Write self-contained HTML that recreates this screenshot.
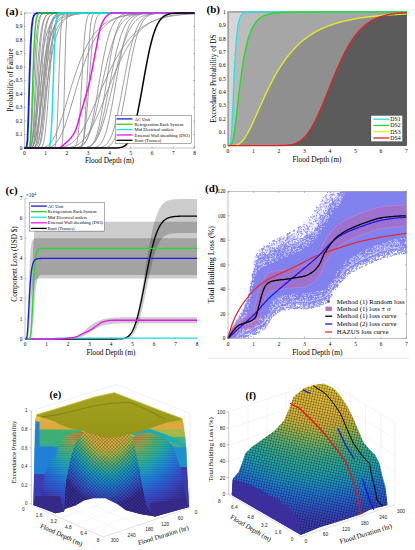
<!DOCTYPE html>
<html><head><meta charset="utf-8"><style>
html,body{margin:0;padding:0;background:#fff;overflow:hidden;width:415px;height:550px;}
svg{display:block;}
</style></head><body>
<svg width="415" height="550" viewBox="0 0 415 550">
<rect width="415" height="550" fill="#fff"/>
<rect x='24.3' y='13.0' width='170.4' height='135' fill='#fff' stroke='#9a9a9a' stroke-width='0.6'/>
<line x1='24.3' y1='148.0' x2='24.3' y2='146.4' stroke='#777' stroke-width='0.5'/>
<line x1='24.3' y1='13.0' x2='24.3' y2='14.6' stroke='#777' stroke-width='0.5'/>
<text x='24.3' y='155' font-size='5.3' text-anchor='middle' font-family='Liberation Serif' fill='#000' >0</text>
<line x1='45.6' y1='148.0' x2='45.6' y2='146.4' stroke='#777' stroke-width='0.5'/>
<line x1='45.6' y1='13.0' x2='45.6' y2='14.6' stroke='#777' stroke-width='0.5'/>
<text x='45.6' y='155' font-size='5.3' text-anchor='middle' font-family='Liberation Serif' fill='#000' >1</text>
<line x1='66.9' y1='148.0' x2='66.9' y2='146.4' stroke='#777' stroke-width='0.5'/>
<line x1='66.9' y1='13.0' x2='66.9' y2='14.6' stroke='#777' stroke-width='0.5'/>
<text x='66.9' y='155' font-size='5.3' text-anchor='middle' font-family='Liberation Serif' fill='#000' >2</text>
<line x1='88.2' y1='148.0' x2='88.2' y2='146.4' stroke='#777' stroke-width='0.5'/>
<line x1='88.2' y1='13.0' x2='88.2' y2='14.6' stroke='#777' stroke-width='0.5'/>
<text x='88.2' y='155' font-size='5.3' text-anchor='middle' font-family='Liberation Serif' fill='#000' >3</text>
<line x1='109.5' y1='148.0' x2='109.5' y2='146.4' stroke='#777' stroke-width='0.5'/>
<line x1='109.5' y1='13.0' x2='109.5' y2='14.6' stroke='#777' stroke-width='0.5'/>
<text x='109.5' y='155' font-size='5.3' text-anchor='middle' font-family='Liberation Serif' fill='#000' >4</text>
<line x1='130.8' y1='148.0' x2='130.8' y2='146.4' stroke='#777' stroke-width='0.5'/>
<line x1='130.8' y1='13.0' x2='130.8' y2='14.6' stroke='#777' stroke-width='0.5'/>
<text x='130.8' y='155' font-size='5.3' text-anchor='middle' font-family='Liberation Serif' fill='#000' >5</text>
<line x1='152.1' y1='148.0' x2='152.1' y2='146.4' stroke='#777' stroke-width='0.5'/>
<line x1='152.1' y1='13.0' x2='152.1' y2='14.6' stroke='#777' stroke-width='0.5'/>
<text x='152.1' y='155' font-size='5.3' text-anchor='middle' font-family='Liberation Serif' fill='#000' >6</text>
<line x1='173.4' y1='148.0' x2='173.4' y2='146.4' stroke='#777' stroke-width='0.5'/>
<line x1='173.4' y1='13.0' x2='173.4' y2='14.6' stroke='#777' stroke-width='0.5'/>
<text x='173.4' y='155' font-size='5.3' text-anchor='middle' font-family='Liberation Serif' fill='#000' >7</text>
<line x1='194.7' y1='148.0' x2='194.7' y2='146.4' stroke='#777' stroke-width='0.5'/>
<line x1='194.7' y1='13.0' x2='194.7' y2='14.6' stroke='#777' stroke-width='0.5'/>
<text x='194.7' y='155' font-size='5.3' text-anchor='middle' font-family='Liberation Serif' fill='#000' >8</text>
<line x1='24.3' y1='148' x2='25.900000000000002' y2='148' stroke='#777' stroke-width='0.5'/>
<line x1='194.7' y1='148' x2='193.1' y2='148' stroke='#777' stroke-width='0.5'/>
<text x='22.3' y='149.8' font-size='5.3' text-anchor='end' font-family='Liberation Serif' fill='#000' >0</text>
<line x1='24.3' y1='134.5' x2='25.900000000000002' y2='134.5' stroke='#777' stroke-width='0.5'/>
<line x1='194.7' y1='134.5' x2='193.1' y2='134.5' stroke='#777' stroke-width='0.5'/>
<text x='22.3' y='136.3' font-size='5.3' text-anchor='end' font-family='Liberation Serif' fill='#000' >0.1</text>
<line x1='24.3' y1='121' x2='25.900000000000002' y2='121' stroke='#777' stroke-width='0.5'/>
<line x1='194.7' y1='121' x2='193.1' y2='121' stroke='#777' stroke-width='0.5'/>
<text x='22.3' y='122.8' font-size='5.3' text-anchor='end' font-family='Liberation Serif' fill='#000' >0.2</text>
<line x1='24.3' y1='107.5' x2='25.900000000000002' y2='107.5' stroke='#777' stroke-width='0.5'/>
<line x1='194.7' y1='107.5' x2='193.1' y2='107.5' stroke='#777' stroke-width='0.5'/>
<text x='22.3' y='109.3' font-size='5.3' text-anchor='end' font-family='Liberation Serif' fill='#000' >0.3</text>
<line x1='24.3' y1='94' x2='25.900000000000002' y2='94' stroke='#777' stroke-width='0.5'/>
<line x1='194.7' y1='94' x2='193.1' y2='94' stroke='#777' stroke-width='0.5'/>
<text x='22.3' y='95.8' font-size='5.3' text-anchor='end' font-family='Liberation Serif' fill='#000' >0.4</text>
<line x1='24.3' y1='80.5' x2='25.900000000000002' y2='80.5' stroke='#777' stroke-width='0.5'/>
<line x1='194.7' y1='80.5' x2='193.1' y2='80.5' stroke='#777' stroke-width='0.5'/>
<text x='22.3' y='82.3' font-size='5.3' text-anchor='end' font-family='Liberation Serif' fill='#000' >0.5</text>
<line x1='24.3' y1='67' x2='25.900000000000002' y2='67' stroke='#777' stroke-width='0.5'/>
<line x1='194.7' y1='67' x2='193.1' y2='67' stroke='#777' stroke-width='0.5'/>
<text x='22.3' y='68.8' font-size='5.3' text-anchor='end' font-family='Liberation Serif' fill='#000' >0.6</text>
<line x1='24.3' y1='53.5' x2='25.900000000000002' y2='53.5' stroke='#777' stroke-width='0.5'/>
<line x1='194.7' y1='53.5' x2='193.1' y2='53.5' stroke='#777' stroke-width='0.5'/>
<text x='22.3' y='55.3' font-size='5.3' text-anchor='end' font-family='Liberation Serif' fill='#000' >0.7</text>
<line x1='24.3' y1='40' x2='25.900000000000002' y2='40' stroke='#777' stroke-width='0.5'/>
<line x1='194.7' y1='40' x2='193.1' y2='40' stroke='#777' stroke-width='0.5'/>
<text x='22.3' y='41.8' font-size='5.3' text-anchor='end' font-family='Liberation Serif' fill='#000' >0.8</text>
<line x1='24.3' y1='26.5' x2='25.900000000000002' y2='26.5' stroke='#777' stroke-width='0.5'/>
<line x1='194.7' y1='26.5' x2='193.1' y2='26.5' stroke='#777' stroke-width='0.5'/>
<text x='22.3' y='28.3' font-size='5.3' text-anchor='end' font-family='Liberation Serif' fill='#000' >0.9</text>
<line x1='24.3' y1='13' x2='25.900000000000002' y2='13' stroke='#777' stroke-width='0.5'/>
<line x1='194.7' y1='13' x2='193.1' y2='13' stroke='#777' stroke-width='0.5'/>
<text x='22.3' y='14.8' font-size='5.3' text-anchor='end' font-family='Liberation Serif' fill='#000' >1</text>
<polyline points='24.3,148 25.37,148 26.43,148 27.5,148 28.56,147.92 29.62,146.74 30.69,140.92 31.75,126.75 32.82,104.97 33.88,80.5 34.95,58.46 36.02,41.5 37.08,29.86 38.14,22.54 39.21,18.21 40.27,15.77 41.34,14.44 42.41,13.74 43.47,13.38 44.53,13.19 45.6,13.09 46.66,13.05 47.73,13.02 48.79,13.01 49.86,13.01 50.92,13 51.99,13 53.05,13 54.12,13 55.18,13 56.25,13 57.31,13 58.38,13 59.44,13 60.51,13 61.57,13 62.64,13 63.7,13 64.77,13 65.83,13 66.9,13 67.96,13 69.03,13 70.09,13 71.16,13 72.22,13 73.29,13 74.35,13 75.42,13 76.48,13 77.55,13 78.61,13 79.68,13 80.74,13 81.81,13 82.87,13 83.94,13 85,13 86.07,13 87.13,13 88.2,13 89.26,13 90.33,13 91.39,13 92.46,13 93.52,13 94.59,13 95.65,13 96.72,13 97.78,13 98.85,13 99.91,13 100.98,13 102.04,13 103.11,13 104.17,13 105.24,13 106.3,13 107.37,13 108.43,13 109.5,13 110.56,13 111.63,13 112.69,13 113.76,13 114.82,13 115.89,13 116.95,13 118.02,13 119.08,13 120.15,13 121.21,13 122.28,13 123.34,13 124.41,13 125.47,13 126.54,13 127.6,13 128.67,13 129.73,13 130.8,13 131.86,13 132.93,13 134,13 135.06,13 136.12,13 137.19,13 138.25,13 139.32,13 140.38,13 141.45,13 142.51,13 143.58,13 144.64,13 145.71,13 146.77,13 147.84,13 148.9,13 149.97,13 151.03,13 152.1,13 153.16,13 154.23,13 155.29,13 156.36,13 157.42,13 158.49,13 159.55,13 160.62,13 161.69,13 162.75,13 163.81,13 164.88,13 165.94,13 167.01,13 168.07,13 169.14,13 170.2,13 171.27,13 172.34,13 173.4,13 174.46,13 175.53,13 176.59,13 177.66,13 178.72,13 179.79,13 180.85,13 181.92,13 182.98,13 184.05,13 185.11,13 186.18,13 187.25,13 188.31,13 189.38,13 190.44,13 191.5,13 192.57,13 193.63,13 194.7,13' fill='none' stroke='#8e8e8e' stroke-width='0.85' stroke-linejoin='round'/>
<polyline points='24.3,148 25.37,148 26.43,148 27.5,148 28.56,148 29.62,147.98 30.69,147.6 31.75,144.78 32.82,135.2 33.88,116.29 34.95,90.99 36.02,65.59 37.08,45.02 38.14,30.86 39.21,22.26 40.27,17.53 41.34,15.11 42.41,13.95 43.47,13.41 44.53,13.17 45.6,13.07 46.66,13.03 47.73,13.01 48.79,13 49.86,13 50.92,13 51.99,13 53.05,13 54.12,13 55.18,13 56.25,13 57.31,13 58.38,13 59.44,13 60.51,13 61.57,13 62.64,13 63.7,13 64.77,13 65.83,13 66.9,13 67.96,13 69.03,13 70.09,13 71.16,13 72.22,13 73.29,13 74.35,13 75.42,13 76.48,13 77.55,13 78.61,13 79.68,13 80.74,13 81.81,13 82.87,13 83.94,13 85,13 86.07,13 87.13,13 88.2,13 89.26,13 90.33,13 91.39,13 92.46,13 93.52,13 94.59,13 95.65,13 96.72,13 97.78,13 98.85,13 99.91,13 100.98,13 102.04,13 103.11,13 104.17,13 105.24,13 106.3,13 107.37,13 108.43,13 109.5,13 110.56,13 111.63,13 112.69,13 113.76,13 114.82,13 115.89,13 116.95,13 118.02,13 119.08,13 120.15,13 121.21,13 122.28,13 123.34,13 124.41,13 125.47,13 126.54,13 127.6,13 128.67,13 129.73,13 130.8,13 131.86,13 132.93,13 134,13 135.06,13 136.12,13 137.19,13 138.25,13 139.32,13 140.38,13 141.45,13 142.51,13 143.58,13 144.64,13 145.71,13 146.77,13 147.84,13 148.9,13 149.97,13 151.03,13 152.1,13 153.16,13 154.23,13 155.29,13 156.36,13 157.42,13 158.49,13 159.55,13 160.62,13 161.69,13 162.75,13 163.81,13 164.88,13 165.94,13 167.01,13 168.07,13 169.14,13 170.2,13 171.27,13 172.34,13 173.4,13 174.46,13 175.53,13 176.59,13 177.66,13 178.72,13 179.79,13 180.85,13 181.92,13 182.98,13 184.05,13 185.11,13 186.18,13 187.25,13 188.31,13 189.38,13 190.44,13 191.5,13 192.57,13 193.63,13 194.7,13' fill='none' stroke='#8e8e8e' stroke-width='0.85' stroke-linejoin='round'/>
<polyline points='24.3,148 25.37,148 26.43,148 27.5,148 28.56,147.99 29.62,147.82 30.69,146.75 31.75,143.19 32.82,135.55 33.88,123.38 34.95,107.77 36.02,90.65 37.08,74 38.14,59.17 39.21,46.87 40.27,37.21 41.34,29.93 42.41,24.63 43.47,20.87 44.53,18.27 45.6,16.49 46.66,15.3 47.73,14.5 48.79,13.98 49.86,13.64 50.92,13.41 51.99,13.27 53.05,13.17 54.12,13.11 55.18,13.07 56.25,13.05 57.31,13.03 58.38,13.02 59.44,13.01 60.51,13.01 61.57,13.01 62.64,13 63.7,13 64.77,13 65.83,13 66.9,13 67.96,13 69.03,13 70.09,13 71.16,13 72.22,13 73.29,13 74.35,13 75.42,13 76.48,13 77.55,13 78.61,13 79.68,13 80.74,13 81.81,13 82.87,13 83.94,13 85,13 86.07,13 87.13,13 88.2,13 89.26,13 90.33,13 91.39,13 92.46,13 93.52,13 94.59,13 95.65,13 96.72,13 97.78,13 98.85,13 99.91,13 100.98,13 102.04,13 103.11,13 104.17,13 105.24,13 106.3,13 107.37,13 108.43,13 109.5,13 110.56,13 111.63,13 112.69,13 113.76,13 114.82,13 115.89,13 116.95,13 118.02,13 119.08,13 120.15,13 121.21,13 122.28,13 123.34,13 124.41,13 125.47,13 126.54,13 127.6,13 128.67,13 129.73,13 130.8,13 131.86,13 132.93,13 134,13 135.06,13 136.12,13 137.19,13 138.25,13 139.32,13 140.38,13 141.45,13 142.51,13 143.58,13 144.64,13 145.71,13 146.77,13 147.84,13 148.9,13 149.97,13 151.03,13 152.1,13 153.16,13 154.23,13 155.29,13 156.36,13 157.42,13 158.49,13 159.55,13 160.62,13 161.69,13 162.75,13 163.81,13 164.88,13 165.94,13 167.01,13 168.07,13 169.14,13 170.2,13 171.27,13 172.34,13 173.4,13 174.46,13 175.53,13 176.59,13 177.66,13 178.72,13 179.79,13 180.85,13 181.92,13 182.98,13 184.05,13 185.11,13 186.18,13 187.25,13 188.31,13 189.38,13 190.44,13 191.5,13 192.57,13 193.63,13 194.7,13' fill='none' stroke='#8e8e8e' stroke-width='0.85' stroke-linejoin='round'/>
<polyline points='24.3,148 25.37,148 26.43,148 27.5,148 28.56,148 29.62,148 30.69,147.97 31.75,147.67 32.82,146.16 33.88,141.61 34.95,132.27 36.02,117.78 37.08,99.67 38.14,80.5 39.21,62.7 40.27,47.79 41.34,36.31 42.41,28.03 43.47,22.39 44.53,18.71 45.6,16.39 46.66,14.98 47.73,14.13 48.79,13.64 49.86,13.36 50.92,13.2 51.99,13.11 53.05,13.06 54.12,13.03 55.18,13.02 56.25,13.01 57.31,13.01 58.38,13 59.44,13 60.51,13 61.57,13 62.64,13 63.7,13 64.77,13 65.83,13 66.9,13 67.96,13 69.03,13 70.09,13 71.16,13 72.22,13 73.29,13 74.35,13 75.42,13 76.48,13 77.55,13 78.61,13 79.68,13 80.74,13 81.81,13 82.87,13 83.94,13 85,13 86.07,13 87.13,13 88.2,13 89.26,13 90.33,13 91.39,13 92.46,13 93.52,13 94.59,13 95.65,13 96.72,13 97.78,13 98.85,13 99.91,13 100.98,13 102.04,13 103.11,13 104.17,13 105.24,13 106.3,13 107.37,13 108.43,13 109.5,13 110.56,13 111.63,13 112.69,13 113.76,13 114.82,13 115.89,13 116.95,13 118.02,13 119.08,13 120.15,13 121.21,13 122.28,13 123.34,13 124.41,13 125.47,13 126.54,13 127.6,13 128.67,13 129.73,13 130.8,13 131.86,13 132.93,13 134,13 135.06,13 136.12,13 137.19,13 138.25,13 139.32,13 140.38,13 141.45,13 142.51,13 143.58,13 144.64,13 145.71,13 146.77,13 147.84,13 148.9,13 149.97,13 151.03,13 152.1,13 153.16,13 154.23,13 155.29,13 156.36,13 157.42,13 158.49,13 159.55,13 160.62,13 161.69,13 162.75,13 163.81,13 164.88,13 165.94,13 167.01,13 168.07,13 169.14,13 170.2,13 171.27,13 172.34,13 173.4,13 174.46,13 175.53,13 176.59,13 177.66,13 178.72,13 179.79,13 180.85,13 181.92,13 182.98,13 184.05,13 185.11,13 186.18,13 187.25,13 188.31,13 189.38,13 190.44,13 191.5,13 192.57,13 193.63,13 194.7,13' fill='none' stroke='#8e8e8e' stroke-width='0.85' stroke-linejoin='round'/>
<polyline points='24.3,148 25.37,148 26.43,148 27.5,148 28.56,148 29.62,148 30.69,147.97 31.75,147.74 32.82,146.74 33.88,143.94 34.95,138.23 36.02,129.01 37.08,116.56 38.14,101.93 39.21,86.56 40.27,71.74 41.34,58.46 42.41,47.2 43.47,38.12 44.53,31.06 45.6,25.75 46.66,21.86 47.73,19.08 48.79,17.12 49.86,15.77 50.92,14.85 51.99,14.22 53.05,13.8 54.12,13.53 55.18,13.34 56.25,13.22 57.31,13.15 58.38,13.09 59.44,13.06 60.51,13.04 61.57,13.03 62.64,13.02 63.7,13.01 64.77,13.01 65.83,13 66.9,13 67.96,13 69.03,13 70.09,13 71.16,13 72.22,13 73.29,13 74.35,13 75.42,13 76.48,13 77.55,13 78.61,13 79.68,13 80.74,13 81.81,13 82.87,13 83.94,13 85,13 86.07,13 87.13,13 88.2,13 89.26,13 90.33,13 91.39,13 92.46,13 93.52,13 94.59,13 95.65,13 96.72,13 97.78,13 98.85,13 99.91,13 100.98,13 102.04,13 103.11,13 104.17,13 105.24,13 106.3,13 107.37,13 108.43,13 109.5,13 110.56,13 111.63,13 112.69,13 113.76,13 114.82,13 115.89,13 116.95,13 118.02,13 119.08,13 120.15,13 121.21,13 122.28,13 123.34,13 124.41,13 125.47,13 126.54,13 127.6,13 128.67,13 129.73,13 130.8,13 131.86,13 132.93,13 134,13 135.06,13 136.12,13 137.19,13 138.25,13 139.32,13 140.38,13 141.45,13 142.51,13 143.58,13 144.64,13 145.71,13 146.77,13 147.84,13 148.9,13 149.97,13 151.03,13 152.1,13 153.16,13 154.23,13 155.29,13 156.36,13 157.42,13 158.49,13 159.55,13 160.62,13 161.69,13 162.75,13 163.81,13 164.88,13 165.94,13 167.01,13 168.07,13 169.14,13 170.2,13 171.27,13 172.34,13 173.4,13 174.46,13 175.53,13 176.59,13 177.66,13 178.72,13 179.79,13 180.85,13 181.92,13 182.98,13 184.05,13 185.11,13 186.18,13 187.25,13 188.31,13 189.38,13 190.44,13 191.5,13 192.57,13 193.63,13 194.7,13' fill='none' stroke='#8e8e8e' stroke-width='0.85' stroke-linejoin='round'/>
<polyline points='24.3,148 25.37,148 26.43,148 27.5,148 28.56,148 29.62,148 30.69,148 31.75,148 32.82,147.96 33.88,147.73 34.95,146.73 36.02,143.88 37.08,137.85 38.14,127.81 39.21,113.96 40.27,97.58 41.34,80.5 42.41,64.42 43.47,50.52 44.53,39.34 45.6,30.86 46.66,24.74 47.73,20.51 48.79,17.7 49.86,15.88 50.92,14.73 51.99,14.03 53.05,13.6 54.12,13.35 55.18,13.2 56.25,13.11 57.31,13.06 58.38,13.04 59.44,13.02 60.51,13.01 61.57,13.01 62.64,13 63.7,13 64.77,13 65.83,13 66.9,13 67.96,13 69.03,13 70.09,13 71.16,13 72.22,13 73.29,13 74.35,13 75.42,13 76.48,13 77.55,13 78.61,13 79.68,13 80.74,13 81.81,13 82.87,13 83.94,13 85,13 86.07,13 87.13,13 88.2,13 89.26,13 90.33,13 91.39,13 92.46,13 93.52,13 94.59,13 95.65,13 96.72,13 97.78,13 98.85,13 99.91,13 100.98,13 102.04,13 103.11,13 104.17,13 105.24,13 106.3,13 107.37,13 108.43,13 109.5,13 110.56,13 111.63,13 112.69,13 113.76,13 114.82,13 115.89,13 116.95,13 118.02,13 119.08,13 120.15,13 121.21,13 122.28,13 123.34,13 124.41,13 125.47,13 126.54,13 127.6,13 128.67,13 129.73,13 130.8,13 131.86,13 132.93,13 134,13 135.06,13 136.12,13 137.19,13 138.25,13 139.32,13 140.38,13 141.45,13 142.51,13 143.58,13 144.64,13 145.71,13 146.77,13 147.84,13 148.9,13 149.97,13 151.03,13 152.1,13 153.16,13 154.23,13 155.29,13 156.36,13 157.42,13 158.49,13 159.55,13 160.62,13 161.69,13 162.75,13 163.81,13 164.88,13 165.94,13 167.01,13 168.07,13 169.14,13 170.2,13 171.27,13 172.34,13 173.4,13 174.46,13 175.53,13 176.59,13 177.66,13 178.72,13 179.79,13 180.85,13 181.92,13 182.98,13 184.05,13 185.11,13 186.18,13 187.25,13 188.31,13 189.38,13 190.44,13 191.5,13 192.57,13 193.63,13 194.7,13' fill='none' stroke='#8e8e8e' stroke-width='0.85' stroke-linejoin='round'/>
<polyline points='24.3,148 25.37,148 26.43,148 27.5,148 28.56,148 29.62,148 30.69,148 31.75,147.99 32.82,147.93 33.88,147.65 34.95,146.75 36.02,144.61 37.08,140.54 38.14,134.04 39.21,125.03 40.27,113.89 41.34,101.34 42.41,88.26 43.47,75.46 44.53,63.61 45.6,53.11 46.66,44.17 47.73,36.79 48.79,30.88 49.86,26.25 50.92,22.7 51.99,20.02 53.05,18.03 54.12,16.58 55.18,15.53 56.25,14.77 57.31,14.24 58.38,13.86 59.44,13.59 60.51,13.41 61.57,13.28 62.64,13.19 63.7,13.13 64.77,13.09 65.83,13.06 66.9,13.04 67.96,13.03 69.03,13.02 70.09,13.01 71.16,13.01 72.22,13.01 73.29,13 74.35,13 75.42,13 76.48,13 77.55,13 78.61,13 79.68,13 80.74,13 81.81,13 82.87,13 83.94,13 85,13 86.07,13 87.13,13 88.2,13 89.26,13 90.33,13 91.39,13 92.46,13 93.52,13 94.59,13 95.65,13 96.72,13 97.78,13 98.85,13 99.91,13 100.98,13 102.04,13 103.11,13 104.17,13 105.24,13 106.3,13 107.37,13 108.43,13 109.5,13 110.56,13 111.63,13 112.69,13 113.76,13 114.82,13 115.89,13 116.95,13 118.02,13 119.08,13 120.15,13 121.21,13 122.28,13 123.34,13 124.41,13 125.47,13 126.54,13 127.6,13 128.67,13 129.73,13 130.8,13 131.86,13 132.93,13 134,13 135.06,13 136.12,13 137.19,13 138.25,13 139.32,13 140.38,13 141.45,13 142.51,13 143.58,13 144.64,13 145.71,13 146.77,13 147.84,13 148.9,13 149.97,13 151.03,13 152.1,13 153.16,13 154.23,13 155.29,13 156.36,13 157.42,13 158.49,13 159.55,13 160.62,13 161.69,13 162.75,13 163.81,13 164.88,13 165.94,13 167.01,13 168.07,13 169.14,13 170.2,13 171.27,13 172.34,13 173.4,13 174.46,13 175.53,13 176.59,13 177.66,13 178.72,13 179.79,13 180.85,13 181.92,13 182.98,13 184.05,13 185.11,13 186.18,13 187.25,13 188.31,13 189.38,13 190.44,13 191.5,13 192.57,13 193.63,13 194.7,13' fill='none' stroke='#8e8e8e' stroke-width='0.85' stroke-linejoin='round'/>
<polyline points='24.3,148 25.37,148 26.43,148 27.5,148 28.56,148 29.62,148 30.69,148 31.75,148 32.82,148 33.88,147.99 34.95,147.91 36.02,147.58 37.08,146.54 38.14,144.1 39.21,139.44 40.27,131.99 41.34,121.66 42.41,108.98 43.47,94.88 44.53,80.5 45.6,66.84 46.66,54.63 47.73,44.29 48.79,35.91 49.86,29.39 50.92,24.48 51.99,20.88 53.05,18.33 54.12,16.55 55.18,15.33 56.25,14.51 57.31,13.97 58.38,13.62 59.44,13.39 60.51,13.24 61.57,13.15 62.64,13.09 63.7,13.06 64.77,13.04 65.83,13.02 66.9,13.01 67.96,13.01 69.03,13 70.09,13 71.16,13 72.22,13 73.29,13 74.35,13 75.42,13 76.48,13 77.55,13 78.61,13 79.68,13 80.74,13 81.81,13 82.87,13 83.94,13 85,13 86.07,13 87.13,13 88.2,13 89.26,13 90.33,13 91.39,13 92.46,13 93.52,13 94.59,13 95.65,13 96.72,13 97.78,13 98.85,13 99.91,13 100.98,13 102.04,13 103.11,13 104.17,13 105.24,13 106.3,13 107.37,13 108.43,13 109.5,13 110.56,13 111.63,13 112.69,13 113.76,13 114.82,13 115.89,13 116.95,13 118.02,13 119.08,13 120.15,13 121.21,13 122.28,13 123.34,13 124.41,13 125.47,13 126.54,13 127.6,13 128.67,13 129.73,13 130.8,13 131.86,13 132.93,13 134,13 135.06,13 136.12,13 137.19,13 138.25,13 139.32,13 140.38,13 141.45,13 142.51,13 143.58,13 144.64,13 145.71,13 146.77,13 147.84,13 148.9,13 149.97,13 151.03,13 152.1,13 153.16,13 154.23,13 155.29,13 156.36,13 157.42,13 158.49,13 159.55,13 160.62,13 161.69,13 162.75,13 163.81,13 164.88,13 165.94,13 167.01,13 168.07,13 169.14,13 170.2,13 171.27,13 172.34,13 173.4,13 174.46,13 175.53,13 176.59,13 177.66,13 178.72,13 179.79,13 180.85,13 181.92,13 182.98,13 184.05,13 185.11,13 186.18,13 187.25,13 188.31,13 189.38,13 190.44,13 191.5,13 192.57,13 193.63,13 194.7,13' fill='none' stroke='#8e8e8e' stroke-width='0.85' stroke-linejoin='round'/>
<polyline points='24.3,148 25.37,148 26.43,148 27.5,148 28.56,148 29.62,148 30.69,148 31.75,148 32.82,148 33.88,148 34.95,147.99 36.02,147.96 37.08,147.78 38.14,147.17 39.21,145.54 40.27,142.09 41.34,136.04 42.41,127 43.47,115.14 44.53,101.23 45.6,86.41 46.66,71.86 47.73,58.55 48.79,47.1 49.86,37.74 50.92,30.46 51.99,25 53.05,21.06 54.12,18.3 55.18,16.42 56.25,15.17 57.31,14.36 58.38,13.84 59.44,13.51 60.51,13.31 61.57,13.18 62.64,13.11 63.7,13.06 64.77,13.04 65.83,13.02 66.9,13.01 67.96,13.01 69.03,13 70.09,13 71.16,13 72.22,13 73.29,13 74.35,13 75.42,13 76.48,13 77.55,13 78.61,13 79.68,13 80.74,13 81.81,13 82.87,13 83.94,13 85,13 86.07,13 87.13,13 88.2,13 89.26,13 90.33,13 91.39,13 92.46,13 93.52,13 94.59,13 95.65,13 96.72,13 97.78,13 98.85,13 99.91,13 100.98,13 102.04,13 103.11,13 104.17,13 105.24,13 106.3,13 107.37,13 108.43,13 109.5,13 110.56,13 111.63,13 112.69,13 113.76,13 114.82,13 115.89,13 116.95,13 118.02,13 119.08,13 120.15,13 121.21,13 122.28,13 123.34,13 124.41,13 125.47,13 126.54,13 127.6,13 128.67,13 129.73,13 130.8,13 131.86,13 132.93,13 134,13 135.06,13 136.12,13 137.19,13 138.25,13 139.32,13 140.38,13 141.45,13 142.51,13 143.58,13 144.64,13 145.71,13 146.77,13 147.84,13 148.9,13 149.97,13 151.03,13 152.1,13 153.16,13 154.23,13 155.29,13 156.36,13 157.42,13 158.49,13 159.55,13 160.62,13 161.69,13 162.75,13 163.81,13 164.88,13 165.94,13 167.01,13 168.07,13 169.14,13 170.2,13 171.27,13 172.34,13 173.4,13 174.46,13 175.53,13 176.59,13 177.66,13 178.72,13 179.79,13 180.85,13 181.92,13 182.98,13 184.05,13 185.11,13 186.18,13 187.25,13 188.31,13 189.38,13 190.44,13 191.5,13 192.57,13 193.63,13 194.7,13' fill='none' stroke='#8e8e8e' stroke-width='0.85' stroke-linejoin='round'/>
<polyline points='24.3,148 25.37,148 26.43,148 27.5,148 28.56,148 29.62,148 30.69,148 31.75,148 32.82,148 33.88,148 34.95,147.99 36.02,147.96 37.08,147.84 38.14,147.42 39.21,146.39 40.27,144.25 41.34,140.49 42.41,134.68 43.47,126.69 44.53,116.71 45.6,105.23 46.66,92.92 47.73,80.5 48.79,68.63 49.86,57.79 50.92,48.28 51.99,40.24 53.05,33.64 54.12,28.38 55.18,24.29 56.25,21.16 57.31,18.83 58.38,17.12 59.44,15.88 60.51,14.99 61.57,14.37 62.64,13.93 63.7,13.63 64.77,13.42 65.83,13.28 66.9,13.19 67.96,13.13 69.03,13.08 70.09,13.05 71.16,13.04 72.22,13.02 73.29,13.02 74.35,13.01 75.42,13.01 76.48,13 77.55,13 78.61,13 79.68,13 80.74,13 81.81,13 82.87,13 83.94,13 85,13 86.07,13 87.13,13 88.2,13 89.26,13 90.33,13 91.39,13 92.46,13 93.52,13 94.59,13 95.65,13 96.72,13 97.78,13 98.85,13 99.91,13 100.98,13 102.04,13 103.11,13 104.17,13 105.24,13 106.3,13 107.37,13 108.43,13 109.5,13 110.56,13 111.63,13 112.69,13 113.76,13 114.82,13 115.89,13 116.95,13 118.02,13 119.08,13 120.15,13 121.21,13 122.28,13 123.34,13 124.41,13 125.47,13 126.54,13 127.6,13 128.67,13 129.73,13 130.8,13 131.86,13 132.93,13 134,13 135.06,13 136.12,13 137.19,13 138.25,13 139.32,13 140.38,13 141.45,13 142.51,13 143.58,13 144.64,13 145.71,13 146.77,13 147.84,13 148.9,13 149.97,13 151.03,13 152.1,13 153.16,13 154.23,13 155.29,13 156.36,13 157.42,13 158.49,13 159.55,13 160.62,13 161.69,13 162.75,13 163.81,13 164.88,13 165.94,13 167.01,13 168.07,13 169.14,13 170.2,13 171.27,13 172.34,13 173.4,13 174.46,13 175.53,13 176.59,13 177.66,13 178.72,13 179.79,13 180.85,13 181.92,13 182.98,13 184.05,13 185.11,13 186.18,13 187.25,13 188.31,13 189.38,13 190.44,13 191.5,13 192.57,13 193.63,13 194.7,13' fill='none' stroke='#8e8e8e' stroke-width='0.85' stroke-linejoin='round'/>
<polyline points='24.3,148 25.37,148 26.43,148 27.5,148 28.56,148 29.62,148 30.69,148 31.75,148 32.82,148 33.88,148 34.95,148 36.02,148 37.08,148 38.14,148 39.21,147.97 40.27,147.83 41.34,147.35 42.41,146.06 43.47,143.21 44.53,137.99 45.6,129.79 46.66,118.54 47.73,104.82 48.79,89.7 49.86,74.48 50.92,60.31 51.99,48 53.05,37.95 54.12,30.17 55.18,24.44 56.25,20.4 57.31,17.66 58.38,15.86 59.44,14.72 60.51,14.01 61.57,13.58 62.64,13.33 63.7,13.18 64.77,13.1 65.83,13.05 66.9,13.03 67.96,13.02 69.03,13.01 70.09,13 71.16,13 72.22,13 73.29,13 74.35,13 75.42,13 76.48,13 77.55,13 78.61,13 79.68,13 80.74,13 81.81,13 82.87,13 83.94,13 85,13 86.07,13 87.13,13 88.2,13 89.26,13 90.33,13 91.39,13 92.46,13 93.52,13 94.59,13 95.65,13 96.72,13 97.78,13 98.85,13 99.91,13 100.98,13 102.04,13 103.11,13 104.17,13 105.24,13 106.3,13 107.37,13 108.43,13 109.5,13 110.56,13 111.63,13 112.69,13 113.76,13 114.82,13 115.89,13 116.95,13 118.02,13 119.08,13 120.15,13 121.21,13 122.28,13 123.34,13 124.41,13 125.47,13 126.54,13 127.6,13 128.67,13 129.73,13 130.8,13 131.86,13 132.93,13 134,13 135.06,13 136.12,13 137.19,13 138.25,13 139.32,13 140.38,13 141.45,13 142.51,13 143.58,13 144.64,13 145.71,13 146.77,13 147.84,13 148.9,13 149.97,13 151.03,13 152.1,13 153.16,13 154.23,13 155.29,13 156.36,13 157.42,13 158.49,13 159.55,13 160.62,13 161.69,13 162.75,13 163.81,13 164.88,13 165.94,13 167.01,13 168.07,13 169.14,13 170.2,13 171.27,13 172.34,13 173.4,13 174.46,13 175.53,13 176.59,13 177.66,13 178.72,13 179.79,13 180.85,13 181.92,13 182.98,13 184.05,13 185.11,13 186.18,13 187.25,13 188.31,13 189.38,13 190.44,13 191.5,13 192.57,13 193.63,13 194.7,13' fill='none' stroke='#8e8e8e' stroke-width='0.85' stroke-linejoin='round'/>
<polyline points='24.3,148 25.37,148 26.43,148 27.5,147.99 28.56,147.88 29.62,147.32 30.69,145.69 31.75,142.39 32.82,137.08 33.88,129.82 34.95,120.98 36.02,111.11 37.08,100.75 38.14,90.42 39.21,80.5 40.27,71.26 41.34,62.85 42.41,55.35 43.47,48.76 44.53,43.05 45.6,38.15 46.66,33.98 47.73,30.45 48.79,27.48 49.86,25 50.92,22.93 51.99,21.22 53.05,19.79 54.12,18.61 55.18,17.64 56.25,16.83 57.31,16.16 58.38,15.62 59.44,15.16 60.51,14.79 61.57,14.48 62.64,14.23 63.7,14.02 64.77,13.85 65.83,13.7 66.9,13.59 67.96,13.49 69.03,13.41 70.09,13.34 71.16,13.28 72.22,13.24 73.29,13.2 74.35,13.17 75.42,13.14 76.48,13.12 77.55,13.1 78.61,13.08 79.68,13.07 80.74,13.06 81.81,13.05 82.87,13.04 83.94,13.04 85,13.03 86.07,13.03 87.13,13.02 88.2,13.02 89.26,13.02 90.33,13.01 91.39,13.01 92.46,13.01 93.52,13.01 94.59,13.01 95.65,13.01 96.72,13.01 97.78,13 98.85,13 99.91,13 100.98,13 102.04,13 103.11,13 104.17,13 105.24,13 106.3,13 107.37,13 108.43,13 109.5,13 110.56,13 111.63,13 112.69,13 113.76,13 114.82,13 115.89,13 116.95,13 118.02,13 119.08,13 120.15,13 121.21,13 122.28,13 123.34,13 124.41,13 125.47,13 126.54,13 127.6,13 128.67,13 129.73,13 130.8,13 131.86,13 132.93,13 134,13 135.06,13 136.12,13 137.19,13 138.25,13 139.32,13 140.38,13 141.45,13 142.51,13 143.58,13 144.64,13 145.71,13 146.77,13 147.84,13 148.9,13 149.97,13 151.03,13 152.1,13 153.16,13 154.23,13 155.29,13 156.36,13 157.42,13 158.49,13 159.55,13 160.62,13 161.69,13 162.75,13 163.81,13 164.88,13 165.94,13 167.01,13 168.07,13 169.14,13 170.2,13 171.27,13 172.34,13 173.4,13 174.46,13 175.53,13 176.59,13 177.66,13 178.72,13 179.79,13 180.85,13 181.92,13 182.98,13 184.05,13 185.11,13 186.18,13 187.25,13 188.31,13 189.38,13 190.44,13 191.5,13 192.57,13 193.63,13 194.7,13' fill='none' stroke='#8e8e8e' stroke-width='0.85' stroke-linejoin='round'/>
<polyline points='24.3,148 25.37,148 26.43,148 27.5,148 28.56,148 29.62,147.98 30.69,147.89 31.75,147.53 32.82,146.62 33.88,144.78 34.95,141.72 36.02,137.24 37.08,131.35 38.14,124.21 39.21,116.09 40.27,107.34 41.34,98.29 42.41,89.26 43.47,80.5 44.53,72.21 45.6,64.53 46.66,57.52 47.73,51.23 48.79,45.65 49.86,40.75 50.92,36.49 51.99,32.81 53.05,29.65 54.12,26.96 55.18,24.68 56.25,22.75 57.31,21.13 58.38,19.76 59.44,18.62 60.51,17.67 61.57,16.88 62.64,16.22 63.7,15.67 64.77,15.21 65.83,14.83 66.9,14.52 67.96,14.26 69.03,14.05 70.09,13.87 71.16,13.72 72.22,13.6 73.29,13.5 74.35,13.41 75.42,13.34 76.48,13.28 77.55,13.24 78.61,13.2 79.68,13.16 80.74,13.14 81.81,13.11 82.87,13.1 83.94,13.08 85,13.07 86.07,13.06 87.13,13.05 88.2,13.04 89.26,13.03 90.33,13.03 91.39,13.02 92.46,13.02 93.52,13.02 94.59,13.01 95.65,13.01 96.72,13.01 97.78,13.01 98.85,13.01 99.91,13.01 100.98,13.01 102.04,13 103.11,13 104.17,13 105.24,13 106.3,13 107.37,13 108.43,13 109.5,13 110.56,13 111.63,13 112.69,13 113.76,13 114.82,13 115.89,13 116.95,13 118.02,13 119.08,13 120.15,13 121.21,13 122.28,13 123.34,13 124.41,13 125.47,13 126.54,13 127.6,13 128.67,13 129.73,13 130.8,13 131.86,13 132.93,13 134,13 135.06,13 136.12,13 137.19,13 138.25,13 139.32,13 140.38,13 141.45,13 142.51,13 143.58,13 144.64,13 145.71,13 146.77,13 147.84,13 148.9,13 149.97,13 151.03,13 152.1,13 153.16,13 154.23,13 155.29,13 156.36,13 157.42,13 158.49,13 159.55,13 160.62,13 161.69,13 162.75,13 163.81,13 164.88,13 165.94,13 167.01,13 168.07,13 169.14,13 170.2,13 171.27,13 172.34,13 173.4,13 174.46,13 175.53,13 176.59,13 177.66,13 178.72,13 179.79,13 180.85,13 181.92,13 182.98,13 184.05,13 185.11,13 186.18,13 187.25,13 188.31,13 189.38,13 190.44,13 191.5,13 192.57,13 193.63,13 194.7,13' fill='none' stroke='#8e8e8e' stroke-width='0.85' stroke-linejoin='round'/>
<polyline points='24.3,148 25.37,148 26.43,148 27.5,147.99 28.56,147.86 29.62,147.34 30.69,146.02 31.75,143.53 32.82,139.67 33.88,134.43 34.95,128 36.02,120.66 37.08,112.72 38.14,104.5 39.21,96.25 40.27,88.2 41.34,80.5 42.41,73.27 43.47,66.56 44.53,60.42 45.6,54.85 46.66,49.83 47.73,45.34 48.79,41.35 49.86,37.81 50.92,34.69 51.99,31.94 53.05,29.53 54.12,27.42 55.18,25.58 56.25,23.96 57.31,22.56 58.38,21.33 59.44,20.27 60.51,19.34 61.57,18.53 62.64,17.83 63.7,17.22 64.77,16.68 65.83,16.22 66.9,15.82 67.96,15.47 69.03,15.16 70.09,14.89 71.16,14.66 72.22,14.46 73.29,14.28 74.35,14.12 75.42,13.99 76.48,13.87 77.55,13.77 78.61,13.67 79.68,13.59 80.74,13.53 81.81,13.46 82.87,13.41 83.94,13.36 85,13.32 86.07,13.28 87.13,13.25 88.2,13.22 89.26,13.2 90.33,13.18 91.39,13.16 92.46,13.14 93.52,13.12 94.59,13.11 95.65,13.1 96.72,13.09 97.78,13.08 98.85,13.07 99.91,13.06 100.98,13.06 102.04,13.05 103.11,13.04 104.17,13.04 105.24,13.04 106.3,13.03 107.37,13.03 108.43,13.03 109.5,13.02 110.56,13.02 111.63,13.02 112.69,13.02 113.76,13.02 114.82,13.01 115.89,13.01 116.95,13.01 118.02,13.01 119.08,13.01 120.15,13.01 121.21,13.01 122.28,13.01 123.34,13.01 124.41,13.01 125.47,13.01 126.54,13 127.6,13 128.67,13 129.73,13 130.8,13 131.86,13 132.93,13 134,13 135.06,13 136.12,13 137.19,13 138.25,13 139.32,13 140.38,13 141.45,13 142.51,13 143.58,13 144.64,13 145.71,13 146.77,13 147.84,13 148.9,13 149.97,13 151.03,13 152.1,13 153.16,13 154.23,13 155.29,13 156.36,13 157.42,13 158.49,13 159.55,13 160.62,13 161.69,13 162.75,13 163.81,13 164.88,13 165.94,13 167.01,13 168.07,13 169.14,13 170.2,13 171.27,13 172.34,13 173.4,13 174.46,13 175.53,13 176.59,13 177.66,13 178.72,13 179.79,13 180.85,13 181.92,13 182.98,13 184.05,13 185.11,13 186.18,13 187.25,13 188.31,13 189.38,13 190.44,13 191.5,13 192.57,13 193.63,13 194.7,13' fill='none' stroke='#8e8e8e' stroke-width='0.85' stroke-linejoin='round'/>
<polyline points='24.3,148 25.37,148 26.43,148 27.5,148 28.56,147.99 29.62,147.94 30.69,147.73 31.75,147.15 32.82,145.94 33.88,143.83 34.95,140.67 36.02,136.4 37.08,131.08 38.14,124.86 39.21,117.95 40.27,110.57 41.34,102.95 42.41,95.28 43.47,87.76 44.53,80.5 45.6,73.61 46.66,67.16 47.73,61.19 48.79,55.72 49.86,50.75 50.92,46.25 51.99,42.22 53.05,38.63 54.12,35.43 55.18,32.61 56.25,30.11 57.31,27.92 58.38,25.99 59.44,24.31 60.51,22.84 61.57,21.55 62.64,20.43 63.7,19.46 64.77,18.61 65.83,17.87 66.9,17.23 67.96,16.68 69.03,16.2 70.09,15.78 71.16,15.42 72.22,15.1 73.29,14.83 74.35,14.59 75.42,14.38 76.48,14.21 77.55,14.05 78.61,13.92 79.68,13.8 80.74,13.7 81.81,13.61 82.87,13.53 83.94,13.46 85,13.41 86.07,13.36 87.13,13.31 88.2,13.27 89.26,13.24 90.33,13.21 91.39,13.18 92.46,13.16 93.52,13.14 94.59,13.12 95.65,13.11 96.72,13.1 97.78,13.09 98.85,13.08 99.91,13.07 100.98,13.06 102.04,13.05 103.11,13.05 104.17,13.04 105.24,13.04 106.3,13.03 107.37,13.03 108.43,13.02 109.5,13.02 110.56,13.02 111.63,13.02 112.69,13.02 113.76,13.01 114.82,13.01 115.89,13.01 116.95,13.01 118.02,13.01 119.08,13.01 120.15,13.01 121.21,13.01 122.28,13.01 123.34,13 124.41,13 125.47,13 126.54,13 127.6,13 128.67,13 129.73,13 130.8,13 131.86,13 132.93,13 134,13 135.06,13 136.12,13 137.19,13 138.25,13 139.32,13 140.38,13 141.45,13 142.51,13 143.58,13 144.64,13 145.71,13 146.77,13 147.84,13 148.9,13 149.97,13 151.03,13 152.1,13 153.16,13 154.23,13 155.29,13 156.36,13 157.42,13 158.49,13 159.55,13 160.62,13 161.69,13 162.75,13 163.81,13 164.88,13 165.94,13 167.01,13 168.07,13 169.14,13 170.2,13 171.27,13 172.34,13 173.4,13 174.46,13 175.53,13 176.59,13 177.66,13 178.72,13 179.79,13 180.85,13 181.92,13 182.98,13 184.05,13 185.11,13 186.18,13 187.25,13 188.31,13 189.38,13 190.44,13 191.5,13 192.57,13 193.63,13 194.7,13' fill='none' stroke='#8e8e8e' stroke-width='0.85' stroke-linejoin='round'/>
<polyline points='24.3,148 25.37,148 26.43,148 27.5,148 28.56,148 29.62,148 30.69,147.99 31.75,147.96 32.82,147.85 33.88,147.54 34.95,146.86 36.02,145.59 37.08,143.53 38.14,140.52 39.21,136.47 40.27,131.41 41.34,125.42 42.41,118.66 43.47,111.34 44.53,103.66 45.6,95.84 46.66,88.07 47.73,80.5 48.79,73.27 49.86,66.46 50.92,60.15 51.99,54.36 53.05,49.1 54.12,44.38 55.18,40.17 56.25,36.44 57.31,33.16 58.38,30.29 59.44,27.8 60.51,25.63 61.57,23.76 62.64,22.15 63.7,20.77 64.77,19.59 65.83,18.59 66.9,17.73 67.96,17 69.03,16.38 70.09,15.85 71.16,15.41 72.22,15.03 73.29,14.72 74.35,14.45 75.42,14.22 76.48,14.03 77.55,13.87 78.61,13.73 79.68,13.62 80.74,13.52 81.81,13.44 82.87,13.37 83.94,13.31 85,13.26 86.07,13.22 87.13,13.19 88.2,13.16 89.26,13.13 90.33,13.11 91.39,13.1 92.46,13.08 93.52,13.07 94.59,13.06 95.65,13.05 96.72,13.04 97.78,13.04 98.85,13.03 99.91,13.03 100.98,13.02 102.04,13.02 103.11,13.02 104.17,13.01 105.24,13.01 106.3,13.01 107.37,13.01 108.43,13.01 109.5,13.01 110.56,13.01 111.63,13 112.69,13 113.76,13 114.82,13 115.89,13 116.95,13 118.02,13 119.08,13 120.15,13 121.21,13 122.28,13 123.34,13 124.41,13 125.47,13 126.54,13 127.6,13 128.67,13 129.73,13 130.8,13 131.86,13 132.93,13 134,13 135.06,13 136.12,13 137.19,13 138.25,13 139.32,13 140.38,13 141.45,13 142.51,13 143.58,13 144.64,13 145.71,13 146.77,13 147.84,13 148.9,13 149.97,13 151.03,13 152.1,13 153.16,13 154.23,13 155.29,13 156.36,13 157.42,13 158.49,13 159.55,13 160.62,13 161.69,13 162.75,13 163.81,13 164.88,13 165.94,13 167.01,13 168.07,13 169.14,13 170.2,13 171.27,13 172.34,13 173.4,13 174.46,13 175.53,13 176.59,13 177.66,13 178.72,13 179.79,13 180.85,13 181.92,13 182.98,13 184.05,13 185.11,13 186.18,13 187.25,13 188.31,13 189.38,13 190.44,13 191.5,13 192.57,13 193.63,13 194.7,13' fill='none' stroke='#8e8e8e' stroke-width='0.85' stroke-linejoin='round'/>
<polyline points='24.3,148 25.37,148 26.43,148 27.5,148 28.56,148 29.62,148 30.69,148 31.75,148 32.82,148 33.88,148 34.95,148 36.02,148 37.08,148 38.14,148 39.21,148 40.27,148 41.34,148 42.41,148 43.47,148 44.53,148 45.6,148 46.66,148 47.73,148 48.79,148 49.86,148 50.92,148 51.99,148 53.05,148 54.12,148 55.18,148 56.25,148 57.31,148 58.38,148 59.44,148 60.51,147.97 61.57,147.3 62.64,140.99 63.7,115.88 64.77,71.08 65.83,33.08 66.9,17.01 67.96,13.46 69.03,13.03 70.09,13 71.16,13 72.22,13 73.29,13 74.35,13 75.42,13 76.48,13 77.55,13 78.61,13 79.68,13 80.74,13 81.81,13 82.87,13 83.94,13 85,13 86.07,13 87.13,13 88.2,13 89.26,13 90.33,13 91.39,13 92.46,13 93.52,13 94.59,13 95.65,13 96.72,13 97.78,13 98.85,13 99.91,13 100.98,13 102.04,13 103.11,13 104.17,13 105.24,13 106.3,13 107.37,13 108.43,13 109.5,13 110.56,13 111.63,13 112.69,13 113.76,13 114.82,13 115.89,13 116.95,13 118.02,13 119.08,13 120.15,13 121.21,13 122.28,13 123.34,13 124.41,13 125.47,13 126.54,13 127.6,13 128.67,13 129.73,13 130.8,13 131.86,13 132.93,13 134,13 135.06,13 136.12,13 137.19,13 138.25,13 139.32,13 140.38,13 141.45,13 142.51,13 143.58,13 144.64,13 145.71,13 146.77,13 147.84,13 148.9,13 149.97,13 151.03,13 152.1,13 153.16,13 154.23,13 155.29,13 156.36,13 157.42,13 158.49,13 159.55,13 160.62,13 161.69,13 162.75,13 163.81,13 164.88,13 165.94,13 167.01,13 168.07,13 169.14,13 170.2,13 171.27,13 172.34,13 173.4,13 174.46,13 175.53,13 176.59,13 177.66,13 178.72,13 179.79,13 180.85,13 181.92,13 182.98,13 184.05,13 185.11,13 186.18,13 187.25,13 188.31,13 189.38,13 190.44,13 191.5,13 192.57,13 193.63,13 194.7,13' fill='none' stroke='#8e8e8e' stroke-width='0.85' stroke-linejoin='round'/>
<polyline points='24.3,148 25.37,148 26.43,148 27.5,148 28.56,148 29.62,148 30.69,148 31.75,148 32.82,148 33.88,148 34.95,148 36.02,148 37.08,148 38.14,148 39.21,148 40.27,148 41.34,148 42.41,148 43.47,148 44.53,148 45.6,148 46.66,148 47.73,148 48.79,148 49.86,148 50.92,148 51.99,148 53.05,147.98 54.12,147.76 55.18,146.2 56.25,139.65 57.31,122.55 58.38,93.74 59.44,61.17 60.51,35.61 61.57,21.28 62.64,15.37 63.7,13.54 64.77,13.1 65.83,13.01 66.9,13 67.96,13 69.03,13 70.09,13 71.16,13 72.22,13 73.29,13 74.35,13 75.42,13 76.48,13 77.55,13 78.61,13 79.68,13 80.74,13 81.81,13 82.87,13 83.94,13 85,13 86.07,13 87.13,13 88.2,13 89.26,13 90.33,13 91.39,13 92.46,13 93.52,13 94.59,13 95.65,13 96.72,13 97.78,13 98.85,13 99.91,13 100.98,13 102.04,13 103.11,13 104.17,13 105.24,13 106.3,13 107.37,13 108.43,13 109.5,13 110.56,13 111.63,13 112.69,13 113.76,13 114.82,13 115.89,13 116.95,13 118.02,13 119.08,13 120.15,13 121.21,13 122.28,13 123.34,13 124.41,13 125.47,13 126.54,13 127.6,13 128.67,13 129.73,13 130.8,13 131.86,13 132.93,13 134,13 135.06,13 136.12,13 137.19,13 138.25,13 139.32,13 140.38,13 141.45,13 142.51,13 143.58,13 144.64,13 145.71,13 146.77,13 147.84,13 148.9,13 149.97,13 151.03,13 152.1,13 153.16,13 154.23,13 155.29,13 156.36,13 157.42,13 158.49,13 159.55,13 160.62,13 161.69,13 162.75,13 163.81,13 164.88,13 165.94,13 167.01,13 168.07,13 169.14,13 170.2,13 171.27,13 172.34,13 173.4,13 174.46,13 175.53,13 176.59,13 177.66,13 178.72,13 179.79,13 180.85,13 181.92,13 182.98,13 184.05,13 185.11,13 186.18,13 187.25,13 188.31,13 189.38,13 190.44,13 191.5,13 192.57,13 193.63,13 194.7,13' fill='none' stroke='#8e8e8e' stroke-width='0.85' stroke-linejoin='round'/>
<polyline points='24.3,148 25.37,148 26.43,148 27.5,148 28.56,148 29.62,148 30.69,148 31.75,148 32.82,148 33.88,148 34.95,148 36.02,148 37.08,147.99 38.14,147.98 39.21,147.95 40.27,147.91 41.34,147.83 42.41,147.7 43.47,147.5 44.53,147.22 45.6,146.83 46.66,146.31 47.73,145.63 48.79,144.78 49.86,143.74 50.92,142.5 51.99,141.04 53.05,139.36 54.12,137.46 55.18,135.35 56.25,133.02 57.31,130.48 58.38,127.76 59.44,124.87 60.51,121.83 61.57,118.64 62.64,115.35 63.7,111.96 64.77,108.5 65.83,104.99 66.9,101.45 67.96,97.89 69.03,94.34 70.09,90.81 71.16,87.32 72.22,83.88 73.29,80.5 74.35,77.19 75.42,73.97 76.48,70.83 77.55,67.79 78.61,64.85 79.68,62.01 80.74,59.28 81.81,56.66 82.87,54.15 83.94,51.75 85,49.46 86.07,47.28 87.13,45.2 88.2,43.22 89.26,41.35 90.33,39.58 91.39,37.9 92.46,36.31 93.52,34.82 94.59,33.41 95.65,32.08 96.72,30.83 97.78,29.65 98.85,28.55 99.91,27.51 100.98,26.54 102.04,25.62 103.11,24.77 104.17,23.97 105.24,23.22 106.3,22.52 107.37,21.87 108.43,21.26 109.5,20.69 110.56,20.15 111.63,19.66 112.69,19.19 113.76,18.76 114.82,18.36 115.89,17.98 116.95,17.63 118.02,17.31 119.08,17.01 120.15,16.72 121.21,16.46 122.28,16.22 123.34,15.99 124.41,15.78 125.47,15.58 126.54,15.4 127.6,15.23 128.67,15.07 129.73,14.93 130.8,14.79 131.86,14.66 132.93,14.55 134,14.44 135.06,14.33 136.12,14.24 137.19,14.15 138.25,14.07 139.32,14 140.38,13.93 141.45,13.86 142.51,13.8 143.58,13.74 144.64,13.69 145.71,13.64 146.77,13.6 147.84,13.56 148.9,13.52 149.97,13.48 151.03,13.45 152.1,13.42 153.16,13.39 154.23,13.36 155.29,13.33 156.36,13.31 157.42,13.29 158.49,13.27 159.55,13.25 160.62,13.23 161.69,13.22 162.75,13.2 163.81,13.19 164.88,13.18 165.94,13.16 167.01,13.15 168.07,13.14 169.14,13.13 170.2,13.12 171.27,13.11 172.34,13.11 173.4,13.1 174.46,13.09 175.53,13.09 176.59,13.08 177.66,13.08 178.72,13.07 179.79,13.07 180.85,13.06 181.92,13.06 182.98,13.05 184.05,13.05 185.11,13.05 186.18,13.04 187.25,13.04 188.31,13.04 189.38,13.04 190.44,13.03 191.5,13.03 192.57,13.03 193.63,13.03 194.7,13.02' fill='none' stroke='#8e8e8e' stroke-width='0.85' stroke-linejoin='round'/>
<polyline points='24.3,148 25.37,148 26.43,148 27.5,148 28.56,148 29.62,148 30.69,148 31.75,148 32.82,148 33.88,148 34.95,148 36.02,148 37.08,148 38.14,148 39.21,148 40.27,148 41.34,147.99 42.41,147.98 43.47,147.97 44.53,147.93 45.6,147.88 46.66,147.79 47.73,147.66 48.79,147.46 49.86,147.19 50.92,146.82 51.99,146.33 53.05,145.7 54.12,144.92 55.18,143.96 56.25,142.81 57.31,141.45 58.38,139.88 59.44,138.09 60.51,136.08 61.57,133.86 62.64,131.42 63.7,128.78 64.77,125.95 65.83,122.94 66.9,119.78 67.96,116.48 69.03,113.07 70.09,109.56 71.16,105.97 72.22,102.33 73.29,98.67 74.35,94.98 75.42,91.31 76.48,87.66 77.55,84.05 78.61,80.5 79.68,77.02 80.74,73.61 81.81,70.3 82.87,67.09 83.94,63.98 85,60.98 86.07,58.1 87.13,55.33 88.2,52.69 89.26,50.17 90.33,47.76 91.39,45.48 92.46,43.32 93.52,41.27 94.59,39.33 95.65,37.51 96.72,35.79 97.78,34.17 98.85,32.65 99.91,31.23 100.98,29.9 102.04,28.65 103.11,27.49 104.17,26.41 105.24,25.39 106.3,24.45 107.37,23.58 108.43,22.76 109.5,22.01 110.56,21.31 111.63,20.66 112.69,20.05 113.76,19.5 114.82,18.98 115.89,18.5 116.95,18.06 118.02,17.66 119.08,17.28 120.15,16.94 121.21,16.62 122.28,16.32 123.34,16.05 124.41,15.8 125.47,15.57 126.54,15.36 127.6,15.17 128.67,14.99 129.73,14.83 130.8,14.67 131.86,14.54 132.93,14.41 134,14.29 135.06,14.18 136.12,14.09 137.19,13.99 138.25,13.91 139.32,13.84 140.38,13.77 141.45,13.7 142.51,13.64 143.58,13.59 144.64,13.54 145.71,13.5 146.77,13.45 147.84,13.42 148.9,13.38 149.97,13.35 151.03,13.32 152.1,13.29 153.16,13.27 154.23,13.25 155.29,13.23 156.36,13.21 157.42,13.19 158.49,13.17 159.55,13.16 160.62,13.15 161.69,13.13 162.75,13.12 163.81,13.11 164.88,13.1 165.94,13.09 167.01,13.09 168.07,13.08 169.14,13.07 170.2,13.07 171.27,13.06 172.34,13.06 173.4,13.05 174.46,13.05 175.53,13.04 176.59,13.04 177.66,13.04 178.72,13.03 179.79,13.03 180.85,13.03 181.92,13.03 182.98,13.02 184.05,13.02 185.11,13.02 186.18,13.02 187.25,13.02 188.31,13.02 189.38,13.01 190.44,13.01 191.5,13.01 192.57,13.01 193.63,13.01 194.7,13.01' fill='none' stroke='#8e8e8e' stroke-width='0.85' stroke-linejoin='round'/>
<polyline points='24.3,148 25.37,148 26.43,148 27.5,148 28.56,148 29.62,148 30.69,148 31.75,148 32.82,148 33.88,148 34.95,148 36.02,148 37.08,148 38.14,148 39.21,148 40.27,148 41.34,148 42.41,148 43.47,148 44.53,148 45.6,148 46.66,148 47.73,148 48.79,148 49.86,148 50.92,148 51.99,148 53.05,148 54.12,148 55.18,148 56.25,148 57.31,148 58.38,148 59.44,148 60.51,148 61.57,148 62.64,148 63.7,148 64.77,148 65.83,148 66.9,148 67.96,148 69.03,148 70.09,148 71.16,148 72.22,147.98 73.29,147.91 74.35,147.63 75.42,146.75 76.48,144.49 77.55,139.65 78.61,130.92 79.68,117.6 80.74,100.17 81.81,80.5 82.87,61.17 83.94,44.52 85,31.87 86.07,23.32 87.13,18.17 88.2,15.37 89.26,14 90.33,13.39 91.39,13.14 92.46,13.05 93.52,13.01 94.59,13 95.65,13 96.72,13 97.78,13 98.85,13 99.91,13 100.98,13 102.04,13 103.11,13 104.17,13 105.24,13 106.3,13 107.37,13 108.43,13 109.5,13 110.56,13 111.63,13 112.69,13 113.76,13 114.82,13 115.89,13 116.95,13 118.02,13 119.08,13 120.15,13 121.21,13 122.28,13 123.34,13 124.41,13 125.47,13 126.54,13 127.6,13 128.67,13 129.73,13 130.8,13 131.86,13 132.93,13 134,13 135.06,13 136.12,13 137.19,13 138.25,13 139.32,13 140.38,13 141.45,13 142.51,13 143.58,13 144.64,13 145.71,13 146.77,13 147.84,13 148.9,13 149.97,13 151.03,13 152.1,13 153.16,13 154.23,13 155.29,13 156.36,13 157.42,13 158.49,13 159.55,13 160.62,13 161.69,13 162.75,13 163.81,13 164.88,13 165.94,13 167.01,13 168.07,13 169.14,13 170.2,13 171.27,13 172.34,13 173.4,13 174.46,13 175.53,13 176.59,13 177.66,13 178.72,13 179.79,13 180.85,13 181.92,13 182.98,13 184.05,13 185.11,13 186.18,13 187.25,13 188.31,13 189.38,13 190.44,13 191.5,13 192.57,13 193.63,13 194.7,13' fill='none' stroke='#8e8e8e' stroke-width='0.85' stroke-linejoin='round'/>
<polyline points='24.3,148 25.37,148 26.43,148 27.5,148 28.56,148 29.62,148 30.69,148 31.75,148 32.82,148 33.88,148 34.95,148 36.02,148 37.08,148 38.14,148 39.21,148 40.27,148 41.34,148 42.41,148 43.47,148 44.53,148 45.6,148 46.66,148 47.73,148 48.79,148 49.86,148 50.92,148 51.99,148 53.05,148 54.12,148 55.18,148 56.25,148 57.31,148 58.38,148 59.44,148 60.51,148 61.57,148 62.64,148 63.7,148 64.77,148 65.83,148 66.9,148 67.96,148 69.03,148 70.09,148 71.16,148 72.22,148 73.29,148 74.35,148 75.42,148 76.48,148 77.55,148 78.61,147.98 79.68,147.89 80.74,147.5 81.81,146.19 82.87,142.65 83.94,135.04 85,121.77 86.07,102.83 87.13,80.5 88.2,58.52 89.26,40.31 90.33,27.51 91.39,19.82 92.46,15.83 93.52,14.04 94.59,13.34 95.65,13.1 96.72,13.03 97.78,13.01 98.85,13 99.91,13 100.98,13 102.04,13 103.11,13 104.17,13 105.24,13 106.3,13 107.37,13 108.43,13 109.5,13 110.56,13 111.63,13 112.69,13 113.76,13 114.82,13 115.89,13 116.95,13 118.02,13 119.08,13 120.15,13 121.21,13 122.28,13 123.34,13 124.41,13 125.47,13 126.54,13 127.6,13 128.67,13 129.73,13 130.8,13 131.86,13 132.93,13 134,13 135.06,13 136.12,13 137.19,13 138.25,13 139.32,13 140.38,13 141.45,13 142.51,13 143.58,13 144.64,13 145.71,13 146.77,13 147.84,13 148.9,13 149.97,13 151.03,13 152.1,13 153.16,13 154.23,13 155.29,13 156.36,13 157.42,13 158.49,13 159.55,13 160.62,13 161.69,13 162.75,13 163.81,13 164.88,13 165.94,13 167.01,13 168.07,13 169.14,13 170.2,13 171.27,13 172.34,13 173.4,13 174.46,13 175.53,13 176.59,13 177.66,13 178.72,13 179.79,13 180.85,13 181.92,13 182.98,13 184.05,13 185.11,13 186.18,13 187.25,13 188.31,13 189.38,13 190.44,13 191.5,13 192.57,13 193.63,13 194.7,13' fill='none' stroke='#8e8e8e' stroke-width='0.85' stroke-linejoin='round'/>
<polyline points='24.3,148 25.37,148 26.43,148 27.5,148 28.56,148 29.62,148 30.69,148 31.75,148 32.82,148 33.88,148 34.95,148 36.02,148 37.08,148 38.14,148 39.21,148 40.27,148 41.34,148 42.41,148 43.47,148 44.53,148 45.6,148 46.66,148 47.73,148 48.79,148 49.86,148 50.92,148 51.99,148 53.05,148 54.12,148 55.18,148 56.25,148 57.31,148 58.38,148 59.44,148 60.51,148 61.57,148 62.64,148 63.7,148 64.77,148 65.83,148 66.9,148 67.96,148 69.03,148 70.09,148 71.16,148 72.22,148 73.29,148 74.35,148 75.42,148 76.48,147.98 77.55,147.94 78.61,147.81 79.68,147.47 80.74,146.71 81.81,145.15 82.87,142.3 83.94,137.6 85,130.56 86.07,120.96 87.13,108.95 88.2,95.15 89.26,80.5 90.33,66.08 91.39,52.88 92.46,41.59 93.52,32.56 94.59,25.77 95.65,20.96 96.72,17.74 97.78,15.7 98.85,14.47 99.91,13.77 100.98,13.39 102.04,13.19 103.11,13.09 104.17,13.04 105.24,13.02 106.3,13.01 107.37,13 108.43,13 109.5,13 110.56,13 111.63,13 112.69,13 113.76,13 114.82,13 115.89,13 116.95,13 118.02,13 119.08,13 120.15,13 121.21,13 122.28,13 123.34,13 124.41,13 125.47,13 126.54,13 127.6,13 128.67,13 129.73,13 130.8,13 131.86,13 132.93,13 134,13 135.06,13 136.12,13 137.19,13 138.25,13 139.32,13 140.38,13 141.45,13 142.51,13 143.58,13 144.64,13 145.71,13 146.77,13 147.84,13 148.9,13 149.97,13 151.03,13 152.1,13 153.16,13 154.23,13 155.29,13 156.36,13 157.42,13 158.49,13 159.55,13 160.62,13 161.69,13 162.75,13 163.81,13 164.88,13 165.94,13 167.01,13 168.07,13 169.14,13 170.2,13 171.27,13 172.34,13 173.4,13 174.46,13 175.53,13 176.59,13 177.66,13 178.72,13 179.79,13 180.85,13 181.92,13 182.98,13 184.05,13 185.11,13 186.18,13 187.25,13 188.31,13 189.38,13 190.44,13 191.5,13 192.57,13 193.63,13 194.7,13' fill='none' stroke='#8e8e8e' stroke-width='0.85' stroke-linejoin='round'/>
<polyline points='24.3,148 25.37,148 26.43,148 27.5,148 28.56,148 29.62,148 30.69,148 31.75,148 32.82,148 33.88,148 34.95,148 36.02,148 37.08,148 38.14,148 39.21,148 40.27,148 41.34,148 42.41,148 43.47,148 44.53,148 45.6,148 46.66,148 47.73,148 48.79,148 49.86,148 50.92,148 51.99,148 53.05,148 54.12,148 55.18,148 56.25,148 57.31,148 58.38,148 59.44,148 60.51,148 61.57,148 62.64,148 63.7,148 64.77,148 65.83,148 66.9,148 67.96,148 69.03,148 70.09,148 71.16,147.99 72.22,147.99 73.29,147.98 74.35,147.95 75.42,147.91 76.48,147.84 77.55,147.73 78.61,147.55 79.68,147.27 80.74,146.86 81.81,146.28 82.87,145.47 83.94,144.39 85,142.97 86.07,141.16 87.13,138.91 88.2,136.17 89.26,132.93 90.33,129.16 91.39,124.88 92.46,120.09 93.52,114.86 94.59,109.22 95.65,103.27 96.72,97.07 97.78,90.73 98.85,84.33 99.91,77.97 100.98,71.73 102.04,65.69 103.11,59.92 104.17,54.47 105.24,49.39 106.3,44.7 107.37,40.42 108.43,36.55 109.5,33.09 110.56,30.02 111.63,27.33 112.69,24.98 113.76,22.96 114.82,21.23 115.89,19.76 116.95,18.52 118.02,17.48 119.08,16.62 120.15,15.91 121.21,15.32 122.28,14.85 123.34,14.46 124.41,14.15 125.47,13.9 126.54,13.7 127.6,13.55 128.67,13.42 129.73,13.33 130.8,13.25 131.86,13.19 132.93,13.15 134,13.11 135.06,13.08 136.12,13.06 137.19,13.05 138.25,13.04 139.32,13.03 140.38,13.02 141.45,13.01 142.51,13.01 143.58,13.01 144.64,13.01 145.71,13 146.77,13 147.84,13 148.9,13 149.97,13 151.03,13 152.1,13 153.16,13 154.23,13 155.29,13 156.36,13 157.42,13 158.49,13 159.55,13 160.62,13 161.69,13 162.75,13 163.81,13 164.88,13 165.94,13 167.01,13 168.07,13 169.14,13 170.2,13 171.27,13 172.34,13 173.4,13 174.46,13 175.53,13 176.59,13 177.66,13 178.72,13 179.79,13 180.85,13 181.92,13 182.98,13 184.05,13 185.11,13 186.18,13 187.25,13 188.31,13 189.38,13 190.44,13 191.5,13 192.57,13 193.63,13 194.7,13' fill='none' stroke='#8e8e8e' stroke-width='0.85' stroke-linejoin='round'/>
<polyline points='24.3,148 25.37,148 26.43,148 27.5,148 28.56,148 29.62,148 30.69,148 31.75,148 32.82,148 33.88,148 34.95,148 36.02,148 37.08,148 38.14,148 39.21,148 40.27,148 41.34,148 42.41,148 43.47,148 44.53,148 45.6,148 46.66,148 47.73,148 48.79,148 49.86,148 50.92,148 51.99,148 53.05,148 54.12,148 55.18,148 56.25,148 57.31,148 58.38,148 59.44,148 60.51,148 61.57,148 62.64,148 63.7,148 64.77,148 65.83,148 66.9,148 67.96,147.99 69.03,147.99 70.09,147.98 71.16,147.96 72.22,147.93 73.29,147.89 74.35,147.82 75.42,147.72 76.48,147.57 77.55,147.36 78.61,147.07 79.68,146.68 80.74,146.16 81.81,145.48 82.87,144.63 83.94,143.56 85,142.26 86.07,140.69 87.13,138.84 88.2,136.69 89.26,134.22 90.33,131.43 91.39,128.32 92.46,124.9 93.52,121.18 94.59,117.19 95.65,112.95 96.72,108.49 97.78,103.86 98.85,99.09 99.91,94.24 100.98,89.33 102.04,84.41 103.11,79.53 104.17,74.72 105.24,70.02 106.3,65.46 107.37,61.07 108.43,56.87 109.5,52.87 110.56,49.1 111.63,45.56 112.69,42.26 113.76,39.2 114.82,36.37 115.89,33.77 116.95,31.4 118.02,29.25 119.08,27.3 120.15,25.54 121.21,23.97 122.28,22.56 123.34,21.31 124.41,20.21 125.47,19.23 126.54,18.37 127.6,17.62 128.67,16.96 129.73,16.39 130.8,15.89 131.86,15.46 132.93,15.09 134,14.77 135.06,14.5 136.12,14.26 137.19,14.07 138.25,13.9 139.32,13.75 140.38,13.63 141.45,13.53 142.51,13.44 143.58,13.37 144.64,13.3 145.71,13.25 146.77,13.21 147.84,13.17 148.9,13.14 149.97,13.12 151.03,13.1 152.1,13.08 153.16,13.07 154.23,13.05 155.29,13.04 156.36,13.04 157.42,13.03 158.49,13.02 159.55,13.02 160.62,13.02 161.69,13.01 162.75,13.01 163.81,13.01 164.88,13.01 165.94,13.01 167.01,13 168.07,13 169.14,13 170.2,13 171.27,13 172.34,13 173.4,13 174.46,13 175.53,13 176.59,13 177.66,13 178.72,13 179.79,13 180.85,13 181.92,13 182.98,13 184.05,13 185.11,13 186.18,13 187.25,13 188.31,13 189.38,13 190.44,13 191.5,13 192.57,13 193.63,13 194.7,13' fill='none' stroke='#8e8e8e' stroke-width='0.85' stroke-linejoin='round'/>
<polyline points='24.3,148 25.37,148 26.43,148 27.5,148 28.56,148 29.62,148 30.69,148 31.75,148 32.82,148 33.88,148 34.95,148 36.02,148 37.08,148 38.14,148 39.21,148 40.27,148 41.34,148 42.41,148 43.47,148 44.53,148 45.6,148 46.66,148 47.73,148 48.79,148 49.86,148 50.92,148 51.99,148 53.05,148 54.12,148 55.18,148 56.25,148 57.31,148 58.38,148 59.44,148 60.51,148 61.57,148 62.64,148 63.7,148 64.77,148 65.83,148 66.9,148 67.96,148 69.03,148 70.09,148 71.16,148 72.22,148 73.29,148 74.35,148 75.42,148 76.48,148 77.55,148 78.61,148 79.68,148 80.74,147.99 81.81,147.98 82.87,147.96 83.94,147.92 85,147.85 86.07,147.74 87.13,147.55 88.2,147.27 89.26,146.83 90.33,146.21 91.39,145.33 92.46,144.13 93.52,142.55 94.59,140.5 95.65,137.94 96.72,134.81 97.78,131.08 98.85,126.74 99.91,121.8 100.98,116.31 102.04,110.31 103.11,103.9 104.17,97.19 105.24,90.28 106.3,83.29 107.37,76.35 108.43,69.56 109.5,63.02 110.56,56.83 111.63,51.05 112.69,45.73 113.76,40.89 114.82,36.55 115.89,32.71 116.95,29.36 118.02,26.45 119.08,23.97 120.15,21.88 121.21,20.12 122.28,18.67 123.34,17.48 124.41,16.51 125.47,15.73 126.54,15.11 127.6,14.62 128.67,14.23 129.73,13.93 130.8,13.7 131.86,13.53 132.93,13.39 134,13.29 135.06,13.21 136.12,13.15 137.19,13.11 138.25,13.08 139.32,13.06 140.38,13.04 141.45,13.03 142.51,13.02 143.58,13.01 144.64,13.01 145.71,13.01 146.77,13.01 147.84,13 148.9,13 149.97,13 151.03,13 152.1,13 153.16,13 154.23,13 155.29,13 156.36,13 157.42,13 158.49,13 159.55,13 160.62,13 161.69,13 162.75,13 163.81,13 164.88,13 165.94,13 167.01,13 168.07,13 169.14,13 170.2,13 171.27,13 172.34,13 173.4,13 174.46,13 175.53,13 176.59,13 177.66,13 178.72,13 179.79,13 180.85,13 181.92,13 182.98,13 184.05,13 185.11,13 186.18,13 187.25,13 188.31,13 189.38,13 190.44,13 191.5,13 192.57,13 193.63,13 194.7,13' fill='none' stroke='#8e8e8e' stroke-width='0.85' stroke-linejoin='round'/>
<polyline points='24.3,148 25.37,148 26.43,148 27.5,148 28.56,148 29.62,148 30.69,148 31.75,148 32.82,148 33.88,148 34.95,148 36.02,148 37.08,148 38.14,148 39.21,148 40.27,148 41.34,148 42.41,148 43.47,148 44.53,148 45.6,148 46.66,148 47.73,148 48.79,148 49.86,148 50.92,148 51.99,148 53.05,148 54.12,148 55.18,148 56.25,148 57.31,148 58.38,148 59.44,148 60.51,148 61.57,148 62.64,148 63.7,148 64.77,148 65.83,148 66.9,148 67.96,148 69.03,148 70.09,148 71.16,148 72.22,148 73.29,148 74.35,148 75.42,148 76.48,148 77.55,148 78.61,147.99 79.68,147.98 80.74,147.97 81.81,147.95 82.87,147.91 83.94,147.85 85,147.75 86.07,147.61 87.13,147.41 88.2,147.11 89.26,146.71 90.33,146.16 91.39,145.43 92.46,144.48 93.52,143.29 94.59,141.8 95.65,139.99 96.72,137.83 97.78,135.29 98.85,132.35 99.91,129.01 100.98,125.28 102.04,121.16 103.11,116.69 104.17,111.9 105.24,106.84 106.3,101.55 107.37,96.1 108.43,90.55 109.5,84.96 110.56,79.39 111.63,73.9 112.69,68.54 113.76,63.37 114.82,58.42 115.89,53.72 116.95,49.3 118.02,45.19 119.08,41.39 120.15,37.9 121.21,34.72 122.28,31.86 123.34,29.28 124.41,26.99 125.47,24.97 126.54,23.18 127.6,21.63 128.67,20.28 129.73,19.11 130.8,18.11 131.86,17.25 132.93,16.52 134,15.91 135.06,15.39 136.12,14.96 137.19,14.6 138.25,14.3 139.32,14.05 140.38,13.85 141.45,13.68 142.51,13.55 143.58,13.44 144.64,13.35 145.71,13.28 146.77,13.22 147.84,13.17 148.9,13.14 149.97,13.11 151.03,13.08 152.1,13.07 153.16,13.05 154.23,13.04 155.29,13.03 156.36,13.02 157.42,13.02 158.49,13.01 159.55,13.01 160.62,13.01 161.69,13.01 162.75,13 163.81,13 164.88,13 165.94,13 167.01,13 168.07,13 169.14,13 170.2,13 171.27,13 172.34,13 173.4,13 174.46,13 175.53,13 176.59,13 177.66,13 178.72,13 179.79,13 180.85,13 181.92,13 182.98,13 184.05,13 185.11,13 186.18,13 187.25,13 188.31,13 189.38,13 190.44,13 191.5,13 192.57,13 193.63,13 194.7,13' fill='none' stroke='#8e8e8e' stroke-width='0.85' stroke-linejoin='round'/>
<polyline points='24.3,148 25.37,148 26.43,148 27.5,148 28.56,148 29.62,148 30.69,148 31.75,148 32.82,148 33.88,148 34.95,148 36.02,148 37.08,148 38.14,148 39.21,148 40.27,148 41.34,148 42.41,148 43.47,148 44.53,148 45.6,148 46.66,148 47.73,148 48.79,148 49.86,148 50.92,148 51.99,148 53.05,148 54.12,148 55.18,148 56.25,148 57.31,148 58.38,148 59.44,148 60.51,148 61.57,148 62.64,148 63.7,148 64.77,148 65.83,148 66.9,148 67.96,148 69.03,148 70.09,148 71.16,148 72.22,148 73.29,148 74.35,148 75.42,148 76.48,147.99 77.55,147.99 78.61,147.98 79.68,147.96 80.74,147.93 81.81,147.89 82.87,147.83 83.94,147.75 85,147.62 86.07,147.45 87.13,147.22 88.2,146.9 89.26,146.5 90.33,145.97 91.39,145.31 92.46,144.48 93.52,143.48 94.59,142.26 95.65,140.83 96.72,139.14 97.78,137.2 98.85,134.98 99.91,132.49 100.98,129.72 102.04,126.66 103.11,123.34 104.17,119.77 105.24,115.96 106.3,111.94 107.37,107.73 108.43,103.37 109.5,98.9 110.56,94.33 111.63,89.72 112.69,85.1 113.76,80.5 114.82,75.95 115.89,71.49 116.95,67.14 118.02,62.93 119.08,58.87 120.15,55 121.21,51.31 122.28,47.82 123.34,44.54 124.41,41.47 125.47,38.61 126.54,35.96 127.6,33.52 128.67,31.28 129.73,29.24 130.8,27.38 131.86,25.69 132.93,24.17 134,22.8 135.06,21.58 136.12,20.49 137.19,19.52 138.25,18.66 139.32,17.9 140.38,17.24 141.45,16.65 142.51,16.14 143.58,15.69 144.64,15.3 145.71,14.97 146.77,14.68 147.84,14.43 148.9,14.21 149.97,14.03 151.03,13.87 152.1,13.73 153.16,13.62 154.23,13.52 155.29,13.44 156.36,13.36 157.42,13.31 158.49,13.25 159.55,13.21 160.62,13.18 161.69,13.15 162.75,13.12 163.81,13.1 164.88,13.08 165.94,13.07 167.01,13.06 168.07,13.05 169.14,13.04 170.2,13.03 171.27,13.03 172.34,13.02 173.4,13.02 174.46,13.01 175.53,13.01 176.59,13.01 177.66,13.01 178.72,13.01 179.79,13.01 180.85,13 181.92,13 182.98,13 184.05,13 185.11,13 186.18,13 187.25,13 188.31,13 189.38,13 190.44,13 191.5,13 192.57,13 193.63,13 194.7,13' fill='none' stroke='#8e8e8e' stroke-width='0.85' stroke-linejoin='round'/>
<polyline points='24.3,148 25.37,148 26.43,148 27.5,148 28.56,148 29.62,148 30.69,148 31.75,148 32.82,148 33.88,148 34.95,148 36.02,148 37.08,148 38.14,148 39.21,148 40.27,148 41.34,148 42.41,148 43.47,148 44.53,148 45.6,148 46.66,148 47.73,148 48.79,148 49.86,148 50.92,148 51.99,148 53.05,148 54.12,148 55.18,148 56.25,148 57.31,148 58.38,148 59.44,148 60.51,148 61.57,148 62.64,148 63.7,148 64.77,148 65.83,148 66.9,148 67.96,148 69.03,148 70.09,148 71.16,148 72.22,148 73.29,148 74.35,148 75.42,148 76.48,148 77.55,148 78.61,148 79.68,148 80.74,148 81.81,148 82.87,148 83.94,148 85,148 86.07,148 87.13,147.99 88.2,147.98 89.26,147.97 90.33,147.94 91.39,147.89 92.46,147.82 93.52,147.7 94.59,147.52 95.65,147.26 96.72,146.88 97.78,146.34 98.85,145.62 99.91,144.65 100.98,143.39 102.04,141.79 103.11,139.81 104.17,137.4 105.24,134.52 106.3,131.17 107.37,127.32 108.43,122.99 109.5,118.2 110.56,112.99 111.63,107.42 112.69,101.56 113.76,95.47 114.82,89.26 115.89,83 116.95,76.78 118.02,70.67 119.08,64.76 120.15,59.11 121.21,53.77 122.28,48.77 123.34,44.16 124.41,39.95 125.47,36.13 126.54,32.71 127.6,29.68 128.67,27.02 129.73,24.71 130.8,22.71 131.86,21 132.93,19.54 134,18.32 135.06,17.3 136.12,16.46 137.19,15.76 138.25,15.19 139.32,14.73 140.38,14.36 141.45,14.06 142.51,13.83 143.58,13.64 144.64,13.49 145.71,13.38 146.77,13.29 147.84,13.22 148.9,13.16 149.97,13.12 151.03,13.09 152.1,13.07 153.16,13.05 154.23,13.04 155.29,13.03 156.36,13.02 157.42,13.01 158.49,13.01 159.55,13.01 160.62,13.01 161.69,13 162.75,13 163.81,13 164.88,13 165.94,13 167.01,13 168.07,13 169.14,13 170.2,13 171.27,13 172.34,13 173.4,13 174.46,13 175.53,13 176.59,13 177.66,13 178.72,13 179.79,13 180.85,13 181.92,13 182.98,13 184.05,13 185.11,13 186.18,13 187.25,13 188.31,13 189.38,13 190.44,13 191.5,13 192.57,13 193.63,13 194.7,13' fill='none' stroke='#8e8e8e' stroke-width='0.85' stroke-linejoin='round'/>
<polyline points='24.3,148 25.37,148 26.43,148 27.5,148 28.56,148 29.62,148 30.69,148 31.75,148 32.82,148 33.88,148 34.95,148 36.02,148 37.08,148 38.14,148 39.21,148 40.27,148 41.34,148 42.41,148 43.47,148 44.53,148 45.6,148 46.66,148 47.73,148 48.79,148 49.86,148 50.92,148 51.99,148 53.05,148 54.12,148 55.18,148 56.25,148 57.31,148 58.38,148 59.44,148 60.51,148 61.57,148 62.64,148 63.7,148 64.77,148 65.83,148 66.9,148 67.96,148 69.03,148 70.09,148 71.16,148 72.22,148 73.29,148 74.35,148 75.42,148 76.48,148 77.55,148 78.61,148 79.68,148 80.74,148 81.81,148 82.87,148 83.94,148 85,148 86.07,148 87.13,148 88.2,148 89.26,148 90.33,148 91.39,147.99 92.46,147.99 93.52,147.98 94.59,147.97 95.65,147.94 96.72,147.91 97.78,147.85 98.85,147.75 99.91,147.61 100.98,147.41 102.04,147.13 103.11,146.73 104.17,146.2 105.24,145.49 106.3,144.56 107.37,143.39 108.43,141.93 109.5,140.14 110.56,137.99 111.63,135.46 112.69,132.52 113.76,129.15 114.82,125.38 115.89,121.2 116.95,116.64 118.02,111.73 119.08,106.53 120.15,101.09 121.21,95.47 122.28,89.74 123.34,83.96 124.41,78.2 125.47,72.53 126.54,67.01 127.6,61.68 128.67,56.6 129.73,51.8 130.8,47.31 131.86,43.15 132.93,39.33 134,35.85 135.06,32.71 136.12,29.9 137.19,27.41 138.25,25.21 139.32,23.29 140.38,21.62 141.45,20.18 142.51,18.95 143.58,17.91 144.64,17.02 145.71,16.28 146.77,15.67 147.84,15.15 148.9,14.73 149.97,14.39 151.03,14.1 152.1,13.88 153.16,13.69 154.23,13.54 155.29,13.43 156.36,13.33 157.42,13.26 158.49,13.2 159.55,13.15 160.62,13.12 161.69,13.09 162.75,13.07 163.81,13.05 164.88,13.04 165.94,13.03 167.01,13.02 168.07,13.02 169.14,13.01 170.2,13.01 171.27,13.01 172.34,13.01 173.4,13 174.46,13 175.53,13 176.59,13 177.66,13 178.72,13 179.79,13 180.85,13 181.92,13 182.98,13 184.05,13 185.11,13 186.18,13 187.25,13 188.31,13 189.38,13 190.44,13 191.5,13 192.57,13 193.63,13 194.7,13' fill='none' stroke='#8e8e8e' stroke-width='0.85' stroke-linejoin='round'/>
<polyline points='24.3,148 25.37,148 26.43,148 27.5,148 28.56,148 29.62,148 30.69,148 31.75,148 32.82,148 33.88,148 34.95,148 36.02,148 37.08,148 38.14,148 39.21,148 40.27,148 41.34,148 42.41,148 43.47,148 44.53,148 45.6,148 46.66,148 47.73,148 48.79,148 49.86,148 50.92,148 51.99,148 53.05,148 54.12,148 55.18,148 56.25,148 57.31,148 58.38,148 59.44,148 60.51,148 61.57,148 62.64,148 63.7,148 64.77,148 65.83,148 66.9,148 67.96,148 69.03,148 70.09,148 71.16,148 72.22,148 73.29,148 74.35,148 75.42,148 76.48,148 77.55,148 78.61,148 79.68,148 80.74,148 81.81,148 82.87,148 83.94,148 85,148 86.07,148 87.13,148 88.2,148 89.26,148 90.33,148 91.39,148 92.46,148 93.52,148 94.59,148 95.65,148 96.72,147.99 97.78,147.99 98.85,147.98 99.91,147.96 100.98,147.94 102.04,147.89 103.11,147.82 104.17,147.71 105.24,147.55 106.3,147.3 107.37,146.96 108.43,146.48 109.5,145.82 110.56,144.95 111.63,143.82 112.69,142.38 113.76,140.58 114.82,138.4 115.89,135.78 116.95,132.7 118.02,129.15 119.08,125.13 120.15,120.64 121.21,115.73 122.28,110.44 123.34,104.81 124.41,98.92 125.47,92.86 126.54,86.69 127.6,80.5 128.67,74.38 129.73,68.39 130.8,62.61 131.86,57.11 132.93,51.92 134,47.08 135.06,42.62 136.12,38.55 137.19,34.88 138.25,31.6 139.32,28.7 140.38,26.16 141.45,23.95 142.51,22.05 143.58,20.43 144.64,19.06 145.71,17.91 146.77,16.95 147.84,16.16 148.9,15.51 149.97,14.99 151.03,14.56 152.1,14.22 153.16,13.95 154.23,13.73 155.29,13.56 156.36,13.43 157.42,13.33 158.49,13.25 159.55,13.19 160.62,13.14 161.69,13.1 162.75,13.08 163.81,13.06 164.88,13.04 165.94,13.03 167.01,13.02 168.07,13.02 169.14,13.01 170.2,13.01 171.27,13.01 172.34,13 173.4,13 174.46,13 175.53,13 176.59,13 177.66,13 178.72,13 179.79,13 180.85,13 181.92,13 182.98,13 184.05,13 185.11,13 186.18,13 187.25,13 188.31,13 189.38,13 190.44,13 191.5,13 192.57,13 193.63,13 194.7,13' fill='none' stroke='#8e8e8e' stroke-width='0.85' stroke-linejoin='round'/>
<polyline points='24.3,148 25.37,148 26.43,148 27.5,148 28.56,148 29.62,148 30.69,148 31.75,148 32.82,148 33.88,148 34.95,148 36.02,148 37.08,148 38.14,148 39.21,148 40.27,148 41.34,148 42.41,148 43.47,148 44.53,148 45.6,148 46.66,148 47.73,148 48.79,148 49.86,148 50.92,148 51.99,148 53.05,148 54.12,148 55.18,148 56.25,148 57.31,147.99 58.38,147.99 59.44,147.98 60.51,147.97 61.57,147.96 62.64,147.93 63.7,147.9 64.77,147.86 65.83,147.8 66.9,147.72 67.96,147.62 69.03,147.5 70.09,147.34 71.16,147.14 72.22,146.89 73.29,146.6 74.35,146.25 75.42,145.83 76.48,145.34 77.55,144.77 78.61,144.12 79.68,143.38 80.74,142.54 81.81,141.61 82.87,140.57 83.94,139.42 85,138.16 86.07,136.79 87.13,135.31 88.2,133.72 89.26,132.03 90.33,130.22 91.39,128.31 92.46,126.3 93.52,124.19 94.59,122 95.65,119.72 96.72,117.36 97.78,114.93 98.85,112.44 99.91,109.9 100.98,107.3 102.04,104.67 103.11,102.01 104.17,99.32 105.24,96.62 106.3,93.91 107.37,91.2 108.43,88.5 109.5,85.81 110.56,83.14 111.63,80.5 112.69,77.89 113.76,75.32 114.82,72.79 115.89,70.3 116.95,67.87 118.02,65.49 119.08,63.16 120.15,60.9 121.21,58.7 122.28,56.56 123.34,54.49 124.41,52.48 125.47,50.54 126.54,48.66 127.6,46.86 128.67,45.12 129.73,43.45 130.8,41.84 131.86,40.3 132.93,38.83 134,37.42 135.06,36.07 136.12,34.78 137.19,33.55 138.25,32.38 139.32,31.27 140.38,30.21 141.45,29.2 142.51,28.24 143.58,27.33 144.64,26.47 145.71,25.66 146.77,24.89 147.84,24.16 148.9,23.47 149.97,22.82 151.03,22.2 152.1,21.62 153.16,21.08 154.23,20.56 155.29,20.08 156.36,19.62 157.42,19.19 158.49,18.79 159.55,18.41 160.62,18.05 161.69,17.72 162.75,17.41 163.81,17.11 164.88,16.84 165.94,16.58 167.01,16.34 168.07,16.11 169.14,15.9 170.2,15.7 171.27,15.52 172.34,15.35 173.4,15.19 174.46,15.03 175.53,14.89 176.59,14.76 177.66,14.64 178.72,14.53 179.79,14.42 180.85,14.32 181.92,14.23 182.98,14.14 184.05,14.06 185.11,13.99 186.18,13.92 187.25,13.85 188.31,13.79 189.38,13.73 190.44,13.68 191.5,13.63 192.57,13.59 193.63,13.55 194.7,13.51' fill='none' stroke='#8e8e8e' stroke-width='0.85' stroke-linejoin='round'/>
<polyline points='24.3,148 25.37,148 26.43,148 27.5,148 28.56,148 29.62,148 30.69,148 31.75,148 32.82,148 33.88,148 34.95,148 36.02,148 37.08,148 38.14,148 39.21,148 40.27,148 41.34,148 42.41,148 43.47,148 44.53,148 45.6,148 46.66,148 47.73,148 48.79,148 49.86,147.99 50.92,147.99 51.99,147.98 53.05,147.96 54.12,147.94 55.18,147.91 56.25,147.87 57.31,147.81 58.38,147.73 59.44,147.63 60.51,147.5 61.57,147.34 62.64,147.14 63.7,146.89 64.77,146.59 65.83,146.23 66.9,145.81 67.96,145.32 69.03,144.76 70.09,144.11 71.16,143.38 72.22,142.56 73.29,141.64 74.35,140.63 75.42,139.52 76.48,138.32 77.55,137.01 78.61,135.61 79.68,134.1 80.74,132.5 81.81,130.81 82.87,129.03 83.94,127.16 85,125.21 86.07,123.19 87.13,121.09 88.2,118.93 89.26,116.7 90.33,114.43 91.39,112.11 92.46,109.74 93.52,107.35 94.59,104.92 95.65,102.48 96.72,100.02 97.78,97.55 98.85,95.08 99.91,92.61 100.98,90.15 102.04,87.71 103.11,85.28 104.17,82.88 105.24,80.5 106.3,78.15 107.37,75.84 108.43,73.57 109.5,71.34 110.56,69.15 111.63,67 112.69,64.91 113.76,62.86 114.82,60.86 115.89,58.92 116.95,57.03 118.02,55.19 119.08,53.41 120.15,51.68 121.21,50.01 122.28,48.38 123.34,46.82 124.41,45.31 125.47,43.85 126.54,42.44 127.6,41.08 128.67,39.78 129.73,38.53 130.8,37.32 131.86,36.16 132.93,35.05 134,33.99 135.06,32.97 136.12,31.99 137.19,31.05 138.25,30.16 139.32,29.3 140.38,28.48 141.45,27.7 142.51,26.95 143.58,26.24 144.64,25.56 145.71,24.92 146.77,24.3 147.84,23.71 148.9,23.15 149.97,22.62 151.03,22.11 152.1,21.63 153.16,21.17 154.23,20.74 155.29,20.33 156.36,19.93 157.42,19.56 158.49,19.21 159.55,18.87 160.62,18.55 161.69,18.25 162.75,17.97 163.81,17.69 164.88,17.44 165.94,17.19 167.01,16.96 168.07,16.74 169.14,16.54 170.2,16.34 171.27,16.16 172.34,15.98 173.4,15.82 174.46,15.66 175.53,15.51 176.59,15.37 177.66,15.24 178.72,15.11 179.79,14.99 180.85,14.88 181.92,14.78 182.98,14.68 184.05,14.58 185.11,14.49 186.18,14.41 187.25,14.33 188.31,14.25 189.38,14.18 190.44,14.12 191.5,14.05 192.57,13.99 193.63,13.94 194.7,13.88' fill='none' stroke='#8e8e8e' stroke-width='0.85' stroke-linejoin='round'/>
<polyline points='24.3,148 25.37,148 26.43,147.76 27.5,140.09 28.56,111.32 29.62,73.19 30.69,43.85 31.75,27.08 32.82,18.98 33.88,15.44 34.95,13.97 36.02,13.39 37.08,13.15 38.14,13.06 39.21,13.02 40.27,13.01 41.34,13 42.41,13 43.47,13 44.53,13 45.6,13 46.66,13 47.73,13 48.79,13 49.86,13 50.92,13 51.99,13 53.05,13 54.12,13 55.18,13 56.25,13 57.31,13 58.38,13 59.44,13 60.51,13 61.57,13 62.64,13 63.7,13 64.77,13 65.83,13 66.9,13 67.96,13 69.03,13 70.09,13 71.16,13 72.22,13 73.29,13 74.35,13 75.42,13 76.48,13 77.55,13 78.61,13 79.68,13 80.74,13 81.81,13 82.87,13 83.94,13 85,13 86.07,13 87.13,13 88.2,13 89.26,13 90.33,13 91.39,13 92.46,13 93.52,13 94.59,13 95.65,13 96.72,13 97.78,13 98.85,13 99.91,13 100.98,13 102.04,13 103.11,13 104.17,13 105.24,13 106.3,13 107.37,13 108.43,13 109.5,13 110.56,13 111.63,13 112.69,13 113.76,13 114.82,13 115.89,13 116.95,13 118.02,13 119.08,13 120.15,13 121.21,13 122.28,13 123.34,13 124.41,13 125.47,13 126.54,13 127.6,13 128.67,13 129.73,13 130.8,13 131.86,13 132.93,13 134,13 135.06,13 136.12,13 137.19,13 138.25,13 139.32,13 140.38,13 141.45,13 142.51,13 143.58,13 144.64,13 145.71,13 146.77,13 147.84,13 148.9,13 149.97,13 151.03,13 152.1,13 153.16,13 154.23,13 155.29,13 156.36,13 157.42,13 158.49,13 159.55,13 160.62,13 161.69,13 162.75,13 163.81,13 164.88,13 165.94,13 167.01,13 168.07,13 169.14,13 170.2,13 171.27,13 172.34,13 173.4,13 174.46,13 175.53,13 176.59,13 177.66,13 178.72,13 179.79,13 180.85,13 181.92,13 182.98,13 184.05,13 185.11,13 186.18,13 187.25,13 188.31,13 189.38,13 190.44,13 191.5,13 192.57,13 193.63,13 194.7,13' fill='none' stroke='#1a1adf' stroke-width='1.8' stroke-linejoin='round'/>
<polyline points='24.3,148 25.37,148 26.43,148 27.5,148 28.56,147.96 29.62,146.73 30.69,137.85 31.75,113.96 32.82,80.5 33.88,50.52 34.95,30.86 36.02,20.51 37.08,15.88 38.14,14.03 39.21,13.35 40.27,13.11 41.34,13.04 42.41,13.01 43.47,13 44.53,13 45.6,13 46.66,13 47.73,13 48.79,13 49.86,13 50.92,13 51.99,13 53.05,13 54.12,13 55.18,13 56.25,13 57.31,13 58.38,13 59.44,13 60.51,13 61.57,13 62.64,13 63.7,13 64.77,13 65.83,13 66.9,13 67.96,13 69.03,13 70.09,13 71.16,13 72.22,13 73.29,13 74.35,13 75.42,13 76.48,13 77.55,13 78.61,13 79.68,13 80.74,13 81.81,13 82.87,13 83.94,13 85,13 86.07,13 87.13,13 88.2,13 89.26,13 90.33,13 91.39,13 92.46,13 93.52,13 94.59,13 95.65,13 96.72,13 97.78,13 98.85,13 99.91,13 100.98,13 102.04,13 103.11,13 104.17,13 105.24,13 106.3,13 107.37,13 108.43,13 109.5,13 110.56,13 111.63,13 112.69,13 113.76,13 114.82,13 115.89,13 116.95,13 118.02,13 119.08,13 120.15,13 121.21,13 122.28,13 123.34,13 124.41,13 125.47,13 126.54,13 127.6,13 128.67,13 129.73,13 130.8,13 131.86,13 132.93,13 134,13 135.06,13 136.12,13 137.19,13 138.25,13 139.32,13 140.38,13 141.45,13 142.51,13 143.58,13 144.64,13 145.71,13 146.77,13 147.84,13 148.9,13 149.97,13 151.03,13 152.1,13 153.16,13 154.23,13 155.29,13 156.36,13 157.42,13 158.49,13 159.55,13 160.62,13 161.69,13 162.75,13 163.81,13 164.88,13 165.94,13 167.01,13 168.07,13 169.14,13 170.2,13 171.27,13 172.34,13 173.4,13 174.46,13 175.53,13 176.59,13 177.66,13 178.72,13 179.79,13 180.85,13 181.92,13 182.98,13 184.05,13 185.11,13 186.18,13 187.25,13 188.31,13 189.38,13 190.44,13 191.5,13 192.57,13 193.63,13 194.7,13' fill='none' stroke='#25d625' stroke-width='1.5' stroke-linejoin='round'/>
<polyline points='24.3,148 25.37,148 26.43,148 27.5,148 28.56,148 29.62,148 30.69,148 31.75,148 32.82,148 33.88,148 34.95,148 36.02,148 37.08,148 38.14,148 39.21,148 40.27,148 41.34,148 42.41,148 43.47,148 44.53,148 45.6,148 46.66,148 47.73,147.97 48.79,147.65 49.86,145.5 50.92,137.21 51.99,117.49 53.05,87.11 54.12,55.46 55.18,32.27 56.25,19.92 57.31,14.98 58.38,13.46 59.44,13.09 60.51,13.01 61.57,13 62.64,13 63.7,13 64.77,13 65.83,13 66.9,13 67.96,13 69.03,13 70.09,13 71.16,13 72.22,13 73.29,13 74.35,13 75.42,13 76.48,13 77.55,13 78.61,13 79.68,13 80.74,13 81.81,13 82.87,13 83.94,13 85,13 86.07,13 87.13,13 88.2,13 89.26,13 90.33,13 91.39,13 92.46,13 93.52,13 94.59,13 95.65,13 96.72,13 97.78,13 98.85,13 99.91,13 100.98,13 102.04,13 103.11,13 104.17,13 105.24,13 106.3,13 107.37,13 108.43,13 109.5,13 110.56,13 111.63,13 112.69,13 113.76,13 114.82,13 115.89,13 116.95,13 118.02,13 119.08,13 120.15,13 121.21,13 122.28,13 123.34,13 124.41,13 125.47,13 126.54,13 127.6,13 128.67,13 129.73,13 130.8,13 131.86,13 132.93,13 134,13 135.06,13 136.12,13 137.19,13 138.25,13 139.32,13 140.38,13 141.45,13 142.51,13 143.58,13 144.64,13 145.71,13 146.77,13 147.84,13 148.9,13 149.97,13 151.03,13 152.1,13 153.16,13 154.23,13 155.29,13 156.36,13 157.42,13 158.49,13 159.55,13 160.62,13 161.69,13 162.75,13 163.81,13 164.88,13 165.94,13 167.01,13 168.07,13 169.14,13 170.2,13 171.27,13 172.34,13 173.4,13 174.46,13 175.53,13 176.59,13 177.66,13 178.72,13 179.79,13 180.85,13 181.92,13 182.98,13 184.05,13 185.11,13 186.18,13 187.25,13 188.31,13 189.38,13 190.44,13 191.5,13 192.57,13 193.63,13 194.7,13' fill='none' stroke='#16e5ea' stroke-width='1.5' stroke-linejoin='round'/>
<polyline points='24.3,148 24.83,148 25.37,148 25.9,148 26.43,148 26.96,148 27.5,148 28.03,148 28.56,148 29.09,148 29.62,148 30.16,148 30.69,148 31.22,148 31.76,148 32.29,148 32.82,148 33.35,148 33.88,148 34.42,148 34.95,148 35.48,148 36.02,148 36.55,148 37.08,148 37.61,148 38.14,148 38.68,148 39.21,148 39.74,148 40.27,148 40.81,148 41.34,148 41.87,148 42.41,148 42.94,148 43.47,148 44,148 44.53,148 45.07,148 45.6,148 46.13,148 46.66,148 47.2,148 47.73,148 48.26,148 48.8,148 49.33,148 49.86,148 50.39,148 50.92,148 51.46,148 51.99,148 52.52,148 53.05,148 53.59,148 54.12,148 54.65,148 55.19,148 55.72,148 56.25,148 56.78,148 57.31,148 57.85,148 58.38,148 58.91,147.95 59.44,147.81 59.98,147.6 60.51,147.31 61.04,146.96 61.57,146.57 62.11,146.14 62.64,145.68 63.17,145.2 63.7,144.72 64.24,144.23 64.77,143.77 65.3,143.32 65.83,142.88 66.37,142.43 66.9,141.96 67.43,141.48 67.97,140.98 68.5,140.47 69.03,139.93 69.56,139.36 70.09,138.77 70.63,138.16 71.16,137.51 71.69,136.83 72.22,136.12 72.76,135.36 73.29,134.52 73.82,133.61 74.35,132.63 74.89,131.57 75.42,130.44 75.95,129.22 76.48,127.86 77.02,126.29 77.55,124.54 78.08,122.67 78.61,120.71 79.15,118.73 79.68,116.78 80.21,114.89 80.75,113.07 81.28,111.27 81.81,109.46 82.34,107.66 82.87,105.84 83.41,104.02 83.94,102.18 84.47,100.32 85,98.45 85.54,96.61 86.07,94.78 86.6,92.94 87.13,91.09 87.67,89.2 88.2,87.25 88.73,85.24 89.27,83.15 89.8,80.95 90.33,78.62 90.86,76.12 91.39,73.47 91.93,70.71 92.46,67.87 92.99,64.98 93.52,62.06 94.06,59.16 94.59,56.29 95.12,53.49 95.65,50.8 96.19,48.08 96.72,45.24 97.25,42.34 97.78,39.45 98.32,36.63 98.85,33.96 99.38,31.48 99.91,29.29 100.45,27.43 100.98,25.94 101.51,24.6 102.04,23.34 102.58,22.16 103.11,21.06 103.64,20.05 104.17,19.13 104.71,18.3 105.24,17.57 105.77,16.92 106.3,16.38 106.84,15.88 107.37,15.38 107.9,14.91 108.43,14.47 108.97,14.06 109.5,13.71 110.03,13.41 110.56,13.19 111.1,13.05 111.63,13 112.16,13 112.69,13 113.23,13 113.76,13 114.29,13 114.82,13 115.36,13 115.89,13 116.42,13 116.95,13 117.49,13 118.02,13 118.55,13 119.08,13 119.62,13 120.15,13 120.68,13 121.21,13 121.75,13 122.28,13 122.81,13 123.34,13 123.88,13 124.41,13 124.94,13 125.47,13 126.01,13 126.54,13 127.07,13 127.6,13 128.14,13 128.67,13 129.2,13 129.73,13 130.27,13 130.8,13 131.33,13 131.87,13 132.4,13 132.93,13 133.46,13 134,13 134.53,13 135.06,13 135.59,13 136.12,13 136.66,13 137.19,13 137.72,13 138.25,13 138.79,13 139.32,13 139.85,13 140.38,13 140.92,13 141.45,13 141.98,13 142.52,13 143.05,13 143.58,13 144.11,13 144.64,13 145.18,13 145.71,13 146.24,13 146.77,13 147.31,13 147.84,13 148.37,13 148.91,13 149.44,13 149.97,13 150.5,13 151.03,13 151.57,13 152.1,13 152.63,13 153.17,13 153.7,13 154.23,13 154.76,13 155.29,13 155.83,13 156.36,13 156.89,13 157.42,13 157.96,13 158.49,13 159.02,13 159.56,13 160.09,13 160.62,13 161.15,13 161.69,13 162.22,13 162.75,13 163.28,13 163.81,13 164.35,13 164.88,13 165.41,13 165.94,13 166.48,13 167.01,13 167.54,13 168.07,13 168.61,13 169.14,13 169.67,13 170.21,13 170.74,13 171.27,13 171.8,13 172.34,13 172.87,13 173.4,13 173.93,13 174.47,13 175,13 175.53,13 176.06,13 176.59,13 177.13,13 177.66,13 178.19,13 178.72,13 179.26,13 179.79,13 180.32,13 180.85,13 181.39,13 181.92,13 182.45,13 182.98,13 183.52,13 184.05,13 184.58,13 185.12,13 185.65,13 186.18,13 186.71,13 187.25,13 187.78,13 188.31,13 188.84,13 189.38,13 189.91,13 190.44,13 190.97,13 191.5,13 192.04,13 192.57,13 193.1,13 193.63,13 194.17,13 194.7,13' fill='none' stroke='#ee13ee' stroke-width='1.5' stroke-linejoin='round'/>
<polyline points='24.3,148 25.37,148 26.43,148 27.5,148 28.56,148 29.62,148 30.69,148 31.75,148 32.82,148 33.88,148 34.95,148 36.02,148 37.08,148 38.14,148 39.21,148 40.27,148 41.34,148 42.41,148 43.47,148 44.53,148 45.6,148 46.66,148 47.73,148 48.79,148 49.86,148 50.92,148 51.99,148 53.05,148 54.12,148 55.18,148 56.25,148 57.31,148 58.38,148 59.44,148 60.51,148 61.57,148 62.64,148 63.7,148 64.77,148 65.83,148 66.9,148 67.96,148 69.03,148 70.09,148 71.16,148 72.22,148 73.29,148 74.35,148 75.42,148 76.48,148 77.55,148 78.61,148 79.68,148 80.74,148 81.81,148 82.87,148 83.94,148 85,148 86.07,148 87.13,148 88.2,148 89.26,148 90.33,148 91.39,148 92.46,148 93.52,148 94.59,148 95.65,148 96.72,148 97.78,148 98.85,148 99.91,148 100.98,148 102.04,148 103.11,148 104.17,148 105.24,148 106.3,148 107.37,148 108.43,148 109.5,148 110.56,148 111.63,147.99 112.69,147.99 113.76,147.98 114.82,147.96 115.89,147.94 116.95,147.89 118.02,147.83 119.08,147.73 120.15,147.58 121.21,147.36 122.28,147.06 123.34,146.64 124.41,146.07 125.47,145.33 126.54,144.36 127.6,143.12 128.67,141.58 129.73,139.7 130.8,137.43 131.86,134.75 132.93,131.64 134,128.08 135.06,124.09 136.12,119.66 137.19,114.84 138.25,109.65 139.32,104.17 140.38,98.43 141.45,92.53 142.51,86.53 143.58,80.5 144.64,74.53 145.71,68.68 146.77,63.02 147.84,57.61 148.9,52.49 149.97,47.71 151.03,43.28 152.1,39.22 153.16,35.54 154.23,32.24 155.29,29.31 156.36,26.72 157.42,24.46 158.49,22.51 159.55,20.84 160.62,19.42 161.69,18.22 162.75,17.22 163.81,16.38 164.88,15.7 165.94,15.14 167.01,14.69 168.07,14.32 169.14,14.03 170.2,13.8 171.27,13.61 172.34,13.47 173.4,13.36 174.46,13.27 175.53,13.2 176.59,13.15 177.66,13.11 178.72,13.08 179.79,13.06 180.85,13.05 181.92,13.03 182.98,13.02 184.05,13.02 185.11,13.01 186.18,13.01 187.25,13.01 188.31,13 189.38,13 190.44,13 191.5,13 192.57,13 193.63,13 194.7,13' fill='none' stroke='#000' stroke-width='1.5' stroke-linejoin='round'/>
<rect x='115.6' y='115.5' width='76' height='27.8' fill='#fff' stroke='#333' stroke-width='0.4'/>
<line x1='116.5' y1='118.9' x2='132.5' y2='118.9' stroke='#1a1adf' stroke-width='1.3'/>
<text x='134.5' y='120.5' font-size='4.5' text-anchor='start' font-family='Liberation Serif' fill='#000' >AC Unit</text>
<line x1='116.5' y1='124.25' x2='132.5' y2='124.25' stroke='#25d625' stroke-width='1.3'/>
<text x='134.5' y='125.85' font-size='4.5' text-anchor='start' font-family='Liberation Serif' fill='#000' >Refrigeration Rack System</text>
<line x1='116.5' y1='129.6' x2='132.5' y2='129.6' stroke='#16e5ea' stroke-width='1.3'/>
<text x='134.5' y='131.2' font-size='4.5' text-anchor='start' font-family='Liberation Serif' fill='#000' >Mid Electrical outlets</text>
<line x1='116.5' y1='134.95' x2='132.5' y2='134.95' stroke='#ee13ee' stroke-width='1.3'/>
<text x='134.5' y='136.55' font-size='4.5' text-anchor='start' font-family='Liberation Serif' fill='#000' >External Wall sheathing (DS3)</text>
<line x1='116.5' y1='140.3' x2='132.5' y2='140.3' stroke='#000' stroke-width='1.3'/>
<text x='134.5' y='141.9' font-size='4.5' text-anchor='start' font-family='Liberation Serif' fill='#000' >Roof (Trusses)</text>
<text x='109.5' y='163.3' font-size='7.3' text-anchor='middle' font-family='Liberation Serif' fill='#000' >Flood Depth (m)</text>
<text x='12.6' y='80' font-size='7.3' text-anchor='middle' font-family='Liberation Serif' fill='#000' transform='rotate(-90 12.6 80.0)'>Probability of Failure</text>
<text x='5.5' y='14.5' font-size='11' font-weight='bold' font-family='Liberation Serif'>(a)</text>
<rect x='228.0' y='11.9' width='178.5' height='133.7' fill='#d6d6d6'/>
<polygon points='228,145.6 228.89,145.6 229.78,145.45 230.68,142.8 231.57,133.02 232.46,115.63 233.35,94.64 234.25,74.33 235.14,57.14 236.03,43.78 236.93,33.94 237.82,26.95 238.71,22.1 239.6,18.78 240.5,16.54 241.39,15.03 242.28,14.01 243.17,13.33 244.06,12.87 244.96,12.56 245.85,12.35 246.74,12.21 247.63,12.12 248.53,12.05 249.42,12 250.31,11.97 251.21,11.95 252.1,11.94 252.99,11.93 253.88,11.92 254.78,11.91 255.67,11.91 256.56,11.91 257.45,11.91 258.35,11.9 259.24,11.9 260.13,11.9 261.02,11.9 261.92,11.9 262.81,11.9 263.7,11.9 264.59,11.9 265.49,11.9 266.38,11.9 267.27,11.9 268.16,11.9 269.06,11.9 269.95,11.9 270.84,11.9 271.73,11.9 272.62,11.9 273.52,11.9 274.41,11.9 275.3,11.9 276.19,11.9 277.09,11.9 277.98,11.9 278.87,11.9 279.76,11.9 280.66,11.9 281.55,11.9 282.44,11.9 283.33,11.9 284.23,11.9 285.12,11.9 286.01,11.9 286.9,11.9 287.8,11.9 288.69,11.9 289.58,11.9 290.48,11.9 291.37,11.9 292.26,11.9 293.15,11.9 294.05,11.9 294.94,11.9 295.83,11.9 296.72,11.9 297.62,11.9 298.51,11.9 299.4,11.9 300.29,11.9 301.19,11.9 302.08,11.9 302.97,11.9 303.86,11.9 304.75,11.9 305.65,11.9 306.54,11.9 307.43,11.9 308.32,11.9 309.22,11.9 310.11,11.9 311,11.9 311.89,11.9 312.79,11.9 313.68,11.9 314.57,11.9 315.47,11.9 316.36,11.9 317.25,11.9 318.14,11.9 319.03,11.9 319.93,11.9 320.82,11.9 321.71,11.9 322.61,11.9 323.5,11.9 324.39,11.9 325.28,11.9 326.18,11.9 327.07,11.9 327.96,11.9 328.85,11.9 329.75,11.9 330.64,11.9 331.53,11.9 332.42,11.9 333.31,11.9 334.21,11.9 335.1,11.9 335.99,11.9 336.88,11.9 337.78,11.9 338.67,11.9 339.56,11.9 340.45,11.9 341.35,11.9 342.24,11.9 343.13,11.9 344.02,11.9 344.92,11.9 345.81,11.9 346.7,11.9 347.6,11.9 348.49,11.9 349.38,11.9 350.27,11.9 351.17,11.9 352.06,11.9 352.95,11.9 353.84,11.9 354.74,11.9 355.63,11.9 356.52,11.9 357.41,11.9 358.31,11.9 359.2,11.9 360.09,11.9 360.98,11.9 361.88,11.9 362.77,11.9 363.66,11.9 364.55,11.9 365.44,11.9 366.34,11.9 367.23,11.9 368.12,11.9 369.01,11.9 369.91,11.9 370.8,11.9 371.69,11.9 372.59,11.9 373.48,11.9 374.37,11.9 375.26,11.9 376.15,11.9 377.05,11.9 377.94,11.9 378.83,11.9 379.73,11.9 380.62,11.9 381.51,11.9 382.4,11.9 383.29,11.9 384.19,11.9 385.08,11.9 385.97,11.9 386.87,11.9 387.76,11.9 388.65,11.9 389.54,11.9 390.44,11.9 391.33,11.9 392.22,11.9 393.11,11.9 394,11.9 394.9,11.9 395.79,11.9 396.68,11.9 397.58,11.9 398.47,11.9 399.36,11.9 400.25,11.9 401.14,11.9 402.04,11.9 402.93,11.9 403.82,11.9 404.72,11.9 405.61,11.9 406.5,11.9 406.5,145.6 228,145.6' fill='#bcbcbc'/>
<polygon points='228,145.6 228.89,145.6 229.78,145.58 230.68,145.3 231.57,144.22 232.46,141.84 233.35,137.93 234.25,132.59 235.14,126.09 236.03,118.8 236.93,111.06 237.82,103.17 238.71,95.38 239.6,87.85 240.5,80.71 241.39,74.02 242.28,67.84 243.17,62.16 244.06,56.98 244.96,52.28 245.85,48.05 246.74,44.23 247.63,40.81 248.53,37.74 249.42,35 250.31,32.55 251.21,30.37 252.1,28.42 252.99,26.68 253.88,25.13 254.78,23.76 255.67,22.53 256.56,21.43 257.45,20.45 258.35,19.58 259.24,18.8 260.13,18.11 261.02,17.49 261.92,16.93 262.81,16.44 263.7,15.99 264.59,15.59 265.49,15.24 266.38,14.92 267.27,14.63 268.16,14.37 269.06,14.14 269.95,13.93 270.84,13.74 271.73,13.57 272.62,13.42 273.52,13.28 274.41,13.16 275.3,13.05 276.19,12.94 277.09,12.85 277.98,12.77 278.87,12.69 279.76,12.63 280.66,12.56 281.55,12.51 282.44,12.46 283.33,12.41 284.23,12.37 285.12,12.33 286.01,12.29 286.9,12.26 287.8,12.23 288.69,12.2 289.58,12.18 290.48,12.16 291.37,12.14 292.26,12.12 293.15,12.1 294.05,12.09 294.94,12.07 295.83,12.06 296.72,12.05 297.62,12.04 298.51,12.03 299.4,12.02 300.29,12.01 301.19,12 302.08,11.99 302.97,11.99 303.86,11.98 304.75,11.97 305.65,11.97 306.54,11.96 307.43,11.96 308.32,11.95 309.22,11.95 310.11,11.95 311,11.94 311.89,11.94 312.79,11.94 313.68,11.94 314.57,11.93 315.47,11.93 316.36,11.93 317.25,11.93 318.14,11.93 319.03,11.92 319.93,11.92 320.82,11.92 321.71,11.92 322.61,11.92 323.5,11.92 324.39,11.92 325.28,11.91 326.18,11.91 327.07,11.91 327.96,11.91 328.85,11.91 329.75,11.91 330.64,11.91 331.53,11.91 332.42,11.91 333.31,11.91 334.21,11.91 335.1,11.91 335.99,11.91 336.88,11.91 337.78,11.91 338.67,11.91 339.56,11.91 340.45,11.91 341.35,11.9 342.24,11.9 343.13,11.9 344.02,11.9 344.92,11.9 345.81,11.9 346.7,11.9 347.6,11.9 348.49,11.9 349.38,11.9 350.27,11.9 351.17,11.9 352.06,11.9 352.95,11.9 353.84,11.9 354.74,11.9 355.63,11.9 356.52,11.9 357.41,11.9 358.31,11.9 359.2,11.9 360.09,11.9 360.98,11.9 361.88,11.9 362.77,11.9 363.66,11.9 364.55,11.9 365.44,11.9 366.34,11.9 367.23,11.9 368.12,11.9 369.01,11.9 369.91,11.9 370.8,11.9 371.69,11.9 372.59,11.9 373.48,11.9 374.37,11.9 375.26,11.9 376.15,11.9 377.05,11.9 377.94,11.9 378.83,11.9 379.73,11.9 380.62,11.9 381.51,11.9 382.4,11.9 383.29,11.9 384.19,11.9 385.08,11.9 385.97,11.9 386.87,11.9 387.76,11.9 388.65,11.9 389.54,11.9 390.44,11.9 391.33,11.9 392.22,11.9 393.11,11.9 394,11.9 394.9,11.9 395.79,11.9 396.68,11.9 397.58,11.9 398.47,11.9 399.36,11.9 400.25,11.9 401.14,11.9 402.04,11.9 402.93,11.9 403.82,11.9 404.72,11.9 405.61,11.9 406.5,11.9 406.5,145.6 228,145.6' fill='#a6a6a6'/>
<polygon points='228,145.6 228.89,145.6 229.78,145.6 230.68,145.6 231.57,145.6 232.46,145.58 233.35,145.55 234.25,145.48 235.14,145.37 236.03,145.18 236.93,144.92 237.82,144.56 238.71,144.09 239.6,143.52 240.5,142.82 241.39,142.01 242.28,141.07 243.17,140.02 244.06,138.86 244.96,137.59 245.85,136.22 246.74,134.75 247.63,133.2 248.53,131.56 249.42,129.86 250.31,128.09 251.21,126.27 252.1,124.4 252.99,122.49 253.88,120.54 254.78,118.57 255.67,116.57 256.56,114.57 257.45,112.55 258.35,110.52 259.24,108.5 260.13,106.48 261.02,104.47 261.92,102.47 262.81,100.48 263.7,98.51 264.59,96.56 265.49,94.63 266.38,92.73 267.27,90.85 268.16,89 269.06,87.17 269.95,85.38 270.84,83.62 271.73,81.88 272.62,80.18 273.52,78.51 274.41,76.88 275.3,75.27 276.19,73.7 277.09,72.17 277.98,70.66 278.87,69.19 279.76,67.75 280.66,66.35 281.55,64.98 282.44,63.63 283.33,62.32 284.23,61.05 285.12,59.8 286.01,58.58 286.9,57.39 287.8,56.23 288.69,55.11 289.58,54 290.48,52.93 291.37,51.88 292.26,50.86 293.15,49.87 294.05,48.9 294.94,47.96 295.83,47.04 296.72,46.15 297.62,45.28 298.51,44.43 299.4,43.6 300.29,42.8 301.19,42.01 302.08,41.25 302.97,40.51 303.86,39.78 304.75,39.08 305.65,38.4 306.54,37.73 307.43,37.08 308.32,36.45 309.22,35.83 310.11,35.23 311,34.65 311.89,34.08 312.79,33.53 313.68,32.99 314.57,32.47 315.47,31.96 316.36,31.46 317.25,30.98 318.14,30.51 319.03,30.05 319.93,29.61 320.82,29.18 321.71,28.75 322.61,28.34 323.5,27.94 324.39,27.55 325.28,27.17 326.18,26.8 327.07,26.44 327.96,26.09 328.85,25.75 329.75,25.42 330.64,25.1 331.53,24.78 332.42,24.47 333.31,24.18 334.21,23.88 335.1,23.6 335.99,23.32 336.88,23.06 337.78,22.79 338.67,22.54 339.56,22.29 340.45,22.05 341.35,21.81 342.24,21.58 343.13,21.36 344.02,21.14 344.92,20.92 345.81,20.72 346.7,20.51 347.6,20.32 348.49,20.12 349.38,19.94 350.27,19.75 351.17,19.57 352.06,19.4 352.95,19.23 353.84,19.07 354.74,18.9 355.63,18.75 356.52,18.59 357.41,18.44 358.31,18.3 359.2,18.16 360.09,18.02 360.98,17.88 361.88,17.75 362.77,17.62 363.66,17.5 364.55,17.37 365.44,17.25 366.34,17.14 367.23,17.02 368.12,16.91 369.01,16.8 369.91,16.7 370.8,16.59 371.69,16.49 372.59,16.39 373.48,16.3 374.37,16.2 375.26,16.11 376.15,16.02 377.05,15.93 377.94,15.85 378.83,15.76 379.73,15.68 380.62,15.6 381.51,15.53 382.4,15.45 383.29,15.38 384.19,15.3 385.08,15.23 385.97,15.16 386.87,15.1 387.76,15.03 388.65,14.97 389.54,14.9 390.44,14.84 391.33,14.78 392.22,14.72 393.11,14.66 394,14.61 394.9,14.55 395.79,14.5 396.68,14.45 397.58,14.4 398.47,14.35 399.36,14.3 400.25,14.25 401.14,14.2 402.04,14.16 402.93,14.11 403.82,14.07 404.72,14.02 405.61,13.98 406.5,13.94 406.5,145.6 228,145.6' fill='#8f8f8f'/>
<polygon points='228,145.6 228.89,145.6 229.78,145.6 230.68,145.6 231.57,145.6 232.46,145.6 233.35,145.6 234.25,145.6 235.14,145.6 236.03,145.6 236.93,145.6 237.82,145.6 238.71,145.6 239.6,145.6 240.5,145.6 241.39,145.6 242.28,145.6 243.17,145.6 244.06,145.6 244.96,145.6 245.85,145.6 246.74,145.6 247.63,145.6 248.53,145.6 249.42,145.6 250.31,145.6 251.21,145.6 252.1,145.6 252.99,145.6 253.88,145.6 254.78,145.6 255.67,145.6 256.56,145.6 257.45,145.6 258.35,145.6 259.24,145.6 260.13,145.6 261.02,145.6 261.92,145.6 262.81,145.6 263.7,145.6 264.59,145.6 265.49,145.6 266.38,145.6 267.27,145.6 268.16,145.6 269.06,145.6 269.95,145.6 270.84,145.6 271.73,145.6 272.62,145.6 273.52,145.6 274.41,145.59 275.3,145.59 276.19,145.59 277.09,145.58 277.98,145.58 278.87,145.57 279.76,145.56 280.66,145.54 281.55,145.52 282.44,145.5 283.33,145.47 284.23,145.43 285.12,145.38 286.01,145.32 286.9,145.25 287.8,145.17 288.69,145.06 289.58,144.94 290.48,144.8 291.37,144.62 292.26,144.43 293.15,144.2 294.05,143.93 294.94,143.63 295.83,143.29 296.72,142.9 297.62,142.47 298.51,141.99 299.4,141.45 300.29,140.86 301.19,140.2 302.08,139.49 302.97,138.71 303.86,137.86 304.75,136.95 305.65,135.97 306.54,134.91 307.43,133.78 308.32,132.59 309.22,131.31 310.11,129.97 311,128.56 311.89,127.07 312.79,125.52 313.68,123.9 314.57,122.22 315.47,120.47 316.36,118.67 317.25,116.8 318.14,114.89 319.03,112.92 319.93,110.91 320.82,108.86 321.71,106.77 322.61,104.65 323.5,102.5 324.39,100.32 325.28,98.12 326.18,95.91 327.07,93.68 327.96,91.45 328.85,89.21 329.75,86.98 330.64,84.75 331.53,82.53 332.42,80.32 333.31,78.13 334.21,75.95 335.1,73.8 335.99,71.68 336.88,69.58 337.78,67.52 338.67,65.49 339.56,63.49 340.45,61.53 341.35,59.62 342.24,57.74 343.13,55.91 344.02,54.12 344.92,52.37 345.81,50.68 346.7,49.02 347.6,47.42 348.49,45.86 349.38,44.35 350.27,42.89 351.17,41.48 352.06,40.11 352.95,38.79 353.84,37.52 354.74,36.29 355.63,35.11 356.52,33.97 357.41,32.88 358.31,31.83 359.2,30.83 360.09,29.86 360.98,28.94 361.88,28.05 362.77,27.21 363.66,26.4 364.55,25.63 365.44,24.89 366.34,24.18 367.23,23.51 368.12,22.87 369.01,22.27 369.91,21.69 370.8,21.14 371.69,20.61 372.59,20.12 373.48,19.64 374.37,19.2 375.26,18.77 376.15,18.37 377.05,17.99 377.94,17.63 378.83,17.29 379.73,16.97 380.62,16.66 381.51,16.38 382.4,16.1 383.29,15.85 384.19,15.6 385.08,15.38 385.97,15.16 386.87,14.96 387.76,14.77 388.65,14.59 389.54,14.42 390.44,14.26 391.33,14.11 392.22,13.97 393.11,13.84 394,13.71 394.9,13.59 395.79,13.49 396.68,13.38 397.58,13.29 398.47,13.2 399.36,13.11 400.25,13.03 401.14,12.96 402.04,12.89 402.93,12.82 403.82,12.76 404.72,12.7 405.61,12.65 406.5,12.6 406.5,145.6 228,145.6' fill='#5b5b5b'/>
<rect x='228.0' y='11.9' width='178.5' height='133.7' fill='none' stroke='#555' stroke-width='0.8'/>
<polyline points='228,145.6 228.89,145.6 229.78,145.45 230.68,142.8 231.57,133.02 232.46,115.63 233.35,94.64 234.25,74.33 235.14,57.14 236.03,43.78 236.93,33.94 237.82,26.95 238.71,22.1 239.6,18.78 240.5,16.54 241.39,15.03 242.28,14.01 243.17,13.33 244.06,12.87 244.96,12.56 245.85,12.35 246.74,12.21 247.63,12.12 248.53,12.05 249.42,12 250.31,11.97 251.21,11.95 252.1,11.94 252.99,11.93 253.88,11.92 254.78,11.91 255.67,11.91 256.56,11.91 257.45,11.91 258.35,11.9 259.24,11.9 260.13,11.9 261.02,11.9 261.92,11.9 262.81,11.9 263.7,11.9 264.59,11.9 265.49,11.9 266.38,11.9 267.27,11.9 268.16,11.9 269.06,11.9 269.95,11.9 270.84,11.9 271.73,11.9 272.62,11.9 273.52,11.9 274.41,11.9 275.3,11.9 276.19,11.9 277.09,11.9 277.98,11.9 278.87,11.9 279.76,11.9 280.66,11.9 281.55,11.9 282.44,11.9 283.33,11.9 284.23,11.9 285.12,11.9 286.01,11.9 286.9,11.9 287.8,11.9 288.69,11.9 289.58,11.9 290.48,11.9 291.37,11.9 292.26,11.9 293.15,11.9 294.05,11.9 294.94,11.9 295.83,11.9 296.72,11.9 297.62,11.9 298.51,11.9 299.4,11.9 300.29,11.9 301.19,11.9 302.08,11.9 302.97,11.9 303.86,11.9 304.75,11.9 305.65,11.9 306.54,11.9 307.43,11.9 308.32,11.9 309.22,11.9 310.11,11.9 311,11.9 311.89,11.9 312.79,11.9 313.68,11.9 314.57,11.9 315.47,11.9 316.36,11.9 317.25,11.9 318.14,11.9 319.03,11.9 319.93,11.9 320.82,11.9 321.71,11.9 322.61,11.9 323.5,11.9 324.39,11.9 325.28,11.9 326.18,11.9 327.07,11.9 327.96,11.9 328.85,11.9 329.75,11.9 330.64,11.9 331.53,11.9 332.42,11.9 333.31,11.9 334.21,11.9 335.1,11.9 335.99,11.9 336.88,11.9 337.78,11.9 338.67,11.9 339.56,11.9 340.45,11.9 341.35,11.9 342.24,11.9 343.13,11.9 344.02,11.9 344.92,11.9 345.81,11.9 346.7,11.9 347.6,11.9 348.49,11.9 349.38,11.9 350.27,11.9 351.17,11.9 352.06,11.9 352.95,11.9 353.84,11.9 354.74,11.9 355.63,11.9 356.52,11.9 357.41,11.9 358.31,11.9 359.2,11.9 360.09,11.9 360.98,11.9 361.88,11.9 362.77,11.9 363.66,11.9 364.55,11.9 365.44,11.9 366.34,11.9 367.23,11.9 368.12,11.9 369.01,11.9 369.91,11.9 370.8,11.9 371.69,11.9 372.59,11.9 373.48,11.9 374.37,11.9 375.26,11.9 376.15,11.9 377.05,11.9 377.94,11.9 378.83,11.9 379.73,11.9 380.62,11.9 381.51,11.9 382.4,11.9 383.29,11.9 384.19,11.9 385.08,11.9 385.97,11.9 386.87,11.9 387.76,11.9 388.65,11.9 389.54,11.9 390.44,11.9 391.33,11.9 392.22,11.9 393.11,11.9 394,11.9 394.9,11.9 395.79,11.9 396.68,11.9 397.58,11.9 398.47,11.9 399.36,11.9 400.25,11.9 401.14,11.9 402.04,11.9 402.93,11.9 403.82,11.9 404.72,11.9 405.61,11.9 406.5,11.9' fill='none' stroke='#2be0e8' stroke-width='1.4'/>
<polyline points='228,145.6 228.89,145.6 229.78,145.58 230.68,145.3 231.57,144.22 232.46,141.84 233.35,137.93 234.25,132.59 235.14,126.09 236.03,118.8 236.93,111.06 237.82,103.17 238.71,95.38 239.6,87.85 240.5,80.71 241.39,74.02 242.28,67.84 243.17,62.16 244.06,56.98 244.96,52.28 245.85,48.05 246.74,44.23 247.63,40.81 248.53,37.74 249.42,35 250.31,32.55 251.21,30.37 252.1,28.42 252.99,26.68 253.88,25.13 254.78,23.76 255.67,22.53 256.56,21.43 257.45,20.45 258.35,19.58 259.24,18.8 260.13,18.11 261.02,17.49 261.92,16.93 262.81,16.44 263.7,15.99 264.59,15.59 265.49,15.24 266.38,14.92 267.27,14.63 268.16,14.37 269.06,14.14 269.95,13.93 270.84,13.74 271.73,13.57 272.62,13.42 273.52,13.28 274.41,13.16 275.3,13.05 276.19,12.94 277.09,12.85 277.98,12.77 278.87,12.69 279.76,12.63 280.66,12.56 281.55,12.51 282.44,12.46 283.33,12.41 284.23,12.37 285.12,12.33 286.01,12.29 286.9,12.26 287.8,12.23 288.69,12.2 289.58,12.18 290.48,12.16 291.37,12.14 292.26,12.12 293.15,12.1 294.05,12.09 294.94,12.07 295.83,12.06 296.72,12.05 297.62,12.04 298.51,12.03 299.4,12.02 300.29,12.01 301.19,12 302.08,11.99 302.97,11.99 303.86,11.98 304.75,11.97 305.65,11.97 306.54,11.96 307.43,11.96 308.32,11.95 309.22,11.95 310.11,11.95 311,11.94 311.89,11.94 312.79,11.94 313.68,11.94 314.57,11.93 315.47,11.93 316.36,11.93 317.25,11.93 318.14,11.93 319.03,11.92 319.93,11.92 320.82,11.92 321.71,11.92 322.61,11.92 323.5,11.92 324.39,11.92 325.28,11.91 326.18,11.91 327.07,11.91 327.96,11.91 328.85,11.91 329.75,11.91 330.64,11.91 331.53,11.91 332.42,11.91 333.31,11.91 334.21,11.91 335.1,11.91 335.99,11.91 336.88,11.91 337.78,11.91 338.67,11.91 339.56,11.91 340.45,11.91 341.35,11.9 342.24,11.9 343.13,11.9 344.02,11.9 344.92,11.9 345.81,11.9 346.7,11.9 347.6,11.9 348.49,11.9 349.38,11.9 350.27,11.9 351.17,11.9 352.06,11.9 352.95,11.9 353.84,11.9 354.74,11.9 355.63,11.9 356.52,11.9 357.41,11.9 358.31,11.9 359.2,11.9 360.09,11.9 360.98,11.9 361.88,11.9 362.77,11.9 363.66,11.9 364.55,11.9 365.44,11.9 366.34,11.9 367.23,11.9 368.12,11.9 369.01,11.9 369.91,11.9 370.8,11.9 371.69,11.9 372.59,11.9 373.48,11.9 374.37,11.9 375.26,11.9 376.15,11.9 377.05,11.9 377.94,11.9 378.83,11.9 379.73,11.9 380.62,11.9 381.51,11.9 382.4,11.9 383.29,11.9 384.19,11.9 385.08,11.9 385.97,11.9 386.87,11.9 387.76,11.9 388.65,11.9 389.54,11.9 390.44,11.9 391.33,11.9 392.22,11.9 393.11,11.9 394,11.9 394.9,11.9 395.79,11.9 396.68,11.9 397.58,11.9 398.47,11.9 399.36,11.9 400.25,11.9 401.14,11.9 402.04,11.9 402.93,11.9 403.82,11.9 404.72,11.9 405.61,11.9 406.5,11.9' fill='none' stroke='#27db27' stroke-width='1.4'/>
<polyline points='228,145.6 228.89,145.6 229.78,145.6 230.68,145.6 231.57,145.6 232.46,145.58 233.35,145.55 234.25,145.48 235.14,145.37 236.03,145.18 236.93,144.92 237.82,144.56 238.71,144.09 239.6,143.52 240.5,142.82 241.39,142.01 242.28,141.07 243.17,140.02 244.06,138.86 244.96,137.59 245.85,136.22 246.74,134.75 247.63,133.2 248.53,131.56 249.42,129.86 250.31,128.09 251.21,126.27 252.1,124.4 252.99,122.49 253.88,120.54 254.78,118.57 255.67,116.57 256.56,114.57 257.45,112.55 258.35,110.52 259.24,108.5 260.13,106.48 261.02,104.47 261.92,102.47 262.81,100.48 263.7,98.51 264.59,96.56 265.49,94.63 266.38,92.73 267.27,90.85 268.16,89 269.06,87.17 269.95,85.38 270.84,83.62 271.73,81.88 272.62,80.18 273.52,78.51 274.41,76.88 275.3,75.27 276.19,73.7 277.09,72.17 277.98,70.66 278.87,69.19 279.76,67.75 280.66,66.35 281.55,64.98 282.44,63.63 283.33,62.32 284.23,61.05 285.12,59.8 286.01,58.58 286.9,57.39 287.8,56.23 288.69,55.11 289.58,54 290.48,52.93 291.37,51.88 292.26,50.86 293.15,49.87 294.05,48.9 294.94,47.96 295.83,47.04 296.72,46.15 297.62,45.28 298.51,44.43 299.4,43.6 300.29,42.8 301.19,42.01 302.08,41.25 302.97,40.51 303.86,39.78 304.75,39.08 305.65,38.4 306.54,37.73 307.43,37.08 308.32,36.45 309.22,35.83 310.11,35.23 311,34.65 311.89,34.08 312.79,33.53 313.68,32.99 314.57,32.47 315.47,31.96 316.36,31.46 317.25,30.98 318.14,30.51 319.03,30.05 319.93,29.61 320.82,29.18 321.71,28.75 322.61,28.34 323.5,27.94 324.39,27.55 325.28,27.17 326.18,26.8 327.07,26.44 327.96,26.09 328.85,25.75 329.75,25.42 330.64,25.1 331.53,24.78 332.42,24.47 333.31,24.18 334.21,23.88 335.1,23.6 335.99,23.32 336.88,23.06 337.78,22.79 338.67,22.54 339.56,22.29 340.45,22.05 341.35,21.81 342.24,21.58 343.13,21.36 344.02,21.14 344.92,20.92 345.81,20.72 346.7,20.51 347.6,20.32 348.49,20.12 349.38,19.94 350.27,19.75 351.17,19.57 352.06,19.4 352.95,19.23 353.84,19.07 354.74,18.9 355.63,18.75 356.52,18.59 357.41,18.44 358.31,18.3 359.2,18.16 360.09,18.02 360.98,17.88 361.88,17.75 362.77,17.62 363.66,17.5 364.55,17.37 365.44,17.25 366.34,17.14 367.23,17.02 368.12,16.91 369.01,16.8 369.91,16.7 370.8,16.59 371.69,16.49 372.59,16.39 373.48,16.3 374.37,16.2 375.26,16.11 376.15,16.02 377.05,15.93 377.94,15.85 378.83,15.76 379.73,15.68 380.62,15.6 381.51,15.53 382.4,15.45 383.29,15.38 384.19,15.3 385.08,15.23 385.97,15.16 386.87,15.1 387.76,15.03 388.65,14.97 389.54,14.9 390.44,14.84 391.33,14.78 392.22,14.72 393.11,14.66 394,14.61 394.9,14.55 395.79,14.5 396.68,14.45 397.58,14.4 398.47,14.35 399.36,14.3 400.25,14.25 401.14,14.2 402.04,14.16 402.93,14.11 403.82,14.07 404.72,14.02 405.61,13.98 406.5,13.94' fill='none' stroke='#e8e82a' stroke-width='1.4'/>
<polyline points='228,145.6 228.89,145.6 229.78,145.6 230.68,145.6 231.57,145.6 232.46,145.6 233.35,145.6 234.25,145.6 235.14,145.6 236.03,145.6 236.93,145.6 237.82,145.6 238.71,145.6 239.6,145.6 240.5,145.6 241.39,145.6 242.28,145.6 243.17,145.6 244.06,145.6 244.96,145.6 245.85,145.6 246.74,145.6 247.63,145.6 248.53,145.6 249.42,145.6 250.31,145.6 251.21,145.6 252.1,145.6 252.99,145.6 253.88,145.6 254.78,145.6 255.67,145.6 256.56,145.6 257.45,145.6 258.35,145.6 259.24,145.6 260.13,145.6 261.02,145.6 261.92,145.6 262.81,145.6 263.7,145.6 264.59,145.6 265.49,145.6 266.38,145.6 267.27,145.6 268.16,145.6 269.06,145.6 269.95,145.6 270.84,145.6 271.73,145.6 272.62,145.6 273.52,145.6 274.41,145.59 275.3,145.59 276.19,145.59 277.09,145.58 277.98,145.58 278.87,145.57 279.76,145.56 280.66,145.54 281.55,145.52 282.44,145.5 283.33,145.47 284.23,145.43 285.12,145.38 286.01,145.32 286.9,145.25 287.8,145.17 288.69,145.06 289.58,144.94 290.48,144.8 291.37,144.62 292.26,144.43 293.15,144.2 294.05,143.93 294.94,143.63 295.83,143.29 296.72,142.9 297.62,142.47 298.51,141.99 299.4,141.45 300.29,140.86 301.19,140.2 302.08,139.49 302.97,138.71 303.86,137.86 304.75,136.95 305.65,135.97 306.54,134.91 307.43,133.78 308.32,132.59 309.22,131.31 310.11,129.97 311,128.56 311.89,127.07 312.79,125.52 313.68,123.9 314.57,122.22 315.47,120.47 316.36,118.67 317.25,116.8 318.14,114.89 319.03,112.92 319.93,110.91 320.82,108.86 321.71,106.77 322.61,104.65 323.5,102.5 324.39,100.32 325.28,98.12 326.18,95.91 327.07,93.68 327.96,91.45 328.85,89.21 329.75,86.98 330.64,84.75 331.53,82.53 332.42,80.32 333.31,78.13 334.21,75.95 335.1,73.8 335.99,71.68 336.88,69.58 337.78,67.52 338.67,65.49 339.56,63.49 340.45,61.53 341.35,59.62 342.24,57.74 343.13,55.91 344.02,54.12 344.92,52.37 345.81,50.68 346.7,49.02 347.6,47.42 348.49,45.86 349.38,44.35 350.27,42.89 351.17,41.48 352.06,40.11 352.95,38.79 353.84,37.52 354.74,36.29 355.63,35.11 356.52,33.97 357.41,32.88 358.31,31.83 359.2,30.83 360.09,29.86 360.98,28.94 361.88,28.05 362.77,27.21 363.66,26.4 364.55,25.63 365.44,24.89 366.34,24.18 367.23,23.51 368.12,22.87 369.01,22.27 369.91,21.69 370.8,21.14 371.69,20.61 372.59,20.12 373.48,19.64 374.37,19.2 375.26,18.77 376.15,18.37 377.05,17.99 377.94,17.63 378.83,17.29 379.73,16.97 380.62,16.66 381.51,16.38 382.4,16.1 383.29,15.85 384.19,15.6 385.08,15.38 385.97,15.16 386.87,14.96 387.76,14.77 388.65,14.59 389.54,14.42 390.44,14.26 391.33,14.11 392.22,13.97 393.11,13.84 394,13.71 394.9,13.59 395.79,13.49 396.68,13.38 397.58,13.29 398.47,13.2 399.36,13.11 400.25,13.03 401.14,12.96 402.04,12.89 402.93,12.82 403.82,12.76 404.72,12.7 405.61,12.65 406.5,12.6' fill='none' stroke='#e02424' stroke-width='1.4'/>
<text x='228' y='153.2' font-size='5.6' text-anchor='middle' font-family='Liberation Serif' fill='#000' >0</text>
<text x='253.5' y='153.2' font-size='5.6' text-anchor='middle' font-family='Liberation Serif' fill='#000' >1</text>
<text x='279' y='153.2' font-size='5.6' text-anchor='middle' font-family='Liberation Serif' fill='#000' >2</text>
<text x='304.5' y='153.2' font-size='5.6' text-anchor='middle' font-family='Liberation Serif' fill='#000' >3</text>
<text x='330' y='153.2' font-size='5.6' text-anchor='middle' font-family='Liberation Serif' fill='#000' >4</text>
<text x='355.5' y='153.2' font-size='5.6' text-anchor='middle' font-family='Liberation Serif' fill='#000' >5</text>
<text x='381' y='153.2' font-size='5.6' text-anchor='middle' font-family='Liberation Serif' fill='#000' >6</text>
<text x='406.5' y='153.2' font-size='5.6' text-anchor='middle' font-family='Liberation Serif' fill='#000' >7</text>
<text x='225.7' y='147.5' font-size='5.6' text-anchor='end' font-family='Liberation Serif' fill='#000' >0</text>
<text x='225.7' y='134.13' font-size='5.6' text-anchor='end' font-family='Liberation Serif' fill='#000' >0.1</text>
<text x='225.7' y='120.76' font-size='5.6' text-anchor='end' font-family='Liberation Serif' fill='#000' >0.2</text>
<text x='225.7' y='107.39' font-size='5.6' text-anchor='end' font-family='Liberation Serif' fill='#000' >0.3</text>
<text x='225.7' y='94.02' font-size='5.6' text-anchor='end' font-family='Liberation Serif' fill='#000' >0.4</text>
<text x='225.7' y='80.65' font-size='5.6' text-anchor='end' font-family='Liberation Serif' fill='#000' >0.5</text>
<text x='225.7' y='67.28' font-size='5.6' text-anchor='end' font-family='Liberation Serif' fill='#000' >0.6</text>
<text x='225.7' y='53.91' font-size='5.6' text-anchor='end' font-family='Liberation Serif' fill='#000' >0.7</text>
<text x='225.7' y='40.54' font-size='5.6' text-anchor='end' font-family='Liberation Serif' fill='#000' >0.8</text>
<text x='225.7' y='27.17' font-size='5.6' text-anchor='end' font-family='Liberation Serif' fill='#000' >0.9</text>
<text x='225.7' y='13.8' font-size='5.6' text-anchor='end' font-family='Liberation Serif' fill='#000' >1</text>
<rect x='370.9' y='115.3' width='31.8' height='26.5' fill='#fff' stroke='#222' stroke-width='0.4'/>
<line x1='373.3' y1='119.2' x2='389.2' y2='119.2' stroke='#2be0e8' stroke-width='1.3'/>
<text x='390.3' y='121.2' font-size='5.8' text-anchor='start' font-family='Liberation Serif' fill='#000' >DS1</text>
<line x1='373.3' y1='125.45' x2='389.2' y2='125.45' stroke='#27db27' stroke-width='1.3'/>
<text x='390.3' y='127.45' font-size='5.8' text-anchor='start' font-family='Liberation Serif' fill='#000' >DS2</text>
<line x1='373.3' y1='131.7' x2='389.2' y2='131.7' stroke='#e8e82a' stroke-width='1.3'/>
<text x='390.3' y='133.7' font-size='5.8' text-anchor='start' font-family='Liberation Serif' fill='#000' >DS3</text>
<line x1='373.3' y1='137.95' x2='389.2' y2='137.95' stroke='#e02424' stroke-width='1.3'/>
<text x='390.3' y='139.95' font-size='5.8' text-anchor='start' font-family='Liberation Serif' fill='#000' >DS4</text>
<text x='317' y='161.8' font-size='7.3' text-anchor='middle' font-family='Liberation Serif' fill='#000' >Flood Depth (m)</text>
<text x='215.6' y='78.6' font-size='7.3' text-anchor='middle' font-family='Liberation Serif' fill='#000' transform='rotate(-90 215.6 78.6)'>Exceedance Probability of DS</text>
<text x='206.5' y='12.5' font-size='11' font-weight='bold' font-family='Liberation Serif'>(b)</text>
<polygon points='25,339 25.72,339 26.43,338.62 27.15,332.48 27.87,314.45 28.58,290.91 29.3,270.64 30.02,256.7 30.73,248.27 31.45,243.55 32.17,241.02 32.88,239.7 33.6,239.02 34.32,238.66 35.03,238.48 35.75,238.39 36.47,238.34 37.18,238.32 37.9,238.3 38.62,238.29 39.33,238.29 40.05,238.29 40.77,238.29 41.48,238.29 42.2,238.29 42.92,238.29 43.63,238.29 44.35,238.29 45.07,238.29 45.78,238.29 46.5,238.29 47.22,238.29 47.93,238.29 48.65,238.29 49.37,238.29 50.08,238.29 50.8,238.29 51.52,238.29 52.23,238.29 52.95,238.29 53.67,238.29 54.38,238.29 55.1,238.29 55.82,238.29 56.53,238.29 57.25,238.29 57.97,238.29 58.68,238.29 59.4,238.29 60.12,238.29 60.83,238.29 61.55,238.29 62.27,238.29 62.98,238.29 63.7,238.29 64.42,238.29 65.13,238.29 65.85,238.29 66.57,238.29 67.28,238.29 68,238.29 68.72,238.29 69.43,238.29 70.15,238.29 70.87,238.29 71.58,238.29 72.3,238.29 73.02,238.29 73.73,238.29 74.45,238.29 75.17,238.29 75.88,238.29 76.6,238.29 77.32,238.29 78.03,238.29 78.75,238.29 79.47,238.29 80.18,238.29 80.9,238.29 81.62,238.29 82.33,238.29 83.05,238.29 83.77,238.29 84.48,238.29 85.2,238.29 85.92,238.29 86.63,238.29 87.35,238.29 88.07,238.29 88.78,238.29 89.5,238.29 90.22,238.29 90.93,238.29 91.65,238.29 92.37,238.29 93.08,238.29 93.8,238.29 94.52,238.29 95.23,238.29 95.95,238.29 96.67,238.29 97.38,238.29 98.1,238.29 98.82,238.29 99.53,238.29 100.25,238.29 100.97,238.29 101.68,238.29 102.4,238.29 103.12,238.29 103.83,238.29 104.55,238.29 105.27,238.29 105.98,238.29 106.7,238.29 107.42,238.29 108.13,238.29 108.85,238.29 109.57,238.29 110.28,238.29 111,238.29 111.72,238.29 112.43,238.29 113.15,238.29 113.87,238.29 114.58,238.29 115.3,238.29 116.02,238.29 116.73,238.29 117.45,238.29 118.17,238.29 118.88,238.29 119.6,238.29 120.32,238.29 121.03,238.29 121.75,238.29 122.47,238.29 123.18,238.29 123.9,238.29 124.62,238.29 125.33,238.29 126.05,238.29 126.77,238.29 127.48,238.29 128.2,238.29 128.92,238.29 129.63,238.29 130.35,238.29 131.07,238.29 131.78,238.29 132.5,238.29 133.22,238.29 133.93,238.29 134.65,238.29 135.37,238.29 136.08,238.29 136.8,238.29 137.52,238.29 138.23,238.29 138.95,238.29 139.67,238.29 140.38,238.29 141.1,238.29 141.82,238.29 142.53,238.29 143.25,238.29 143.97,238.29 144.68,238.29 145.4,238.29 146.12,238.29 146.83,238.29 147.55,238.29 148.27,238.29 148.98,238.29 149.7,238.29 150.42,238.29 151.13,238.29 151.85,238.29 152.57,238.29 153.28,238.29 154,238.29 154.72,238.29 155.43,238.29 156.15,238.29 156.87,238.29 157.58,238.29 158.3,238.29 159.02,238.29 159.73,238.29 160.45,238.29 161.17,238.29 161.88,238.29 162.6,238.29 163.32,238.29 164.03,238.29 164.75,238.29 165.47,238.29 166.18,238.29 166.9,238.29 167.62,238.29 168.33,238.29 169.05,238.29 169.77,238.29 170.48,238.29 171.2,238.29 171.92,238.29 172.63,238.29 173.35,238.29 174.07,238.29 174.78,238.29 175.5,238.29 176.22,238.29 176.93,238.29 177.65,238.29 178.37,238.29 179.08,238.29 179.8,238.29 180.52,238.29 181.23,238.29 181.95,238.29 182.67,238.29 183.38,238.29 184.1,238.29 184.82,238.29 185.53,238.29 186.25,238.29 186.97,238.29 187.68,238.29 188.4,238.29 189.12,238.29 189.83,238.29 190.55,238.29 191.27,238.29 191.98,238.29 192.7,238.29 193.42,238.29 194.13,238.29 194.85,238.29 195.57,238.29 196.28,238.29 197,238.29 197,278.57 196.28,278.57 195.57,278.57 194.85,278.57 194.13,278.57 193.42,278.57 192.7,278.57 191.98,278.57 191.27,278.57 190.55,278.57 189.83,278.57 189.12,278.57 188.4,278.57 187.68,278.57 186.97,278.57 186.25,278.57 185.53,278.57 184.82,278.57 184.1,278.57 183.38,278.57 182.67,278.57 181.95,278.57 181.23,278.57 180.52,278.57 179.8,278.57 179.08,278.57 178.37,278.57 177.65,278.57 176.93,278.57 176.22,278.57 175.5,278.57 174.78,278.57 174.07,278.57 173.35,278.57 172.63,278.57 171.92,278.57 171.2,278.57 170.48,278.57 169.77,278.57 169.05,278.57 168.33,278.57 167.62,278.57 166.9,278.57 166.18,278.57 165.47,278.57 164.75,278.57 164.03,278.57 163.32,278.57 162.6,278.57 161.88,278.57 161.17,278.57 160.45,278.57 159.73,278.57 159.02,278.57 158.3,278.57 157.58,278.57 156.87,278.57 156.15,278.57 155.43,278.57 154.72,278.57 154,278.57 153.28,278.57 152.57,278.57 151.85,278.57 151.13,278.57 150.42,278.57 149.7,278.57 148.98,278.57 148.27,278.57 147.55,278.57 146.83,278.57 146.12,278.57 145.4,278.57 144.68,278.57 143.97,278.57 143.25,278.57 142.53,278.57 141.82,278.57 141.1,278.57 140.38,278.57 139.67,278.57 138.95,278.57 138.23,278.57 137.52,278.57 136.8,278.57 136.08,278.57 135.37,278.57 134.65,278.57 133.93,278.57 133.22,278.57 132.5,278.57 131.78,278.57 131.07,278.57 130.35,278.57 129.63,278.57 128.92,278.57 128.2,278.57 127.48,278.57 126.77,278.57 126.05,278.57 125.33,278.57 124.62,278.57 123.9,278.57 123.18,278.57 122.47,278.57 121.75,278.57 121.03,278.57 120.32,278.57 119.6,278.57 118.88,278.57 118.17,278.57 117.45,278.57 116.73,278.57 116.02,278.57 115.3,278.57 114.58,278.57 113.87,278.57 113.15,278.57 112.43,278.57 111.72,278.57 111,278.57 110.28,278.57 109.57,278.57 108.85,278.57 108.13,278.57 107.42,278.57 106.7,278.57 105.98,278.57 105.27,278.57 104.55,278.57 103.83,278.57 103.12,278.57 102.4,278.57 101.68,278.57 100.97,278.57 100.25,278.57 99.53,278.57 98.82,278.57 98.1,278.57 97.38,278.57 96.67,278.57 95.95,278.57 95.23,278.57 94.52,278.57 93.8,278.57 93.08,278.57 92.37,278.57 91.65,278.57 90.93,278.57 90.22,278.57 89.5,278.57 88.78,278.57 88.07,278.57 87.35,278.57 86.63,278.57 85.92,278.57 85.2,278.57 84.48,278.57 83.77,278.57 83.05,278.57 82.33,278.57 81.62,278.57 80.9,278.57 80.18,278.57 79.47,278.57 78.75,278.57 78.03,278.57 77.32,278.57 76.6,278.57 75.88,278.57 75.17,278.57 74.45,278.57 73.73,278.57 73.02,278.57 72.3,278.57 71.58,278.57 70.87,278.57 70.15,278.57 69.43,278.57 68.72,278.57 68,278.57 67.28,278.57 66.57,278.57 65.85,278.57 65.13,278.57 64.42,278.57 63.7,278.57 62.98,278.57 62.27,278.57 61.55,278.57 60.83,278.57 60.12,278.57 59.4,278.57 58.68,278.57 57.97,278.57 57.25,278.57 56.53,278.57 55.82,278.57 55.1,278.57 54.38,278.57 53.67,278.57 52.95,278.57 52.23,278.57 51.52,278.57 50.8,278.57 50.08,278.57 49.37,278.57 48.65,278.57 47.93,278.57 47.22,278.57 46.5,278.57 45.78,278.57 45.07,278.57 44.35,278.57 43.63,278.57 42.92,278.57 42.2,278.58 41.48,278.58 40.77,278.59 40.05,278.6 39.33,278.62 38.62,278.66 37.9,278.73 37.18,278.86 36.47,279.07 35.75,279.46 35.03,280.12 34.32,281.25 33.6,283.13 32.88,286.18 32.17,290.89 31.45,297.71 30.73,306.75 30.02,317.3 29.3,327.46 28.58,334.82 27.87,338.21 27.15,338.96 26.43,339 25.72,339 25,339' fill='#000' fill-opacity='0.2'/>
<polygon points='25,339 25.72,339 26.43,339 27.15,339 27.87,339 28.58,338.96 29.3,338.28 30.02,334.13 30.73,322.2 31.45,301.86 32.17,278.04 32.88,256.84 33.6,241.47 34.32,231.92 35.03,226.64 35.75,223.98 36.47,222.73 37.18,222.17 37.9,221.93 38.62,221.83 39.33,221.79 40.05,221.78 40.77,221.77 41.48,221.77 42.2,221.77 42.92,221.77 43.63,221.77 44.35,221.77 45.07,221.77 45.78,221.77 46.5,221.77 47.22,221.77 47.93,221.77 48.65,221.77 49.37,221.77 50.08,221.77 50.8,221.77 51.52,221.77 52.23,221.77 52.95,221.77 53.67,221.77 54.38,221.77 55.1,221.77 55.82,221.77 56.53,221.77 57.25,221.77 57.97,221.77 58.68,221.77 59.4,221.77 60.12,221.77 60.83,221.77 61.55,221.77 62.27,221.77 62.98,221.77 63.7,221.77 64.42,221.77 65.13,221.77 65.85,221.77 66.57,221.77 67.28,221.77 68,221.77 68.72,221.77 69.43,221.77 70.15,221.77 70.87,221.77 71.58,221.77 72.3,221.77 73.02,221.77 73.73,221.77 74.45,221.77 75.17,221.77 75.88,221.77 76.6,221.77 77.32,221.77 78.03,221.77 78.75,221.77 79.47,221.77 80.18,221.77 80.9,221.77 81.62,221.77 82.33,221.77 83.05,221.77 83.77,221.77 84.48,221.77 85.2,221.77 85.92,221.77 86.63,221.77 87.35,221.77 88.07,221.77 88.78,221.77 89.5,221.77 90.22,221.77 90.93,221.77 91.65,221.77 92.37,221.77 93.08,221.77 93.8,221.77 94.52,221.77 95.23,221.77 95.95,221.77 96.67,221.77 97.38,221.77 98.1,221.77 98.82,221.77 99.53,221.77 100.25,221.77 100.97,221.77 101.68,221.77 102.4,221.77 103.12,221.77 103.83,221.77 104.55,221.77 105.27,221.77 105.98,221.77 106.7,221.77 107.42,221.77 108.13,221.77 108.85,221.77 109.57,221.77 110.28,221.77 111,221.77 111.72,221.77 112.43,221.77 113.15,221.77 113.87,221.77 114.58,221.77 115.3,221.77 116.02,221.77 116.73,221.77 117.45,221.77 118.17,221.77 118.88,221.77 119.6,221.77 120.32,221.77 121.03,221.77 121.75,221.77 122.47,221.77 123.18,221.77 123.9,221.77 124.62,221.77 125.33,221.77 126.05,221.77 126.77,221.77 127.48,221.77 128.2,221.77 128.92,221.77 129.63,221.77 130.35,221.77 131.07,221.77 131.78,221.77 132.5,221.77 133.22,221.77 133.93,221.77 134.65,221.77 135.37,221.77 136.08,221.77 136.8,221.77 137.52,221.77 138.23,221.77 138.95,221.77 139.67,221.77 140.38,221.77 141.1,221.77 141.82,221.77 142.53,221.77 143.25,221.77 143.97,221.77 144.68,221.77 145.4,221.77 146.12,221.77 146.83,221.77 147.55,221.77 148.27,221.77 148.98,221.77 149.7,221.77 150.42,221.77 151.13,221.77 151.85,221.77 152.57,221.77 153.28,221.77 154,221.77 154.72,221.77 155.43,221.77 156.15,221.77 156.87,221.77 157.58,221.77 158.3,221.77 159.02,221.77 159.73,221.77 160.45,221.77 161.17,221.77 161.88,221.77 162.6,221.77 163.32,221.77 164.03,221.77 164.75,221.77 165.47,221.77 166.18,221.77 166.9,221.77 167.62,221.77 168.33,221.77 169.05,221.77 169.77,221.77 170.48,221.77 171.2,221.77 171.92,221.77 172.63,221.77 173.35,221.77 174.07,221.77 174.78,221.77 175.5,221.77 176.22,221.77 176.93,221.77 177.65,221.77 178.37,221.77 179.08,221.77 179.8,221.77 180.52,221.77 181.23,221.77 181.95,221.77 182.67,221.77 183.38,221.77 184.1,221.77 184.82,221.77 185.53,221.77 186.25,221.77 186.97,221.77 187.68,221.77 188.4,221.77 189.12,221.77 189.83,221.77 190.55,221.77 191.27,221.77 191.98,221.77 192.7,221.77 193.42,221.77 194.13,221.77 194.85,221.77 195.57,221.77 196.28,221.77 197,221.77 197,274.95 196.28,274.95 195.57,274.95 194.85,274.95 194.13,274.95 193.42,274.95 192.7,274.95 191.98,274.95 191.27,274.95 190.55,274.95 189.83,274.95 189.12,274.95 188.4,274.95 187.68,274.95 186.97,274.95 186.25,274.95 185.53,274.95 184.82,274.95 184.1,274.95 183.38,274.95 182.67,274.95 181.95,274.95 181.23,274.95 180.52,274.95 179.8,274.95 179.08,274.95 178.37,274.95 177.65,274.95 176.93,274.95 176.22,274.95 175.5,274.95 174.78,274.95 174.07,274.95 173.35,274.95 172.63,274.95 171.92,274.95 171.2,274.95 170.48,274.95 169.77,274.95 169.05,274.95 168.33,274.95 167.62,274.95 166.9,274.95 166.18,274.95 165.47,274.95 164.75,274.95 164.03,274.95 163.32,274.95 162.6,274.95 161.88,274.95 161.17,274.95 160.45,274.95 159.73,274.95 159.02,274.95 158.3,274.95 157.58,274.95 156.87,274.95 156.15,274.95 155.43,274.95 154.72,274.95 154,274.95 153.28,274.95 152.57,274.95 151.85,274.95 151.13,274.95 150.42,274.95 149.7,274.95 148.98,274.95 148.27,274.95 147.55,274.95 146.83,274.95 146.12,274.95 145.4,274.95 144.68,274.95 143.97,274.95 143.25,274.95 142.53,274.95 141.82,274.95 141.1,274.95 140.38,274.95 139.67,274.95 138.95,274.95 138.23,274.95 137.52,274.95 136.8,274.95 136.08,274.95 135.37,274.95 134.65,274.95 133.93,274.95 133.22,274.95 132.5,274.95 131.78,274.95 131.07,274.95 130.35,274.95 129.63,274.95 128.92,274.95 128.2,274.95 127.48,274.95 126.77,274.95 126.05,274.95 125.33,274.95 124.62,274.95 123.9,274.95 123.18,274.95 122.47,274.95 121.75,274.95 121.03,274.95 120.32,274.95 119.6,274.95 118.88,274.95 118.17,274.95 117.45,274.95 116.73,274.95 116.02,274.95 115.3,274.95 114.58,274.95 113.87,274.95 113.15,274.95 112.43,274.95 111.72,274.95 111,274.95 110.28,274.95 109.57,274.95 108.85,274.95 108.13,274.95 107.42,274.95 106.7,274.95 105.98,274.95 105.27,274.95 104.55,274.95 103.83,274.95 103.12,274.95 102.4,274.95 101.68,274.95 100.97,274.95 100.25,274.95 99.53,274.95 98.82,274.95 98.1,274.95 97.38,274.95 96.67,274.95 95.95,274.95 95.23,274.95 94.52,274.95 93.8,274.95 93.08,274.95 92.37,274.95 91.65,274.95 90.93,274.95 90.22,274.95 89.5,274.95 88.78,274.95 88.07,274.95 87.35,274.95 86.63,274.95 85.92,274.95 85.2,274.95 84.48,274.95 83.77,274.95 83.05,274.95 82.33,274.95 81.62,274.95 80.9,274.95 80.18,274.95 79.47,274.95 78.75,274.95 78.03,274.95 77.32,274.95 76.6,274.95 75.88,274.95 75.17,274.95 74.45,274.95 73.73,274.95 73.02,274.95 72.3,274.95 71.58,274.95 70.87,274.95 70.15,274.95 69.43,274.95 68.72,274.95 68,274.95 67.28,274.95 66.57,274.95 65.85,274.95 65.13,274.95 64.42,274.95 63.7,274.95 62.98,274.95 62.27,274.95 61.55,274.95 60.83,274.95 60.12,274.95 59.4,274.95 58.68,274.95 57.97,274.95 57.25,274.95 56.53,274.95 55.82,274.95 55.1,274.95 54.38,274.95 53.67,274.95 52.95,274.95 52.23,274.95 51.52,274.95 50.8,274.95 50.08,274.95 49.37,274.95 48.65,274.95 47.93,274.95 47.22,274.95 46.5,274.95 45.78,274.95 45.07,274.95 44.35,274.95 43.63,274.96 42.92,274.98 42.2,275.01 41.48,275.07 40.77,275.19 40.05,275.42 39.33,275.85 38.62,276.64 37.9,278.01 37.18,280.31 36.47,283.96 35.75,289.38 35.03,296.8 34.32,305.99 33.6,316.02 32.88,325.37 32.17,332.5 31.45,336.7 30.73,338.46 30.02,338.93 29.3,339 28.58,339 27.87,339 27.15,339 26.43,339 25.72,339 25,339' fill='#000' fill-opacity='0.2'/>
<polygon points='25,339 25.72,339 26.43,339 27.15,339 27.87,339 28.58,339 29.3,339 30.02,339 30.73,339 31.45,339 32.17,339 32.88,339 33.6,339 34.32,339 35.03,339 35.75,339 36.47,339 37.18,339 37.9,339 38.62,339 39.33,339 40.05,339 40.77,339 41.48,339 42.2,339 42.92,339 43.63,339 44.35,339 45.07,339 45.78,339 46.5,339 47.22,339 47.93,339 48.65,339 49.37,339 50.08,339 50.8,339 51.52,339 52.23,339 52.95,339 53.67,339 54.38,339 55.1,339 55.82,339 56.53,339 57.25,339 57.97,339 58.68,339 59.4,338.99 60.12,338.99 60.83,338.99 61.55,338.98 62.27,338.97 62.98,338.96 63.7,338.95 64.42,338.92 65.13,338.9 65.85,338.86 66.57,338.81 67.28,338.76 68,338.69 68.72,338.6 69.43,338.5 70.15,338.37 70.87,338.23 71.58,338.06 72.3,337.87 73.02,337.65 73.73,337.4 74.45,337.12 75.17,336.81 75.88,336.48 76.6,336.11 77.32,335.71 78.03,335.29 78.75,334.84 79.47,334.36 80.18,333.86 80.9,333.34 81.62,332.8 82.33,332.24 83.05,331.67 83.77,331.08 84.48,330.5 85.2,329.9 85.92,329.31 86.63,328.71 87.35,328.12 88.07,327.54 88.78,326.97 89.5,326.4 90.22,325.85 90.93,325.32 91.65,324.8 92.37,324.3 93.08,323.82 93.8,323.36 94.52,322.93 95.23,322.51 95.95,322.11 96.67,321.73 97.38,321.38 98.1,321.05 98.82,320.73 99.53,320.44 100.25,320.17 100.97,319.91 101.68,319.68 102.4,319.46 103.12,319.26 103.83,319.07 104.55,318.9 105.27,318.74 105.98,318.59 106.7,318.46 107.42,318.34 108.13,318.23 108.85,318.13 109.57,318.04 110.28,317.96 111,317.88 111.72,317.81 112.43,317.75 113.15,317.7 113.87,317.65 114.58,317.6 115.3,317.57 116.02,317.53 116.73,317.5 117.45,317.47 118.17,317.44 118.88,317.42 119.6,317.4 120.32,317.38 121.03,317.37 121.75,317.35 122.47,317.34 123.18,317.33 123.9,317.32 124.62,317.31 125.33,317.3 126.05,317.29 126.77,317.29 127.48,317.28 128.2,317.28 128.92,317.27 129.63,317.27 130.35,317.27 131.07,317.27 131.78,317.26 132.5,317.26 133.22,317.26 133.93,317.26 134.65,317.26 135.37,317.25 136.08,317.25 136.8,317.25 137.52,317.25 138.23,317.25 138.95,317.25 139.67,317.25 140.38,317.25 141.1,317.25 141.82,317.25 142.53,317.25 143.25,317.25 143.97,317.25 144.68,317.25 145.4,317.25 146.12,317.25 146.83,317.25 147.55,317.25 148.27,317.25 148.98,317.25 149.7,317.25 150.42,317.25 151.13,317.25 151.85,317.25 152.57,317.25 153.28,317.25 154,317.25 154.72,317.25 155.43,317.25 156.15,317.25 156.87,317.25 157.58,317.25 158.3,317.25 159.02,317.25 159.73,317.25 160.45,317.25 161.17,317.25 161.88,317.25 162.6,317.25 163.32,317.25 164.03,317.25 164.75,317.25 165.47,317.25 166.18,317.25 166.9,317.25 167.62,317.25 168.33,317.25 169.05,317.25 169.77,317.25 170.48,317.25 171.2,317.25 171.92,317.25 172.63,317.25 173.35,317.25 174.07,317.25 174.78,317.25 175.5,317.25 176.22,317.25 176.93,317.25 177.65,317.25 178.37,317.25 179.08,317.25 179.8,317.25 180.52,317.25 181.23,317.25 181.95,317.25 182.67,317.25 183.38,317.25 184.1,317.25 184.82,317.25 185.53,317.25 186.25,317.25 186.97,317.25 187.68,317.25 188.4,317.25 189.12,317.25 189.83,317.25 190.55,317.25 191.27,317.25 191.98,317.25 192.7,317.25 193.42,317.25 194.13,317.25 194.85,317.25 195.57,317.25 196.28,317.25 197,317.25 197,323.29 196.28,323.29 195.57,323.29 194.85,323.29 194.13,323.29 193.42,323.29 192.7,323.29 191.98,323.29 191.27,323.29 190.55,323.29 189.83,323.29 189.12,323.29 188.4,323.29 187.68,323.29 186.97,323.29 186.25,323.29 185.53,323.29 184.82,323.29 184.1,323.29 183.38,323.29 182.67,323.29 181.95,323.29 181.23,323.29 180.52,323.29 179.8,323.29 179.08,323.29 178.37,323.29 177.65,323.29 176.93,323.29 176.22,323.29 175.5,323.29 174.78,323.29 174.07,323.29 173.35,323.29 172.63,323.29 171.92,323.29 171.2,323.29 170.48,323.29 169.77,323.29 169.05,323.29 168.33,323.29 167.62,323.29 166.9,323.29 166.18,323.29 165.47,323.29 164.75,323.29 164.03,323.29 163.32,323.29 162.6,323.29 161.88,323.29 161.17,323.29 160.45,323.29 159.73,323.29 159.02,323.29 158.3,323.29 157.58,323.29 156.87,323.29 156.15,323.29 155.43,323.29 154.72,323.29 154,323.29 153.28,323.29 152.57,323.29 151.85,323.29 151.13,323.29 150.42,323.29 149.7,323.29 148.98,323.29 148.27,323.29 147.55,323.29 146.83,323.29 146.12,323.29 145.4,323.29 144.68,323.29 143.97,323.29 143.25,323.29 142.53,323.29 141.82,323.29 141.1,323.29 140.38,323.29 139.67,323.29 138.95,323.29 138.23,323.29 137.52,323.29 136.8,323.29 136.08,323.29 135.37,323.29 134.65,323.3 133.93,323.3 133.22,323.3 132.5,323.3 131.78,323.3 131.07,323.3 130.35,323.31 129.63,323.31 128.92,323.31 128.2,323.32 127.48,323.32 126.77,323.33 126.05,323.33 125.33,323.34 124.62,323.35 123.9,323.36 123.18,323.37 122.47,323.38 121.75,323.39 121.03,323.41 120.32,323.42 119.6,323.44 118.88,323.46 118.17,323.49 117.45,323.52 116.73,323.55 116.02,323.59 115.3,323.63 114.58,323.67 113.87,323.72 113.15,323.78 112.43,323.84 111.72,323.91 111,323.99 110.28,324.08 109.57,324.17 108.85,324.28 108.13,324.39 107.42,324.52 106.7,324.66 105.98,324.81 105.27,324.98 104.55,325.16 103.83,325.36 103.12,325.57 102.4,325.79 101.68,326.04 100.97,326.3 100.25,326.58 99.53,326.87 98.82,327.18 98.1,327.52 97.38,327.86 96.67,328.23 95.95,328.61 95.23,329 94.52,329.41 93.8,329.83 93.08,330.26 92.37,330.7 91.65,331.14 90.93,331.6 90.22,332.05 89.5,332.5 88.78,332.96 88.07,333.4 87.35,333.84 86.63,334.27 85.92,334.69 85.2,335.09 84.48,335.48 83.77,335.85 83.05,336.2 82.33,336.52 81.62,336.83 80.9,337.11 80.18,337.36 79.47,337.6 78.75,337.81 78.03,338 77.32,338.16 76.6,338.31 75.88,338.43 75.17,338.54 74.45,338.63 73.73,338.71 73.02,338.77 72.3,338.83 71.58,338.87 70.87,338.9 70.15,338.93 69.43,338.95 68.72,338.96 68,338.97 67.28,338.98 66.57,338.99 65.85,338.99 65.13,338.99 64.42,339 63.7,339 62.98,339 62.27,339 61.55,339 60.83,339 60.12,339 59.4,339 58.68,339 57.97,339 57.25,339 56.53,339 55.82,339 55.1,339 54.38,339 53.67,339 52.95,339 52.23,339 51.52,339 50.8,339 50.08,339 49.37,339 48.65,339 47.93,339 47.22,339 46.5,339 45.78,339 45.07,339 44.35,339 43.63,339 42.92,339 42.2,339 41.48,339 40.77,339 40.05,339 39.33,339 38.62,339 37.9,339 37.18,339 36.47,339 35.75,339 35.03,339 34.32,339 33.6,339 32.88,339 32.17,339 31.45,339 30.73,339 30.02,339 29.3,339 28.58,339 27.87,339 27.15,339 26.43,339 25.72,339 25,339' fill='#000' fill-opacity='0.2'/>
<polygon points='25,339 25.72,339 26.43,339 27.15,339 27.87,339 28.58,339 29.3,339 30.02,339 30.73,339 31.45,339 32.17,339 32.88,339 33.6,339 34.32,339 35.03,339 35.75,339 36.47,339 37.18,339 37.9,339 38.62,339 39.33,339 40.05,339 40.77,339 41.48,339 42.2,339 42.92,339 43.63,339 44.35,339 45.07,339 45.78,339 46.5,339 47.22,339 47.93,339 48.65,339 49.37,339 50.08,339 50.8,339 51.52,339 52.23,339 52.95,339 53.67,339 54.38,339 55.1,339 55.82,339 56.53,339 57.25,339 57.97,339 58.68,339 59.4,339 60.12,339 60.83,339 61.55,339 62.27,339 62.98,339 63.7,339 64.42,339 65.13,339 65.85,339 66.57,339 67.28,339 68,339 68.72,339 69.43,339 70.15,339 70.87,339 71.58,339 72.3,339 73.02,339 73.73,339 74.45,339 75.17,339 75.88,339 76.6,339 77.32,339 78.03,339 78.75,339 79.47,339 80.18,339 80.9,339 81.62,339 82.33,339 83.05,339 83.77,339 84.48,339 85.2,339 85.92,339 86.63,339 87.35,339 88.07,339 88.78,339 89.5,339 90.22,339 90.93,339 91.65,339 92.37,339 93.08,339 93.8,339 94.52,339 95.23,339 95.95,339 96.67,339 97.38,339 98.1,339 98.82,339 99.53,339 100.25,339 100.97,339 101.68,339 102.4,339 103.12,339 103.83,339 104.55,339 105.27,339 105.98,339 106.7,339 107.42,339 108.13,339 108.85,339 109.57,339 110.28,339 111,339 111.72,339 112.43,339 113.15,339 113.87,339 114.58,338.99 115.3,338.99 116.02,338.99 116.73,338.98 117.45,338.97 118.17,338.96 118.88,338.94 119.6,338.91 120.32,338.87 121.03,338.82 121.75,338.75 122.47,338.66 123.18,338.54 123.9,338.39 124.62,338.19 125.33,337.95 126.05,337.64 126.77,337.25 127.48,336.78 128.2,336.21 128.92,335.53 129.63,334.71 130.35,333.75 131.07,332.63 131.78,331.33 132.5,329.85 133.22,328.16 133.93,326.26 134.65,324.13 135.37,321.78 136.08,319.2 136.8,316.38 137.52,313.34 138.23,310.08 138.95,306.6 139.67,302.93 140.38,299.07 141.1,295.06 141.82,290.91 142.53,286.64 143.25,282.29 143.97,277.88 144.68,273.44 145.4,269 146.12,264.59 146.83,260.23 147.55,255.94 148.27,251.76 148.98,247.71 149.7,243.8 150.42,240.04 151.13,236.46 151.85,233.06 152.57,229.86 153.28,226.85 154,224.04 154.72,221.43 155.43,219.02 156.15,216.8 156.87,214.77 157.58,212.92 158.3,211.24 159.02,209.73 159.73,208.36 160.45,207.15 161.17,206.07 161.88,205.11 162.6,204.26 163.32,203.51 164.03,202.86 164.75,202.29 165.47,201.8 166.18,201.37 166.9,201 167.62,200.68 168.33,200.41 169.05,200.18 169.77,199.99 170.48,199.82 171.2,199.68 171.92,199.56 172.63,199.47 173.35,199.38 174.07,199.32 174.78,199.26 175.5,199.21 176.22,199.17 176.93,199.14 177.65,199.12 178.37,199.09 179.08,199.08 179.8,199.06 180.52,199.05 181.23,199.04 181.95,199.04 182.67,199.03 183.38,199.03 184.1,199.02 184.82,199.02 185.53,199.02 186.25,199.01 186.97,199.01 187.68,199.01 188.4,199.01 189.12,199.01 189.83,199.01 190.55,199.01 191.27,199.01 191.98,199.01 192.7,199.01 193.42,199.01 194.13,199.01 194.85,199.01 195.57,199.01 196.28,199.01 197,199.01 197,233.05 196.28,233.05 195.57,233.05 194.85,233.05 194.13,233.05 193.42,233.05 192.7,233.05 191.98,233.05 191.27,233.05 190.55,233.05 189.83,233.05 189.12,233.05 188.4,233.05 187.68,233.05 186.97,233.05 186.25,233.05 185.53,233.05 184.82,233.06 184.1,233.06 183.38,233.06 182.67,233.06 181.95,233.07 181.23,233.07 180.52,233.08 179.8,233.09 179.08,233.1 178.37,233.11 177.65,233.12 176.93,233.14 176.22,233.17 175.5,233.2 174.78,233.24 174.07,233.28 173.35,233.34 172.63,233.4 171.92,233.49 171.2,233.59 170.48,233.7 169.77,233.85 169.05,234.02 168.33,234.22 167.62,234.46 166.9,234.74 166.18,235.07 165.47,235.46 164.75,235.91 164.03,236.43 163.32,237.03 162.6,237.72 161.88,238.51 161.17,239.4 160.45,240.41 159.73,241.54 159.02,242.81 158.3,244.22 157.58,245.78 156.87,247.49 156.15,249.37 155.43,251.42 154.72,253.64 154,256.02 153.28,258.57 152.57,261.29 151.85,264.16 151.13,267.17 150.42,270.32 149.7,273.59 148.98,276.95 148.27,280.4 147.55,283.9 146.83,287.44 146.12,290.99 145.4,294.53 144.68,298.03 143.97,301.46 143.25,304.81 142.53,308.04 141.82,311.14 141.1,314.09 140.38,316.88 139.67,319.49 138.95,321.91 138.23,324.14 137.52,326.18 136.8,328.02 136.08,329.68 135.37,331.15 134.65,332.44 133.93,333.56 133.22,334.54 132.5,335.37 131.78,336.07 131.07,336.67 130.35,337.15 129.63,337.56 128.92,337.88 128.2,338.14 127.48,338.35 126.77,338.51 126.05,338.64 125.33,338.74 124.62,338.81 123.9,338.86 123.18,338.9 122.47,338.93 121.75,338.95 121.03,338.97 120.32,338.98 119.6,338.99 118.88,338.99 118.17,338.99 117.45,339 116.73,339 116.02,339 115.3,339 114.58,339 113.87,339 113.15,339 112.43,339 111.72,339 111,339 110.28,339 109.57,339 108.85,339 108.13,339 107.42,339 106.7,339 105.98,339 105.27,339 104.55,339 103.83,339 103.12,339 102.4,339 101.68,339 100.97,339 100.25,339 99.53,339 98.82,339 98.1,339 97.38,339 96.67,339 95.95,339 95.23,339 94.52,339 93.8,339 93.08,339 92.37,339 91.65,339 90.93,339 90.22,339 89.5,339 88.78,339 88.07,339 87.35,339 86.63,339 85.92,339 85.2,339 84.48,339 83.77,339 83.05,339 82.33,339 81.62,339 80.9,339 80.18,339 79.47,339 78.75,339 78.03,339 77.32,339 76.6,339 75.88,339 75.17,339 74.45,339 73.73,339 73.02,339 72.3,339 71.58,339 70.87,339 70.15,339 69.43,339 68.72,339 68,339 67.28,339 66.57,339 65.85,339 65.13,339 64.42,339 63.7,339 62.98,339 62.27,339 61.55,339 60.83,339 60.12,339 59.4,339 58.68,339 57.97,339 57.25,339 56.53,339 55.82,339 55.1,339 54.38,339 53.67,339 52.95,339 52.23,339 51.52,339 50.8,339 50.08,339 49.37,339 48.65,339 47.93,339 47.22,339 46.5,339 45.78,339 45.07,339 44.35,339 43.63,339 42.92,339 42.2,339 41.48,339 40.77,339 40.05,339 39.33,339 38.62,339 37.9,339 37.18,339 36.47,339 35.75,339 35.03,339 34.32,339 33.6,339 32.88,339 32.17,339 31.45,339 30.73,339 30.02,339 29.3,339 28.58,339 27.87,339 27.15,339 26.43,339 25.72,339 25,339' fill='#000' fill-opacity='0.2'/>
<polyline points='25,339 25.72,339 26.43,339 27.15,339 27.87,339 28.58,339 29.3,339 30.02,339 30.73,339 31.45,339 32.17,339 32.88,339 33.6,339 34.32,339 35.03,339 35.75,339 36.47,339 37.18,339 37.9,339 38.62,339 39.33,339 40.05,339 40.77,339 41.48,339 42.2,339 42.92,339 43.63,339 44.35,339 45.07,339 45.78,339 46.5,339 47.22,339 47.93,339 48.65,339 49.37,339 50.08,339 50.8,339 51.52,339 52.23,339 52.95,339 53.67,339 54.38,339 55.1,339 55.82,339 56.53,339 57.25,339 57.97,339 58.68,339 59.4,339 60.12,339 60.83,339 61.55,339 62.27,339 62.98,339 63.7,339 64.42,339 65.13,339 65.85,339 66.57,339 67.28,339 68,339 68.72,339 69.43,339 70.15,339 70.87,339 71.58,339 72.3,339 73.02,339 73.73,339 74.45,339 75.17,339 75.88,339 76.6,339 77.32,339 78.03,339 78.75,339 79.47,339 80.18,339 80.9,339 81.62,339 82.33,339 83.05,339 83.77,339 84.48,339 85.2,339 85.92,339 86.63,339 87.35,339 88.07,339 88.78,339 89.5,339 90.22,339 90.93,339 91.65,339 92.37,339 93.08,339 93.8,339 94.52,339 95.23,339 95.95,339 96.67,339 97.38,339 98.1,339 98.82,339 99.53,339 100.25,339 100.97,339 101.68,339 102.4,339 103.12,339 103.83,339 104.55,339 105.27,339 105.98,339 106.7,339 107.42,339 108.13,339 108.85,339 109.57,339 110.28,339 111,339 111.72,339 112.43,339 113.15,339 113.87,338.99 114.58,338.99 115.3,338.99 116.02,338.98 116.73,338.97 117.45,338.96 118.17,338.95 118.88,338.93 119.6,338.9 120.32,338.86 121.03,338.8 121.75,338.73 122.47,338.64 123.18,338.52 123.9,338.37 124.62,338.18 125.33,337.95 126.05,337.65 126.77,337.3 127.48,336.87 128.2,336.35 128.92,335.73 129.63,335.01 130.35,334.16 131.07,333.18 131.78,332.05 132.5,330.77 133.22,329.32 133.93,327.7 134.65,325.9 135.37,323.91 136.08,321.74 136.8,319.38 137.52,316.84 138.23,314.11 138.95,311.21 139.67,308.15 140.38,304.95 141.1,301.61 141.82,298.15 142.53,294.59 143.25,290.96 143.97,287.27 144.68,283.54 145.4,279.8 146.12,276.08 146.83,272.38 147.55,268.73 148.27,265.15 148.98,261.66 149.7,258.28 150.42,255.01 151.13,251.87 151.85,248.88 152.57,246.03 153.28,243.34 154,240.8 154.72,238.42 155.43,236.21 156.15,234.15 156.87,232.25 157.58,230.51 158.3,228.9 159.02,227.44 159.73,226.12 160.45,224.92 161.17,223.84 161.88,222.87 162.6,222.01 163.32,221.24 164.03,220.55 164.75,219.95 165.47,219.42 166.18,218.95 166.9,218.54 167.62,218.19 168.33,217.88 169.05,217.62 169.77,217.39 170.48,217.19 171.2,217.02 171.92,216.88 172.63,216.76 173.35,216.65 174.07,216.56 174.78,216.49 175.5,216.43 176.22,216.38 176.93,216.33 177.65,216.3 178.37,216.27 179.08,216.24 179.8,216.22 180.52,216.2 181.23,216.19 181.95,216.18 182.67,216.17 183.38,216.16 184.1,216.15 184.82,216.15 185.53,216.15 186.25,216.14 186.97,216.14 187.68,216.14 188.4,216.14 189.12,216.13 189.83,216.13 190.55,216.13 191.27,216.13 191.98,216.13 192.7,216.13 193.42,216.13 194.13,216.13 194.85,216.13 195.57,216.13 196.28,216.13 197,216.13' fill='none' stroke='#000' stroke-width='1.3' stroke-linejoin='round'/>
<polyline points='25,339 25.72,339 26.43,339 27.15,339 27.87,339 28.58,339 29.3,339 30.02,339 30.73,339 31.45,339 32.17,339 32.88,339 33.6,339 34.32,339 35.03,339 35.75,339 36.47,339 37.18,339 37.9,339 38.62,339 39.33,339 40.05,339 40.77,339 41.48,339 42.2,339 42.92,339 43.63,339 44.35,339 45.07,339 45.78,339 46.5,339 47.22,339 47.93,339 48.65,339 49.37,339 50.08,339 50.8,338.99 51.52,338.96 52.23,338.9 52.95,338.82 53.67,338.7 54.38,338.57 55.1,338.45 55.82,338.35 56.53,338.28 57.25,338.24 57.97,338.21 58.68,338.2 59.4,338.2 60.12,338.2 60.83,338.19 61.55,338.19 62.27,338.19 62.98,338.19 63.7,338.19 64.42,338.19 65.13,338.19 65.85,338.19 66.57,338.19 67.28,338.19 68,338.19 68.72,338.19 69.43,338.19 70.15,338.19 70.87,338.19 71.58,338.19 72.3,338.19 73.02,338.19 73.73,338.19 74.45,338.19 75.17,338.19 75.88,338.19 76.6,338.19 77.32,338.19 78.03,338.19 78.75,338.19 79.47,338.19 80.18,338.19 80.9,338.19 81.62,338.19 82.33,338.19 83.05,338.19 83.77,338.19 84.48,338.19 85.2,338.19 85.92,338.19 86.63,338.19 87.35,338.19 88.07,338.19 88.78,338.19 89.5,338.19 90.22,338.19 90.93,338.19 91.65,338.19 92.37,338.19 93.08,338.19 93.8,338.19 94.52,338.19 95.23,338.19 95.95,338.19 96.67,338.19 97.38,338.19 98.1,338.19 98.82,338.19 99.53,338.19 100.25,338.19 100.97,338.19 101.68,338.19 102.4,338.19 103.12,338.19 103.83,338.19 104.55,338.19 105.27,338.19 105.98,338.19 106.7,338.19 107.42,338.19 108.13,338.19 108.85,338.19 109.57,338.19 110.28,338.19 111,338.19 111.72,338.19 112.43,338.19 113.15,338.19 113.87,338.19 114.58,338.19 115.3,338.19 116.02,338.19 116.73,338.19 117.45,338.19 118.17,338.19 118.88,338.19 119.6,338.19 120.32,338.19 121.03,338.19 121.75,338.19 122.47,338.19 123.18,338.19 123.9,338.19 124.62,338.19 125.33,338.19 126.05,338.19 126.77,338.19 127.48,338.19 128.2,338.19 128.92,338.19 129.63,338.19 130.35,338.19 131.07,338.19 131.78,338.19 132.5,338.19 133.22,338.19 133.93,338.19 134.65,338.19 135.37,338.19 136.08,338.19 136.8,338.19 137.52,338.19 138.23,338.19 138.95,338.19 139.67,338.19 140.38,338.19 141.1,338.19 141.82,338.19 142.53,338.19 143.25,338.19 143.97,338.19 144.68,338.19 145.4,338.19 146.12,338.19 146.83,338.19 147.55,338.19 148.27,338.19 148.98,338.19 149.7,338.19 150.42,338.19 151.13,338.19 151.85,338.19 152.57,338.19 153.28,338.19 154,338.19 154.72,338.19 155.43,338.19 156.15,338.19 156.87,338.19 157.58,338.19 158.3,338.19 159.02,338.19 159.73,338.19 160.45,338.19 161.17,338.19 161.88,338.19 162.6,338.19 163.32,338.19 164.03,338.19 164.75,338.19 165.47,338.19 166.18,338.19 166.9,338.19 167.62,338.19 168.33,338.19 169.05,338.19 169.77,338.19 170.48,338.19 171.2,338.19 171.92,338.19 172.63,338.19 173.35,338.19 174.07,338.19 174.78,338.19 175.5,338.19 176.22,338.19 176.93,338.19 177.65,338.19 178.37,338.19 179.08,338.19 179.8,338.19 180.52,338.19 181.23,338.19 181.95,338.19 182.67,338.19 183.38,338.19 184.1,338.19 184.82,338.19 185.53,338.19 186.25,338.19 186.97,338.19 187.68,338.19 188.4,338.19 189.12,338.19 189.83,338.19 190.55,338.19 191.27,338.19 191.98,338.19 192.7,338.19 193.42,338.19 194.13,338.19 194.85,338.19 195.57,338.19 196.28,338.19 197,338.19' fill='none' stroke='#16dede' stroke-width='1.3' stroke-linejoin='round'/>
<polyline points='25,339 25.72,339 26.43,339 27.15,339 27.87,339 28.58,339 29.3,339 30.02,339 30.73,339 31.45,339 32.17,339 32.88,339 33.6,339 34.32,339 35.03,339 35.75,339 36.47,339 37.18,339 37.9,339 38.62,339 39.33,339 40.05,339 40.77,339 41.48,339 42.2,339 42.92,339 43.63,339 44.35,339 45.07,339 45.78,339 46.5,339 47.22,339 47.93,339 48.65,339 49.37,339 50.08,339 50.8,339 51.52,339 52.23,339 52.95,339 53.67,339 54.38,339 55.1,339 55.82,339 56.53,339 57.25,339 57.97,339 58.68,339 59.4,339 60.12,338.99 60.83,338.96 61.55,338.9 62.27,338.84 62.98,338.76 63.7,338.68 64.42,338.59 65.13,338.5 65.85,338.41 66.57,338.33 67.28,338.25 68,338.16 68.72,338.07 69.43,337.98 70.15,337.88 70.87,337.77 71.58,337.66 72.3,337.54 73.02,337.42 73.73,337.28 74.45,337.13 75.17,336.96 75.88,336.77 76.6,336.56 77.32,336.33 78.03,336.06 78.75,335.74 79.47,335.4 80.18,335.03 80.9,334.67 81.62,334.32 82.33,333.99 83.05,333.65 83.77,333.32 84.48,332.98 85.2,332.64 85.92,332.3 86.63,331.95 87.35,331.61 88.07,331.27 88.78,330.93 89.5,330.57 90.22,330.2 90.93,329.8 91.65,329.37 92.37,328.91 93.08,328.4 93.8,327.88 94.52,327.34 95.23,326.81 95.95,326.27 96.67,325.76 97.38,325.26 98.1,324.74 98.82,324.2 99.53,323.68 100.25,323.17 100.97,322.73 101.68,322.35 102.4,322.06 103.12,321.82 103.83,321.59 104.55,321.39 105.27,321.2 105.98,321.04 106.7,320.9 107.42,320.78 108.13,320.69 108.85,320.6 109.57,320.51 110.28,320.43 111,320.37 111.72,320.31 112.43,320.28 113.15,320.27 113.87,320.27 114.58,320.27 115.3,320.27 116.02,320.27 116.73,320.27 117.45,320.27 118.17,320.27 118.88,320.27 119.6,320.27 120.32,320.27 121.03,320.27 121.75,320.27 122.47,320.27 123.18,320.27 123.9,320.27 124.62,320.27 125.33,320.27 126.05,320.27 126.77,320.27 127.48,320.27 128.2,320.27 128.92,320.27 129.63,320.27 130.35,320.27 131.07,320.27 131.78,320.27 132.5,320.27 133.22,320.27 133.93,320.27 134.65,320.27 135.37,320.27 136.08,320.27 136.8,320.27 137.52,320.27 138.23,320.27 138.95,320.27 139.67,320.27 140.38,320.27 141.1,320.27 141.82,320.27 142.53,320.27 143.25,320.27 143.97,320.27 144.68,320.27 145.4,320.27 146.12,320.27 146.83,320.27 147.55,320.27 148.27,320.27 148.98,320.27 149.7,320.27 150.42,320.27 151.13,320.27 151.85,320.27 152.57,320.27 153.28,320.27 154,320.27 154.72,320.27 155.43,320.27 156.15,320.27 156.87,320.27 157.58,320.27 158.3,320.27 159.02,320.27 159.73,320.27 160.45,320.27 161.17,320.27 161.88,320.27 162.6,320.27 163.32,320.27 164.03,320.27 164.75,320.27 165.47,320.27 166.18,320.27 166.9,320.27 167.62,320.27 168.33,320.27 169.05,320.27 169.77,320.27 170.48,320.27 171.2,320.27 171.92,320.27 172.63,320.27 173.35,320.27 174.07,320.27 174.78,320.27 175.5,320.27 176.22,320.27 176.93,320.27 177.65,320.27 178.37,320.27 179.08,320.27 179.8,320.27 180.52,320.27 181.23,320.27 181.95,320.27 182.67,320.27 183.38,320.27 184.1,320.27 184.82,320.27 185.53,320.27 186.25,320.27 186.97,320.27 187.68,320.27 188.4,320.27 189.12,320.27 189.83,320.27 190.55,320.27 191.27,320.27 191.98,320.27 192.7,320.27 193.42,320.27 194.13,320.27 194.85,320.27 195.57,320.27 196.28,320.27 197,320.27' fill='none' stroke='#ee13ee' stroke-width='1.3' stroke-linejoin='round'/>
<polyline points='25,339 25.72,339 26.43,339 27.15,339 27.87,339 28.58,338.99 29.3,338.84 30.02,337.79 30.73,334.13 31.45,326.19 32.17,314.01 32.88,299.52 33.6,285.32 34.32,273.31 35.03,264.24 35.75,257.98 36.47,253.95 37.18,251.5 37.9,250.07 38.62,249.27 39.33,248.84 40.05,248.61 40.77,248.48 41.48,248.42 42.2,248.39 42.92,248.37 43.63,248.37 44.35,248.36 45.07,248.36 45.78,248.36 46.5,248.36 47.22,248.36 47.93,248.36 48.65,248.36 49.37,248.36 50.08,248.36 50.8,248.36 51.52,248.36 52.23,248.36 52.95,248.36 53.67,248.36 54.38,248.36 55.1,248.36 55.82,248.36 56.53,248.36 57.25,248.36 57.97,248.36 58.68,248.36 59.4,248.36 60.12,248.36 60.83,248.36 61.55,248.36 62.27,248.36 62.98,248.36 63.7,248.36 64.42,248.36 65.13,248.36 65.85,248.36 66.57,248.36 67.28,248.36 68,248.36 68.72,248.36 69.43,248.36 70.15,248.36 70.87,248.36 71.58,248.36 72.3,248.36 73.02,248.36 73.73,248.36 74.45,248.36 75.17,248.36 75.88,248.36 76.6,248.36 77.32,248.36 78.03,248.36 78.75,248.36 79.47,248.36 80.18,248.36 80.9,248.36 81.62,248.36 82.33,248.36 83.05,248.36 83.77,248.36 84.48,248.36 85.2,248.36 85.92,248.36 86.63,248.36 87.35,248.36 88.07,248.36 88.78,248.36 89.5,248.36 90.22,248.36 90.93,248.36 91.65,248.36 92.37,248.36 93.08,248.36 93.8,248.36 94.52,248.36 95.23,248.36 95.95,248.36 96.67,248.36 97.38,248.36 98.1,248.36 98.82,248.36 99.53,248.36 100.25,248.36 100.97,248.36 101.68,248.36 102.4,248.36 103.12,248.36 103.83,248.36 104.55,248.36 105.27,248.36 105.98,248.36 106.7,248.36 107.42,248.36 108.13,248.36 108.85,248.36 109.57,248.36 110.28,248.36 111,248.36 111.72,248.36 112.43,248.36 113.15,248.36 113.87,248.36 114.58,248.36 115.3,248.36 116.02,248.36 116.73,248.36 117.45,248.36 118.17,248.36 118.88,248.36 119.6,248.36 120.32,248.36 121.03,248.36 121.75,248.36 122.47,248.36 123.18,248.36 123.9,248.36 124.62,248.36 125.33,248.36 126.05,248.36 126.77,248.36 127.48,248.36 128.2,248.36 128.92,248.36 129.63,248.36 130.35,248.36 131.07,248.36 131.78,248.36 132.5,248.36 133.22,248.36 133.93,248.36 134.65,248.36 135.37,248.36 136.08,248.36 136.8,248.36 137.52,248.36 138.23,248.36 138.95,248.36 139.67,248.36 140.38,248.36 141.1,248.36 141.82,248.36 142.53,248.36 143.25,248.36 143.97,248.36 144.68,248.36 145.4,248.36 146.12,248.36 146.83,248.36 147.55,248.36 148.27,248.36 148.98,248.36 149.7,248.36 150.42,248.36 151.13,248.36 151.85,248.36 152.57,248.36 153.28,248.36 154,248.36 154.72,248.36 155.43,248.36 156.15,248.36 156.87,248.36 157.58,248.36 158.3,248.36 159.02,248.36 159.73,248.36 160.45,248.36 161.17,248.36 161.88,248.36 162.6,248.36 163.32,248.36 164.03,248.36 164.75,248.36 165.47,248.36 166.18,248.36 166.9,248.36 167.62,248.36 168.33,248.36 169.05,248.36 169.77,248.36 170.48,248.36 171.2,248.36 171.92,248.36 172.63,248.36 173.35,248.36 174.07,248.36 174.78,248.36 175.5,248.36 176.22,248.36 176.93,248.36 177.65,248.36 178.37,248.36 179.08,248.36 179.8,248.36 180.52,248.36 181.23,248.36 181.95,248.36 182.67,248.36 183.38,248.36 184.1,248.36 184.82,248.36 185.53,248.36 186.25,248.36 186.97,248.36 187.68,248.36 188.4,248.36 189.12,248.36 189.83,248.36 190.55,248.36 191.27,248.36 191.98,248.36 192.7,248.36 193.42,248.36 194.13,248.36 194.85,248.36 195.57,248.36 196.28,248.36 197,248.36' fill='none' stroke='#22dd22' stroke-width='1.3' stroke-linejoin='round'/>
<polyline points='25,339 25.72,339 26.43,338.76 27.15,335.65 27.87,326.48 28.58,312.87 29.3,298.71 30.02,286.63 30.73,277.44 31.45,270.95 32.17,266.55 32.88,263.65 33.6,261.78 34.32,260.57 35.03,259.8 35.75,259.31 36.47,259 37.18,258.8 37.9,258.67 38.62,258.59 39.33,258.53 40.05,258.5 40.77,258.48 41.48,258.46 42.2,258.45 42.92,258.44 43.63,258.44 44.35,258.44 45.07,258.43 45.78,258.43 46.5,258.43 47.22,258.43 47.93,258.43 48.65,258.43 49.37,258.43 50.08,258.43 50.8,258.43 51.52,258.43 52.23,258.43 52.95,258.43 53.67,258.43 54.38,258.43 55.1,258.43 55.82,258.43 56.53,258.43 57.25,258.43 57.97,258.43 58.68,258.43 59.4,258.43 60.12,258.43 60.83,258.43 61.55,258.43 62.27,258.43 62.98,258.43 63.7,258.43 64.42,258.43 65.13,258.43 65.85,258.43 66.57,258.43 67.28,258.43 68,258.43 68.72,258.43 69.43,258.43 70.15,258.43 70.87,258.43 71.58,258.43 72.3,258.43 73.02,258.43 73.73,258.43 74.45,258.43 75.17,258.43 75.88,258.43 76.6,258.43 77.32,258.43 78.03,258.43 78.75,258.43 79.47,258.43 80.18,258.43 80.9,258.43 81.62,258.43 82.33,258.43 83.05,258.43 83.77,258.43 84.48,258.43 85.2,258.43 85.92,258.43 86.63,258.43 87.35,258.43 88.07,258.43 88.78,258.43 89.5,258.43 90.22,258.43 90.93,258.43 91.65,258.43 92.37,258.43 93.08,258.43 93.8,258.43 94.52,258.43 95.23,258.43 95.95,258.43 96.67,258.43 97.38,258.43 98.1,258.43 98.82,258.43 99.53,258.43 100.25,258.43 100.97,258.43 101.68,258.43 102.4,258.43 103.12,258.43 103.83,258.43 104.55,258.43 105.27,258.43 105.98,258.43 106.7,258.43 107.42,258.43 108.13,258.43 108.85,258.43 109.57,258.43 110.28,258.43 111,258.43 111.72,258.43 112.43,258.43 113.15,258.43 113.87,258.43 114.58,258.43 115.3,258.43 116.02,258.43 116.73,258.43 117.45,258.43 118.17,258.43 118.88,258.43 119.6,258.43 120.32,258.43 121.03,258.43 121.75,258.43 122.47,258.43 123.18,258.43 123.9,258.43 124.62,258.43 125.33,258.43 126.05,258.43 126.77,258.43 127.48,258.43 128.2,258.43 128.92,258.43 129.63,258.43 130.35,258.43 131.07,258.43 131.78,258.43 132.5,258.43 133.22,258.43 133.93,258.43 134.65,258.43 135.37,258.43 136.08,258.43 136.8,258.43 137.52,258.43 138.23,258.43 138.95,258.43 139.67,258.43 140.38,258.43 141.1,258.43 141.82,258.43 142.53,258.43 143.25,258.43 143.97,258.43 144.68,258.43 145.4,258.43 146.12,258.43 146.83,258.43 147.55,258.43 148.27,258.43 148.98,258.43 149.7,258.43 150.42,258.43 151.13,258.43 151.85,258.43 152.57,258.43 153.28,258.43 154,258.43 154.72,258.43 155.43,258.43 156.15,258.43 156.87,258.43 157.58,258.43 158.3,258.43 159.02,258.43 159.73,258.43 160.45,258.43 161.17,258.43 161.88,258.43 162.6,258.43 163.32,258.43 164.03,258.43 164.75,258.43 165.47,258.43 166.18,258.43 166.9,258.43 167.62,258.43 168.33,258.43 169.05,258.43 169.77,258.43 170.48,258.43 171.2,258.43 171.92,258.43 172.63,258.43 173.35,258.43 174.07,258.43 174.78,258.43 175.5,258.43 176.22,258.43 176.93,258.43 177.65,258.43 178.37,258.43 179.08,258.43 179.8,258.43 180.52,258.43 181.23,258.43 181.95,258.43 182.67,258.43 183.38,258.43 184.1,258.43 184.82,258.43 185.53,258.43 186.25,258.43 186.97,258.43 187.68,258.43 188.4,258.43 189.12,258.43 189.83,258.43 190.55,258.43 191.27,258.43 191.98,258.43 192.7,258.43 193.42,258.43 194.13,258.43 194.85,258.43 195.57,258.43 196.28,258.43 197,258.43' fill='none' stroke='#1a1ae0' stroke-width='1.3' stroke-linejoin='round'/>
<line x1='25.0' y1='198.0' x2='25.0' y2='339.0' stroke='#9a9a9a' stroke-width='0.6'/>
<line x1='25' y1='339.0' x2='25' y2='337.5' stroke='#888' stroke-width='0.5'/>
<text x='25' y='346' font-size='5.3' text-anchor='middle' font-family='Liberation Serif' fill='#000' >0</text>
<line x1='46.5' y1='339.0' x2='46.5' y2='337.5' stroke='#888' stroke-width='0.5'/>
<text x='46.5' y='346' font-size='5.3' text-anchor='middle' font-family='Liberation Serif' fill='#000' >1</text>
<line x1='68' y1='339.0' x2='68' y2='337.5' stroke='#888' stroke-width='0.5'/>
<text x='68' y='346' font-size='5.3' text-anchor='middle' font-family='Liberation Serif' fill='#000' >2</text>
<line x1='89.5' y1='339.0' x2='89.5' y2='337.5' stroke='#888' stroke-width='0.5'/>
<text x='89.5' y='346' font-size='5.3' text-anchor='middle' font-family='Liberation Serif' fill='#000' >3</text>
<line x1='111' y1='339.0' x2='111' y2='337.5' stroke='#888' stroke-width='0.5'/>
<text x='111' y='346' font-size='5.3' text-anchor='middle' font-family='Liberation Serif' fill='#000' >4</text>
<line x1='132.5' y1='339.0' x2='132.5' y2='337.5' stroke='#888' stroke-width='0.5'/>
<text x='132.5' y='346' font-size='5.3' text-anchor='middle' font-family='Liberation Serif' fill='#000' >5</text>
<line x1='154' y1='339.0' x2='154' y2='337.5' stroke='#888' stroke-width='0.5'/>
<text x='154' y='346' font-size='5.3' text-anchor='middle' font-family='Liberation Serif' fill='#000' >6</text>
<line x1='175.5' y1='339.0' x2='175.5' y2='337.5' stroke='#888' stroke-width='0.5'/>
<text x='175.5' y='346' font-size='5.3' text-anchor='middle' font-family='Liberation Serif' fill='#000' >7</text>
<line x1='197' y1='339.0' x2='197' y2='337.5' stroke='#888' stroke-width='0.5'/>
<text x='197' y='346' font-size='5.3' text-anchor='middle' font-family='Liberation Serif' fill='#000' >8</text>
<line x1='25.0' y1='339' x2='26.5' y2='339' stroke='#888' stroke-width='0.5'/>
<text x='22.5' y='340.8' font-size='5.3' text-anchor='end' font-family='Liberation Serif' fill='#000' >0</text>
<line x1='25.0' y1='318.86' x2='26.5' y2='318.86' stroke='#888' stroke-width='0.5'/>
<text x='22.5' y='320.66' font-size='5.3' text-anchor='end' font-family='Liberation Serif' fill='#000' >1</text>
<line x1='25.0' y1='298.71' x2='26.5' y2='298.71' stroke='#888' stroke-width='0.5'/>
<text x='22.5' y='300.51' font-size='5.3' text-anchor='end' font-family='Liberation Serif' fill='#000' >2</text>
<line x1='25.0' y1='278.57' x2='26.5' y2='278.57' stroke='#888' stroke-width='0.5'/>
<text x='22.5' y='280.37' font-size='5.3' text-anchor='end' font-family='Liberation Serif' fill='#000' >3</text>
<line x1='25.0' y1='258.43' x2='26.5' y2='258.43' stroke='#888' stroke-width='0.5'/>
<text x='22.5' y='260.23' font-size='5.3' text-anchor='end' font-family='Liberation Serif' fill='#000' >4</text>
<line x1='25.0' y1='238.29' x2='26.5' y2='238.29' stroke='#888' stroke-width='0.5'/>
<text x='22.5' y='240.09' font-size='5.3' text-anchor='end' font-family='Liberation Serif' fill='#000' >5</text>
<line x1='25.0' y1='218.14' x2='26.5' y2='218.14' stroke='#888' stroke-width='0.5'/>
<text x='22.5' y='219.94' font-size='5.3' text-anchor='end' font-family='Liberation Serif' fill='#000' >6</text>
<line x1='25.0' y1='198' x2='26.5' y2='198' stroke='#888' stroke-width='0.5'/>
<text x='22.5' y='199.8' font-size='5.3' text-anchor='end' font-family='Liberation Serif' fill='#000' >7</text>
<text x='25.8' y='197' font-size='5.4' font-family='Liberation Serif'>&#215;10<tspan font-size='3.6' dy='-2'>4</tspan></text>
<rect x='29.3' y='202.2' width='75.3' height='28.9' fill='#fff' stroke='#333' stroke-width='0.4'/>
<line x1='30.9' y1='206.1' x2='46.8' y2='206.1' stroke='#1a1adf' stroke-width='1.3'/>
<text x='47.8' y='207.7' font-size='4.5' text-anchor='start' font-family='Liberation Serif' fill='#000' >AC Unit</text>
<line x1='30.9' y1='211.67' x2='46.8' y2='211.67' stroke='#25d625' stroke-width='1.3'/>
<text x='47.8' y='213.27' font-size='4.5' text-anchor='start' font-family='Liberation Serif' fill='#000' >Refrigeration Rack System</text>
<line x1='30.9' y1='217.25' x2='46.8' y2='217.25' stroke='#16e5ea' stroke-width='1.3'/>
<text x='47.8' y='218.85' font-size='4.5' text-anchor='start' font-family='Liberation Serif' fill='#000' >Mid Electrical outlets</text>
<line x1='30.9' y1='222.82' x2='46.8' y2='222.82' stroke='#ee13ee' stroke-width='1.3'/>
<text x='47.8' y='224.42' font-size='4.5' text-anchor='start' font-family='Liberation Serif' fill='#000' >External Wall sheathing (DS3)</text>
<line x1='30.9' y1='228.4' x2='46.8' y2='228.4' stroke='#000' stroke-width='1.3'/>
<text x='47.8' y='230' font-size='4.5' text-anchor='start' font-family='Liberation Serif' fill='#000' >Roof (Trusses)</text>
<text x='111' y='354.8' font-size='7.3' text-anchor='middle' font-family='Liberation Serif' fill='#000' >Flood Depth (m)</text>
<text x='17.2' y='264' font-size='7.2' text-anchor='middle' font-family='Liberation Serif' fill='#000' transform='rotate(-90 17.2 264.0)'>Component Loss (USD $)</text>
<text x='5.5' y='194' font-size='11' font-weight='bold' font-family='Liberation Serif'>(c)</text>
<polygon points='228,338.4 228.64,337.2 229.28,336 229.91,334.81 230.55,333.62 231.19,332.44 231.82,331.26 232.46,330.08 233.1,328.91 233.74,327.75 234.38,326.58 235.01,325.42 235.65,324.26 236.29,323.13 236.93,322.03 237.56,320.99 238.2,319.99 238.84,319.01 239.47,318.04 240.11,317.04 240.75,316.02 241.39,314.93 242.03,313.76 242.66,312.52 243.3,311.24 243.94,309.9 244.57,308.47 245.21,306.91 245.85,305.19 246.49,303.26 247.12,300.98 247.76,298.16 248.4,294.97 249.04,291.57 249.68,288.14 250.31,284.58 250.95,280.77 251.59,276.92 252.22,273.09 252.86,268.78 253.5,264.53 254.14,261.18 254.78,259.38 255.41,258.07 256.05,256.89 256.69,255.83 257.32,254.89 257.96,254.05 258.6,253.29 259.24,252.61 259.88,251.99 260.51,251.42 261.15,250.89 261.79,250.39 262.43,249.9 263.06,249.41 263.7,248.91 264.34,248.42 264.98,247.95 265.61,247.5 266.25,247.07 266.89,246.66 267.52,246.27 268.16,245.89 268.8,245.52 269.44,245.17 270.07,244.83 270.71,244.49 271.35,244.16 271.99,243.83 272.62,243.51 273.26,243.19 273.9,242.87 274.54,242.54 275.18,242.21 275.81,241.87 276.45,241.53 277.09,241.2 277.73,240.88 278.36,240.57 279,240.26 279.64,239.96 280.27,239.66 280.91,239.37 281.55,239.08 282.19,238.79 282.82,238.51 283.46,238.22 284.1,237.93 284.74,237.64 285.38,237.35 286.01,237.06 286.65,236.76 287.29,236.46 287.93,236.15 288.56,235.83 289.2,235.51 289.84,235.17 290.48,234.83 291.11,234.48 291.75,234.11 292.39,233.74 293.02,233.35 293.66,232.94 294.3,232.53 294.94,232.11 295.57,231.67 296.21,231.23 296.85,230.77 297.49,230.3 298.12,229.83 298.76,229.34 299.4,228.83 300.04,228.32 300.68,227.8 301.31,227.26 301.95,226.71 302.59,226.15 303.23,225.57 303.86,224.99 304.5,224.39 305.14,223.78 305.77,223.15 306.41,222.51 307.05,221.86 307.69,221.2 308.32,220.49 308.96,219.74 309.6,218.95 310.24,218.12 310.88,217.25 311.51,216.36 312.15,215.44 312.79,214.5 313.43,213.55 314.06,212.59 314.7,211.62 315.34,210.65 315.98,209.68 316.61,208.72 317.25,207.78 317.89,206.85 318.52,205.94 319.16,205.05 319.8,204.2 320.44,203.36 321.07,202.54 321.71,201.73 322.35,200.93 322.99,200.13 323.62,199.33 324.26,198.54 324.9,197.75 325.54,196.95 326.18,196.15 326.81,195.35 327.45,194.53 328.09,193.71 328.73,192.87 329.36,191.98 330,191.3 330.64,191.3 331.27,191.3 331.91,191.3 332.55,191.3 333.19,191.3 333.82,191.3 334.46,191.3 335.1,191.3 335.74,191.3 336.38,191.3 337.01,191.3 337.65,191.3 338.29,191.3 338.93,191.3 339.56,191.3 340.2,191.3 340.84,191.3 341.48,191.3 342.11,191.3 342.75,191.3 343.39,191.3 344.02,191.3 344.66,191.3 345.3,191.3 345.94,191.3 346.57,191.3 347.21,191.3 347.85,191.3 348.49,191.3 349.12,191.3 349.76,191.3 350.4,191.3 351.04,191.3 351.68,191.3 352.31,191.3 352.95,191.3 353.59,191.3 354.23,191.3 354.86,191.3 355.5,191.3 356.14,191.3 356.77,191.3 357.41,191.3 358.05,191.3 358.69,191.3 359.33,191.3 359.96,191.3 360.6,191.3 361.24,191.3 361.88,191.3 362.51,191.3 363.15,191.3 363.79,191.3 364.43,191.3 365.06,191.3 365.7,191.3 366.34,191.3 366.98,191.3 367.61,191.3 368.25,191.3 368.89,191.3 369.52,191.3 370.16,191.3 370.8,191.3 371.44,191.3 372.08,191.3 372.71,191.3 373.35,191.3 373.99,191.3 374.62,191.3 375.26,191.3 375.9,191.3 376.54,191.3 377.18,191.3 377.81,191.3 378.45,191.3 379.09,191.3 379.73,191.3 380.36,191.3 381,191.3 381.64,191.3 382.27,191.3 382.91,191.3 383.55,191.3 384.19,191.3 384.83,191.3 385.46,191.3 386.1,191.3 386.74,191.3 387.38,191.3 388.01,191.3 388.65,191.3 389.29,191.3 389.93,191.3 390.56,191.3 391.2,191.3 391.84,191.3 392.48,191.3 393.11,191.3 393.75,191.3 394.39,191.3 395.02,191.3 395.66,191.3 396.3,191.3 396.94,191.3 397.58,191.3 398.21,191.3 398.85,191.3 399.49,191.3 400.12,191.3 400.76,191.3 401.4,191.3 402.04,191.3 402.68,191.3 403.31,191.3 403.95,191.3 404.59,191.3 405.23,191.3 405.86,191.3 406.5,191.3 406.5,249.53 405.86,249.59 405.23,249.65 404.59,249.72 403.95,249.8 403.31,249.88 402.68,249.97 402.04,250.06 401.4,250.15 400.76,250.25 400.12,250.36 399.49,250.47 398.85,250.58 398.21,250.7 397.58,250.82 396.94,250.94 396.3,251.07 395.66,251.2 395.02,251.34 394.39,251.48 393.75,251.62 393.11,251.76 392.48,251.91 391.84,252.06 391.2,252.22 390.56,252.37 389.93,252.53 389.29,252.69 388.65,252.85 388.01,253.01 387.38,253.18 386.74,253.35 386.1,253.51 385.46,253.68 384.83,253.86 384.19,254.03 383.55,254.2 382.91,254.39 382.27,254.59 381.64,254.79 381,255.01 380.36,255.23 379.73,255.46 379.09,255.7 378.45,255.94 377.81,256.19 377.18,256.45 376.54,256.71 375.9,256.97 375.26,257.23 374.62,257.5 373.99,257.77 373.35,258.05 372.71,258.32 372.08,258.59 371.44,258.86 370.8,259.13 370.16,259.4 369.52,259.67 368.89,259.94 368.25,260.21 367.61,260.48 366.98,260.75 366.34,261.02 365.7,261.3 365.06,261.58 364.43,261.86 363.79,262.14 363.15,262.43 362.51,262.73 361.88,263.03 361.24,263.33 360.6,263.64 359.96,263.96 359.33,264.28 358.69,264.61 358.05,264.94 357.41,265.29 356.77,265.63 356.14,265.99 355.5,266.34 354.86,266.7 354.23,267.07 353.59,267.44 352.95,267.82 352.31,268.21 351.68,268.61 351.04,269.02 350.4,269.44 349.76,269.88 349.12,270.33 348.49,270.79 347.85,271.28 347.21,271.78 346.57,272.29 345.94,272.83 345.3,273.4 344.66,274.02 344.02,274.69 343.39,275.4 342.75,276.15 342.11,276.93 341.48,277.73 340.84,278.56 340.2,279.4 339.56,280.25 338.93,281.1 338.29,281.96 337.65,282.81 337.01,283.64 336.38,284.46 335.74,285.3 335.1,286.2 334.46,287.14 333.82,288.12 333.19,289.12 332.55,290.14 331.91,291.16 331.27,292.18 330.64,293.18 330,294.16 329.36,295.1 328.73,296 328.09,296.85 327.45,297.63 326.81,298.33 326.18,298.95 325.54,299.47 324.9,299.89 324.26,300.22 323.62,300.53 322.99,300.83 322.35,301.11 321.71,301.39 321.07,301.66 320.44,301.92 319.8,302.16 319.16,302.4 318.52,302.62 317.89,302.84 317.25,303.04 316.61,303.23 315.98,303.41 315.34,303.58 314.7,303.74 314.06,303.88 313.43,304.02 312.79,304.14 312.15,304.25 311.51,304.34 310.88,304.42 310.24,304.49 309.6,304.55 308.96,304.59 308.32,304.63 307.69,304.67 307.05,304.7 306.41,304.73 305.77,304.76 305.14,304.78 304.5,304.81 303.86,304.83 303.23,304.84 302.59,304.86 301.95,304.88 301.31,304.89 300.68,304.91 300.04,304.92 299.4,304.93 298.76,304.95 298.12,304.96 297.49,304.98 296.85,304.99 296.21,305.01 295.57,305.03 294.94,305.05 294.3,305.07 293.66,305.1 293.02,305.12 292.39,305.16 291.75,305.19 291.11,305.23 290.48,305.27 289.84,305.31 289.2,305.37 288.56,305.46 287.93,305.56 287.29,305.68 286.65,305.82 286.01,305.98 285.38,306.15 284.74,306.34 284.1,306.55 283.46,306.76 282.82,306.99 282.19,307.22 281.55,307.47 280.91,307.72 280.27,307.98 279.64,308.25 279,308.52 278.36,308.79 277.73,309.08 277.09,309.4 276.45,309.76 275.81,310.14 275.18,310.56 274.54,311.02 273.9,311.52 273.26,312.07 272.62,312.66 271.99,313.4 271.35,314.35 270.71,315.44 270.07,316.6 269.44,317.77 268.8,318.86 268.16,319.83 267.52,320.75 266.89,321.69 266.25,322.61 265.61,323.51 264.98,324.36 264.34,325.15 263.7,325.85 263.06,326.45 262.43,326.94 261.79,327.37 261.15,327.77 260.51,328.14 259.88,328.48 259.24,328.8 258.6,329.09 257.96,329.38 257.32,329.65 256.69,329.92 256.05,330.18 255.41,330.44 254.78,330.71 254.14,330.99 253.5,331.27 252.86,331.55 252.22,331.82 251.59,332.09 250.95,332.35 250.31,332.61 249.68,332.86 249.04,333.11 248.4,333.37 247.76,333.62 247.12,333.87 246.49,334.12 245.85,334.38 245.21,334.63 244.57,334.89 243.94,335.16 243.3,335.44 242.66,335.75 242.03,336.08 241.39,336.43 240.75,336.8 240.11,337.16 239.47,337.53 238.84,337.89 238.2,338.23 237.56,338.4 236.93,338.4 236.29,338.4 235.65,338.4 235.01,338.4 234.38,338.4 233.74,338.4 233.1,338.4 232.46,338.4 231.82,338.4 231.19,338.4 230.55,338.4 229.91,338.4 229.28,338.4 228.64,338.4 228,338.4' fill='#f1f1fd'/>
<polygon points='228,338.4 228.64,337.26 229.28,336.13 229.91,335.01 230.55,333.89 231.19,332.77 231.82,331.67 232.46,330.56 233.1,329.47 233.74,328.38 234.38,327.28 235.01,326.2 235.65,325.13 236.29,324.07 236.93,323.04 237.56,322.05 238.2,321.1 238.84,320.17 239.47,319.24 240.11,318.29 240.75,317.32 241.39,316.29 242.03,315.2 242.66,314.04 243.3,312.86 243.94,311.63 244.57,310.32 245.21,308.91 245.85,307.37 246.49,305.66 247.12,303.69 247.76,301.32 248.4,298.67 249.04,295.87 249.68,293.04 250.31,290.12 250.95,287.03 251.59,283.89 252.22,280.73 252.86,277.26 253.5,273.8 254.14,270.84 254.78,268.77 255.41,267.02 256.05,265.43 256.69,264 257.32,262.74 257.96,261.66 258.6,260.76 259.24,260.06 259.88,259.52 260.51,259.03 261.15,258.58 261.79,258.18 262.43,257.81 263.06,257.48 263.7,257.17 264.34,256.88 264.98,256.61 265.61,256.35 266.25,256.1 266.89,255.85 267.52,255.59 268.16,255.32 268.8,255.04 269.44,254.76 270.07,254.48 270.71,254.2 271.35,253.94 271.99,253.67 272.62,253.42 273.26,253.16 273.9,252.91 274.54,252.66 275.18,252.42 275.81,252.17 276.45,251.93 277.09,251.69 277.73,251.44 278.36,251.2 279,250.95 279.64,250.7 280.27,250.45 280.91,250.19 281.55,249.93 282.19,249.68 282.82,249.43 283.46,249.18 284.1,248.93 284.74,248.68 285.38,248.43 286.01,248.18 286.65,247.93 287.29,247.69 287.93,247.43 288.56,247.18 289.2,246.93 289.84,246.67 290.48,246.41 291.11,246.14 291.75,245.87 292.39,245.6 293.02,245.32 293.66,245.03 294.3,244.74 294.94,244.44 295.57,244.13 296.21,243.83 296.85,243.52 297.49,243.21 298.12,242.9 298.76,242.58 299.4,242.27 300.04,241.94 300.68,241.62 301.31,241.28 301.95,240.94 302.59,240.59 303.23,240.24 303.86,239.87 304.5,239.49 305.14,239.1 305.77,238.7 306.41,238.29 307.05,237.86 307.69,237.42 308.32,236.96 308.96,236.49 309.6,236 310.24,235.49 310.88,234.94 311.51,234.35 312.15,233.73 312.79,233.07 313.43,232.38 314.06,231.67 314.7,230.92 315.34,230.15 315.98,229.36 316.61,228.55 317.25,227.71 317.89,226.86 318.52,226 319.16,225.12 319.8,224.23 320.44,223.33 321.07,222.43 321.71,221.52 322.35,220.58 322.99,219.57 323.62,218.5 324.26,217.38 324.9,216.23 325.54,215.04 326.18,213.84 326.81,212.63 327.45,211.42 328.09,210.23 328.73,209.07 329.36,207.94 330,206.87 330.64,205.85 331.27,204.9 331.91,204.03 332.55,203.23 333.19,202.48 333.82,201.78 334.46,201.12 335.1,200.47 335.74,199.83 336.38,199.18 337.01,198.52 337.65,197.82 338.29,197.08 338.93,196.28 339.56,195.41 340.2,194.44 340.84,193.12 341.48,191.52 342.11,191.3 342.75,191.3 343.39,191.3 344.02,191.3 344.66,191.3 345.3,191.3 345.94,191.3 346.57,191.3 347.21,191.3 347.85,191.3 348.49,191.3 349.12,191.3 349.76,191.3 350.4,191.3 351.04,191.3 351.68,191.3 352.31,191.3 352.95,191.3 353.59,191.3 354.23,191.3 354.86,191.3 355.5,191.3 356.14,191.3 356.77,191.3 357.41,191.3 358.05,191.3 358.69,191.3 359.33,191.3 359.96,191.3 360.6,191.3 361.24,191.3 361.88,191.3 362.51,191.3 363.15,191.3 363.79,191.3 364.43,191.3 365.06,191.3 365.7,191.3 366.34,191.3 366.98,191.3 367.61,191.3 368.25,191.3 368.89,191.3 369.52,191.3 370.16,191.3 370.8,191.3 371.44,191.3 372.08,191.3 372.71,191.3 373.35,191.3 373.99,191.3 374.62,191.3 375.26,191.3 375.9,191.3 376.54,191.3 377.18,191.3 377.81,191.3 378.45,191.3 379.09,191.3 379.73,191.3 380.36,191.3 381,191.3 381.64,191.3 382.27,191.3 382.91,191.3 383.55,191.3 384.19,191.3 384.83,191.3 385.46,191.3 386.1,191.3 386.74,191.3 387.38,191.3 388.01,191.3 388.65,191.3 389.29,191.3 389.93,191.3 390.56,191.3 391.2,191.3 391.84,191.3 392.48,191.3 393.11,191.3 393.75,191.3 394.39,191.3 395.02,191.3 395.66,191.3 396.3,191.3 396.94,191.3 397.58,191.3 398.21,191.3 398.85,191.3 399.49,191.3 400.12,191.3 400.76,191.3 401.4,191.3 402.04,191.3 402.68,191.3 403.31,191.3 403.95,191.3 404.59,191.3 405.23,191.3 405.86,191.3 406.5,191.3 406.5,245.85 405.86,245.91 405.23,245.98 404.59,246.05 403.95,246.12 403.31,246.2 402.68,246.29 402.04,246.38 401.4,246.48 400.76,246.58 400.12,246.68 399.49,246.79 398.85,246.9 398.21,247.02 397.58,247.14 396.94,247.27 396.3,247.4 395.66,247.53 395.02,247.66 394.39,247.8 393.75,247.94 393.11,248.09 392.48,248.23 391.84,248.39 391.2,248.54 390.56,248.69 389.93,248.85 389.29,249.01 388.65,249.17 388.01,249.34 387.38,249.5 386.74,249.67 386.1,249.84 385.46,250.01 384.83,250.18 384.19,250.35 383.55,250.53 382.91,250.71 382.27,250.91 381.64,251.12 381,251.33 380.36,251.55 379.73,251.79 379.09,252.02 378.45,252.27 377.81,252.52 377.18,252.77 376.54,253.03 375.9,253.29 375.26,253.56 374.62,253.83 373.99,254.1 373.35,254.37 372.71,254.64 372.08,254.91 371.44,255.18 370.8,255.46 370.16,255.73 369.52,255.99 368.89,256.26 368.25,256.53 367.61,256.8 366.98,257.07 366.34,257.35 365.7,257.62 365.06,257.9 364.43,258.18 363.79,258.47 363.15,258.76 362.51,259.05 361.88,259.35 361.24,259.65 360.6,259.96 359.96,260.28 359.33,260.6 358.69,260.93 358.05,261.27 357.41,261.61 356.77,261.96 356.14,262.31 355.5,262.66 354.86,263.02 354.23,263.39 353.59,263.76 352.95,264.14 352.31,264.53 351.68,264.93 351.04,265.34 350.4,265.76 349.76,266.2 349.12,266.65 348.49,267.12 347.85,267.6 347.21,268.1 346.57,268.62 345.94,269.15 345.3,269.72 344.66,270.34 344.02,271.01 343.39,271.72 342.75,272.47 342.11,273.25 341.48,274.05 340.84,274.88 340.2,275.72 339.56,276.57 338.93,277.43 338.29,278.28 337.65,279.13 337.01,279.97 336.38,280.79 335.74,281.63 335.1,282.52 334.46,283.46 333.82,284.43 333.19,285.43 332.55,286.44 331.91,287.46 331.27,288.47 330.64,289.47 330,290.45 329.36,291.39 328.73,292.29 328.09,293.13 327.45,293.91 326.81,294.62 326.18,295.25 325.54,295.78 324.9,296.21 324.26,296.55 323.62,296.87 322.99,297.18 322.35,297.48 321.71,297.77 321.07,298.05 320.44,298.32 319.8,298.58 319.16,298.83 318.52,299.07 317.89,299.29 317.25,299.5 316.61,299.71 315.98,299.9 315.34,300.07 314.7,300.24 314.06,300.39 313.43,300.54 312.79,300.66 312.15,300.78 311.51,300.88 310.88,300.97 310.24,301.05 309.6,301.11 308.96,301.16 308.32,301.21 307.69,301.25 307.05,301.29 306.41,301.33 305.77,301.36 305.14,301.39 304.5,301.41 303.86,301.44 303.23,301.46 302.59,301.48 301.95,301.5 301.31,301.52 300.68,301.53 300.04,301.55 299.4,301.57 298.76,301.58 298.12,301.6 297.49,301.62 296.85,301.64 296.21,301.66 295.57,301.68 294.94,301.7 294.3,301.73 293.66,301.76 293.02,301.79 292.39,301.83 291.75,301.86 291.11,301.91 290.48,301.95 289.84,302 289.2,302.07 288.56,302.16 287.93,302.26 287.29,302.38 286.65,302.52 286.01,302.67 285.38,302.84 284.74,303.02 284.1,303.21 283.46,303.42 282.82,303.64 282.19,303.86 281.55,304.09 280.91,304.33 280.27,304.58 279.64,304.84 279,305.09 278.36,305.36 277.73,305.63 277.09,305.93 276.45,306.26 275.81,306.61 275.18,307 274.54,307.43 273.9,307.9 273.26,308.41 272.62,308.98 271.99,309.71 271.35,310.67 270.71,311.77 270.07,312.96 269.44,314.16 268.8,315.29 268.16,316.28 267.52,317.23 266.89,318.2 266.25,319.16 265.61,320.09 264.98,320.98 264.34,321.79 263.7,322.52 263.06,323.14 262.43,323.63 261.79,324.07 261.15,324.47 260.51,324.84 259.88,325.17 259.24,325.49 258.6,325.79 257.96,326.07 257.32,326.34 256.69,326.6 256.05,326.86 255.41,327.13 254.78,327.4 254.14,327.68 253.5,327.96 252.86,328.24 252.22,328.51 251.59,328.77 250.95,329.03 250.31,329.28 249.68,329.53 249.04,329.78 248.4,330.03 247.76,330.29 247.12,330.54 246.49,330.81 245.85,331.08 245.21,331.36 244.57,331.66 243.94,331.96 243.3,332.3 242.66,332.68 242.03,333.1 241.39,333.56 240.75,334.04 240.11,334.54 239.47,335.04 238.84,335.53 238.2,336.01 237.56,336.46 236.93,336.88 236.29,337.26 235.65,337.58 235.01,337.84 234.38,338.03 233.74,338.14 233.1,338.19 232.46,338.24 231.82,338.28 231.19,338.31 230.55,338.34 229.91,338.37 229.28,338.38 228.64,338.4 228,338.4' fill='#8282ef'/>
<path fill='#8585ef' d='M286.7 242.2h.9v.9h-.9zM242.1 333.8h.9v.9h-.9zM239.6 335h.9v.9h-.9zM306.1 238.4h.9v.9h-.9zM304.5 301.5h.9v.9h-.9zM268.8 321.7h.9v.9h-.9zM237.5 336.9h.9v.9h-.9zM254.8 267.6h.9v.9h-.9zM240.4 317.7h.9v.9h-.9zM333.1 201.2h.9v.9h-.9zM370.1 256.1h.9v.9h-.9zM331.1 294.3h.9v.9h-.9zM250.2 285.7h.9v.9h-.9zM256.2 265h.9v.9h-.9zM347.7 269.9h.9v.9h-.9zM334.6 284.5h.9v.9h-.9zM378.1 253.8h.9v.9h-.9zM344 275.9h.9v.9h-.9zM279.7 244.7h.9v.9h-.9zM233.3 329.1h.9v.9h-.9zM250 286.5h.9v.9h-.9zM252.2 279.4h.9v.9h-.9zM326.6 299.6h.9v.9h-.9zM292.9 308.2h.9v.9h-.9zM256 265h.9v.9h-.9zM270.6 250.1h.9v.9h-.9zM275.8 250.1h.9v.9h-.9zM294.7 308h.9v.9h-.9zM351.6 267.5h.9v.9h-.9zM367.5 261.3h.9v.9h-.9zM298.8 242.4h.9v.9h-.9zM266.3 254.9h.9v.9h-.9zM238.6 320.4h.9v.9h-.9zM247.3 303.2h.9v.9h-.9zM384.2 250.5h.9v.9h-.9zM274 251.4h.9v.9h-.9zM251 335.9h.9v.9h-.9zM311.9 233.9h.9v.9h-.9zM247.4 302.4h.9v.9h-.9zM397.8 247.2h.9v.9h-.9zM325.5 209.7h.9v.9h-.9zM402.7 249.6h.9v.9h-.9zM275.6 252h.9v.9h-.9zM366.1 261.7h.9v.9h-.9zM287.7 238.1h.9v.9h-.9zM403.8 250.7h.9v.9h-.9zM374.3 254.2h.9v.9h-.9zM321 222.5h.9v.9h-.9zM234.2 327.3h.9v.9h-.9zM352 266h.9v.9h-.9zM395.3 254.2h.9v.9h-.9zM293.9 244.3h.9v.9h-.9zM264.1 252.7h.9v.9h-.9zM388.8 250.6h.9v.9h-.9zM345 270h.9v.9h-.9zM346.3 273.1h.9v.9h-.9zM397.1 247.4h.9v.9h-.9zM251.8 274.2h.9v.9h-.9zM403 247h.9v.9h-.9zM326.5 213.2h.9v.9h-.9zM401.3 248.3h.9v.9h-.9zM281.2 245.6h.9v.9h-.9zM275.2 252.2h.9v.9h-.9zM332.7 287.4h.9v.9h-.9zM391.9 250.2h.9v.9h-.9zM322.1 217.2h.9v.9h-.9zM261.7 251.2h.9v.9h-.9zM259.8 254h.9v.9h-.9zM327.9 205.8h.9v.9h-.9zM327.7 293.7h.9v.9h-.9zM328.6 208.2h.9v.9h-.9zM366.1 259.5h.9v.9h-.9zM364 259.6h.9v.9h-.9zM337.8 280.6h.9v.9h-.9zM314 303.7h.9v.9h-.9zM384.6 250.6h.9v.9h-.9zM328.4 297.7h.9v.9h-.9zM253.6 271.2h.9v.9h-.9zM242.1 315h.9v.9h-.9zM347.9 273.3h.9v.9h-.9zM256.6 329.4h.9v.9h-.9zM254.6 334h.9v.9h-.9zM268.2 317.2h.9v.9h-.9zM315.6 304.8h.9v.9h-.9zM257.9 259.1h.9v.9h-.9zM289.4 245.6h.9v.9h-.9zM307.3 235.9h.9v.9h-.9zM339.9 276.2h.9v.9h-.9zM403.9 253h.9v.9h-.9zM247.8 301h.9v.9h-.9zM304.1 306h.9v.9h-.9zM275.1 240.9h.9v.9h-.9zM330.4 289.9h.9v.9h-.9zM239.5 336h.9v.9h-.9zM242.1 335.5h.9v.9h-.9zM241.1 334.9h.9v.9h-.9zM289.4 308h.9v.9h-.9zM276.7 248.4h.9v.9h-.9zM271.5 253.6h.9v.9h-.9zM238.2 320.7h.9v.9h-.9zM283.3 303.9h.9v.9h-.9zM317.9 224.5h.9v.9h-.9zM232.5 330.5h.9v.9h-.9zM359.2 260.9h.9v.9h-.9zM313.4 300.6h.9v.9h-.9zM351.2 266h.9v.9h-.9zM376.8 255.6h.9v.9h-.9zM301 241.4h.9v.9h-.9zM252.3 274.5h.9v.9h-.9zM274.6 252.6h.9v.9h-.9zM378.4 255.4h.9v.9h-.9zM279.2 249.9h.9v.9h-.9zM310.7 231.5h.9v.9h-.9zM275.9 313.3h.9v.9h-.9zM326.2 194h.9v.9h-.9zM284.1 248.9h.9v.9h-.9zM296.9 239.9h.9v.9h-.9zM264.9 321.1h.9v.9h-.9zM276.1 250.2h.9v.9h-.9zM236.7 323.1h.9v.9h-.9zM270.5 313.9h.9v.9h-.9zM362.3 262.7h.9v.9h-.9zM387.3 253.2h.9v.9h-.9zM318.7 303.5h.9v.9h-.9zM375.7 259.1h.9v.9h-.9zM350.3 266.1h.9v.9h-.9zM234.8 326.1h.9v.9h-.9zM247.9 332.2h.9v.9h-.9zM340.5 278.4h.9v.9h-.9zM316 215.1h.9v.9h-.9zM361.9 261.2h.9v.9h-.9zM274 252.1h.9v.9h-.9zM314.2 304.4h.9v.9h-.9zM338.6 277.9h.9v.9h-.9zM255.4 260.5h.9v.9h-.9zM283.2 303.5h.9v.9h-.9zM240 316.4h.9v.9h-.9zM351.9 265.2h.9v.9h-.9zM320.8 218.4h.9v.9h-.9zM250.3 329.5h.9v.9h-.9zM402.6 246.3h.9v.9h-.9zM310.6 307.6h.9v.9h-.9zM308.9 235.9h.9v.9h-.9zM254.4 333.8h.9v.9h-.9zM252.8 329.9h.9v.9h-.9zM386.4 250h.9v.9h-.9zM229.9 334.3h.9v.9h-.9zM282.8 248h.9v.9h-.9zM285.3 302.9h.9v.9h-.9zM362.3 259.2h.9v.9h-.9zM393.5 253.9h.9v.9h-.9zM280.6 248.4h.9v.9h-.9zM406.3 246.6h.9v.9h-.9zM305.1 239.1h.9v.9h-.9zM247.3 330.9h.9v.9h-.9zM319.8 221.5h.9v.9h-.9zM398.7 251.6h.9v.9h-.9zM341.1 281h.9v.9h-.9zM326.6 294.8h.9v.9h-.9zM290.2 238.7h.9v.9h-.9zM282.6 304.6h.9v.9h-.9zM258.9 260h.9v.9h-.9zM389.9 250.1h.9v.9h-.9zM254 271.3h.9v.9h-.9zM289.9 246h.9v.9h-.9zM275.1 312.6h.9v.9h-.9zM322.2 218.7h.9v.9h-.9zM240.3 313.5h.9v.9h-.9zM251.6 331.3h.9v.9h-.9zM273.3 250.8h.9v.9h-.9zM398.3 252.5h.9v.9h-.9zM233.1 327.4h.9v.9h-.9zM229.3 332.8h.9v.9h-.9zM375.6 260.3h.9v.9h-.9zM273.3 252.9h.9v.9h-.9zM321.9 304.1h.9v.9h-.9zM357.2 265.8h.9v.9h-.9zM310.3 301h.9v.9h-.9zM273.9 311.2h.9v.9h-.9zM249.1 293.4h.9v.9h-.9zM332.6 202.4h.9v.9h-.9zM335.8 198.4h.9v.9h-.9zM310.9 303.7h.9v.9h-.9zM273.1 312h.9v.9h-.9zM283.8 245.9h.9v.9h-.9zM347.5 268.1h.9v.9h-.9zM235.3 325h.9v.9h-.9zM360.3 260.4h.9v.9h-.9zM270.2 247.1h.9v.9h-.9zM281.5 305.6h.9v.9h-.9zM262.5 256.1h.9v.9h-.9zM347.2 268.2h.9v.9h-.9zM299 226.4h.9v.9h-.9zM254.4 269.8h.9v.9h-.9zM299 306.9h.9v.9h-.9zM359.1 267h.9v.9h-.9zM287.6 234.6h.9v.9h-.9zM296.4 242.3h.9v.9h-.9zM259.3 259.4h.9v.9h-.9zM291.6 301.9h.9v.9h-.9zM374.9 254.9h.9v.9h-.9zM238 320.8h.9v.9h-.9zM373.2 254.5h.9v.9h-.9zM235.5 321.7h.9v.9h-.9zM274.8 313h.9v.9h-.9zM289.4 233.1h.9v.9h-.9zM285.4 248.4h.9v.9h-.9zM363.2 261.4h.9v.9h-.9zM313.5 307h.9v.9h-.9zM297.8 240.5h.9v.9h-.9zM316.7 299.8h.9v.9h-.9zM371.5 259.9h.9v.9h-.9zM366.2 258h.9v.9h-.9zM285.9 239.6h.9v.9h-.9zM243.3 310.1h.9v.9h-.9zM273.1 253.2h.9v.9h-.9zM327.2 192.1h.9v.9h-.9zM385.8 250.3h.9v.9h-.9zM244.2 310h.9v.9h-.9zM303.1 304.4h.9v.9h-.9zM361.8 262.4h.9v.9h-.9zM250.7 329.6h.9v.9h-.9zM329.7 197.3h.9v.9h-.9zM264.6 256.2h.9v.9h-.9zM256.4 328.8h.9v.9h-.9zM287.1 233.1h.9v.9h-.9zM319.2 210.2h.9v.9h-.9zM345.1 270h.9v.9h-.9zM313.4 305.4h.9v.9h-.9zM250.4 280.9h.9v.9h-.9zM332.6 287.2h.9v.9h-.9zM367.1 257.1h.9v.9h-.9zM334.9 283h.9v.9h-.9zM294.6 244.1h.9v.9h-.9zM274.5 310.3h.9v.9h-.9zM265.3 255.4h.9v.9h-.9zM265.3 322.4h.9v.9h-.9zM240.5 317.1h.9v.9h-.9zM326.8 294.7h.9v.9h-.9zM258.3 326.9h.9v.9h-.9zM279.5 237.8h.9v.9h-.9zM284.6 303.8h.9v.9h-.9zM303.1 308.5h.9v.9h-.9zM293.7 237.1h.9v.9h-.9zM265.4 246.5h.9v.9h-.9zM304.4 302.4h.9v.9h-.9zM295 301.8h.9v.9h-.9zM279.5 310.9h.9v.9h-.9zM248.6 293.3h.9v.9h-.9zM396.4 248.9h.9v.9h-.9zM238.7 336.4h.9v.9h-.9zM389.5 253.8h.9v.9h-.9zM257.7 326.4h.9v.9h-.9zM301 306.2h.9v.9h-.9zM261.7 256.7h.9v.9h-.9zM321.1 222.2h.9v.9h-.9zM273.1 314.4h.9v.9h-.9zM236 337.4h.9v.9h-.9zM335.5 284.6h.9v.9h-.9zM283.5 244.7h.9v.9h-.9zM304.7 302.6h.9v.9h-.9zM307 231.1h.9v.9h-.9zM316 216.4h.9v.9h-.9zM313.1 232.4h.9v.9h-.9zM305.6 235.6h.9v.9h-.9zM319.7 215.6h.9v.9h-.9zM243.9 336h.9v.9h-.9zM319.9 218.8h.9v.9h-.9zM296.2 301.7h.9v.9h-.9zM381.2 255h.9v.9h-.9zM316.4 305.7h.9v.9h-.9zM258.5 331.8h.9v.9h-.9zM240.9 314.4h.9v.9h-.9zM257.4 326.7h.9v.9h-.9zM319 225.4h.9v.9h-.9zM261.5 248.4h.9v.9h-.9zM349.7 266.4h.9v.9h-.9zM327.7 299.3h.9v.9h-.9zM247.8 332.8h.9v.9h-.9zM299.1 302h.9v.9h-.9zM404.8 246.8h.9v.9h-.9zM274.2 314.7h.9v.9h-.9zM333.1 286.1h.9v.9h-.9zM229.6 335.5h.9v.9h-.9zM338.5 193.1h.9v.9h-.9zM292.2 244.1h.9v.9h-.9zM269 317.2h.9v.9h-.9zM265.5 321.7h.9v.9h-.9zM253.2 328.4h.9v.9h-.9zM255.7 261.6h.9v.9h-.9zM383.7 251.5h.9v.9h-.9zM276.1 246.7h.9v.9h-.9zM328.9 201.1h.9v.9h-.9zM307.9 304.8h.9v.9h-.9zM273.3 308.4h.9v.9h-.9zM323.5 217.8h.9v.9h-.9zM239.6 334.9h.9v.9h-.9zM326.9 294.6h.9v.9h-.9zM264.6 323h.9v.9h-.9zM343 272.4h.9v.9h-.9zM284.1 248.9h.9v.9h-.9zM386.9 253.1h.9v.9h-.9zM311.7 302.1h.9v.9h-.9zM269.3 254.3h.9v.9h-.9zM236.2 321.8h.9v.9h-.9zM352.5 267.9h.9v.9h-.9zM276.4 307.4h.9v.9h-.9zM369 256.6h.9v.9h-.9zM343.1 272.4h.9v.9h-.9zM271.1 317.5h.9v.9h-.9zM287.5 235.5h.9v.9h-.9zM341.1 277.6h.9v.9h-.9zM352.9 265.4h.9v.9h-.9zM357.7 262h.9v.9h-.9zM266.8 318.3h.9v.9h-.9zM248.2 330.8h.9v.9h-.9zM254.4 269.8h.9v.9h-.9zM352 268h.9v.9h-.9zM293.7 306.3h.9v.9h-.9zM391.3 248.6h.9v.9h-.9zM265.7 256.3h.9v.9h-.9zM379.5 254.6h.9v.9h-.9zM375.5 253.9h.9v.9h-.9zM247 300.8h.9v.9h-.9zM265.6 254.5h.9v.9h-.9zM233 329.4h.9v.9h-.9zM400.1 251.8h.9v.9h-.9zM338.8 194.1h.9v.9h-.9zM306.6 302h.9v.9h-.9zM354.2 263.7h.9v.9h-.9zM259.5 259.5h.9v.9h-.9zM364.4 258.2h.9v.9h-.9zM316.3 214.8h.9v.9h-.9zM262 256.9h.9v.9h-.9zM279.6 244.2h.9v.9h-.9zM317.6 218.5h.9v.9h-.9zM243.6 335.2h.9v.9h-.9zM368.7 257.1h.9v.9h-.9zM300.4 228.3h.9v.9h-.9zM244.5 331.7h.9v.9h-.9zM265.8 246.3h.9v.9h-.9zM318.1 208.5h.9v.9h-.9zM270.7 250.9h.9v.9h-.9zM363 261.6h.9v.9h-.9zM291 245.9h.9v.9h-.9zM378.7 256h.9v.9h-.9zM259.3 253.7h.9v.9h-.9zM331.9 200.3h.9v.9h-.9zM282.7 308.5h.9v.9h-.9zM256.7 263.5h.9v.9h-.9zM287.2 302.5h.9v.9h-.9zM287.4 233.5h.9v.9h-.9zM247.3 296.9h.9v.9h-.9zM370.1 256.9h.9v.9h-.9zM264 322.2h.9v.9h-.9zM265.9 256.2h.9v.9h-.9zM300 304.7h.9v.9h-.9zM318 300.6h.9v.9h-.9zM254.4 328.5h.9v.9h-.9zM360.6 261.1h.9v.9h-.9zM331 290h.9v.9h-.9zM269.8 319h.9v.9h-.9zM366.5 262.5h.9v.9h-.9zM349.7 267.5h.9v.9h-.9zM284.7 303.1h.9v.9h-.9zM303.6 304.8h.9v.9h-.9zM309.9 302.1h.9v.9h-.9zM348.9 267h.9v.9h-.9zM345.3 270.7h.9v.9h-.9zM316.1 299.9h.9v.9h-.9zM325.6 202.3h.9v.9h-.9zM396 247.5h.9v.9h-.9zM331.1 292.3h.9v.9h-.9zM320 303.3h.9v.9h-.9zM321.7 200.6h.9v.9h-.9zM266.5 319.7h.9v.9h-.9zM292.3 244.7h.9v.9h-.9zM300.1 239.4h.9v.9h-.9zM303.8 302.1h.9v.9h-.9zM276.3 244.7h.9v.9h-.9zM395.9 247.7h.9v.9h-.9zM252.2 332.9h.9v.9h-.9zM269.3 315.1h.9v.9h-.9zM342.5 277.5h.9v.9h-.9zM312.2 227.8h.9v.9h-.9zM251.5 329.5h.9v.9h-.9zM274.2 252.5h.9v.9h-.9zM272.7 250.7h.9v.9h-.9zM305.2 304.2h.9v.9h-.9zM293.5 306.7h.9v.9h-.9zM398 247.4h.9v.9h-.9zM247.3 302.9h.9v.9h-.9zM389.5 249.1h.9v.9h-.9zM387.2 253.8h.9v.9h-.9zM347.7 272h.9v.9h-.9zM323.3 298.2h.9v.9h-.9zM385.7 250.3h.9v.9h-.9zM270.8 251.3h.9v.9h-.9zM239.6 318.9h.9v.9h-.9zM316.4 222.8h.9v.9h-.9zM312.2 303.7h.9v.9h-.9zM350.2 266.5h.9v.9h-.9zM403.3 247.7h.9v.9h-.9zM294.2 240.9h.9v.9h-.9zM304.1 306.1h.9v.9h-.9zM281.2 305.2h.9v.9h-.9zM318.6 220.6h.9v.9h-.9zM402.1 250.8h.9v.9h-.9zM287.9 246.4h.9v.9h-.9zM333.2 289.7h.9v.9h-.9zM325.9 212.8h.9v.9h-.9zM230.4 330.9h.9v.9h-.9zM337.1 284.2h.9v.9h-.9zM390.5 251.2h.9v.9h-.9zM340.4 277.9h.9v.9h-.9zM310.4 301.1h.9v.9h-.9zM261.4 251.9h.9v.9h-.9zM391.3 249.3h.9v.9h-.9zM375.1 255.7h.9v.9h-.9zM275 250.4h.9v.9h-.9zM285.7 242.7h.9v.9h-.9zM236.3 321.2h.9v.9h-.9zM331.2 289.8h.9v.9h-.9zM231.8 330.5h.9v.9h-.9zM395.5 249h.9v.9h-.9zM302.4 233.8h.9v.9h-.9zM266.9 255.8h.9v.9h-.9zM252.1 275.8h.9v.9h-.9zM272.2 309.6h.9v.9h-.9zM380.9 251.4h.9v.9h-.9zM340.7 276.4h.9v.9h-.9zM344.6 270.4h.9v.9h-.9zM284.4 303.3h.9v.9h-.9zM294.4 302.9h.9v.9h-.9zM293.7 304.3h.9v.9h-.9zM303.3 229.3h.9v.9h-.9zM396.7 249.4h.9v.9h-.9zM281.1 236.4h.9v.9h-.9zM353.9 264.2h.9v.9h-.9zM336.6 285.3h.9v.9h-.9zM335.8 196.7h.9v.9h-.9zM335.9 286h.9v.9h-.9zM279.5 250h.9v.9h-.9zM304.2 305.9h.9v.9h-.9zM373.1 256.6h.9v.9h-.9zM277.8 310h.9v.9h-.9zM350.6 266.3h.9v.9h-.9zM244.4 336h.9v.9h-.9zM264.8 327.2h.9v.9h-.9zM270.8 314.8h.9v.9h-.9zM311.7 233.1h.9v.9h-.9zM362.4 260.4h.9v.9h-.9zM244.8 335.5h.9v.9h-.9zM270.5 317.9h.9v.9h-.9zM386.1 251.3h.9v.9h-.9zM333.7 201.3h.9v.9h-.9zM261.3 325.1h.9v.9h-.9zM329.3 203.4h.9v.9h-.9zM255.7 254h.9v.9h-.9zM295.6 238.2h.9v.9h-.9zM290.4 302h.9v.9h-.9zM315.5 300.4h.9v.9h-.9zM365.3 264.6h.9v.9h-.9zM274.3 252.4h.9v.9h-.9zM261.3 258.5h.9v.9h-.9zM328.1 294.5h.9v.9h-.9zM397.1 247.2h.9v.9h-.9zM335.3 200.1h.9v.9h-.9zM342.8 275.4h.9v.9h-.9zM298.9 242.2h.9v.9h-.9zM400.4 246.9h.9v.9h-.9zM236.1 323.9h.9v.9h-.9zM389.3 254h.9v.9h-.9zM343.9 271.2h.9v.9h-.9zM254.9 333.4h.9v.9h-.9zM274.8 249.8h.9v.9h-.9zM259.2 260h.9v.9h-.9zM263.9 246.9h.9v.9h-.9zM268.4 321.3h.9v.9h-.9zM246.5 335.6h.9v.9h-.9zM340.6 192.3h.9v.9h-.9zM254.6 269.3h.9v.9h-.9zM355.8 262.6h.9v.9h-.9zM256.9 255.6h.9v.9h-.9zM288.6 244h.9v.9h-.9zM285.6 302.8h.9v.9h-.9zM280 250.1h.9v.9h-.9zM293.8 308.7h.9v.9h-.9zM281.3 304.2h.9v.9h-.9zM262.2 248.5h.9v.9h-.9zM268 316.7h.9v.9h-.9zM261.2 327.7h.9v.9h-.9zM264.1 256.9h.9v.9h-.9zM337.1 197.3h.9v.9h-.9zM265.8 323.2h.9v.9h-.9zM373.1 254.7h.9v.9h-.9zM240.9 334.8h.9v.9h-.9zM288.7 307.2h.9v.9h-.9zM316.6 209.4h.9v.9h-.9zM313.7 300.9h.9v.9h-.9zM262.2 324.5h.9v.9h-.9zM258.2 257.7h.9v.9h-.9zM320.7 211.7h.9v.9h-.9zM374 254.7h.9v.9h-.9zM317 301.4h.9v.9h-.9zM324.5 196.1h.9v.9h-.9zM268.9 254.9h.9v.9h-.9zM273.7 308.1h.9v.9h-.9zM246.4 331.1h.9v.9h-.9zM321.9 297.7h.9v.9h-.9zM383.4 250.6h.9v.9h-.9zM251.1 284.2h.9v.9h-.9zM278.8 249h.9v.9h-.9zM253.5 333h.9v.9h-.9zM255.4 330.8h.9v.9h-.9zM258.4 331.9h.9v.9h-.9zM298.2 231.5h.9v.9h-.9zM322.4 200.1h.9v.9h-.9zM288.7 232.7h.9v.9h-.9zM371.8 259.7h.9v.9h-.9zM399 247.2h.9v.9h-.9zM304.1 302.2h.9v.9h-.9zM323.3 215.3h.9v.9h-.9zM318.7 225.4h.9v.9h-.9zM401.1 252.9h.9v.9h-.9zM341.5 279.6h.9v.9h-.9zM276.4 306.7h.9v.9h-.9zM325.4 298.5h.9v.9h-.9zM273.7 309.2h.9v.9h-.9zM398.7 247.3h.9v.9h-.9zM311.9 300.9h.9v.9h-.9zM251.2 284.9h.9v.9h-.9zM301.3 240.5h.9v.9h-.9zM244.8 336.3h.9v.9h-.9zM337.4 282.3h.9v.9h-.9zM264.9 322.3h.9v.9h-.9zM326.4 296.4h.9v.9h-.9zM284.3 248.3h.9v.9h-.9zM320.1 216.5h.9v.9h-.9zM231.4 329.5h.9v.9h-.9zM271.6 311.9h.9v.9h-.9zM279.8 305.3h.9v.9h-.9zM298 234.4h.9v.9h-.9zM248.6 290.7h.9v.9h-.9zM291.7 304.3h.9v.9h-.9zM379.9 253.4h.9v.9h-.9zM360.2 264.2h.9v.9h-.9zM313.5 303.9h.9v.9h-.9zM317.5 301.5h.9v.9h-.9zM303.3 306.7h.9v.9h-.9zM336.9 195.4h.9v.9h-.9zM310.4 301.5h.9v.9h-.9zM298.5 302.4h.9v.9h-.9zM286.3 307.5h.9v.9h-.9zM317.8 226.4h.9v.9h-.9zM283.2 245h.9v.9h-.9zM286.7 307.2h.9v.9h-.9zM366.4 264.7h.9v.9h-.9zM321 301.3h.9v.9h-.9zM298.3 237.5h.9v.9h-.9zM291.5 304.8h.9v.9h-.9zM322.4 217.9h.9v.9h-.9zM300.3 303.6h.9v.9h-.9zM385.2 251.6h.9v.9h-.9zM307.3 308.3h.9v.9h-.9zM290.1 306.4h.9v.9h-.9zM259.5 249.2h.9v.9h-.9zM375.7 253.4h.9v.9h-.9zM387.8 254.1h.9v.9h-.9zM404.8 247.1h.9v.9h-.9zM257 260.7h.9v.9h-.9zM318.8 225.1h.9v.9h-.9zM340.9 275.5h.9v.9h-.9zM405.4 246h.9v.9h-.9zM302.2 302h.9v.9h-.9zM378.5 255.3h.9v.9h-.9zM264.1 253.7h.9v.9h-.9zM276.4 308.1h.9v.9h-.9zM406 246.9h.9v.9h-.9zM250.8 282.4h.9v.9h-.9zM248.2 299.5h.9v.9h-.9zM321.9 300.2h.9v.9h-.9zM292 244.9h.9v.9h-.9zM246.9 332.8h.9v.9h-.9zM291.1 244.3h.9v.9h-.9zM239 337.3h.9v.9h-.9zM273.5 241.4h.9v.9h-.9zM272.3 247h.9v.9h-.9zM268.5 245.4h.9v.9h-.9zM315.1 300.5h.9v.9h-.9zM260 259.1h.9v.9h-.9zM249.6 330.4h.9v.9h-.9zM300.7 241.4h.9v.9h-.9zM263.2 256.9h.9v.9h-.9zM256.9 326.6h.9v.9h-.9zM277.1 306h.9v.9h-.9zM307.8 305.6h.9v.9h-.9zM257.5 256.8h.9v.9h-.9zM296.1 301.9h.9v.9h-.9zM397.8 247.4h.9v.9h-.9zM309.5 226.4h.9v.9h-.9zM275.5 309h.9v.9h-.9zM294.5 239.3h.9v.9h-.9zM266.9 318.2h.9v.9h-.9zM320.2 298.8h.9v.9h-.9zM329.9 204.6h.9v.9h-.9zM244.5 306.6h.9v.9h-.9zM286.2 302.7h.9v.9h-.9zM328.9 204.5h.9v.9h-.9zM281.9 248.7h.9v.9h-.9zM269.4 248.4h.9v.9h-.9zM279.3 239.2h.9v.9h-.9zM366.6 262.5h.9v.9h-.9zM252.7 278.2h.9v.9h-.9zM349.7 267h.9v.9h-.9zM302.4 304.7h.9v.9h-.9zM273.3 309.1h.9v.9h-.9zM340.7 193.3h.9v.9h-.9zM391 252.1h.9v.9h-.9zM236.4 323.7h.9v.9h-.9zM264.4 255.4h.9v.9h-.9zM236.2 322.4h.9v.9h-.9zM261.1 326.5h.9v.9h-.9zM377.1 253.3h.9v.9h-.9zM237.7 321.9h.9v.9h-.9zM299 306.2h.9v.9h-.9zM279.1 238.2h.9v.9h-.9zM304.4 304.6h.9v.9h-.9zM360.2 262.8h.9v.9h-.9zM309.5 226.7h.9v.9h-.9zM305.2 307.4h.9v.9h-.9zM251.9 328.7h.9v.9h-.9zM353.8 264h.9v.9h-.9zM326.1 298h.9v.9h-.9zM325.7 214.7h.9v.9h-.9zM292.7 245h.9v.9h-.9zM284.3 242h.9v.9h-.9zM320.6 202.7h.9v.9h-.9zM291.6 234.2h.9v.9h-.9zM254.4 328.2h.9v.9h-.9zM373.8 258.2h.9v.9h-.9zM259.3 327.7h.9v.9h-.9zM311 305.7h.9v.9h-.9zM249.6 292.6h.9v.9h-.9zM265.9 255.5h.9v.9h-.9zM264.2 323.1h.9v.9h-.9zM249.3 293.2h.9v.9h-.9zM293.6 245h.9v.9h-.9zM329.2 204.2h.9v.9h-.9zM306.2 233.3h.9v.9h-.9zM340.5 278.2h.9v.9h-.9zM273.8 252.8h.9v.9h-.9zM281.8 244.4h.9v.9h-.9zM379.2 252.1h.9v.9h-.9zM368.3 260.3h.9v.9h-.9zM287.2 238h.9v.9h-.9zM286 244.2h.9v.9h-.9zM294.7 302h.9v.9h-.9zM374.6 259.8h.9v.9h-.9zM257.2 259.5h.9v.9h-.9zM243.5 332.3h.9v.9h-.9zM307.8 301.3h.9v.9h-.9zM236.4 323.8h.9v.9h-.9zM380.9 252.5h.9v.9h-.9zM279.5 306.5h.9v.9h-.9zM303.9 236.8h.9v.9h-.9zM347.3 273.9h.9v.9h-.9zM258.4 259.1h.9v.9h-.9zM329.1 207.8h.9v.9h-.9zM244.3 309.8h.9v.9h-.9zM401.4 251.8h.9v.9h-.9zM402 249h.9v.9h-.9zM337.2 193h.9v.9h-.9zM282.3 238.5h.9v.9h-.9zM234.2 325.7h.9v.9h-.9zM308.6 228.7h.9v.9h-.9zM295.2 302.7h.9v.9h-.9zM323.2 298h.9v.9h-.9zM249.5 287.2h.9v.9h-.9zM326.4 198.1h.9v.9h-.9zM274.2 249.4h.9v.9h-.9zM273.9 249.2h.9v.9h-.9zM269.4 314.2h.9v.9h-.9zM320.2 298.4h.9v.9h-.9zM301.6 238.2h.9v.9h-.9zM382.3 254.4h.9v.9h-.9zM298.7 227.1h.9v.9h-.9zM329.1 291.9h.9v.9h-.9zM295.3 239.2h.9v.9h-.9zM267 249.8h.9v.9h-.9zM304.8 303.9h.9v.9h-.9zM383.8 256.5h.9v.9h-.9zM289.8 305h.9v.9h-.9zM359.9 263.9h.9v.9h-.9zM237 336.9h.9v.9h-.9zM326.5 295h.9v.9h-.9zM393.3 248.4h.9v.9h-.9zM263.5 249.2h.9v.9h-.9zM332.3 203.5h.9v.9h-.9zM248.8 330h.9v.9h-.9zM327.5 202.3h.9v.9h-.9zM296.8 231.3h.9v.9h-.9zM324.7 300.9h.9v.9h-.9zM256 332.1h.9v.9h-.9zM374.3 254.9h.9v.9h-.9zM313.6 216.6h.9v.9h-.9zM299 304h.9v.9h-.9zM242.7 313.8h.9v.9h-.9zM387.7 249.4h.9v.9h-.9zM259.4 257.9h.9v.9h-.9zM331.5 202.5h.9v.9h-.9zM232.9 325.7h.9v.9h-.9zM237.3 320.5h.9v.9h-.9zM277.6 248.4h.9v.9h-.9zM275.7 308.4h.9v.9h-.9zM398.9 246.9h.9v.9h-.9zM328.6 297.9h.9v.9h-.9zM366.5 260h.9v.9h-.9zM293.6 235.5h.9v.9h-.9zM384 253.6h.9v.9h-.9zM283.2 307.1h.9v.9h-.9zM319.5 299.4h.9v.9h-.9zM326.9 212.5h.9v.9h-.9zM289 232.3h.9v.9h-.9zM314.6 230h.9v.9h-.9zM270.9 254h.9v.9h-.9zM308.2 301.7h.9v.9h-.9zM259.2 259.3h.9v.9h-.9zM283.9 305.2h.9v.9h-.9zM332.7 202.6h.9v.9h-.9zM332.2 287.8h.9v.9h-.9zM241.3 312.5h.9v.9h-.9zM278.2 251.3h.9v.9h-.9zM258.4 255.8h.9v.9h-.9zM268 255h.9v.9h-.9zM336.1 283.9h.9v.9h-.9zM264.1 328.5h.9v.9h-.9zM262.6 328.7h.9v.9h-.9zM342.7 272.8h.9v.9h-.9zM287.2 305.1h.9v.9h-.9zM301.1 302.2h.9v.9h-.9zM239.5 319.3h.9v.9h-.9zM335.2 196.6h.9v.9h-.9zM257 256.9h.9v.9h-.9zM245.2 332.4h.9v.9h-.9zM324.7 298.3h.9v.9h-.9zM345.8 269.9h.9v.9h-.9zM364.6 258.7h.9v.9h-.9zM366.2 258.7h.9v.9h-.9zM278.6 311.5h.9v.9h-.9zM252.6 276.2h.9v.9h-.9zM345.4 270.4h.9v.9h-.9zM245.2 308.8h.9v.9h-.9zM239.9 336.4h.9v.9h-.9zM261.5 325h.9v.9h-.9zM255.7 259.8h.9v.9h-.9zM317.7 300h.9v.9h-.9zM240.9 334.8h.9v.9h-.9zM301.9 307.7h.9v.9h-.9zM340.4 193.4h.9v.9h-.9zM275.8 251.6h.9v.9h-.9zM265.3 323.2h.9v.9h-.9zM282.2 304.1h.9v.9h-.9zM330.2 192.3h.9v.9h-.9zM315.3 300.2h.9v.9h-.9zM350.3 267.1h.9v.9h-.9zM331.9 287.7h.9v.9h-.9zM249 329.8h.9v.9h-.9zM246.6 302.8h.9v.9h-.9zM245.3 304.1h.9v.9h-.9zM356.2 269.3h.9v.9h-.9zM235.1 323.4h.9v.9h-.9zM270.3 254.3h.9v.9h-.9zM253.3 274.3h.9v.9h-.9zM318 224.3h.9v.9h-.9zM317.2 300.2h.9v.9h-.9zM267.4 322.9h.9v.9h-.9zM276.2 252h.9v.9h-.9zM319.4 218.2h.9v.9h-.9zM293.5 238.2h.9v.9h-.9zM345 272h.9v.9h-.9zM351.6 270.4h.9v.9h-.9zM303.6 302.3h.9v.9h-.9zM297.6 242.9h.9v.9h-.9zM296.1 243.4h.9v.9h-.9zM249.9 333.6h.9v.9h-.9zM286.8 304.4h.9v.9h-.9zM285.2 302.9h.9v.9h-.9zM361.5 261.2h.9v.9h-.9zM334.2 284.1h.9v.9h-.9zM340.8 275.7h.9v.9h-.9zM337.9 279.4h.9v.9h-.9zM340.7 275.3h.9v.9h-.9zM313.2 302.3h.9v.9h-.9zM313.7 231.7h.9v.9h-.9zM393.6 249.7h.9v.9h-.9zM322.8 297.6h.9v.9h-.9zM259.8 326.5h.9v.9h-.9zM342.8 278.2h.9v.9h-.9zM376.7 253h.9v.9h-.9zM256.5 264.2h.9v.9h-.9zM292.5 303.5h.9v.9h-.9zM309.5 233.4h.9v.9h-.9zM406 247.2h.9v.9h-.9zM314 304.3h.9v.9h-.9zM255.8 327.7h.9v.9h-.9zM321.6 219.1h.9v.9h-.9zM289.5 246.8h.9v.9h-.9zM264.9 321.1h.9v.9h-.9zM260.9 325h.9v.9h-.9zM286.7 237.9h.9v.9h-.9zM245.5 336.2h.9v.9h-.9zM265 249.2h.9v.9h-.9zM338.8 196.5h.9v.9h-.9zM307.7 228h.9v.9h-.9zM281.6 244.3h.9v.9h-.9zM331.8 287.8h.9v.9h-.9zM401.4 247.3h.9v.9h-.9zM317.3 303.4h.9v.9h-.9zM311.2 302h.9v.9h-.9zM313.2 301.8h.9v.9h-.9zM316.3 304.5h.9v.9h-.9zM348.1 268.4h.9v.9h-.9zM365.6 257.7h.9v.9h-.9zM268.4 246.8h.9v.9h-.9zM247.3 299.6h.9v.9h-.9zM329.3 199.6h.9v.9h-.9zM406.2 251.3h.9v.9h-.9zM255.1 264.9h.9v.9h-.9zM275.8 251.5h.9v.9h-.9zM381.5 252.8h.9v.9h-.9zM303.7 238.6h.9v.9h-.9zM382.9 256h.9v.9h-.9zM274.8 252.5h.9v.9h-.9zM324.4 213h.9v.9h-.9zM315.9 300.7h.9v.9h-.9zM327.8 209.1h.9v.9h-.9zM323.7 211.8h.9v.9h-.9zM286.6 239h.9v.9h-.9zM280.9 308.7h.9v.9h-.9zM308.1 301.2h.9v.9h-.9zM306.1 301.3h.9v.9h-.9zM261.2 326.4h.9v.9h-.9zM265.9 256.2h.9v.9h-.9zM368.3 257.6h.9v.9h-.9zM281.3 245.6h.9v.9h-.9zM285.8 302.9h.9v.9h-.9zM256.2 333.5h.9v.9h-.9zM298.7 240.6h.9v.9h-.9zM245.9 304.4h.9v.9h-.9zM305.5 301.4h.9v.9h-.9zM405.8 247.7h.9v.9h-.9zM280.8 242.5h.9v.9h-.9zM317.3 299.5h.9v.9h-.9zM315.2 302.4h.9v.9h-.9zM325.1 215.6h.9v.9h-.9zM277.3 310.7h.9v.9h-.9zM269.5 314h.9v.9h-.9zM335.4 282.8h.9v.9h-.9zM396.6 247.3h.9v.9h-.9zM288.3 246.6h.9v.9h-.9zM282.1 245.6h.9v.9h-.9zM246.2 335.1h.9v.9h-.9zM334.8 200.7h.9v.9h-.9zM320.3 214.5h.9v.9h-.9zM252.7 329h.9v.9h-.9zM295.7 301.8h.9v.9h-.9zM259.3 326.1h.9v.9h-.9zM378.6 253.7h.9v.9h-.9zM255.7 256.9h.9v.9h-.9zM250 289.2h.9v.9h-.9zM250.1 290.9h.9v.9h-.9zM324.2 297.4h.9v.9h-.9zM264.3 256.5h.9v.9h-.9zM251.8 274.8h.9v.9h-.9zM318.2 299.2h.9v.9h-.9zM330.4 290.2h.9v.9h-.9zM234.8 325.6h.9v.9h-.9zM281 304.3h.9v.9h-.9zM331.8 197.7h.9v.9h-.9zM368.2 256.6h.9v.9h-.9zM272.8 315.9h.9v.9h-.9zM311.1 300.9h.9v.9h-.9zM244.9 306.8h.9v.9h-.9zM254.2 270.3h.9v.9h-.9zM287.9 309.2h.9v.9h-.9zM367.4 260.8h.9v.9h-.9zM379.2 252h.9v.9h-.9zM400.4 250.5h.9v.9h-.9zM253.2 334.2h.9v.9h-.9zM389.6 253.8h.9v.9h-.9zM371.4 256.4h.9v.9h-.9zM375.5 258.9h.9v.9h-.9zM282.3 305.6h.9v.9h-.9zM270.4 251.9h.9v.9h-.9zM271.2 243.1h.9v.9h-.9zM350.7 266.5h.9v.9h-.9zM368.2 259.7h.9v.9h-.9zM396.2 248.4h.9v.9h-.9zM244.7 336.3h.9v.9h-.9zM289.5 306.8h.9v.9h-.9zM232.2 328.5h.9v.9h-.9zM303.5 302.7h.9v.9h-.9zM288.7 245.6h.9v.9h-.9zM378.9 252.6h.9v.9h-.9zM244.9 307.1h.9v.9h-.9zM307.6 305.7h.9v.9h-.9zM250.7 329.1h.9v.9h-.9zM387 255.4h.9v.9h-.9zM299.2 227h.9v.9h-.9zM319.1 299h.9v.9h-.9zM229.3 332.7h.9v.9h-.9zM309.8 301.4h.9v.9h-.9zM291.7 241.7h.9v.9h-.9zM382.1 251.8h.9v.9h-.9zM393.8 250.9h.9v.9h-.9zM242.7 333.8h.9v.9h-.9zM349.2 268.2h.9v.9h-.9zM293.7 301.8h.9v.9h-.9zM377.2 254.8h.9v.9h-.9zM308.6 306.7h.9v.9h-.9zM358.4 261.1h.9v.9h-.9zM286.9 234.5h.9v.9h-.9zM331.5 202h.9v.9h-.9zM361.7 259.9h.9v.9h-.9zM303.8 304.2h.9v.9h-.9zM371.9 255.9h.9v.9h-.9zM399.9 250h.9v.9h-.9zM278.5 246.9h.9v.9h-.9zM375.6 254.1h.9v.9h-.9zM254.1 333h.9v.9h-.9zM258 326.2h.9v.9h-.9zM284.6 247.7h.9v.9h-.9zM297.1 308.1h.9v.9h-.9zM262.4 247.6h.9v.9h-.9zM264.3 254.9h.9v.9h-.9zM248.5 297.3h.9v.9h-.9zM297.6 302h.9v.9h-.9zM265.4 321.6h.9v.9h-.9zM377.6 256.8h.9v.9h-.9zM285.1 240.6h.9v.9h-.9zM312.6 303.7h.9v.9h-.9zM391.9 248.9h.9v.9h-.9zM292 302.2h.9v.9h-.9zM272.4 249.9h.9v.9h-.9zM362.9 259.9h.9v.9h-.9zM343.5 274.2h.9v.9h-.9zM351.9 265.7h.9v.9h-.9zM395.9 248.2h.9v.9h-.9zM298.8 302.3h.9v.9h-.9zM262.2 325.5h.9v.9h-.9zM321.6 303.6h.9v.9h-.9zM252.9 276.8h.9v.9h-.9zM302.5 306.4h.9v.9h-.9zM347.6 268.8h.9v.9h-.9zM369 256.3h.9v.9h-.9zM348.3 268.9h.9v.9h-.9zM388.5 253h.9v.9h-.9zM374.8 259.3h.9v.9h-.9zM252.5 331.6h.9v.9h-.9zM337.8 197.6h.9v.9h-.9zM336.2 281.4h.9v.9h-.9zM267 255.7h.9v.9h-.9zM349.1 271.2h.9v.9h-.9zM293 301.8h.9v.9h-.9zM340.8 192.5h.9v.9h-.9zM239.7 317.5h.9v.9h-.9zM248.9 293.8h.9v.9h-.9zM289.5 242.4h.9v.9h-.9zM267.9 316.9h.9v.9h-.9zM378 254.3h.9v.9h-.9zM318.7 225.7h.9v.9h-.9zM340.9 277h.9v.9h-.9zM300.2 303.7h.9v.9h-.9zM269.4 321.5h.9v.9h-.9zM371.8 255.7h.9v.9h-.9zM253 271.3h.9v.9h-.9zM262.9 256.8h.9v.9h-.9zM263.7 324.2h.9v.9h-.9zM307 228.8h.9v.9h-.9zM264.1 253.6h.9v.9h-.9zM353.6 267.7h.9v.9h-.9zM397.3 250.8h.9v.9h-.9zM258.3 332.8h.9v.9h-.9zM283.5 248.9h.9v.9h-.9zM292.2 306.2h.9v.9h-.9zM309.9 235.6h.9v.9h-.9zM256.5 328h.9v.9h-.9zM404.8 250.5h.9v.9h-.9zM313.7 300.6h.9v.9h-.9zM248.6 331.5h.9v.9h-.9zM266.4 256.1h.9v.9h-.9zM390.3 255.2h.9v.9h-.9zM297.4 306.4h.9v.9h-.9zM253 276.1h.9v.9h-.9zM333 202.7h.9v.9h-.9zM376.4 254.4h.9v.9h-.9zM241.9 313.7h.9v.9h-.9zM265.7 246.2h.9v.9h-.9zM297.1 238.2h.9v.9h-.9zM251.6 281.7h.9v.9h-.9zM333 289.1h.9v.9h-.9zM307.2 228.1h.9v.9h-.9zM238.8 319.6h.9v.9h-.9zM348.5 267.4h.9v.9h-.9zM344.4 272h.9v.9h-.9zM254.4 329.8h.9v.9h-.9zM240.4 313.1h.9v.9h-.9zM269.8 246.7h.9v.9h-.9zM375.3 257.4h.9v.9h-.9zM236.1 320.1h.9v.9h-.9zM271.9 310.1h.9v.9h-.9zM348.3 270h.9v.9h-.9zM401.7 246.6h.9v.9h-.9zM248 335.6h.9v.9h-.9zM327.8 295.1h.9v.9h-.9zM339.1 281.7h.9v.9h-.9zM243 312h.9v.9h-.9zM280.8 250.2h.9v.9h-.9zM248.8 331.7h.9v.9h-.9zM291.8 238.1h.9v.9h-.9zM379.9 251.8h.9v.9h-.9zM294.4 235.9h.9v.9h-.9zM255.5 333.8h.9v.9h-.9zM249.4 331.9h.9v.9h-.9zM321.5 218.6h.9v.9h-.9zM337.6 285.3h.9v.9h-.9zM359.1 266.7h.9v.9h-.9zM377.6 252.6h.9v.9h-.9zM349.9 267.2h.9v.9h-.9zM307.6 301.6h.9v.9h-.9zM282.5 248.3h.9v.9h-.9zM246.1 301.1h.9v.9h-.9zM345.2 273.9h.9v.9h-.9zM377.6 256.5h.9v.9h-.9zM277.9 249.4h.9v.9h-.9zM233 326.4h.9v.9h-.9zM366.6 261.7h.9v.9h-.9zM323.6 203.6h.9v.9h-.9zM284.9 303.8h.9v.9h-.9zM324.5 296.6h.9v.9h-.9zM323.4 298.9h.9v.9h-.9zM351.5 265.1h.9v.9h-.9zM266.9 245.5h.9v.9h-.9zM231.7 329.9h.9v.9h-.9zM351 269.2h.9v.9h-.9zM275.3 309.7h.9v.9h-.9zM334 286.5h.9v.9h-.9zM241.1 316.2h.9v.9h-.9zM254.5 266.8h.9v.9h-.9zM401.1 246.9h.9v.9h-.9zM283 242.9h.9v.9h-.9zM308.1 301.3h.9v.9h-.9zM380.8 254.5h.9v.9h-.9zM278.5 250.8h.9v.9h-.9zM333.3 285.4h.9v.9h-.9zM254.7 256.3h.9v.9h-.9zM297.2 303.7h.9v.9h-.9zM268.8 255h.9v.9h-.9zM293.7 301.8h.9v.9h-.9zM322 220h.9v.9h-.9zM268.1 253.9h.9v.9h-.9zM270.9 251.9h.9v.9h-.9zM249.8 288.3h.9v.9h-.9zM245.9 306.1h.9v.9h-.9zM260.1 257.5h.9v.9h-.9zM250.2 289.5h.9v.9h-.9zM312.4 302.7h.9v.9h-.9zM241.9 312.7h.9v.9h-.9zM329 298.7h.9v.9h-.9zM322.3 220.2h.9v.9h-.9zM276.3 307.6h.9v.9h-.9zM285.6 242.4h.9v.9h-.9zM293.3 230h.9v.9h-.9zM314.6 231h.9v.9h-.9zM345 270h.9v.9h-.9zM312.6 302.5h.9v.9h-.9zM270.8 249.8h.9v.9h-.9zM396.9 252.5h.9v.9h-.9zM294.4 301.9h.9v.9h-.9zM269.5 319.9h.9v.9h-.9zM243.8 311.9h.9v.9h-.9zM307.1 237.3h.9v.9h-.9zM362 265.7h.9v.9h-.9zM300.5 301.5h.9v.9h-.9zM320 300h.9v.9h-.9zM405.1 246.2h.9v.9h-.9zM310.2 216.3h.9v.9h-.9zM286.3 246.7h.9v.9h-.9zM258 326.1h.9v.9h-.9zM336.9 195.4h.9v.9h-.9zM328.9 292.2h.9v.9h-.9zM271.9 241.4h.9v.9h-.9zM255.7 263.3h.9v.9h-.9zM332.3 286.8h.9v.9h-.9zM270.8 250h.9v.9h-.9zM309.5 220.2h.9v.9h-.9zM346.5 275.3h.9v.9h-.9zM276.9 307h.9v.9h-.9zM238.4 335.9h.9v.9h-.9zM232.4 330.4h.9v.9h-.9zM400.6 247.7h.9v.9h-.9zM323.1 301.7h.9v.9h-.9zM345.1 270h.9v.9h-.9zM272.5 311.4h.9v.9h-.9zM371.2 262h.9v.9h-.9zM263.4 248h.9v.9h-.9zM330.3 197.6h.9v.9h-.9zM274.6 251.1h.9v.9h-.9zM322.1 297.6h.9v.9h-.9zM360.6 261.3h.9v.9h-.9zM348.4 267.2h.9v.9h-.9zM313.5 303.9h.9v.9h-.9zM399.7 247.1h.9v.9h-.9zM267.4 255.6h.9v.9h-.9zM253.4 272.5h.9v.9h-.9zM331.5 195.3h.9v.9h-.9zM306.8 234.1h.9v.9h-.9zM294.8 305.6h.9v.9h-.9zM377.4 255.4h.9v.9h-.9zM354.2 263.6h.9v.9h-.9zM374.9 258.9h.9v.9h-.9zM384.4 250.5h.9v.9h-.9zM277.6 251.5h.9v.9h-.9zM260 325.1h.9v.9h-.9zM270 248.2h.9v.9h-.9zM394.9 247.8h.9v.9h-.9zM288.7 302.7h.9v.9h-.9zM303.2 239.3h.9v.9h-.9zM239 319.8h.9v.9h-.9zM245.5 334.4h.9v.9h-.9zM275.9 310.2h.9v.9h-.9zM289.8 246.3h.9v.9h-.9zM393.9 247.9h.9v.9h-.9zM256.6 327.5h.9v.9h-.9zM263.2 327.4h.9v.9h-.9zM346.9 268.5h.9v.9h-.9zM263.4 322.8h.9v.9h-.9zM304.3 304.9h.9v.9h-.9zM280.8 307.5h.9v.9h-.9zM338.2 278.6h.9v.9h-.9zM284.4 303.5h.9v.9h-.9zM257.2 256.5h.9v.9h-.9zM375.8 260h.9v.9h-.9zM245.1 307.9h.9v.9h-.9zM256.1 332.1h.9v.9h-.9zM311.1 234.5h.9v.9h-.9zM319.1 299.6h.9v.9h-.9zM356.2 266.5h.9v.9h-.9zM248.1 299.1h.9v.9h-.9zM315 221.1h.9v.9h-.9zM268.6 252.6h.9v.9h-.9zM355.5 263.5h.9v.9h-.9zM308.5 307.3h.9v.9h-.9zM338.9 193.4h.9v.9h-.9zM403.2 246.3h.9v.9h-.9zM311.8 301.3h.9v.9h-.9zM241.4 337.2h.9v.9h-.9zM306.8 235.5h.9v.9h-.9zM245.9 331.1h.9v.9h-.9zM280.3 304.7h.9v.9h-.9zM248.2 299.6h.9v.9h-.9zM323.5 297.1h.9v.9h-.9zM260.1 326.1h.9v.9h-.9zM289.2 246.3h.9v.9h-.9zM360.5 265.9h.9v.9h-.9zM313.1 303h.9v.9h-.9zM280.4 243.4h.9v.9h-.9zM289.3 246.1h.9v.9h-.9zM312.4 300.8h.9v.9h-.9zM303.4 306.6h.9v.9h-.9zM331.2 194.1h.9v.9h-.9zM336.8 286.9h.9v.9h-.9zM287.2 306.9h.9v.9h-.9zM276.4 250.3h.9v.9h-.9zM291.8 245.7h.9v.9h-.9zM269.5 315h.9v.9h-.9zM342 277.4h.9v.9h-.9zM272.6 313.6h.9v.9h-.9zM404.8 250h.9v.9h-.9zM296.7 301.7h.9v.9h-.9zM324.8 202h.9v.9h-.9zM290.5 306.8h.9v.9h-.9zM361.2 262.6h.9v.9h-.9zM310 223.4h.9v.9h-.9zM367.9 256.9h.9v.9h-.9zM289.6 246.7h.9v.9h-.9zM287.3 238.7h.9v.9h-.9zM269.5 254.7h.9v.9h-.9zM300.5 307.9h.9v.9h-.9zM284.2 308.7h.9v.9h-.9zM312.7 304.3h.9v.9h-.9zM284.5 305.2h.9v.9h-.9zM248 334.8h.9v.9h-.9zM321.2 218.9h.9v.9h-.9zM385.3 250.3h.9v.9h-.9zM293.5 230.8h.9v.9h-.9zM322.1 301.9h.9v.9h-.9zM292.5 237.4h.9v.9h-.9zM355.1 263.1h.9v.9h-.9zM282.8 242.1h.9v.9h-.9zM262.4 325.2h.9v.9h-.9zM406.5 250.3h.9v.9h-.9zM261.8 326h.9v.9h-.9zM363.9 259.2h.9v.9h-.9zM318.3 304.9h.9v.9h-.9zM398.5 253.3h.9v.9h-.9zM328.5 202.2h.9v.9h-.9zM275.2 250.3h.9v.9h-.9zM320.2 223.5h.9v.9h-.9zM230.3 332.5h.9v.9h-.9zM320.8 215h.9v.9h-.9zM357 265.3h.9v.9h-.9zM307.7 237.3h.9v.9h-.9zM370.5 255.7h.9v.9h-.9zM310.8 308.1h.9v.9h-.9zM288.8 302.4h.9v.9h-.9zM264.5 255.1h.9v.9h-.9zM338.8 196.1h.9v.9h-.9zM268 255h.9v.9h-.9zM285.2 303h.9v.9h-.9zM314.3 209.9h.9v.9h-.9zM315.5 301.4h.9v.9h-.9zM264.4 321.9h.9v.9h-.9zM259.3 254.9h.9v.9h-.9zM304.6 231.1h.9v.9h-.9zM298.7 230.3h.9v.9h-.9zM282.1 306.7h.9v.9h-.9zM359.5 260.6h.9v.9h-.9zM294.1 305.9h.9v.9h-.9zM333.8 285.1h.9v.9h-.9zM396.7 248.3h.9v.9h-.9zM261.6 249.3h.9v.9h-.9zM314.3 229h.9v.9h-.9zM394 249.3h.9v.9h-.9zM288.2 242.3h.9v.9h-.9zM298 229.3h.9v.9h-.9zM324.8 214.5h.9v.9h-.9zM233.1 329.4h.9v.9h-.9zM239.5 316.8h.9v.9h-.9zM356.9 268.4h.9v.9h-.9zM326.9 294.6h.9v.9h-.9zM361.8 260.3h.9v.9h-.9zM245.8 334.8h.9v.9h-.9zM335.1 282.6h.9v.9h-.9zM239.2 319.7h.9v.9h-.9zM354.8 263.1h.9v.9h-.9zM258 257.8h.9v.9h-.9zM348.5 267.9h.9v.9h-.9zM274.2 239.8h.9v.9h-.9zM405.6 246.1h.9v.9h-.9zM261.2 257.4h.9v.9h-.9zM369.4 257.3h.9v.9h-.9zM385.5 250.7h.9v.9h-.9zM299.4 306.6h.9v.9h-.9zM391.4 248.6h.9v.9h-.9zM260.3 254.2h.9v.9h-.9zM320.5 208.8h.9v.9h-.9zM302.7 303.5h.9v.9h-.9zM398.6 249.5h.9v.9h-.9zM285.3 247.6h.9v.9h-.9zM389.4 253.3h.9v.9h-.9zM374.8 257h.9v.9h-.9zM285.7 303.1h.9v.9h-.9zM315.9 209.9h.9v.9h-.9zM244 335.7h.9v.9h-.9zM255.7 329.1h.9v.9h-.9zM390.1 250h.9v.9h-.9zM247.5 302.2h.9v.9h-.9zM274.8 310.1h.9v.9h-.9zM246.6 302.5h.9v.9h-.9zM267.3 318h.9v.9h-.9zM294.9 307.9h.9v.9h-.9zM372.6 256h.9v.9h-.9zM313.1 220.9h.9v.9h-.9zM255 327.3h.9v.9h-.9zM404.4 249.9h.9v.9h-.9zM252.5 329.2h.9v.9h-.9zM273.4 308.3h.9v.9h-.9zM314 215.8h.9v.9h-.9zM312.4 304.3h.9v.9h-.9zM290.1 302.2h.9v.9h-.9zM253.5 328h.9v.9h-.9zM262.2 324.4h.9v.9h-.9zM258.3 327.3h.9v.9h-.9zM268.5 318.3h.9v.9h-.9zM401.4 249.1h.9v.9h-.9zM323.7 298h.9v.9h-.9zM246.7 335.1h.9v.9h-.9zM350.1 266.2h.9v.9h-.9zM311.4 307.5h.9v.9h-.9zM327.5 211h.9v.9h-.9zM253.6 270.7h.9v.9h-.9zM276.7 248h.9v.9h-.9zM364.3 258.4h.9v.9h-.9zM284.9 248.2h.9v.9h-.9zM251.2 281.8h.9v.9h-.9zM329.1 295h.9v.9h-.9zM293.5 304.3h.9v.9h-.9zM325.5 298.8h.9v.9h-.9zM293.1 302.3h.9v.9h-.9zM240.7 316.1h.9v.9h-.9zM265.7 320h.9v.9h-.9zM377.6 255.8h.9v.9h-.9zM393.5 251.1h.9v.9h-.9zM304.9 301.9h.9v.9h-.9zM330 204h.9v.9h-.9zM389.2 253.8h.9v.9h-.9zM231.6 332h.9v.9h-.9zM276.7 307.8h.9v.9h-.9zM286.6 303.5h.9v.9h-.9zM277.2 250.1h.9v.9h-.9zM346.6 275.9h.9v.9h-.9zM405.4 248.8h.9v.9h-.9zM257.8 328h.9v.9h-.9zM292.9 302.1h.9v.9h-.9zM254.4 269.7h.9v.9h-.9zM333.6 284.9h.9v.9h-.9zM318.4 301.1h.9v.9h-.9zM302.4 301.5h.9v.9h-.9zM239.6 318.9h.9v.9h-.9zM272.1 251h.9v.9h-.9zM298 233.7h.9v.9h-.9zM268.7 320.4h.9v.9h-.9zM309.5 307.1h.9v.9h-.9zM336.3 199.2h.9v.9h-.9zM243.8 311.8h.9v.9h-.9zM320 298.8h.9v.9h-.9zM256.7 263h.9v.9h-.9zM390.5 249.8h.9v.9h-.9zM258.7 260.5h.9v.9h-.9zM379.5 252h.9v.9h-.9zM288.7 239.3h.9v.9h-.9zM356.3 262.4h.9v.9h-.9zM245.5 331.2h.9v.9h-.9zM268.7 254.7h.9v.9h-.9zM288.6 240.9h.9v.9h-.9zM268.7 249.3h.9v.9h-.9zM305.6 238.8h.9v.9h-.9zM325.5 301.9h.9v.9h-.9zM247 332.1h.9v.9h-.9zM263.7 324.1h.9v.9h-.9zM315 220.5h.9v.9h-.9zM352.9 271.2h.9v.9h-.9zM249.3 294.8h.9v.9h-.9zM332.6 287.1h.9v.9h-.9zM278.4 306.5h.9v.9h-.9zM229.9 333.1h.9v.9h-.9zM382.5 251h.9v.9h-.9zM383.8 250.5h.9v.9h-.9zM296.7 301.6h.9v.9h-.9zM236.8 319.8h.9v.9h-.9zM368.6 258.7h.9v.9h-.9zM401.1 253.1h.9v.9h-.9zM329.6 203h.9v.9h-.9zM314.9 228.1h.9v.9h-.9zM319.7 298.9h.9v.9h-.9zM278.4 306.9h.9v.9h-.9zM303.5 301.6h.9v.9h-.9zM323.5 205.8h.9v.9h-.9zM354 265.3h.9v.9h-.9zM273.4 310h.9v.9h-.9zM295.8 241.9h.9v.9h-.9zM354.9 264.5h.9v.9h-.9zM292.7 243.8h.9v.9h-.9zM363 259h.9v.9h-.9zM270.7 314.7h.9v.9h-.9zM349.1 269.9h.9v.9h-.9zM277.6 250h.9v.9h-.9zM348.1 272h.9v.9h-.9zM269.9 254.4h.9v.9h-.9zM370.3 257.2h.9v.9h-.9zM294.7 241.3h.9v.9h-.9zM355.5 267.8h.9v.9h-.9zM284.9 303.1h.9v.9h-.9zM257.2 253.2h.9v.9h-.9zM334.8 200.8h.9v.9h-.9zM298.4 242.8h.9v.9h-.9zM295.2 302.3h.9v.9h-.9zM349.7 266.4h.9v.9h-.9zM281.3 239.7h.9v.9h-.9zM331.1 205.1h.9v.9h-.9zM286.9 304.7h.9v.9h-.9zM319.7 223.6h.9v.9h-.9zM284.4 247.2h.9v.9h-.9zM271.9 310.2h.9v.9h-.9zM333.3 202.3h.9v.9h-.9zM370.4 256h.9v.9h-.9zM238.9 319.9h.9v.9h-.9zM340 281h.9v.9h-.9zM326.5 200.4h.9v.9h-.9zM247.8 297.4h.9v.9h-.9zM307.3 301.3h.9v.9h-.9zM311.1 234.7h.9v.9h-.9zM245.8 306.7h.9v.9h-.9zM305.9 301.8h.9v.9h-.9zM353.7 270.8h.9v.9h-.9zM259.3 327h.9v.9h-.9zM295.2 301.9h.9v.9h-.9zM338.2 278.8h.9v.9h-.9zM244.2 332.6h.9v.9h-.9zM249.5 331.3h.9v.9h-.9zM287.3 237.4h.9v.9h-.9zM289.3 233.2h.9v.9h-.9zM293.2 244.9h.9v.9h-.9zM346.7 269.8h.9v.9h-.9zM301.2 230.8h.9v.9h-.9zM310.3 301.9h.9v.9h-.9zM399.5 249.9h.9v.9h-.9zM317.4 226.9h.9v.9h-.9zM259.9 328.3h.9v.9h-.9zM275.1 307.1h.9v.9h-.9zM337.9 193.6h.9v.9h-.9zM284.9 303.1h.9v.9h-.9zM314.9 300.3h.9v.9h-.9zM284 305.1h.9v.9h-.9zM338.6 280h.9v.9h-.9zM268.7 246.4h.9v.9h-.9zM329.7 291.7h.9v.9h-.9zM308.8 305.8h.9v.9h-.9zM260.7 326.4h.9v.9h-.9zM376.4 254.9h.9v.9h-.9zM289.3 245.5h.9v.9h-.9zM241 315.2h.9v.9h-.9zM250.7 287.7h.9v.9h-.9zM278.7 310.9h.9v.9h-.9zM383.5 251.8h.9v.9h-.9zM373 254.8h.9v.9h-.9zM245.5 333.1h.9v.9h-.9zM337.8 279h.9v.9h-.9zM310.1 216.6h.9v.9h-.9zM279.1 309.8h.9v.9h-.9zM273.2 309.4h.9v.9h-.9zM269 243h.9v.9h-.9zM294.5 303.3h.9v.9h-.9zM290.8 304.7h.9v.9h-.9zM301.2 301.6h.9v.9h-.9zM291.9 301.9h.9v.9h-.9zM278.2 306.9h.9v.9h-.9zM296.1 301.9h.9v.9h-.9zM306.8 226.1h.9v.9h-.9zM274.3 309.6h.9v.9h-.9zM335.9 281.5h.9v.9h-.9zM368.6 261.1h.9v.9h-.9zM306.7 307.7h.9v.9h-.9zM262.8 256h.9v.9h-.9zM319.6 223.7h.9v.9h-.9zM261.7 324.3h.9v.9h-.9zM313.5 301.7h.9v.9h-.9zM318.5 299.1h.9v.9h-.9zM365.3 259.7h.9v.9h-.9zM267.8 317.3h.9v.9h-.9zM240.8 336.8h.9v.9h-.9zM256.5 330.2h.9v.9h-.9zM247.2 335.7h.9v.9h-.9zM238.2 321h.9v.9h-.9zM274.1 250h.9v.9h-.9zM273.6 250.5h.9v.9h-.9zM295.1 305.1h.9v.9h-.9zM249.5 293.8h.9v.9h-.9zM287.6 240.8h.9v.9h-.9zM367.6 257.1h.9v.9h-.9zM242.2 334.5h.9v.9h-.9zM307.4 226.5h.9v.9h-.9zM301.3 302.5h.9v.9h-.9zM346.4 270.1h.9v.9h-.9zM331.1 199.6h.9v.9h-.9zM385.3 250h.9v.9h-.9zM340.4 280.5h.9v.9h-.9zM312.6 231.7h.9v.9h-.9zM355.6 262.8h.9v.9h-.9zM343.2 274.9h.9v.9h-.9zM233.2 329h.9v.9h-.9zM335.1 200.2h.9v.9h-.9zM283.5 307.8h.9v.9h-.9zM249.8 329.5h.9v.9h-.9zM294.6 242.5h.9v.9h-.9zM318.1 226.3h.9v.9h-.9zM321.9 199.4h.9v.9h-.9zM297.2 242.7h.9v.9h-.9zM278.7 251.1h.9v.9h-.9zM308.8 301.4h.9v.9h-.9zM307.3 301.7h.9v.9h-.9zM256.3 327.8h.9v.9h-.9zM395.6 247.9h.9v.9h-.9zM328.7 209.2h.9v.9h-.9zM308 301.7h.9v.9h-.9zM333.2 285.5h.9v.9h-.9zM251.7 283.2h.9v.9h-.9zM256.1 265.4h.9v.9h-.9zM245.3 307.3h.9v.9h-.9zM253.5 329h.9v.9h-.9zM273.9 243.6h.9v.9h-.9zM237.6 336.5h.9v.9h-.9zM352.2 268.2h.9v.9h-.9zM278.5 250.8h.9v.9h-.9zM306.7 232h.9v.9h-.9zM282.3 244.1h.9v.9h-.9zM244.4 333.2h.9v.9h-.9zM269.8 251.6h.9v.9h-.9zM318.6 299.9h.9v.9h-.9zM302.3 301.9h.9v.9h-.9zM403.1 253.4h.9v.9h-.9zM344.1 273h.9v.9h-.9zM243.4 332.4h.9v.9h-.9zM275.2 307.2h.9v.9h-.9zM311.3 301h.9v.9h-.9zM344.4 270.6h.9v.9h-.9zM263.1 324h.9v.9h-.9zM304.6 231h.9v.9h-.9zM360.5 261h.9v.9h-.9zM330.2 290.3h.9v.9h-.9zM397.5 251.4h.9v.9h-.9zM271.9 313.3h.9v.9h-.9zM395.6 253.1h.9v.9h-.9zM276.7 307.5h.9v.9h-.9zM284.7 239.7h.9v.9h-.9zM378.6 255.2h.9v.9h-.9zM259.5 256.7h.9v.9h-.9zM266.8 255.8h.9v.9h-.9zM256.7 326.9h.9v.9h-.9zM282.9 247.5h.9v.9h-.9zM231.4 331.9h.9v.9h-.9zM274.1 252.7h.9v.9h-.9zM355.1 264.5h.9v.9h-.9zM272.9 240.6h.9v.9h-.9zM295.2 307.1h.9v.9h-.9zM251.4 328.9h.9v.9h-.9zM355.3 266.1h.9v.9h-.9zM326.7 294.8h.9v.9h-.9zM324.9 213.2h.9v.9h-.9zM263.2 325.1h.9v.9h-.9zM367.4 259.3h.9v.9h-.9zM392.7 250.3h.9v.9h-.9zM287.1 303.2h.9v.9h-.9zM247.4 299.8h.9v.9h-.9zM394.3 250.8h.9v.9h-.9zM395.4 248.8h.9v.9h-.9zM311.1 301.5h.9v.9h-.9zM248.7 334.3h.9v.9h-.9zM273.3 314.1h.9v.9h-.9zM251.9 280h.9v.9h-.9zM288.5 309.1h.9v.9h-.9zM308.3 303.8h.9v.9h-.9zM260 325.3h.9v.9h-.9zM242.7 313.9h.9v.9h-.9zM314.5 210.5h.9v.9h-.9zM302.6 305.6h.9v.9h-.9zM333.2 201h.9v.9h-.9zM316.4 219.9h.9v.9h-.9zM318.8 217.7h.9v.9h-.9zM231.4 332.4h.9v.9h-.9zM304.2 304.6h.9v.9h-.9zM400.5 248.9h.9v.9h-.9zM332.1 201.3h.9v.9h-.9zM275.6 306.7h.9v.9h-.9zM325.4 210.7h.9v.9h-.9zM300.9 232.6h.9v.9h-.9zM371.1 255.4h.9v.9h-.9zM335.5 289.2h.9v.9h-.9zM375.7 253.7h.9v.9h-.9zM331.5 203.2h.9v.9h-.9zM364.2 258.9h.9v.9h-.9zM325.5 297.9h.9v.9h-.9zM391.2 255.8h.9v.9h-.9zM234.4 326h.9v.9h-.9zM358.1 263.8h.9v.9h-.9zM314 302.2h.9v.9h-.9zM354.2 263.4h.9v.9h-.9zM286.1 302.7h.9v.9h-.9zM269.4 316h.9v.9h-.9zM336.6 193.2h.9v.9h-.9zM398.4 253.6h.9v.9h-.9zM273.1 309.5h.9v.9h-.9zM290.6 302.1h.9v.9h-.9zM328.3 299.3h.9v.9h-.9zM232.6 329.5h.9v.9h-.9zM299.7 307.5h.9v.9h-.9zM240.7 317.4h.9v.9h-.9zM253 270.9h.9v.9h-.9zM319.2 209.7h.9v.9h-.9zM383 250.7h.9v.9h-.9zM365.1 260.6h.9v.9h-.9zM376.8 253.5h.9v.9h-.9zM377.1 253.4h.9v.9h-.9zM350.4 270.9h.9v.9h-.9zM329.7 206.4h.9v.9h-.9zM325.5 199.5h.9v.9h-.9zM279.2 306.3h.9v.9h-.9zM291.1 302h.9v.9h-.9zM242.3 333h.9v.9h-.9zM346.9 269.4h.9v.9h-.9zM309 234.6h.9v.9h-.9zM272.2 313h.9v.9h-.9zM368.3 259.9h.9v.9h-.9zM251.8 282h.9v.9h-.9zM279.3 305.2h.9v.9h-.9zM286.9 237h.9v.9h-.9zM392.6 249.5h.9v.9h-.9zM329.7 291.2h.9v.9h-.9zM275.1 249.4h.9v.9h-.9zM378 253.3h.9v.9h-.9zM251.2 332.6h.9v.9h-.9zM392.9 248.7h.9v.9h-.9zM320.5 219.2h.9v.9h-.9zM312.2 306.5h.9v.9h-.9zM253.9 330.4h.9v.9h-.9zM295.6 301.9h.9v.9h-.9zM264.1 325.6h.9v.9h-.9zM245 331.7h.9v.9h-.9zM295.8 239.2h.9v.9h-.9zM387.1 252.3h.9v.9h-.9zM294.1 244.8h.9v.9h-.9zM321.2 299.2h.9v.9h-.9zM303.4 224.1h.9v.9h-.9zM334 285.3h.9v.9h-.9zM273.6 250.1h.9v.9h-.9zM308.4 303.2h.9v.9h-.9zM266 256h.9v.9h-.9zM290.6 307.3h.9v.9h-.9zM271.2 312.2h.9v.9h-.9zM324.5 296.4h.9v.9h-.9zM241 336.7h.9v.9h-.9zM296.7 306.2h.9v.9h-.9zM282.8 245.5h.9v.9h-.9zM315.6 218h.9v.9h-.9zM340.1 192.1h.9v.9h-.9zM270.6 254h.9v.9h-.9zM290.9 304.2h.9v.9h-.9zM263.1 326.1h.9v.9h-.9zM323.6 296.9h.9v.9h-.9zM288.5 236.9h.9v.9h-.9zM231.6 329.2h.9v.9h-.9zM368 257.2h.9v.9h-.9zM270.4 312.8h.9v.9h-.9zM330.8 296.3h.9v.9h-.9zM296.4 301.7h.9v.9h-.9zM298.1 302.2h.9v.9h-.9zM266.2 321.2h.9v.9h-.9zM229.4 334.4h.9v.9h-.9zM364.7 259.3h.9v.9h-.9zM359.1 260.9h.9v.9h-.9zM324.1 300.3h.9v.9h-.9zM264.3 255.7h.9v.9h-.9zM246.3 303.2h.9v.9h-.9zM331.6 194.3h.9v.9h-.9zM250 329.5h.9v.9h-.9zM246.4 304.6h.9v.9h-.9zM277.1 312.1h.9v.9h-.9zM279.5 308.1h.9v.9h-.9zM286.2 245.8h.9v.9h-.9zM284 237.3h.9v.9h-.9zM277.5 251.4h.9v.9h-.9zM294.4 244.3h.9v.9h-.9zM273.6 309.4h.9v.9h-.9zM283.3 307.5h.9v.9h-.9zM369.5 257.4h.9v.9h-.9zM287.7 236.1h.9v.9h-.9zM271.5 315.4h.9v.9h-.9zM291.4 239.7h.9v.9h-.9zM263.4 323.9h.9v.9h-.9zM236.6 323.6h.9v.9h-.9zM255.7 327.2h.9v.9h-.9zM289.2 233.2h.9v.9h-.9zM290.2 307.4h.9v.9h-.9zM264.8 327.4h.9v.9h-.9zM250.1 333.4h.9v.9h-.9zM362.1 259.3h.9v.9h-.9zM302 301.5h.9v.9h-.9zM312.9 301.2h.9v.9h-.9zM325.9 209.9h.9v.9h-.9zM243.3 335.2h.9v.9h-.9zM304.6 307.7h.9v.9h-.9zM358.2 261.2h.9v.9h-.9zM253.5 331.6h.9v.9h-.9zM266.5 245.9h.9v.9h-.9zM347.1 268.3h.9v.9h-.9zM302.5 301.5h.9v.9h-.9zM303.6 221.7h.9v.9h-.9zM247.8 335.1h.9v.9h-.9zM316.6 228.2h.9v.9h-.9zM320.1 298.6h.9v.9h-.9zM271.7 248.6h.9v.9h-.9zM330.3 291.7h.9v.9h-.9zM320.1 298.7h.9v.9h-.9zM232.2 330.7h.9v.9h-.9zM251.2 285.6h.9v.9h-.9zM352.9 268.2h.9v.9h-.9zM282.7 303.9h.9v.9h-.9zM327.6 298h.9v.9h-.9zM259 253h.9v.9h-.9zM371.9 255.1h.9v.9h-.9zM266.5 249.7h.9v.9h-.9zM361.4 263.8h.9v.9h-.9zM320.7 304.3h.9v.9h-.9zM344.2 273.2h.9v.9h-.9zM316.8 301.8h.9v.9h-.9zM252.1 279.5h.9v.9h-.9zM305.9 302.1h.9v.9h-.9zM298.6 240.8h.9v.9h-.9zM334.2 200.5h.9v.9h-.9zM279.9 249.4h.9v.9h-.9zM272 247.5h.9v.9h-.9zM270.7 317.2h.9v.9h-.9zM403.9 247.5h.9v.9h-.9zM255 261.7h.9v.9h-.9zM241.4 336.2h.9v.9h-.9zM313.2 306.7h.9v.9h-.9zM303.9 224.1h.9v.9h-.9zM290 302.6h.9v.9h-.9zM307.2 301.4h.9v.9h-.9zM248.9 293.7h.9v.9h-.9zM251.3 329h.9v.9h-.9zM283.5 309h.9v.9h-.9zM320.6 215.8h.9v.9h-.9zM278.1 305.6h.9v.9h-.9zM275.7 240.9h.9v.9h-.9zM258.6 260.6h.9v.9h-.9zM267.1 254.1h.9v.9h-.9zM299.5 307.2h.9v.9h-.9zM304.7 301.7h.9v.9h-.9zM402.6 249.5h.9v.9h-.9zM296.9 243.3h.9v.9h-.9zM310.9 301.2h.9v.9h-.9zM260.7 254.1h.9v.9h-.9zM325.6 204.7h.9v.9h-.9zM306 237.5h.9v.9h-.9zM266.8 320.3h.9v.9h-.9zM287.2 246.7h.9v.9h-.9zM278.9 242.4h.9v.9h-.9zM369 261.8h.9v.9h-.9zM258.4 258.3h.9v.9h-.9zM375 254.8h.9v.9h-.9zM272.2 313.4h.9v.9h-.9zM289.8 232.1h.9v.9h-.9zM274.7 307.4h.9v.9h-.9zM281.9 249.4h.9v.9h-.9zM372.1 257.7h.9v.9h-.9zM244.6 331.6h.9v.9h-.9zM337.8 197.2h.9v.9h-.9zM306.5 301.6h.9v.9h-.9zM258.4 328.6h.9v.9h-.9zM319.8 206.6h.9v.9h-.9zM248.9 296.1h.9v.9h-.9zM320.3 217h.9v.9h-.9zM358.1 262.6h.9v.9h-.9zM236.7 337h.9v.9h-.9zM285.6 243.5h.9v.9h-.9zM380.1 251.7h.9v.9h-.9zM350.9 266.4h.9v.9h-.9zM256.8 327.1h.9v.9h-.9zM253 274.9h.9v.9h-.9zM251.8 280.1h.9v.9h-.9zM327.1 199.3h.9v.9h-.9zM244.8 304.9h.9v.9h-.9zM382.5 254.9h.9v.9h-.9zM324.2 298.7h.9v.9h-.9zM250.1 291h.9v.9h-.9zM324.7 206.3h.9v.9h-.9zM370.3 261.2h.9v.9h-.9zM285.5 240.3h.9v.9h-.9zM256.5 327.9h.9v.9h-.9zM320.2 303.9h.9v.9h-.9zM291.9 302.8h.9v.9h-.9zM381.9 253h.9v.9h-.9zM293.5 233.1h.9v.9h-.9zM263.8 322.4h.9v.9h-.9zM372.8 256.6h.9v.9h-.9zM324.9 210.1h.9v.9h-.9zM245.2 331.4h.9v.9h-.9zM253.9 330.4h.9v.9h-.9zM372.2 261.1h.9v.9h-.9zM238.4 320.5h.9v.9h-.9zM388.9 250.1h.9v.9h-.9zM314.2 210.7h.9v.9h-.9zM368 257.2h.9v.9h-.9zM293.8 304.8h.9v.9h-.9zM309.1 305.6h.9v.9h-.9zM323.1 297.2h.9v.9h-.9zM388.3 250.8h.9v.9h-.9zM355.8 263.3h.9v.9h-.9zM405.5 246h.9v.9h-.9zM251.1 283.4h.9v.9h-.9zM286.3 245.5h.9v.9h-.9zM243.1 337h.9v.9h-.9zM328.3 208.4h.9v.9h-.9zM398.7 251.8h.9v.9h-.9zM242.6 313.6h.9v.9h-.9zM251.6 273.3h.9v.9h-.9zM377.2 253h.9v.9h-.9zM268.6 254.4h.9v.9h-.9zM239.3 335.6h.9v.9h-.9zM348.7 269.3h.9v.9h-.9zM282.4 306.9h.9v.9h-.9zM280 247.9h.9v.9h-.9zM385.1 254.8h.9v.9h-.9zM315.8 228.2h.9v.9h-.9zM360 260.3h.9v.9h-.9zM230.4 333.8h.9v.9h-.9zM289.2 302.7h.9v.9h-.9zM283.4 235.7h.9v.9h-.9zM333.7 284.6h.9v.9h-.9zM325.5 302.9h.9v.9h-.9zM406.3 252.5h.9v.9h-.9zM274.2 240.6h.9v.9h-.9zM276 307.3h.9v.9h-.9zM331.6 294.5h.9v.9h-.9zM232.5 326.8h.9v.9h-.9zM274.4 248.5h.9v.9h-.9zM271.2 313.8h.9v.9h-.9zM246.1 331h.9v.9h-.9zM243.1 336.6h.9v.9h-.9zM310.6 307.7h.9v.9h-.9zM393.5 248.4h.9v.9h-.9zM321.2 301.7h.9v.9h-.9zM348 268.5h.9v.9h-.9zM328.3 293h.9v.9h-.9zM307.1 235h.9v.9h-.9zM334.1 201.5h.9v.9h-.9zM245.6 331.3h.9v.9h-.9zM274.5 312.7h.9v.9h-.9zM362.9 259.6h.9v.9h-.9zM232.6 330.2h.9v.9h-.9zM333.5 285.2h.9v.9h-.9zM242.6 332.8h.9v.9h-.9zM268.8 242.3h.9v.9h-.9zM286.8 245h.9v.9h-.9zM258 256.4h.9v.9h-.9zM286.7 302.7h.9v.9h-.9zM247.3 331.7h.9v.9h-.9zM337.7 280.5h.9v.9h-.9zM313 303h.9v.9h-.9zM304.3 236.2h.9v.9h-.9zM326.7 302h.9v.9h-.9zM328 209.7h.9v.9h-.9zM341 275h.9v.9h-.9zM351.6 265.9h.9v.9h-.9zM313.7 303.1h.9v.9h-.9zM394.1 247.9h.9v.9h-.9zM241.9 314.6h.9v.9h-.9zM265.1 321.8h.9v.9h-.9zM325.3 202.8h.9v.9h-.9zM230 334.6h.9v.9h-.9zM385.6 250h.9v.9h-.9zM282.3 308.2h.9v.9h-.9zM248.6 330.8h.9v.9h-.9zM322.2 217h.9v.9h-.9zM404.8 252.1h.9v.9h-.9zM359.7 260.5h.9v.9h-.9zM341 191.9h.9v.9h-.9zM392.5 248.2h.9v.9h-.9zM289.6 246.7h.9v.9h-.9zM402.6 251h.9v.9h-.9zM230 334.8h.9v.9h-.9zM357.9 265.7h.9v.9h-.9zM245.7 335.7h.9v.9h-.9zM320.7 206.1h.9v.9h-.9zM250.6 288.7h.9v.9h-.9zM371.3 262.4h.9v.9h-.9zM366.5 264h.9v.9h-.9zM243.8 332.3h.9v.9h-.9zM286.8 233.4h.9v.9h-.9zM240 318.5h.9v.9h-.9zM321.5 298.6h.9v.9h-.9zM302.5 304.7h.9v.9h-.9zM359.9 261.3h.9v.9h-.9zM329.8 207.1h.9v.9h-.9zM284.4 248.8h.9v.9h-.9zM356.3 264.7h.9v.9h-.9zM265.8 324.5h.9v.9h-.9zM299.2 242.1h.9v.9h-.9zM382.5 257.1h.9v.9h-.9zM259.8 257.1h.9v.9h-.9zM239.7 317.6h.9v.9h-.9zM314.7 302.4h.9v.9h-.9zM342.3 277.4h.9v.9h-.9zM294.2 229.6h.9v.9h-.9zM268.7 315.6h.9v.9h-.9zM232.8 330h.9v.9h-.9zM275.2 252h.9v.9h-.9zM229.7 335.2h.9v.9h-.9zM286.7 246.3h.9v.9h-.9zM286.7 237.9h.9v.9h-.9zM270.6 313.3h.9v.9h-.9zM265.7 325.5h.9v.9h-.9zM250.9 331h.9v.9h-.9zM250.1 288.2h.9v.9h-.9zM348.6 269.6h.9v.9h-.9zM296.3 243.8h.9v.9h-.9zM377.7 258.5h.9v.9h-.9zM242.7 332.8h.9v.9h-.9zM290.6 235.4h.9v.9h-.9zM374.4 254.8h.9v.9h-.9zM247 330.8h.9v.9h-.9zM253.4 269.6h.9v.9h-.9zM342.2 278.3h.9v.9h-.9zM259.3 259.8h.9v.9h-.9zM242.9 309.5h.9v.9h-.9zM334.1 284h.9v.9h-.9zM245.9 333.3h.9v.9h-.9zM243.5 332.5h.9v.9h-.9zM333.7 285.3h.9v.9h-.9zM325 303.3h.9v.9h-.9zM365.7 261.2h.9v.9h-.9zM342.4 279.8h.9v.9h-.9zM307.2 226.3h.9v.9h-.9zM268.5 317.3h.9v.9h-.9zM304.9 304.9h.9v.9h-.9zM404.7 250.5h.9v.9h-.9zM276 308h.9v.9h-.9zM233.9 327.1h.9v.9h-.9zM283.9 246h.9v.9h-.9zM241.8 314.8h.9v.9h-.9zM291 303.6h.9v.9h-.9zM298.1 242.9h.9v.9h-.9zM328.4 293.2h.9v.9h-.9zM291.6 237.9h.9v.9h-.9zM316.7 299.7h.9v.9h-.9zM252.8 276.3h.9v.9h-.9zM300.1 225.9h.9v.9h-.9zM307.1 307.8h.9v.9h-.9zM343 277h.9v.9h-.9zM288.5 233.5h.9v.9h-.9zM324 296.7h.9v.9h-.9zM279.5 305.7h.9v.9h-.9zM278.1 305.7h.9v.9h-.9zM277.3 238h.9v.9h-.9zM249.8 287.4h.9v.9h-.9zM242.6 311.1h.9v.9h-.9zM355.6 262.7h.9v.9h-.9zM312.9 302.1h.9v.9h-.9zM275 249.5h.9v.9h-.9zM238.1 317.7h.9v.9h-.9zM331 289.1h.9v.9h-.9zM314.4 231.1h.9v.9h-.9zM276 310.1h.9v.9h-.9zM319.5 303.9h.9v.9h-.9zM398.3 247h.9v.9h-.9zM253.6 330.1h.9v.9h-.9zM310.8 234.7h.9v.9h-.9zM356.5 262.6h.9v.9h-.9zM377 259h.9v.9h-.9zM309 225.8h.9v.9h-.9zM400.7 247.9h.9v.9h-.9zM247.8 299.4h.9v.9h-.9zM246.1 332h.9v.9h-.9zM269.6 254.6h.9v.9h-.9zM242.8 309h.9v.9h-.9zM292.2 301.8h.9v.9h-.9zM320.7 298.3h.9v.9h-.9zM332 202.1h.9v.9h-.9zM376.4 253.1h.9v.9h-.9zM248.1 299.6h.9v.9h-.9zM342.1 280.1h.9v.9h-.9zM335.4 199.5h.9v.9h-.9zM252.3 331h.9v.9h-.9zM388.2 251.8h.9v.9h-.9zM365.9 257.6h.9v.9h-.9zM268.7 315.4h.9v.9h-.9zM248.2 295.1h.9v.9h-.9zM326.1 194.2h.9v.9h-.9zM332.2 197.8h.9v.9h-.9zM331.6 290.7h.9v.9h-.9zM261.4 324.9h.9v.9h-.9zM313.2 300.6h.9v.9h-.9zM319.2 217.3h.9v.9h-.9zM280.4 247.1h.9v.9h-.9zM323.7 205.8h.9v.9h-.9zM317.8 225.8h.9v.9h-.9zM377.6 259h.9v.9h-.9zM273.2 248.2h.9v.9h-.9zM289 240.5h.9v.9h-.9zM257.7 255.4h.9v.9h-.9zM349.9 266.1h.9v.9h-.9zM267.8 255.5h.9v.9h-.9zM342.7 278.7h.9v.9h-.9zM327.5 295.2h.9v.9h-.9zM321 218.2h.9v.9h-.9zM292 240.3h.9v.9h-.9zM319.5 204.5h.9v.9h-.9zM353.5 266.7h.9v.9h-.9zM318 222.6h.9v.9h-.9zM377.3 252.7h.9v.9h-.9zM251.3 330.7h.9v.9h-.9zM258.4 331.7h.9v.9h-.9zM382.6 255.4h.9v.9h-.9zM244.8 306.3h.9v.9h-.9zM289.8 235.6h.9v.9h-.9zM328 295.8h.9v.9h-.9zM261.5 258.2h.9v.9h-.9zM311.5 225.8h.9v.9h-.9zM343.8 275.3h.9v.9h-.9zM242.7 334.4h.9v.9h-.9zM324.8 297.8h.9v.9h-.9zM287.1 305.7h.9v.9h-.9zM310.8 231.8h.9v.9h-.9zM315 300.2h.9v.9h-.9zM277.4 306.2h.9v.9h-.9zM315.4 304.2h.9v.9h-.9zM314.8 301.9h.9v.9h-.9zM261.7 324.2h.9v.9h-.9zM284.2 305.2h.9v.9h-.9zM319.9 300.1h.9v.9h-.9zM297.3 301.6h.9v.9h-.9zM291.6 230.7h.9v.9h-.9zM390.2 248.9h.9v.9h-.9zM344.7 274.1h.9v.9h-.9zM276.7 308h.9v.9h-.9zM363.4 259h.9v.9h-.9zM302.1 240.8h.9v.9h-.9zM384.5 251.8h.9v.9h-.9zM325.9 295.5h.9v.9h-.9zM292.7 303.6h.9v.9h-.9zM317.4 226.6h.9v.9h-.9zM389.1 249.5h.9v.9h-.9zM320.4 220.8h.9v.9h-.9zM337.1 285.2h.9v.9h-.9zM367.3 259.8h.9v.9h-.9zM242.4 310.4h.9v.9h-.9zM293.8 230.1h.9v.9h-.9zM263.8 322.4h.9v.9h-.9zM328.7 292.4h.9v.9h-.9zM363.9 263.2h.9v.9h-.9zM369.4 259.6h.9v.9h-.9zM326.3 299.7h.9v.9h-.9zM340.8 275.1h.9v.9h-.9zM289.2 236.1h.9v.9h-.9zM239.8 318.4h.9v.9h-.9zM243 333.2h.9v.9h-.9zM298.1 303.4h.9v.9h-.9zM314.1 231.3h.9v.9h-.9zM319.1 300h.9v.9h-.9zM239.7 334.9h.9v.9h-.9zM255.2 265.8h.9v.9h-.9zM300.6 302h.9v.9h-.9zM326.5 202.9h.9v.9h-.9zM285.5 303.2h.9v.9h-.9zM280.9 246.2h.9v.9h-.9zM356.6 263.2h.9v.9h-.9zM244.5 310.4h.9v.9h-.9zM261.9 253.5h.9v.9h-.9zM289.7 302.3h.9v.9h-.9zM272.8 253.1h.9v.9h-.9zM350.2 266.3h.9v.9h-.9zM372.9 255.7h.9v.9h-.9zM337 281.2h.9v.9h-.9zM245.5 303.1h.9v.9h-.9zM295.5 301.7h.9v.9h-.9zM366.4 258.1h.9v.9h-.9zM295.2 302h.9v.9h-.9zM266.5 250.4h.9v.9h-.9zM319.5 305.4h.9v.9h-.9zM384.2 255.3h.9v.9h-.9zM233.6 324.5h.9v.9h-.9zM384.1 252.9h.9v.9h-.9zM306.6 237.9h.9v.9h-.9zM326.4 213.2h.9v.9h-.9zM383.5 256h.9v.9h-.9zM281.4 304.6h.9v.9h-.9zM327.6 211h.9v.9h-.9zM315.5 304.6h.9v.9h-.9zM265.3 255.6h.9v.9h-.9zM235 324.2h.9v.9h-.9zM317.3 223h.9v.9h-.9zM303.8 301.4h.9v.9h-.9zM385.7 250.6h.9v.9h-.9zM279.7 238.3h.9v.9h-.9zM327.2 211.9h.9v.9h-.9zM232.3 330.7h.9v.9h-.9zM345.1 277.1h.9v.9h-.9zM346.3 268.9h.9v.9h-.9zM267.7 255.5h.9v.9h-.9zM332.2 194.3h.9v.9h-.9zM260.1 327.5h.9v.9h-.9zM355.4 263.2h.9v.9h-.9zM375.5 255.8h.9v.9h-.9zM275.6 313.5h.9v.9h-.9zM349.6 270.8h.9v.9h-.9zM309.8 223.2h.9v.9h-.9zM345.3 275.2h.9v.9h-.9zM234.9 325.5h.9v.9h-.9zM246.5 330.8h.9v.9h-.9zM362.9 259.9h.9v.9h-.9zM334.9 289.3h.9v.9h-.9zM319.2 300.1h.9v.9h-.9zM302.3 301.5h.9v.9h-.9zM352 268.8h.9v.9h-.9zM325.5 215h.9v.9h-.9zM245.6 336.4h.9v.9h-.9zM262.4 255.2h.9v.9h-.9zM268.9 248.9h.9v.9h-.9zM293.4 303.3h.9v.9h-.9zM326 295.6h.9v.9h-.9zM240.6 317.5h.9v.9h-.9zM380.1 251.6h.9v.9h-.9zM277.4 305.9h.9v.9h-.9zM283.6 304.6h.9v.9h-.9zM270.6 312h.9v.9h-.9zM321.4 297.9h.9v.9h-.9zM326.5 202.2h.9v.9h-.9zM338.4 280.6h.9v.9h-.9zM261.7 252.9h.9v.9h-.9zM279.4 240.1h.9v.9h-.9zM328.5 296.7h.9v.9h-.9zM278.5 306.1h.9v.9h-.9zM313.3 303.5h.9v.9h-.9zM259.1 325.7h.9v.9h-.9zM284.8 309.8h.9v.9h-.9zM294.3 301.7h.9v.9h-.9zM230.5 333.5h.9v.9h-.9zM244.2 310.5h.9v.9h-.9zM387.9 251.2h.9v.9h-.9zM259.4 259.5h.9v.9h-.9zM264 322.8h.9v.9h-.9zM365.3 262.6h.9v.9h-.9zM244.8 333.1h.9v.9h-.9zM301.2 303.7h.9v.9h-.9zM254.1 263.8h.9v.9h-.9zM313.8 300.5h.9v.9h-.9zM319.7 217h.9v.9h-.9zM275.3 251.8h.9v.9h-.9zM249.2 331.2h.9v.9h-.9zM381.7 251.1h.9v.9h-.9zM371.6 261.8h.9v.9h-.9zM330.9 292.2h.9v.9h-.9zM300.2 238h.9v.9h-.9zM267.5 246.6h.9v.9h-.9zM379.2 255.2h.9v.9h-.9zM319.7 301.6h.9v.9h-.9zM230.6 330.2h.9v.9h-.9zM265.7 256.3h.9v.9h-.9zM274.5 307.5h.9v.9h-.9zM370.8 260.8h.9v.9h-.9zM274.8 308h.9v.9h-.9zM309.1 303h.9v.9h-.9zM276.2 242.9h.9v.9h-.9zM273.5 311.3h.9v.9h-.9zM263.3 323.5h.9v.9h-.9zM322.7 204.6h.9v.9h-.9zM368.8 259.6h.9v.9h-.9zM289.5 245.5h.9v.9h-.9zM360.4 260.1h.9v.9h-.9zM271.9 253.7h.9v.9h-.9zM237.2 322.5h.9v.9h-.9zM405.1 246.9h.9v.9h-.9zM284.2 247.7h.9v.9h-.9zM344.8 273.4h.9v.9h-.9zM261.5 327.7h.9v.9h-.9zM319 298.9h.9v.9h-.9zM335.3 286.5h.9v.9h-.9zM276.9 307h.9v.9h-.9zM310.1 303.3h.9v.9h-.9zM262 250h.9v.9h-.9zM389.5 256h.9v.9h-.9zM273.5 308.2h.9v.9h-.9zM274.2 246.9h.9v.9h-.9zM256.7 263h.9v.9h-.9zM245.4 308.5h.9v.9h-.9zM371 255.4h.9v.9h-.9zM371.8 257.9h.9v.9h-.9zM282.4 303.8h.9v.9h-.9zM237.5 336.7h.9v.9h-.9zM391.5 248.5h.9v.9h-.9zM246 331.1h.9v.9h-.9zM347.3 268.3h.9v.9h-.9zM313.7 215.3h.9v.9h-.9zM341 277.2h.9v.9h-.9zM320.5 299.8h.9v.9h-.9zM363.2 259.2h.9v.9h-.9zM320.8 222.9h.9v.9h-.9zM321.6 301.4h.9v.9h-.9zM266.3 321.2h.9v.9h-.9zM332 199.4h.9v.9h-.9zM351.3 266.9h.9v.9h-.9zM368.2 256.6h.9v.9h-.9zM275.2 251h.9v.9h-.9zM316.3 205.6h.9v.9h-.9zM311.5 306.5h.9v.9h-.9zM391.7 248.6h.9v.9h-.9zM294.7 244.1h.9v.9h-.9zM289.6 243.8h.9v.9h-.9zM252.6 329.3h.9v.9h-.9zM273 309.2h.9v.9h-.9zM345.1 270h.9v.9h-.9zM279.5 237h.9v.9h-.9zM254.9 327.3h.9v.9h-.9zM401.4 251.1h.9v.9h-.9zM236.2 337.3h.9v.9h-.9zM262.7 248h.9v.9h-.9zM257.5 261h.9v.9h-.9zM325.7 296.3h.9v.9h-.9zM236.7 321h.9v.9h-.9zM319.1 299h.9v.9h-.9zM278.8 241h.9v.9h-.9zM236.1 324.1h.9v.9h-.9zM364.8 261.2h.9v.9h-.9zM264.2 252.4h.9v.9h-.9zM344.7 273.2h.9v.9h-.9zM320.7 299.7h.9v.9h-.9zM288.7 246.6h.9v.9h-.9zM284.6 308.4h.9v.9h-.9zM310.2 301.1h.9v.9h-.9zM320.7 302.4h.9v.9h-.9zM297.9 227.7h.9v.9h-.9zM337.3 280.4h.9v.9h-.9zM249.3 330.6h.9v.9h-.9zM387 253.6h.9v.9h-.9zM330.2 290.2h.9v.9h-.9zM405.8 248.3h.9v.9h-.9zM262.9 252.1h.9v.9h-.9zM358 261.7h.9v.9h-.9zM315.6 302.7h.9v.9h-.9zM242.4 312.4h.9v.9h-.9zM255 266.1h.9v.9h-.9zM354.6 265.2h.9v.9h-.9zM229.3 336.1h.9v.9h-.9zM252.7 328.4h.9v.9h-.9zM282.4 305.5h.9v.9h-.9zM234.7 324.9h.9v.9h-.9zM301 238h.9v.9h-.9zM295.3 301.7h.9v.9h-.9zM261.2 255.5h.9v.9h-.9zM399.5 246.8h.9v.9h-.9zM324.9 195.2h.9v.9h-.9zM354.6 263.6h.9v.9h-.9zM306.7 302.1h.9v.9h-.9zM329.3 205.2h.9v.9h-.9zM362.8 262.7h.9v.9h-.9zM296.8 301.8h.9v.9h-.9zM338.6 196.2h.9v.9h-.9zM260.3 253.4h.9v.9h-.9zM397.7 249.6h.9v.9h-.9zM378.2 253.6h.9v.9h-.9zM344.1 271h.9v.9h-.9zM244 334.2h.9v.9h-.9zM399.6 248h.9v.9h-.9zM303.4 239.9h.9v.9h-.9zM242.5 314.2h.9v.9h-.9zM329.1 297.6h.9v.9h-.9zM329.3 195.1h.9v.9h-.9zM236.8 337.4h.9v.9h-.9zM303.7 308.2h.9v.9h-.9zM398.7 249h.9v.9h-.9zM264.3 323.3h.9v.9h-.9zM364.3 260.8h.9v.9h-.9zM352.5 264.5h.9v.9h-.9zM310.6 234.7h.9v.9h-.9zM306.4 231.8h.9v.9h-.9zM269.7 249.7h.9v.9h-.9zM332.4 200.3h.9v.9h-.9zM231.2 331.7h.9v.9h-.9zM288.7 302.8h.9v.9h-.9zM379.1 256.4h.9v.9h-.9zM316.5 212.6h.9v.9h-.9zM250.1 291.1h.9v.9h-.9zM316.4 207.6h.9v.9h-.9zM247.9 331.9h.9v.9h-.9zM259 325.6h.9v.9h-.9zM263.4 245.6h.9v.9h-.9zM253.8 264.2h.9v.9h-.9zM288.9 302.1h.9v.9h-.9zM271.4 244.5h.9v.9h-.9zM247.4 335.8h.9v.9h-.9zM401.9 246.4h.9v.9h-.9zM314.9 230.5h.9v.9h-.9zM272.4 311.4h.9v.9h-.9zM252.4 279.8h.9v.9h-.9zM393.4 249.4h.9v.9h-.9zM399.6 247h.9v.9h-.9zM274.3 247.8h.9v.9h-.9zM334.7 287.3h.9v.9h-.9zM323.1 209.8h.9v.9h-.9zM254 328.8h.9v.9h-.9zM377.9 259.2h.9v.9h-.9zM332 294.3h.9v.9h-.9zM394.7 254.3h.9v.9h-.9zM336.9 282.5h.9v.9h-.9zM268.7 248.2h.9v.9h-.9zM309.3 230.5h.9v.9h-.9zM276.2 241.5h.9v.9h-.9zM338.9 282.2h.9v.9h-.9zM306.7 235h.9v.9h-.9zM292.6 307.2h.9v.9h-.9zM282.1 304.1h.9v.9h-.9zM287.7 305.7h.9v.9h-.9zM286.2 307.4h.9v.9h-.9zM254.1 328.8h.9v.9h-.9zM277.9 247.9h.9v.9h-.9zM322.7 220h.9v.9h-.9zM341.1 277.9h.9v.9h-.9zM299.5 301.6h.9v.9h-.9zM252.2 277.9h.9v.9h-.9zM322 215.4h.9v.9h-.9zM229.9 331.4h.9v.9h-.9zM319.3 303.7h.9v.9h-.9zM342.9 275.4h.9v.9h-.9zM285.9 306.9h.9v.9h-.9zM400.5 247.5h.9v.9h-.9zM322.1 297.6h.9v.9h-.9zM324.8 299.8h.9v.9h-.9zM289.9 305.6h.9v.9h-.9zM296.9 307.3h.9v.9h-.9zM294.7 303.1h.9v.9h-.9zM298.8 301.7h.9v.9h-.9zM402.7 250h.9v.9h-.9zM302.4 238.5h.9v.9h-.9zM333.3 202.3h.9v.9h-.9zM273 248h.9v.9h-.9zM260.1 258.7h.9v.9h-.9zM329.4 293.1h.9v.9h-.9zM362.2 259.2h.9v.9h-.9zM270 313h.9v.9h-.9zM317.5 226.5h.9v.9h-.9zM352 264.8h.9v.9h-.9zM277.2 306.3h.9v.9h-.9zM281.3 305h.9v.9h-.9zM397.2 247.3h.9v.9h-.9zM269.1 252.7h.9v.9h-.9zM279.6 310.3h.9v.9h-.9zM241.9 315.3h.9v.9h-.9zM284.2 246.6h.9v.9h-.9zM293.7 308.3h.9v.9h-.9zM252.7 333.6h.9v.9h-.9zM389.1 253.1h.9v.9h-.9zM241.2 333.7h.9v.9h-.9zM359.9 260.9h.9v.9h-.9zM339.3 194.5h.9v.9h-.9zM373.2 255.2h.9v.9h-.9zM268.4 317h.9v.9h-.9zM307.7 227.6h.9v.9h-.9zM300.3 231.1h.9v.9h-.9zM401.3 249.9h.9v.9h-.9zM375.9 259.9h.9v.9h-.9zM323.5 218.7h.9v.9h-.9zM322.7 220.1h.9v.9h-.9zM232.1 328.8h.9v.9h-.9zM348.6 268.6h.9v.9h-.9zM245.5 335.1h.9v.9h-.9zM313.9 304.9h.9v.9h-.9zM316.9 223.4h.9v.9h-.9zM359.7 261.1h.9v.9h-.9zM296.2 307.8h.9v.9h-.9zM306.1 301.3h.9v.9h-.9zM325.9 295.5h.9v.9h-.9zM387.2 256.9h.9v.9h-.9zM357.4 265.6h.9v.9h-.9zM303.9 226.7h.9v.9h-.9zM384.7 250.5h.9v.9h-.9zM317.8 300.1h.9v.9h-.9zM316 206.9h.9v.9h-.9zM340.4 281.4h.9v.9h-.9zM260.7 325.6h.9v.9h-.9zM335.1 286.2h.9v.9h-.9zM282.6 304.5h.9v.9h-.9zM388 252.2h.9v.9h-.9zM376.5 254h.9v.9h-.9zM294.2 242.5h.9v.9h-.9zM369.4 258.8h.9v.9h-.9zM282.4 309h.9v.9h-.9zM297 242.9h.9v.9h-.9zM273.7 310.8h.9v.9h-.9zM308.5 301.4h.9v.9h-.9zM229.9 333.8h.9v.9h-.9zM262 324.5h.9v.9h-.9zM275.8 307.4h.9v.9h-.9zM360.8 260.7h.9v.9h-.9zM332.1 289.2h.9v.9h-.9zM388 249.3h.9v.9h-.9zM284.3 248.8h.9v.9h-.9zM248.2 297.9h.9v.9h-.9zM295.4 302.4h.9v.9h-.9zM332 287.4h.9v.9h-.9zM237.8 336.3h.9v.9h-.9zM393.3 248.2h.9v.9h-.9zM301.9 240.9h.9v.9h-.9zM291.6 307.6h.9v.9h-.9zM362.8 261.2h.9v.9h-.9zM319.8 300.1h.9v.9h-.9zM299.8 302.1h.9v.9h-.9zM301.2 308h.9v.9h-.9zM290.3 244.4h.9v.9h-.9zM266.5 248.4h.9v.9h-.9zM262.6 257h.9v.9h-.9zM331.7 287.8h.9v.9h-.9zM315.5 221.1h.9v.9h-.9zM283 238h.9v.9h-.9zM384.2 251.3h.9v.9h-.9zM310.3 231.6h.9v.9h-.9zM263.9 322.8h.9v.9h-.9zM315.6 219.5h.9v.9h-.9zM320.4 301.9h.9v.9h-.9zM243 336.3h.9v.9h-.9zM250.1 287.2h.9v.9h-.9zM312.6 301.7h.9v.9h-.9zM403.4 246.8h.9v.9h-.9zM324.4 297.8h.9v.9h-.9zM374.2 258.7h.9v.9h-.9zM274.1 309.7h.9v.9h-.9zM308.7 222.3h.9v.9h-.9zM327.9 297.2h.9v.9h-.9zM339.6 276.5h.9v.9h-.9zM288.3 241.7h.9v.9h-.9zM268.2 255.2h.9v.9h-.9zM260.2 326.3h.9v.9h-.9zM311.6 228.9h.9v.9h-.9zM274.2 252.8h.9v.9h-.9zM256 265.3h.9v.9h-.9zM311.4 223.4h.9v.9h-.9zM255.4 332.8h.9v.9h-.9zM388.3 250.5h.9v.9h-.9zM320 299.4h.9v.9h-.9zM274.5 252.3h.9v.9h-.9zM254.2 328.2h.9v.9h-.9zM291.7 305h.9v.9h-.9zM306.2 236.3h.9v.9h-.9zM280.8 305.4h.9v.9h-.9zM305.3 303.3h.9v.9h-.9zM396.5 248.2h.9v.9h-.9zM351.8 267.7h.9v.9h-.9zM263.6 257.2h.9v.9h-.9zM325.7 199.7h.9v.9h-.9zM302.9 305h.9v.9h-.9zM305.2 236.2h.9v.9h-.9zM336.9 285.9h.9v.9h-.9zM286.8 241.8h.9v.9h-.9zM351.1 269.8h.9v.9h-.9zM373.2 259.2h.9v.9h-.9zM251.4 331.7h.9v.9h-.9zM246 304.7h.9v.9h-.9zM283.5 303.8h.9v.9h-.9zM315.4 306.3h.9v.9h-.9zM283.1 307h.9v.9h-.9zM330.1 295.9h.9v.9h-.9zM362.1 259.3h.9v.9h-.9zM268.4 316h.9v.9h-.9zM375.1 257.5h.9v.9h-.9zM308.4 308.1h.9v.9h-.9zM393.4 248.1h.9v.9h-.9zM406.2 252.9h.9v.9h-.9zM395.6 247.6h.9v.9h-.9zM295.3 302.5h.9v.9h-.9zM258.8 260.4h.9v.9h-.9zM313.4 221.3h.9v.9h-.9zM267 318h.9v.9h-.9zM341.2 274.7h.9v.9h-.9zM340.4 278h.9v.9h-.9zM262.1 250.2h.9v.9h-.9zM338.8 195h.9v.9h-.9zM320.2 223.6h.9v.9h-.9zM248.1 331.4h.9v.9h-.9zM281 250.1h.9v.9h-.9zM243.7 335.8h.9v.9h-.9zM264.2 256.9h.9v.9h-.9zM285.6 306.5h.9v.9h-.9zM318.9 306.1h.9v.9h-.9zM329.8 206.9h.9v.9h-.9zM238.9 315.3h.9v.9h-.9zM301.3 303.8h.9v.9h-.9zM250.3 289.3h.9v.9h-.9zM360 263.5h.9v.9h-.9zM261.3 249.1h.9v.9h-.9zM260.2 255.4h.9v.9h-.9zM311 305.8h.9v.9h-.9zM246.3 331.5h.9v.9h-.9zM363.1 259.8h.9v.9h-.9zM256.2 330h.9v.9h-.9zM329.2 298.3h.9v.9h-.9zM272.6 313.6h.9v.9h-.9zM276.4 306.8h.9v.9h-.9zM398.7 253.9h.9v.9h-.9zM386 250.7h.9v.9h-.9zM310.5 305.4h.9v.9h-.9zM303.1 301.7h.9v.9h-.9zM321.6 221.2h.9v.9h-.9zM280.8 246h.9v.9h-.9zM326 295.4h.9v.9h-.9zM287.7 247.3h.9v.9h-.9zM296.2 306.9h.9v.9h-.9zM376.3 259.9h.9v.9h-.9zM299.9 305.4h.9v.9h-.9zM278.5 247.7h.9v.9h-.9zM348.1 268.4h.9v.9h-.9zM296.9 235.6h.9v.9h-.9zM307.7 306.6h.9v.9h-.9zM244.7 305.2h.9v.9h-.9zM263.5 323.6h.9v.9h-.9zM269.1 252.9h.9v.9h-.9zM335.6 200h.9v.9h-.9zM280.2 308.4h.9v.9h-.9zM274.7 250.6h.9v.9h-.9zM318.5 222.3h.9v.9h-.9zM361.8 259.4h.9v.9h-.9zM291.1 302.2h.9v.9h-.9zM298 302.4h.9v.9h-.9zM261.7 324.2h.9v.9h-.9zM325.9 206.7h.9v.9h-.9zM264.7 323.6h.9v.9h-.9zM351.6 271h.9v.9h-.9zM257.7 257h.9v.9h-.9zM248.7 330.5h.9v.9h-.9zM277 309.4h.9v.9h-.9zM315.9 229.4h.9v.9h-.9zM269.5 315.4h.9v.9h-.9zM385.5 251.8h.9v.9h-.9zM323.8 201.3h.9v.9h-.9zM255.8 327.4h.9v.9h-.9zM296.9 242.4h.9v.9h-.9zM259.6 327.8h.9v.9h-.9zM243.6 332.2h.9v.9h-.9zM268.8 253.6h.9v.9h-.9zM316.2 299.9h.9v.9h-.9zM331 289.2h.9v.9h-.9zM292.2 233.7h.9v.9h-.9zM292.7 302.9h.9v.9h-.9zM298.5 301.6h.9v.9h-.9zM344.1 271h.9v.9h-.9zM303.2 301.8h.9v.9h-.9zM323.2 212.9h.9v.9h-.9zM298.6 228.5h.9v.9h-.9zM352 265.4h.9v.9h-.9zM312 217.9h.9v.9h-.9zM294.4 301.9h.9v.9h-.9zM325.4 197.4h.9v.9h-.9zM294.2 303.7h.9v.9h-.9zM289.7 308h.9v.9h-.9zM352.2 266.7h.9v.9h-.9zM342.7 273h.9v.9h-.9zM364.5 258.7h.9v.9h-.9zM405.1 249.1h.9v.9h-.9zM378.1 253.3h.9v.9h-.9zM398.6 250h.9v.9h-.9zM306.3 301.3h.9v.9h-.9zM386.8 252h.9v.9h-.9zM311.9 300.8h.9v.9h-.9zM300.2 236h.9v.9h-.9zM292 307.4h.9v.9h-.9zM302.1 240.9h.9v.9h-.9zM234.6 326.9h.9v.9h-.9zM313.1 300.9h.9v.9h-.9zM343.7 278.5h.9v.9h-.9zM245.9 307.3h.9v.9h-.9zM280.6 250.3h.9v.9h-.9zM373.5 254.3h.9v.9h-.9zM333.2 288h.9v.9h-.9zM323.8 213.3h.9v.9h-.9zM312.8 223.7h.9v.9h-.9zM377.1 252.8h.9v.9h-.9zM301.1 301.6h.9v.9h-.9zM318.9 300.8h.9v.9h-.9zM287.8 240.6h.9v.9h-.9zM258.8 327.4h.9v.9h-.9zM361.8 259.5h.9v.9h-.9zM306.9 228.5h.9v.9h-.9zM256.1 327.5h.9v.9h-.9zM333.9 198.3h.9v.9h-.9zM264.8 324.9h.9v.9h-.9zM332.6 193.3h.9v.9h-.9zM326.2 299.9h.9v.9h-.9zM345.4 271.3h.9v.9h-.9zM280.8 243.5h.9v.9h-.9zM347.3 269.7h.9v.9h-.9zM309.9 301.9h.9v.9h-.9zM254.1 331.5h.9v.9h-.9zM388.1 250.5h.9v.9h-.9zM256.8 261.3h.9v.9h-.9zM297.9 301.9h.9v.9h-.9zM277.8 248.7h.9v.9h-.9zM273 315.1h.9v.9h-.9zM307.3 303.2h.9v.9h-.9zM399.5 250h.9v.9h-.9zM275.6 252.2h.9v.9h-.9zM299.1 302.1h.9v.9h-.9zM262.1 329.4h.9v.9h-.9zM269.9 314.4h.9v.9h-.9zM307.9 301.7h.9v.9h-.9zM308.8 301.7h.9v.9h-.9zM324.9 296.9h.9v.9h-.9zM327.9 295.5h.9v.9h-.9zM293.7 245h.9v.9h-.9zM365.6 259.1h.9v.9h-.9zM319.3 304h.9v.9h-.9zM301.6 238.3h.9v.9h-.9zM404.9 247.7h.9v.9h-.9zM303.8 308.3h.9v.9h-.9zM329.9 290.6h.9v.9h-.9zM329.5 291.5h.9v.9h-.9zM279.3 309h.9v.9h-.9zM272.5 249.7h.9v.9h-.9zM270.3 313.6h.9v.9h-.9zM364.5 259h.9v.9h-.9zM333.8 194.8h.9v.9h-.9zM253.9 329.7h.9v.9h-.9zM392.7 248.4h.9v.9h-.9zM359.1 261.6h.9v.9h-.9zM352.1 267.8h.9v.9h-.9zM267.9 322.5h.9v.9h-.9zM306.2 308.3h.9v.9h-.9zM290.3 245.8h.9v.9h-.9zM316.1 228.3h.9v.9h-.9zM301.6 301.9h.9v.9h-.9zM314.1 231.7h.9v.9h-.9zM254.2 260.7h.9v.9h-.9zM375.4 259.5h.9v.9h-.9zM270.2 254.3h.9v.9h-.9zM344.6 271.3h.9v.9h-.9zM303.2 229.7h.9v.9h-.9zM261.9 327.8h.9v.9h-.9zM306.7 237.5h.9v.9h-.9zM254 328.5h.9v.9h-.9zM329 207.5h.9v.9h-.9zM258.2 327.1h.9v.9h-.9zM256.3 326.9h.9v.9h-.9zM269.9 250.8h.9v.9h-.9zM353.8 264.8h.9v.9h-.9zM306.7 237.1h.9v.9h-.9zM377 252.9h.9v.9h-.9zM304.2 302h.9v.9h-.9zM272.7 250h.9v.9h-.9zM326.8 211.6h.9v.9h-.9zM330.4 206h.9v.9h-.9zM355 263.4h.9v.9h-.9zM273.1 314.6h.9v.9h-.9zM291.6 302.1h.9v.9h-.9zM311.7 301.4h.9v.9h-.9zM336.5 280.7h.9v.9h-.9zM250.3 290h.9v.9h-.9zM326.1 298h.9v.9h-.9zM386.2 254h.9v.9h-.9zM249.7 335.5h.9v.9h-.9zM334.1 286h.9v.9h-.9zM306.3 234.5h.9v.9h-.9zM355.7 268.3h.9v.9h-.9zM321.1 298.9h.9v.9h-.9zM232.6 329.3h.9v.9h-.9zM329.6 202.9h.9v.9h-.9zM239.3 318h.9v.9h-.9zM349.2 272.8h.9v.9h-.9zM265 253.5h.9v.9h-.9zM291.6 243.9h.9v.9h-.9zM274.6 252.3h.9v.9h-.9zM353.5 264.6h.9v.9h-.9zM250.1 330h.9v.9h-.9zM326.8 294.6h.9v.9h-.9zM244.8 309.1h.9v.9h-.9zM245.4 331.3h.9v.9h-.9zM335.9 285h.9v.9h-.9zM365.8 263.7h.9v.9h-.9zM306.1 238.1h.9v.9h-.9zM277.9 305.9h.9v.9h-.9zM388.1 251.4h.9v.9h-.9zM282.8 249.3h.9v.9h-.9zM376 260h.9v.9h-.9zM278.9 306.3h.9v.9h-.9zM294.5 306.3h.9v.9h-.9zM261.7 257.9h.9v.9h-.9zM330.5 205.5h.9v.9h-.9zM328 206.5h.9v.9h-.9zM338.9 277.6h.9v.9h-.9zM377.9 257.2h.9v.9h-.9zM394.4 248.6h.9v.9h-.9zM325.6 202.1h.9v.9h-.9zM259.1 258.3h.9v.9h-.9zM325.8 296.3h.9v.9h-.9zM230 332h.9v.9h-.9zM246.3 333.2h.9v.9h-.9zM398.1 249.1h.9v.9h-.9zM289.3 305.6h.9v.9h-.9zM349.8 267.1h.9v.9h-.9zM247 330.7h.9v.9h-.9zM279.3 249.2h.9v.9h-.9zM303.1 303.2h.9v.9h-.9zM326.6 207.4h.9v.9h-.9zM373.6 256h.9v.9h-.9zM291.5 245.5h.9v.9h-.9zM245.1 309.2h.9v.9h-.9zM302.9 301.5h.9v.9h-.9zM305.5 304.4h.9v.9h-.9zM250.7 329.5h.9v.9h-.9zM273.8 308h.9v.9h-.9zM302 233.2h.9v.9h-.9zM367.9 257.3h.9v.9h-.9zM244.2 311h.9v.9h-.9zM277 311.6h.9v.9h-.9zM246.9 299.7h.9v.9h-.9zM333.3 202.3h.9v.9h-.9zM239.2 317.9h.9v.9h-.9zM229.7 334.8h.9v.9h-.9zM337.4 282.7h.9v.9h-.9zM306.2 231.5h.9v.9h-.9zM310.7 302.7h.9v.9h-.9zM333.1 287.1h.9v.9h-.9zM316.5 302.1h.9v.9h-.9zM402 248.4h.9v.9h-.9zM283.2 247.2h.9v.9h-.9zM304.8 238.3h.9v.9h-.9zM314.4 300.4h.9v.9h-.9zM346 269.3h.9v.9h-.9zM273.4 250.5h.9v.9h-.9zM336.5 199h.9v.9h-.9zM319.1 302.2h.9v.9h-.9zM308.3 236.8h.9v.9h-.9zM343.8 272.2h.9v.9h-.9zM244.4 308.1h.9v.9h-.9zM298.3 242.3h.9v.9h-.9zM387 249.6h.9v.9h-.9zM280 247.7h.9v.9h-.9zM276.1 248h.9v.9h-.9zM394.6 253h.9v.9h-.9zM384.1 250.4h.9v.9h-.9zM284.4 304.1h.9v.9h-.9zM267.8 246h.9v.9h-.9zM270.6 316.5h.9v.9h-.9zM286.2 234.7h.9v.9h-.9zM401.1 252.5h.9v.9h-.9zM316 305.7h.9v.9h-.9zM305.6 305.7h.9v.9h-.9zM279.6 244.3h.9v.9h-.9zM258.4 260.8h.9v.9h-.9zM248.2 337.1h.9v.9h-.9zM374.7 257.7h.9v.9h-.9zM251.9 281.3h.9v.9h-.9zM292.6 302.1h.9v.9h-.9zM271.4 314.9h.9v.9h-.9zM394.5 248h.9v.9h-.9zM315.7 304.4h.9v.9h-.9zM269.7 250.5h.9v.9h-.9zM231.2 330.6h.9v.9h-.9zM322.8 219.8h.9v.9h-.9zM360.8 261.1h.9v.9h-.9zM365.7 260.9h.9v.9h-.9zM372.5 254.7h.9v.9h-.9zM245.1 332.1h.9v.9h-.9zM296 233.7h.9v.9h-.9zM262.1 326.1h.9v.9h-.9zM365 265h.9v.9h-.9zM329.7 205.8h.9v.9h-.9zM370.9 262.2h.9v.9h-.9zM350.9 266.4h.9v.9h-.9zM354.3 269.8h.9v.9h-.9zM237.2 337.6h.9v.9h-.9zM299.2 238.8h.9v.9h-.9zM363.8 260.8h.9v.9h-.9zM273.5 310.5h.9v.9h-.9zM400.6 247.3h.9v.9h-.9zM389.9 249.6h.9v.9h-.9zM267.3 255.1h.9v.9h-.9zM371.4 256.1h.9v.9h-.9zM297.4 242.7h.9v.9h-.9zM297.7 226.9h.9v.9h-.9zM297.6 227.6h.9v.9h-.9zM269.2 252.3h.9v.9h-.9zM260 325.8h.9v.9h-.9zM347.3 269h.9v.9h-.9zM297.1 242.9h.9v.9h-.9zM339.4 276.8h.9v.9h-.9zM402.3 247.2h.9v.9h-.9zM324.8 296.9h.9v.9h-.9zM294.2 303.2h.9v.9h-.9zM306.7 301.4h.9v.9h-.9zM312.7 232.8h.9v.9h-.9zM322.2 299.3h.9v.9h-.9zM317.7 300.4h.9v.9h-.9zM330 291.3h.9v.9h-.9zM300 241.2h.9v.9h-.9zM369.6 256.4h.9v.9h-.9zM329.3 207.8h.9v.9h-.9zM359.3 267.8h.9v.9h-.9zM390.5 249.1h.9v.9h-.9zM248.7 330h.9v.9h-.9zM238.8 316.7h.9v.9h-.9zM320.6 200.9h.9v.9h-.9zM297.6 241.9h.9v.9h-.9zM269.5 254h.9v.9h-.9zM262.8 324.2h.9v.9h-.9zM328.6 295.6h.9v.9h-.9zM257 332.4h.9v.9h-.9zM353 270.7h.9v.9h-.9zM369.4 263.1h.9v.9h-.9zM290.1 302h.9v.9h-.9zM307.4 230.3h.9v.9h-.9zM365.9 257.5h.9v.9h-.9zM283.6 303.8h.9v.9h-.9zM280.5 239.2h.9v.9h-.9zM234.2 327.1h.9v.9h-.9zM244.5 310.2h.9v.9h-.9zM331.9 288h.9v.9h-.9zM320.6 216h.9v.9h-.9zM248.6 329.9h.9v.9h-.9zM262.7 257h.9v.9h-.9zM342.9 277.4h.9v.9h-.9zM291.6 242.5h.9v.9h-.9zM286.5 302.9h.9v.9h-.9zM308.7 236.6h.9v.9h-.9zM265.9 320.8h.9v.9h-.9zM333.2 285.5h.9v.9h-.9zM319 303.2h.9v.9h-.9zM359.5 260.6h.9v.9h-.9zM301.8 301.5h.9v.9h-.9zM276.6 239.2h.9v.9h-.9zM339.2 279.5h.9v.9h-.9zM329.3 291.5h.9v.9h-.9zM296.4 238.5h.9v.9h-.9zM299.2 301.9h.9v.9h-.9zM277 309.5h.9v.9h-.9zM305.3 229.3h.9v.9h-.9zM255.6 327.3h.9v.9h-.9zM391.3 249h.9v.9h-.9zM371.2 255.6h.9v.9h-.9zM380.1 252h.9v.9h-.9zM305 302.2h.9v.9h-.9zM274.9 313.7h.9v.9h-.9zM246.1 305.5h.9v.9h-.9zM403.8 246.1h.9v.9h-.9zM253.3 262.2h.9v.9h-.9zM277.7 305.7h.9v.9h-.9zM388.8 250.9h.9v.9h-.9zM261.7 252h.9v.9h-.9zM327.9 295.3h.9v.9h-.9zM335.6 282.5h.9v.9h-.9zM311.3 301.3h.9v.9h-.9zM295.1 304.4h.9v.9h-.9zM316 216.4h.9v.9h-.9zM302.8 238.2h.9v.9h-.9zM253.6 332.2h.9v.9h-.9zM400.5 246.8h.9v.9h-.9zM304.2 301.4h.9v.9h-.9zM289.9 246.3h.9v.9h-.9zM278 305.5h.9v.9h-.9zM247.2 331.2h.9v.9h-.9zM318.1 224.2h.9v.9h-.9zM318.9 220.3h.9v.9h-.9zM378.3 252.4h.9v.9h-.9zM341.2 192.2h.9v.9h-.9zM278.7 239.8h.9v.9h-.9zM255 331.7h.9v.9h-.9zM308.9 301.8h.9v.9h-.9zM374.4 254h.9v.9h-.9zM261.8 253.7h.9v.9h-.9zM309.1 303.1h.9v.9h-.9zM339.1 280h.9v.9h-.9zM397.4 250.9h.9v.9h-.9zM355.3 268.1h.9v.9h-.9zM278.1 245.7h.9v.9h-.9zM341.6 274h.9v.9h-.9zM387.7 255.3h.9v.9h-.9zM337.8 284.6h.9v.9h-.9zM361.5 259.5h.9v.9h-.9zM297.8 240.3h.9v.9h-.9zM378.4 252.4h.9v.9h-.9zM265 250.1h.9v.9h-.9zM273.7 309.1h.9v.9h-.9zM263.5 257.1h.9v.9h-.9zM296.4 243.2h.9v.9h-.9zM404.6 247.1h.9v.9h-.9zM384 255.6h.9v.9h-.9zM358 263h.9v.9h-.9zM356.2 269.2h.9v.9h-.9zM261.2 328.2h.9v.9h-.9zM307.7 301.7h.9v.9h-.9zM298.6 308.2h.9v.9h-.9zM272.3 312.3h.9v.9h-.9zM386.7 253h.9v.9h-.9zM378.1 254.4h.9v.9h-.9zM263.4 329.5h.9v.9h-.9zM271.7 310.3h.9v.9h-.9zM278 305.5h.9v.9h-.9zM287.6 302.3h.9v.9h-.9zM395.8 253.5h.9v.9h-.9zM296.8 230.8h.9v.9h-.9zM237.8 319.1h.9v.9h-.9zM276.7 306.6h.9v.9h-.9zM370.9 258.2h.9v.9h-.9zM392.8 248.3h.9v.9h-.9zM244.5 305.3h.9v.9h-.9zM285.5 244.8h.9v.9h-.9zM283.8 237.4h.9v.9h-.9zM372.8 254.9h.9v.9h-.9zM398.4 247h.9v.9h-.9zM403.2 246.4h.9v.9h-.9zM387.1 252.3h.9v.9h-.9zM234.2 325h.9v.9h-.9zM231.7 331.9h.9v.9h-.9zM309.3 307h.9v.9h-.9zM288.9 302.5h.9v.9h-.9zM357.4 261.7h.9v.9h-.9zM260 253.2h.9v.9h-.9zM348.7 271.5h.9v.9h-.9zM270.7 254.2h.9v.9h-.9zM291.7 302.2h.9v.9h-.9zM300.2 241.7h.9v.9h-.9zM344.9 273.3h.9v.9h-.9zM382.2 255.2h.9v.9h-.9zM377.8 254.3h.9v.9h-.9zM257.9 261.7h.9v.9h-.9zM249 295.7h.9v.9h-.9zM329 292.3h.9v.9h-.9zM387.8 249.6h.9v.9h-.9zM333.8 201.8h.9v.9h-.9zM268.3 255.3h.9v.9h-.9zM353.5 264.5h.9v.9h-.9zM255.9 260h.9v.9h-.9zM322.3 215.8h.9v.9h-.9zM318.2 226.2h.9v.9h-.9zM303.5 301.5h.9v.9h-.9zM324.6 298.5h.9v.9h-.9zM290.7 306h.9v.9h-.9zM309.1 303.6h.9v.9h-.9zM326.8 300.4h.9v.9h-.9zM291.9 245.5h.9v.9h-.9zM272.5 240.6h.9v.9h-.9zM327.7 295h.9v.9h-.9zM321.7 203.4h.9v.9h-.9zM303.8 230.3h.9v.9h-.9zM383.2 252.1h.9v.9h-.9zM304.4 302.5h.9v.9h-.9zM265.2 255.6h.9v.9h-.9zM274.9 307.9h.9v.9h-.9zM340.1 194.5h.9v.9h-.9zM367.7 260.2h.9v.9h-.9zM337.4 194.2h.9v.9h-.9zM376.9 255.2h.9v.9h-.9zM341.1 192.4h.9v.9h-.9zM300.1 304.7h.9v.9h-.9zM382.9 251.1h.9v.9h-.9zM273.4 251.9h.9v.9h-.9zM247.5 332.5h.9v.9h-.9zM316.3 209.8h.9v.9h-.9zM272.7 309.2h.9v.9h-.9zM277.2 248.1h.9v.9h-.9zM279.7 308.2h.9v.9h-.9zM269.3 251.7h.9v.9h-.9zM300.1 240h.9v.9h-.9zM258.5 255.4h.9v.9h-.9zM341.7 276.5h.9v.9h-.9zM320.2 204.2h.9v.9h-.9zM323.7 217.2h.9v.9h-.9zM296.1 302.6h.9v.9h-.9zM277.4 250.5h.9v.9h-.9zM299.5 302.5h.9v.9h-.9zM306.7 302.2h.9v.9h-.9zM274.9 309.9h.9v.9h-.9zM357.3 265.1h.9v.9h-.9zM398.8 253.8h.9v.9h-.9zM291.2 234.4h.9v.9h-.9zM377.1 254h.9v.9h-.9zM302.6 301.7h.9v.9h-.9zM258.8 259.8h.9v.9h-.9zM303.3 236.9h.9v.9h-.9zM235.5 324.3h.9v.9h-.9zM238.9 316.2h.9v.9h-.9zM345 275.2h.9v.9h-.9zM316.8 228.2h.9v.9h-.9zM331.4 288.9h.9v.9h-.9zM252.6 330.1h.9v.9h-.9zM312.2 227.7h.9v.9h-.9zM330.9 294.9h.9v.9h-.9zM242.7 333.2h.9v.9h-.9zM302.9 229h.9v.9h-.9zM307.4 233.8h.9v.9h-.9zM255.6 266.6h.9v.9h-.9zM296.7 243.6h.9v.9h-.9zM253.5 329.8h.9v.9h-.9zM403 252.9h.9v.9h-.9zM255.5 329.9h.9v.9h-.9zM282 244.3h.9v.9h-.9zM323.9 217.4h.9v.9h-.9zM355.4 262.9h.9v.9h-.9zM271.5 253.5h.9v.9h-.9zM269.3 254.3h.9v.9h-.9zM303.5 240.1h.9v.9h-.9zM245.3 306.3h.9v.9h-.9zM238 317.7h.9v.9h-.9zM338.2 194.9h.9v.9h-.9zM305 239.2h.9v.9h-.9zM257 263h.9v.9h-.9zM287.9 242.3h.9v.9h-.9zM264.7 324.5h.9v.9h-.9zM317.4 303.6h.9v.9h-.9zM308.6 236.7h.9v.9h-.9zM244.1 307.1h.9v.9h-.9zM312.9 305.6h.9v.9h-.9zM273.3 242.7h.9v.9h-.9zM271.2 317.2h.9v.9h-.9zM311.8 214.2h.9v.9h-.9zM382.2 254.4h.9v.9h-.9zM269 255h.9v.9h-.9zM392.9 253.7h.9v.9h-.9zM277.8 250.6h.9v.9h-.9zM405.7 246.7h.9v.9h-.9zM314.7 304.7h.9v.9h-.9zM320.2 300.9h.9v.9h-.9zM391.8 252.8h.9v.9h-.9zM372.8 261.7h.9v.9h-.9zM294.4 303.6h.9v.9h-.9zM274.7 310.8h.9v.9h-.9zM230.4 334.1h.9v.9h-.9zM334.1 284.8h.9v.9h-.9zM243.3 334.6h.9v.9h-.9zM305.5 237h.9v.9h-.9zM270.5 313.1h.9v.9h-.9zM355.7 262.8h.9v.9h-.9zM278.8 310.3h.9v.9h-.9zM246.8 303.8h.9v.9h-.9zM356.5 264.4h.9v.9h-.9zM255.1 267.8h.9v.9h-.9zM278.8 306.7h.9v.9h-.9zM259.8 250.8h.9v.9h-.9zM341 275.3h.9v.9h-.9zM282.3 303.8h.9v.9h-.9zM345.2 272.6h.9v.9h-.9zM237.8 318.9h.9v.9h-.9zM262.1 253.5h.9v.9h-.9zM350.8 268.7h.9v.9h-.9zM393.6 254.6h.9v.9h-.9zM273.6 308.3h.9v.9h-.9zM250.1 283.2h.9v.9h-.9zM281.5 237.7h.9v.9h-.9zM403.3 246.9h.9v.9h-.9zM240.5 317.5h.9v.9h-.9zM315.7 227.5h.9v.9h-.9zM237.7 317.6h.9v.9h-.9zM401.5 246.5h.9v.9h-.9zM307.6 301.4h.9v.9h-.9zM240.8 317.1h.9v.9h-.9zM360.4 267.2h.9v.9h-.9zM260.9 247.9h.9v.9h-.9zM255.9 263.4h.9v.9h-.9zM325.4 295.9h.9v.9h-.9zM292.1 241.5h.9v.9h-.9zM258.6 250.4h.9v.9h-.9zM344.4 273.1h.9v.9h-.9zM265 327.5h.9v.9h-.9zM245.1 332.1h.9v.9h-.9zM264.9 326h.9v.9h-.9zM258.9 258h.9v.9h-.9zM265.5 327.1h.9v.9h-.9zM233.8 328.1h.9v.9h-.9zM258.8 331.9h.9v.9h-.9zM312.5 304h.9v.9h-.9zM381.5 251.8h.9v.9h-.9zM260.7 327h.9v.9h-.9zM250.2 290.4h.9v.9h-.9zM293.4 238.9h.9v.9h-.9zM302.1 239.9h.9v.9h-.9zM230.2 332.6h.9v.9h-.9zM370.9 256.6h.9v.9h-.9zM302.1 240.1h.9v.9h-.9zM406.1 246.9h.9v.9h-.9zM324.1 216.1h.9v.9h-.9zM303.3 225.7h.9v.9h-.9zM268.6 315.7h.9v.9h-.9zM314.6 226.9h.9v.9h-.9zM310.8 234.7h.9v.9h-.9zM317.9 225.2h.9v.9h-.9zM238.9 319.7h.9v.9h-.9zM247.7 330.6h.9v.9h-.9zM323.5 296.9h.9v.9h-.9zM317.5 305.1h.9v.9h-.9zM351.6 267.9h.9v.9h-.9zM269 318.8h.9v.9h-.9zM315.6 300h.9v.9h-.9zM232 327.7h.9v.9h-.9zM268.2 255.2h.9v.9h-.9zM394.5 253h.9v.9h-.9zM277.5 250.9h.9v.9h-.9zM333.8 286.7h.9v.9h-.9zM232.7 328.4h.9v.9h-.9zM401.7 246.8h.9v.9h-.9zM344 276.6h.9v.9h-.9zM285.2 303h.9v.9h-.9zM249.7 332.2h.9v.9h-.9zM232.3 330.8h.9v.9h-.9zM325.5 196.3h.9v.9h-.9zM331 289.3h.9v.9h-.9zM256.5 264.3h.9v.9h-.9zM264.9 255.1h.9v.9h-.9zM322 298.2h.9v.9h-.9zM265.9 254.9h.9v.9h-.9zM296.5 302h.9v.9h-.9zM289.6 302.2h.9v.9h-.9zM285.3 245.8h.9v.9h-.9zM266.5 324.2h.9v.9h-.9zM259.9 329.4h.9v.9h-.9zM301.9 302h.9v.9h-.9zM240.5 334.2h.9v.9h-.9zM310.2 303.2h.9v.9h-.9zM276.4 248h.9v.9h-.9zM319.5 298.8h.9v.9h-.9zM311.9 231.5h.9v.9h-.9zM262.3 254.9h.9v.9h-.9zM263.7 254.3h.9v.9h-.9zM249.8 289.5h.9v.9h-.9zM291.5 304.4h.9v.9h-.9zM240.4 316.7h.9v.9h-.9zM336.5 280.9h.9v.9h-.9zM290.3 302.9h.9v.9h-.9zM323 211.2h.9v.9h-.9zM314.2 219.2h.9v.9h-.9zM371.6 261.6h.9v.9h-.9zM250 332.7h.9v.9h-.9zM393.6 248.4h.9v.9h-.9zM328.9 292.7h.9v.9h-.9zM344.4 276.6h.9v.9h-.9zM366.8 259.1h.9v.9h-.9zM387 252.8h.9v.9h-.9zM284.3 244.8h.9v.9h-.9zM268.7 315.7h.9v.9h-.9zM338.7 195.3h.9v.9h-.9zM249.1 293.7h.9v.9h-.9zM285.3 304h.9v.9h-.9zM374.6 254.2h.9v.9h-.9zM378.4 252.3h.9v.9h-.9zM257.5 259.5h.9v.9h-.9zM322.3 214.9h.9v.9h-.9zM243.3 310.6h.9v.9h-.9zM256.1 326.9h.9v.9h-.9zM392 248.8h.9v.9h-.9zM248 294.3h.9v.9h-.9zM242.7 335.4h.9v.9h-.9zM405.7 248.5h.9v.9h-.9zM251.9 273.9h.9v.9h-.9zM328.3 294.2h.9v.9h-.9zM292.7 244.9h.9v.9h-.9zM262.3 257.9h.9v.9h-.9zM363.2 262.1h.9v.9h-.9zM296.7 301.9h.9v.9h-.9zM282.3 304.1h.9v.9h-.9zM275.1 311.4h.9v.9h-.9zM403.5 246.9h.9v.9h-.9zM312.4 303h.9v.9h-.9zM391.9 255.1h.9v.9h-.9zM314 231.8h.9v.9h-.9zM286.7 247.9h.9v.9h-.9zM307.2 236.7h.9v.9h-.9zM385.9 249.9h.9v.9h-.9zM333.5 202.2h.9v.9h-.9zM282 305h.9v.9h-.9zM330.2 199.8h.9v.9h-.9zM337.6 192.8h.9v.9h-.9zM394.8 250.2h.9v.9h-.9zM321.6 299.1h.9v.9h-.9zM359.3 263h.9v.9h-.9zM297.4 236.7h.9v.9h-.9zM308.3 234.6h.9v.9h-.9zM280.8 309.7h.9v.9h-.9zM263.8 324.1h.9v.9h-.9zM342.2 274.1h.9v.9h-.9zM231.1 331.9h.9v.9h-.9zM340.8 277.8h.9v.9h-.9zM252.2 330h.9v.9h-.9zM309.6 303h.9v.9h-.9zM334.7 200.1h.9v.9h-.9zM406.2 246.4h.9v.9h-.9zM293.9 244.2h.9v.9h-.9zM253.2 331.7h.9v.9h-.9zM293 230.5h.9v.9h-.9zM327 295.6h.9v.9h-.9zM306.5 232.5h.9v.9h-.9zM271.6 310.6h.9v.9h-.9zM355.8 264.7h.9v.9h-.9zM293.1 244.6h.9v.9h-.9zM247.6 301.6h.9v.9h-.9zM319.2 214.4h.9v.9h-.9zM266 319.6h.9v.9h-.9zM255.9 265.6h.9v.9h-.9zM284.9 303.8h.9v.9h-.9zM299.1 301.6h.9v.9h-.9zM244.8 332.1h.9v.9h-.9zM260.2 253.4h.9v.9h-.9zM311.1 233h.9v.9h-.9zM289.4 237.8h.9v.9h-.9zM245.4 305.6h.9v.9h-.9zM378.7 252.2h.9v.9h-.9zM320.2 298.4h.9v.9h-.9zM258.5 258.1h.9v.9h-.9zM282.3 309.4h.9v.9h-.9zM358 264.1h.9v.9h-.9zM288.2 243.3h.9v.9h-.9zM303.9 226.8h.9v.9h-.9zM404.6 251.3h.9v.9h-.9zM283.4 248.7h.9v.9h-.9zM317.9 303h.9v.9h-.9zM391.4 249h.9v.9h-.9zM239.1 319.4h.9v.9h-.9zM383.4 252.4h.9v.9h-.9zM366.4 259.1h.9v.9h-.9zM307.6 305.6h.9v.9h-.9zM330.5 289.8h.9v.9h-.9zM365.6 258.3h.9v.9h-.9zM251.8 333.8h.9v.9h-.9zM260.4 331.7h.9v.9h-.9zM263.7 324h.9v.9h-.9zM288.8 246.3h.9v.9h-.9zM396.2 254h.9v.9h-.9zM317.6 227.2h.9v.9h-.9zM304.9 308.4h.9v.9h-.9zM240.7 334.1h.9v.9h-.9zM304.3 237.2h.9v.9h-.9zM325.3 210.4h.9v.9h-.9zM254.8 330.5h.9v.9h-.9zM247.7 301.6h.9v.9h-.9zM240.8 334.2h.9v.9h-.9zM323 303.5h.9v.9h-.9zM305.5 235.4h.9v.9h-.9zM325.4 297.3h.9v.9h-.9zM273.4 308.3h.9v.9h-.9zM259 325.7h.9v.9h-.9zM238.6 337.2h.9v.9h-.9zM335 282.9h.9v.9h-.9zM405.3 250.6h.9v.9h-.9zM273.7 311.6h.9v.9h-.9zM312.8 216.3h.9v.9h-.9zM328.6 298.2h.9v.9h-.9zM362 259.4h.9v.9h-.9zM376.4 253.1h.9v.9h-.9zM241.5 315.8h.9v.9h-.9zM364.7 261.4h.9v.9h-.9zM294.6 301.8h.9v.9h-.9zM269.6 254h.9v.9h-.9zM359.7 264.2h.9v.9h-.9zM286.6 303.1h.9v.9h-.9zM326.6 295h.9v.9h-.9zM379 256.3h.9v.9h-.9zM245.5 305.2h.9v.9h-.9zM372.4 261.1h.9v.9h-.9zM304.8 235.6h.9v.9h-.9zM282.7 241h.9v.9h-.9zM286.6 304.7h.9v.9h-.9zM344 273.7h.9v.9h-.9zM264.3 322.3h.9v.9h-.9zM347.1 268.2h.9v.9h-.9zM338.1 196.4h.9v.9h-.9zM343.7 271.6h.9v.9h-.9zM386.6 256.2h.9v.9h-.9zM405.6 248.1h.9v.9h-.9zM323.1 303.6h.9v.9h-.9zM324.6 202.8h.9v.9h-.9zM392.7 248.2h.9v.9h-.9zM324 212.1h.9v.9h-.9zM374.4 255.3h.9v.9h-.9zM257.3 331.5h.9v.9h-.9zM315.8 219.7h.9v.9h-.9zM300.3 239.7h.9v.9h-.9zM278 245.8h.9v.9h-.9zM321.1 209.8h.9v.9h-.9zM318.4 224.9h.9v.9h-.9zM328.3 295.6h.9v.9h-.9zM332.6 203h.9v.9h-.9zM340.2 282.3h.9v.9h-.9zM374 256.4h.9v.9h-.9zM272.8 243.6h.9v.9h-.9zM277.7 247.6h.9v.9h-.9zM232.4 330.5h.9v.9h-.9zM370.4 255.7h.9v.9h-.9zM258 326.2h.9v.9h-.9zM371 260.8h.9v.9h-.9zM281.1 246.6h.9v.9h-.9zM327.7 293.6h.9v.9h-.9zM380.5 251.5h.9v.9h-.9zM318.3 222.5h.9v.9h-.9zM356.7 262.1h.9v.9h-.9zM280.3 307.1h.9v.9h-.9zM262.2 324.1h.9v.9h-.9zM242.4 332.9h.9v.9h-.9zM254.1 334.2h.9v.9h-.9zM241.5 333.6h.9v.9h-.9zM239.7 319h.9v.9h-.9zM358.8 260.9h.9v.9h-.9zM255.9 264.1h.9v.9h-.9zM286.4 238.6h.9v.9h-.9zM247.8 330.4h.9v.9h-.9zM346.4 270.7h.9v.9h-.9zM249.9 332.5h.9v.9h-.9zM240.5 335.9h.9v.9h-.9zM392 248.7h.9v.9h-.9zM297.2 302.5h.9v.9h-.9zM240.4 335.4h.9v.9h-.9zM254.1 271h.9v.9h-.9zM396.7 249.6h.9v.9h-.9zM279.7 309.2h.9v.9h-.9zM265.9 254.4h.9v.9h-.9zM335.3 284.5h.9v.9h-.9zM276.6 306.3h.9v.9h-.9zM248.3 297h.9v.9h-.9zM331.8 198.7h.9v.9h-.9zM262.6 254.2h.9v.9h-.9zM300.8 227.1h.9v.9h-.9zM312.1 300.8h.9v.9h-.9zM316.2 228.4h.9v.9h-.9zM262.7 257.5h.9v.9h-.9zM241.9 312.5h.9v.9h-.9zM326.1 297.9h.9v.9h-.9zM309 235.7h.9v.9h-.9zM340.4 276.8h.9v.9h-.9zM236.1 320h.9v.9h-.9zM331.2 197.9h.9v.9h-.9zM374.9 254h.9v.9h-.9zM315.5 300.1h.9v.9h-.9zM300.9 228.9h.9v.9h-.9zM253.6 332.2h.9v.9h-.9zM322.7 302.3h.9v.9h-.9zM349.8 266.2h.9v.9h-.9zM347.1 268.2h.9v.9h-.9zM257.9 256.8h.9v.9h-.9zM252.8 273.4h.9v.9h-.9zM363 263.8h.9v.9h-.9zM263.2 325.4h.9v.9h-.9zM327.2 295.1h.9v.9h-.9zM271.5 316h.9v.9h-.9zM350.2 272.6h.9v.9h-.9zM274.2 312.4h.9v.9h-.9zM335.2 283.7h.9v.9h-.9zM388.5 250.2h.9v.9h-.9zM338.3 197.1h.9v.9h-.9zM315.3 228.6h.9v.9h-.9zM378.7 252.4h.9v.9h-.9zM258.7 258.7h.9v.9h-.9zM254.4 327.7h.9v.9h-.9zM324.9 207.8h.9v.9h-.9zM249.9 286.1h.9v.9h-.9zM232.2 330.9h.9v.9h-.9zM377.4 253h.9v.9h-.9zM358.6 261h.9v.9h-.9zM237.6 317.7h.9v.9h-.9zM392.1 252.5h.9v.9h-.9zM367.3 257.8h.9v.9h-.9zM308.1 305.4h.9v.9h-.9zM309.5 303.3h.9v.9h-.9zM338.6 196.1h.9v.9h-.9zM274.9 313.2h.9v.9h-.9zM340.6 277.8h.9v.9h-.9zM255.1 263.9h.9v.9h-.9zM288.5 246.9h.9v.9h-.9zM302.6 301.5h.9v.9h-.9zM290.7 302.4h.9v.9h-.9zM374.3 255.2h.9v.9h-.9zM346.4 269.4h.9v.9h-.9zM263.8 324.4h.9v.9h-.9zM237.7 321.1h.9v.9h-.9zM245.2 332.3h.9v.9h-.9zM281.7 307.7h.9v.9h-.9zM336.7 280.6h.9v.9h-.9zM268.4 254.7h.9v.9h-.9zM257.6 259.8h.9v.9h-.9zM373.1 254.5h.9v.9h-.9zM365.1 258.3h.9v.9h-.9zM274.3 244.4h.9v.9h-.9zM396.8 252.4h.9v.9h-.9zM270.9 254h.9v.9h-.9zM253.1 275.7h.9v.9h-.9zM281.6 304.4h.9v.9h-.9zM319.5 298.7h.9v.9h-.9zM358.1 261.2h.9v.9h-.9zM387.1 249.6h.9v.9h-.9zM399.6 249.5h.9v.9h-.9zM266.9 249.9h.9v.9h-.9zM331.1 203.2h.9v.9h-.9zM383.1 250.7h.9v.9h-.9zM353.2 266.1h.9v.9h-.9zM239.2 319.3h.9v.9h-.9zM305.4 301.4h.9v.9h-.9zM333 200.9h.9v.9h-.9zM372.7 255.5h.9v.9h-.9zM258.9 330.8h.9v.9h-.9zM243.7 310.7h.9v.9h-.9zM337.2 286.3h.9v.9h-.9zM350.4 266.3h.9v.9h-.9zM277.7 242.5h.9v.9h-.9zM320.9 301h.9v.9h-.9zM314.3 301.3h.9v.9h-.9zM322 218.6h.9v.9h-.9zM302.5 301.6h.9v.9h-.9zM264.3 323.2h.9v.9h-.9zM376.6 253.7h.9v.9h-.9zM320.8 222.9h.9v.9h-.9zM243.7 308.2h.9v.9h-.9zM263.3 254.1h.9v.9h-.9zM352.8 264.8h.9v.9h-.9zM289.8 237.6h.9v.9h-.9zM296.1 243.4h.9v.9h-.9zM316.7 226.4h.9v.9h-.9zM247.9 299h.9v.9h-.9zM287.4 236.6h.9v.9h-.9zM239.8 318.4h.9v.9h-.9zM239.5 318.4h.9v.9h-.9zM388.9 250.4h.9v.9h-.9zM266.9 324.3h.9v.9h-.9zM271.8 310.9h.9v.9h-.9zM314.1 230.6h.9v.9h-.9zM271.9 244.8h.9v.9h-.9zM282.7 303.9h.9v.9h-.9zM390.4 251h.9v.9h-.9zM370 257.3h.9v.9h-.9zM282.3 249.1h.9v.9h-.9zM401.4 246.5h.9v.9h-.9zM262.5 325.2h.9v.9h-.9zM404.6 246.1h.9v.9h-.9zM372.1 258.7h.9v.9h-.9zM350.7 269.1h.9v.9h-.9zM335.1 283.2h.9v.9h-.9zM339.1 281.2h.9v.9h-.9zM285.6 302.8h.9v.9h-.9zM278.5 308.7h.9v.9h-.9zM381.3 257.3h.9v.9h-.9zM268.1 254.5h.9v.9h-.9zM382 251.2h.9v.9h-.9zM406.5 246.8h.9v.9h-.9zM384.2 254.1h.9v.9h-.9zM293.6 305.7h.9v.9h-.9zM289.5 246.8h.9v.9h-.9zM257 327h.9v.9h-.9zM279.9 244.7h.9v.9h-.9zM274.8 250h.9v.9h-.9zM317.2 302.8h.9v.9h-.9zM306.5 231.9h.9v.9h-.9zM252.3 276.8h.9v.9h-.9zM395.8 247.7h.9v.9h-.9zM400.7 246.9h.9v.9h-.9zM294.5 235.9h.9v.9h-.9zM267.9 320.1h.9v.9h-.9zM366.9 257.5h.9v.9h-.9zM235.7 337.6h.9v.9h-.9zM321.3 298.1h.9v.9h-.9zM306.7 301.4h.9v.9h-.9zM265 321.1h.9v.9h-.9zM256.3 254.5h.9v.9h-.9zM302.1 240h.9v.9h-.9zM279.9 237.7h.9v.9h-.9zM254 268.9h.9v.9h-.9zM284.8 244.2h.9v.9h-.9zM295.4 302.8h.9v.9h-.9zM240.1 318.2h.9v.9h-.9zM291.4 239.6h.9v.9h-.9zM375 258h.9v.9h-.9zM260.7 324.8h.9v.9h-.9zM396.7 250.1h.9v.9h-.9zM254.2 270.5h.9v.9h-.9zM245.6 332.3h.9v.9h-.9zM266.1 319.9h.9v.9h-.9zM324.9 215.7h.9v.9h-.9zM405.4 251.7h.9v.9h-.9zM282.4 309.5h.9v.9h-.9zM244 308.9h.9v.9h-.9zM238.3 320.5h.9v.9h-.9zM255.2 328.1h.9v.9h-.9zM401.6 253.7h.9v.9h-.9zM372.9 255.5h.9v.9h-.9zM392.5 248.4h.9v.9h-.9zM317 219.9h.9v.9h-.9zM309 304.6h.9v.9h-.9zM403 248.5h.9v.9h-.9zM373.4 258.3h.9v.9h-.9zM342.7 274.5h.9v.9h-.9zM327.3 295h.9v.9h-.9zM242 333.1h.9v.9h-.9zM334.4 199.4h.9v.9h-.9zM272 310.1h.9v.9h-.9zM325.7 214.6h.9v.9h-.9zM301.1 232.9h.9v.9h-.9zM288 302.7h.9v.9h-.9zM235.8 323.7h.9v.9h-.9zM340 192.7h.9v.9h-.9zM301.7 240.6h.9v.9h-.9zM325.8 295.6h.9v.9h-.9zM267.9 317.7h.9v.9h-.9zM332.3 198.9h.9v.9h-.9zM244.6 332.7h.9v.9h-.9zM287.9 302.7h.9v.9h-.9zM331.1 204.6h.9v.9h-.9zM404.7 247.4h.9v.9h-.9zM372.4 255.3h.9v.9h-.9zM252.2 328.7h.9v.9h-.9zM363.1 259.1h.9v.9h-.9zM366.9 258.6h.9v.9h-.9zM311.2 216.8h.9v.9h-.9zM321.9 297.8h.9v.9h-.9zM297.2 243.3h.9v.9h-.9zM306.3 301.6h.9v.9h-.9zM253.8 332.9h.9v.9h-.9zM395.2 249.6h.9v.9h-.9zM292.1 244.5h.9v.9h-.9zM243.6 335.9h.9v.9h-.9zM325.9 194.7h.9v.9h-.9zM285.8 303.1h.9v.9h-.9zM269.3 315.3h.9v.9h-.9zM309.9 235.4h.9v.9h-.9zM321.9 297.9h.9v.9h-.9zM261.1 325.7h.9v.9h-.9zM314.6 300.4h.9v.9h-.9zM231.4 330h.9v.9h-.9zM283.8 304.3h.9v.9h-.9zM269.2 315.9h.9v.9h-.9zM383.8 253.4h.9v.9h-.9zM406 251.5h.9v.9h-.9zM245.1 309.1h.9v.9h-.9zM337.7 279.1h.9v.9h-.9zM243.4 310.9h.9v.9h-.9zM301.2 234.8h.9v.9h-.9zM353 265.2h.9v.9h-.9zM259.7 325.3h.9v.9h-.9zM265.7 252.3h.9v.9h-.9zM339.5 192h.9v.9h-.9zM331.1 288.7h.9v.9h-.9zM251.3 331.3h.9v.9h-.9zM373.3 254.5h.9v.9h-.9zM300.4 241.7h.9v.9h-.9zM235.1 321.9h.9v.9h-.9zM273.7 239.7h.9v.9h-.9zM295.6 308.2h.9v.9h-.9zM307.5 235.1h.9v.9h-.9zM284.9 240.3h.9v.9h-.9zM383.4 257h.9v.9h-.9zM269.7 253h.9v.9h-.9zM309.3 219.1h.9v.9h-.9zM279.5 245.1h.9v.9h-.9zM366.8 257.2h.9v.9h-.9zM263.9 246.3h.9v.9h-.9zM310.3 305.8h.9v.9h-.9zM310.9 222.6h.9v.9h-.9zM342.7 272.9h.9v.9h-.9zM342.9 277.5h.9v.9h-.9zM243.6 311.3h.9v.9h-.9zM244.9 308.6h.9v.9h-.9zM356 267.5h.9v.9h-.9zM298.2 302.1h.9v.9h-.9zM261.3 257.9h.9v.9h-.9zM372.8 255h.9v.9h-.9zM303.7 307.9h.9v.9h-.9zM268.7 315.4h.9v.9h-.9zM374.6 254h.9v.9h-.9zM271.3 316.2h.9v.9h-.9zM268.5 250.7h.9v.9h-.9zM283 238.6h.9v.9h-.9zM249 330.8h.9v.9h-.9zM312.6 304.4h.9v.9h-.9zM358.7 262.8h.9v.9h-.9zM374.6 254.1h.9v.9h-.9zM330.2 196.5h.9v.9h-.9zM299.9 232.5h.9v.9h-.9zM275.8 306.8h.9v.9h-.9zM290.2 246.4h.9v.9h-.9zM284.5 247.5h.9v.9h-.9zM319.1 303.9h.9v.9h-.9zM281.7 249.8h.9v.9h-.9zM386.2 253.6h.9v.9h-.9zM245.4 305.2h.9v.9h-.9zM244.4 310.7h.9v.9h-.9zM267.2 320.4h.9v.9h-.9zM240.2 318.2h.9v.9h-.9zM229.5 334.8h.9v.9h-.9zM310.2 302.5h.9v.9h-.9zM244.7 307.6h.9v.9h-.9zM403 246.6h.9v.9h-.9zM290.5 244h.9v.9h-.9zM279.3 250.8h.9v.9h-.9zM385.3 257.1h.9v.9h-.9zM296.6 301.9h.9v.9h-.9zM249.2 294.3h.9v.9h-.9zM370.7 255.8h.9v.9h-.9zM314.6 300.5h.9v.9h-.9zM308.6 302.4h.9v.9h-.9zM404.8 246.1h.9v.9h-.9zM392.1 249.6h.9v.9h-.9zM262.7 323.6h.9v.9h-.9zM311 231.7h.9v.9h-.9zM400.7 248.3h.9v.9h-.9zM338.9 279.9h.9v.9h-.9zM279.8 245.8h.9v.9h-.9zM394 249.4h.9v.9h-.9zM281.6 304.1h.9v.9h-.9zM317.3 306.2h.9v.9h-.9zM245.4 307.3h.9v.9h-.9zM337.2 279.8h.9v.9h-.9zM252.1 274.7h.9v.9h-.9zM234.4 325.2h.9v.9h-.9zM303.8 239.9h.9v.9h-.9zM364.1 260.2h.9v.9h-.9zM350.4 266.8h.9v.9h-.9zM294 301.8h.9v.9h-.9zM273.7 308.6h.9v.9h-.9zM286.1 236.7h.9v.9h-.9zM280.4 247.3h.9v.9h-.9zM379.6 253.4h.9v.9h-.9zM276.4 307.6h.9v.9h-.9zM251.4 275.3h.9v.9h-.9zM384.7 255.5h.9v.9h-.9zM315.5 219.5h.9v.9h-.9zM265 322.4h.9v.9h-.9zM282.1 249.4h.9v.9h-.9zM239.1 335.3h.9v.9h-.9zM282.2 304.4h.9v.9h-.9zM254.9 327.7h.9v.9h-.9zM334 200.5h.9v.9h-.9zM243.8 311.7h.9v.9h-.9zM257.5 260.5h.9v.9h-.9zM334.6 286.4h.9v.9h-.9zM254.3 270.1h.9v.9h-.9zM390.5 249.7h.9v.9h-.9zM378.6 258.5h.9v.9h-.9zM303 302.8h.9v.9h-.9zM293.4 243.2h.9v.9h-.9zM388.2 253h.9v.9h-.9zM317.3 207h.9v.9h-.9zM371.9 255h.9v.9h-.9zM344.2 270.9h.9v.9h-.9zM287.1 247h.9v.9h-.9zM248.3 297.9h.9v.9h-.9zM278.7 249.9h.9v.9h-.9zM335.4 283.2h.9v.9h-.9zM356 267h.9v.9h-.9zM358.4 261.1h.9v.9h-.9zM291.5 235.7h.9v.9h-.9zM258.3 326.6h.9v.9h-.9zM256.3 326.9h.9v.9h-.9zM293.7 239.2h.9v.9h-.9zM321 302.4h.9v.9h-.9zM400.7 247.7h.9v.9h-.9zM317.2 211.9h.9v.9h-.9zM326.1 300.1h.9v.9h-.9zM352.7 265.6h.9v.9h-.9zM352.8 265.8h.9v.9h-.9zM380.3 258.3h.9v.9h-.9zM335.3 200h.9v.9h-.9zM322.9 299.4h.9v.9h-.9zM286.9 304h.9v.9h-.9zM363.3 262.1h.9v.9h-.9zM236.7 323.1h.9v.9h-.9zM317.8 223.3h.9v.9h-.9zM254.1 269.8h.9v.9h-.9zM249.4 329.7h.9v.9h-.9zM264.9 322h.9v.9h-.9zM322.7 197.3h.9v.9h-.9zM300.5 303.1h.9v.9h-.9zM291.2 307.8h.9v.9h-.9zM319.2 213.6h.9v.9h-.9zM257.1 262.9h.9v.9h-.9zM382.5 251.8h.9v.9h-.9zM368.6 259.3h.9v.9h-.9zM271.7 313h.9v.9h-.9zM280.7 248.8h.9v.9h-.9zM367.3 257.8h.9v.9h-.9zM350.2 266.1h.9v.9h-.9zM382.6 253.5h.9v.9h-.9zM325.3 210.6h.9v.9h-.9zM279.3 248.2h.9v.9h-.9zM252.2 280.9h.9v.9h-.9zM308.1 217.3h.9v.9h-.9zM266.4 251.8h.9v.9h-.9zM295.2 241.8h.9v.9h-.9zM284.4 309.1h.9v.9h-.9zM323.6 218h.9v.9h-.9zM333.5 201.7h.9v.9h-.9zM303.4 302.3h.9v.9h-.9zM400.4 249.4h.9v.9h-.9zM391.2 252.3h.9v.9h-.9zM313 306h.9v.9h-.9zM306 225.3h.9v.9h-.9zM273.1 309.4h.9v.9h-.9zM328.3 198.9h.9v.9h-.9zM292.1 302.1h.9v.9h-.9zM289 246.2h.9v.9h-.9zM278.5 305.4h.9v.9h-.9zM256.5 329.3h.9v.9h-.9zM244.5 335.5h.9v.9h-.9zM337.3 281.4h.9v.9h-.9zM253.9 271.7h.9v.9h-.9zM311.5 305.7h.9v.9h-.9zM241.8 315.6h.9v.9h-.9zM293.7 305.8h.9v.9h-.9zM237 336.9h.9v.9h-.9zM269.1 254.3h.9v.9h-.9zM281.7 248.5h.9v.9h-.9zM334 287.8h.9v.9h-.9zM278.8 246.8h.9v.9h-.9zM284.7 246.6h.9v.9h-.9zM397 250.8h.9v.9h-.9zM382.5 250.8h.9v.9h-.9zM312.7 307h.9v.9h-.9zM250.2 290.7h.9v.9h-.9zM282.7 245.7h.9v.9h-.9zM245.6 304.8h.9v.9h-.9zM281.2 309.3h.9v.9h-.9zM342 279.7h.9v.9h-.9zM272.7 239.9h.9v.9h-.9zM244.6 306.3h.9v.9h-.9zM247.8 330.5h.9v.9h-.9zM331.1 294.1h.9v.9h-.9zM321.7 207.2h.9v.9h-.9zM305.5 228h.9v.9h-.9zM364.7 259.6h.9v.9h-.9zM231.9 330.4h.9v.9h-.9zM235.8 337.6h.9v.9h-.9zM268.8 316.7h.9v.9h-.9zM320.9 298.6h.9v.9h-.9zM278.9 246.4h.9v.9h-.9zM241.1 337.5h.9v.9h-.9zM361.4 259.6h.9v.9h-.9zM350.9 265.6h.9v.9h-.9zM302.3 225.6h.9v.9h-.9zM312.8 301h.9v.9h-.9zM335.9 282.1h.9v.9h-.9zM276.7 246.7h.9v.9h-.9zM302 239.5h.9v.9h-.9zM285.8 243.6h.9v.9h-.9zM256.7 262.7h.9v.9h-.9zM404.5 246.3h.9v.9h-.9zM378.9 252.7h.9v.9h-.9zM370.6 257.6h.9v.9h-.9zM389.6 251.8h.9v.9h-.9zM384.6 250.6h.9v.9h-.9zM264.6 321.4h.9v.9h-.9zM247.1 303.2h.9v.9h-.9zM307.5 228.9h.9v.9h-.9zM363.8 260.4h.9v.9h-.9zM363 262.5h.9v.9h-.9zM285.5 307.4h.9v.9h-.9zM273 253.3h.9v.9h-.9zM335.8 196.5h.9v.9h-.9zM262.5 248.8h.9v.9h-.9zM287.6 305.9h.9v.9h-.9zM333.4 194.2h.9v.9h-.9zM277.1 251.2h.9v.9h-.9zM369 257.4h.9v.9h-.9zM260.2 258.4h.9v.9h-.9zM295.1 303.4h.9v.9h-.9zM316.3 300h.9v.9h-.9zM295 244.4h.9v.9h-.9zM283.5 305.7h.9v.9h-.9zM276.4 247.8h.9v.9h-.9zM256.7 253.1h.9v.9h-.9zM358.9 261.4h.9v.9h-.9zM365.8 260.2h.9v.9h-.9zM235.3 325.3h.9v.9h-.9zM306.9 301.5h.9v.9h-.9zM268.6 253.4h.9v.9h-.9zM250.1 291.1h.9v.9h-.9zM331.7 198.9h.9v.9h-.9zM357.7 262.2h.9v.9h-.9zM319.9 299.7h.9v.9h-.9zM359.8 264.3h.9v.9h-.9zM306.2 238h.9v.9h-.9zM281.8 304h.9v.9h-.9zM284.3 245.1h.9v.9h-.9zM264.9 321.1h.9v.9h-.9zM292.5 306.5h.9v.9h-.9zM298.7 306.9h.9v.9h-.9zM329 208.1h.9v.9h-.9zM269.9 250h.9v.9h-.9zM298.5 242.5h.9v.9h-.9zM338.8 194.9h.9v.9h-.9zM335.6 199.7h.9v.9h-.9zM307.5 301.5h.9v.9h-.9zM313.4 232.2h.9v.9h-.9zM254.3 268.3h.9v.9h-.9zM253.1 275.9h.9v.9h-.9zM353.9 264.3h.9v.9h-.9zM314.3 231.3h.9v.9h-.9zM378 254.7h.9v.9h-.9zM303.1 303h.9v.9h-.9zM330.1 194.2h.9v.9h-.9zM321.4 214.8h.9v.9h-.9zM325.7 295.8h.9v.9h-.9zM321.3 298.1h.9v.9h-.9zM261.8 258.2h.9v.9h-.9zM306.3 237.8h.9v.9h-.9zM294 304.1h.9v.9h-.9zM278.9 306.7h.9v.9h-.9zM229.6 333.7h.9v.9h-.9zM372.3 254.8h.9v.9h-.9zM320.3 219.5h.9v.9h-.9zM363.8 260.7h.9v.9h-.9zM322.7 217.3h.9v.9h-.9zM263 326.1h.9v.9h-.9zM253.4 333.2h.9v.9h-.9zM323.3 197.3h.9v.9h-.9zM380.2 259h.9v.9h-.9zM248 330.9h.9v.9h-.9zM275.6 307.7h.9v.9h-.9zM266.3 319.2h.9v.9h-.9zM244.2 307.6h.9v.9h-.9zM254 331.5h.9v.9h-.9zM267.9 322.3h.9v.9h-.9zM293 237.2h.9v.9h-.9zM339.7 195.2h.9v.9h-.9zM286.7 302.7h.9v.9h-.9zM314.6 301h.9v.9h-.9zM251.5 331.9h.9v.9h-.9zM337.1 280.7h.9v.9h-.9zM319.7 207.6h.9v.9h-.9zM287.8 245.8h.9v.9h-.9zM375.3 253.7h.9v.9h-.9zM374.1 254.7h.9v.9h-.9zM369.2 258.7h.9v.9h-.9zM270.4 244.6h.9v.9h-.9zM288 307.2h.9v.9h-.9zM381.1 254.9h.9v.9h-.9zM374.6 259.9h.9v.9h-.9zM245.5 304h.9v.9h-.9zM326.2 295.9h.9v.9h-.9zM241 313.1h.9v.9h-.9zM264.6 254.4h.9v.9h-.9zM315.7 300.1h.9v.9h-.9zM388.2 252.9h.9v.9h-.9zM321.9 297.9h.9v.9h-.9zM355 264h.9v.9h-.9zM311.1 234.1h.9v.9h-.9zM284.7 243.4h.9v.9h-.9zM330.1 294.3h.9v.9h-.9zM401.2 249h.9v.9h-.9zM323.1 217.3h.9v.9h-.9zM284.2 245.6h.9v.9h-.9zM308.1 304.2h.9v.9h-.9zM404.3 253.3h.9v.9h-.9zM285.4 305h.9v.9h-.9zM309.2 235.5h.9v.9h-.9zM314.2 229.8h.9v.9h-.9zM303 303.4h.9v.9h-.9zM323.5 218.7h.9v.9h-.9zM278.8 305.8h.9v.9h-.9zM237.9 321.1h.9v.9h-.9zM343.7 276.3h.9v.9h-.9zM398.6 247h.9v.9h-.9zM260.3 258.7h.9v.9h-.9zM349.5 267.2h.9v.9h-.9zM318.5 303.1h.9v.9h-.9zM292.7 239.3h.9v.9h-.9zM284.3 243.6h.9v.9h-.9zM327.8 294.2h.9v.9h-.9zM267.3 245.5h.9v.9h-.9zM271.1 314.4h.9v.9h-.9zM258.6 330.9h.9v.9h-.9zM275.4 306.9h.9v.9h-.9zM299 231.5h.9v.9h-.9zM364.7 259.9h.9v.9h-.9zM281.1 304.3h.9v.9h-.9zM357.3 263h.9v.9h-.9zM311.5 301.7h.9v.9h-.9zM351.8 265.4h.9v.9h-.9zM250.9 329.1h.9v.9h-.9zM373.7 259.9h.9v.9h-.9zM367.4 257.3h.9v.9h-.9zM245.2 309h.9v.9h-.9zM348.9 273.3h.9v.9h-.9zM297.1 231.5h.9v.9h-.9zM369.5 256h.9v.9h-.9zM266.1 323.2h.9v.9h-.9zM356.9 261.9h.9v.9h-.9zM329.5 291.5h.9v.9h-.9zM369.1 256.5h.9v.9h-.9zM270.5 253.9h.9v.9h-.9zM235.4 325.5h.9v.9h-.9zM320.9 222.5h.9v.9h-.9zM391.8 250.1h.9v.9h-.9zM277.8 239.8h.9v.9h-.9zM304.4 307.3h.9v.9h-.9zM300 301.6h.9v.9h-.9zM244.4 337.1h.9v.9h-.9zM321.5 301.4h.9v.9h-.9zM333.5 192.2h.9v.9h-.9zM340 192.4h.9v.9h-.9zM232.4 328.9h.9v.9h-.9zM277.8 247.5h.9v.9h-.9zM277.7 305.6h.9v.9h-.9zM270 314.3h.9v.9h-.9zM244 311.2h.9v.9h-.9zM324.1 216.7h.9v.9h-.9zM257.5 262.4h.9v.9h-.9zM378 252.9h.9v.9h-.9zM290.4 240.8h.9v.9h-.9zM283.1 243.6h.9v.9h-.9zM278 245.7h.9v.9h-.9zM379.2 255.1h.9v.9h-.9zM255.5 329.2h.9v.9h-.9zM384.1 251h.9v.9h-.9zM340.4 275.8h.9v.9h-.9zM363 261.5h.9v.9h-.9zM246.2 331h.9v.9h-.9zM340.9 275.6h.9v.9h-.9zM306.1 303.3h.9v.9h-.9zM402.9 249.5h.9v.9h-.9zM291.1 239.6h.9v.9h-.9zM269 317.9h.9v.9h-.9zM289.6 246h.9v.9h-.9zM250.1 331.9h.9v.9h-.9zM251.3 284.9h.9v.9h-.9zM327.2 191.9h.9v.9h-.9zM298.2 301.6h.9v.9h-.9zM362.3 260.3h.9v.9h-.9zM295.6 302.2h.9v.9h-.9zM272.9 311.5h.9v.9h-.9zM317.6 212.9h.9v.9h-.9zM302 238.3h.9v.9h-.9zM249.7 330.2h.9v.9h-.9zM287 247.1h.9v.9h-.9zM269.9 314.5h.9v.9h-.9zM326.1 194.7h.9v.9h-.9zM267.1 245.3h.9v.9h-.9zM366.4 259.5h.9v.9h-.9zM264.2 324.1h.9v.9h-.9zM256 262.6h.9v.9h-.9zM247.7 335.7h.9v.9h-.9zM282.6 307.4h.9v.9h-.9zM305.7 301.4h.9v.9h-.9zM280.3 240.9h.9v.9h-.9zM319.9 299.6h.9v.9h-.9zM329.6 291.6h.9v.9h-.9zM294.3 239h.9v.9h-.9zM298.4 242.7h.9v.9h-.9zM235.8 337.6h.9v.9h-.9zM279.2 305.2h.9v.9h-.9zM332.2 202.9h.9v.9h-.9zM349.5 272.9h.9v.9h-.9zM288.8 304.6h.9v.9h-.9zM330.6 204.5h.9v.9h-.9zM305.3 238.9h.9v.9h-.9zM271.5 311.3h.9v.9h-.9zM276.4 251.1h.9v.9h-.9zM366.6 258.9h.9v.9h-.9zM361.7 264.1h.9v.9h-.9zM336.6 284.4h.9v.9h-.9zM297 232.2h.9v.9h-.9zM370 256.5h.9v.9h-.9zM278 245.1h.9v.9h-.9zM311.3 234.2h.9v.9h-.9zM323.4 215.7h.9v.9h-.9zM265.3 322.5h.9v.9h-.9zM316.8 228.3h.9v.9h-.9zM378.8 252.1h.9v.9h-.9zM329.4 296.5h.9v.9h-.9zM399 252.5h.9v.9h-.9zM255.3 333.9h.9v.9h-.9zM343.4 272.1h.9v.9h-.9zM305.9 235h.9v.9h-.9zM404.9 247.3h.9v.9h-.9zM285.1 246.2h.9v.9h-.9zM280.4 246.2h.9v.9h-.9zM301.1 302.5h.9v.9h-.9zM317.5 211.1h.9v.9h-.9zM387.8 253.4h.9v.9h-.9zM282.8 248.3h.9v.9h-.9zM253.9 333.5h.9v.9h-.9zM366 257.6h.9v.9h-.9zM405.3 252.7h.9v.9h-.9zM403.5 252.4h.9v.9h-.9zM324.5 296.6h.9v.9h-.9zM277.4 312.4h.9v.9h-.9zM313.5 305.9h.9v.9h-.9zM346.9 273.3h.9v.9h-.9zM250.6 329.2h.9v.9h-.9zM284.3 245.5h.9v.9h-.9zM251.6 329.7h.9v.9h-.9zM250.3 288h.9v.9h-.9zM318.3 299.1h.9v.9h-.9zM261.3 256.7h.9v.9h-.9zM374.8 254.1h.9v.9h-.9zM298 303.5h.9v.9h-.9zM248.4 298.7h.9v.9h-.9zM310 234.2h.9v.9h-.9zM289.4 302.1h.9v.9h-.9zM245.1 308.2h.9v.9h-.9zM306.4 304.8h.9v.9h-.9zM276.9 248h.9v.9h-.9zM293.8 308.1h.9v.9h-.9zM260.2 327.2h.9v.9h-.9zM297.9 307.3h.9v.9h-.9zM314.6 301.8h.9v.9h-.9zM274.5 310h.9v.9h-.9zM361.6 266.6h.9v.9h-.9zM249.9 290.2h.9v.9h-.9zM322.2 220.7h.9v.9h-.9zM247.8 301.3h.9v.9h-.9zM238.3 320.4h.9v.9h-.9zM287.6 303.6h.9v.9h-.9zM290.1 246.5h.9v.9h-.9zM391.2 251h.9v.9h-.9zM252.9 275.9h.9v.9h-.9zM235.3 325.4h.9v.9h-.9zM287.1 304.4h.9v.9h-.9zM364.4 262.9h.9v.9h-.9zM295.2 301.7h.9v.9h-.9zM357.2 263.8h.9v.9h-.9zM338.3 194.5h.9v.9h-.9zM313.5 305.5h.9v.9h-.9zM288.8 303h.9v.9h-.9zM259.6 325.3h.9v.9h-.9zM315.8 302.7h.9v.9h-.9zM293.2 302.1h.9v.9h-.9zM246.1 335.3h.9v.9h-.9zM266.5 244.8h.9v.9h-.9zM380.1 253.6h.9v.9h-.9zM393.6 254.4h.9v.9h-.9zM256.1 255.3h.9v.9h-.9zM393.5 253.6h.9v.9h-.9zM276.1 306.5h.9v.9h-.9zM310.5 231.9h.9v.9h-.9zM263.7 252.2h.9v.9h-.9zM349.1 273h.9v.9h-.9zM283.6 247h.9v.9h-.9zM274.3 312h.9v.9h-.9zM346.9 268.9h.9v.9h-.9zM278.5 305.3h.9v.9h-.9zM364.1 258.5h.9v.9h-.9zM395.8 247.6h.9v.9h-.9zM326.1 205.8h.9v.9h-.9zM340.6 281.3h.9v.9h-.9zM382.1 254.6h.9v.9h-.9zM383.2 252.2h.9v.9h-.9zM396 247.7h.9v.9h-.9zM266.8 320.2h.9v.9h-.9zM304.1 239.1h.9v.9h-.9zM303.3 305.2h.9v.9h-.9zM314.9 300.6h.9v.9h-.9zM326.9 208.5h.9v.9h-.9zM325.2 213.2h.9v.9h-.9zM315.3 210.9h.9v.9h-.9zM297.8 302.1h.9v.9h-.9zM361.7 259.5h.9v.9h-.9zM283.3 303.6h.9v.9h-.9zM404.1 246.4h.9v.9h-.9zM391.4 252.1h.9v.9h-.9zM305.1 232.1h.9v.9h-.9zM379.7 255.3h.9v.9h-.9zM240.3 317.6h.9v.9h-.9zM323.9 299.1h.9v.9h-.9zM229.8 335h.9v.9h-.9zM304 239.3h.9v.9h-.9zM268.7 245.1h.9v.9h-.9zM267.7 319.9h.9v.9h-.9zM388.1 253.3h.9v.9h-.9zM293.2 244.3h.9v.9h-.9zM379.2 252h.9v.9h-.9zM264.7 253.7h.9v.9h-.9zM307.3 303.5h.9v.9h-.9zM373.2 255.3h.9v.9h-.9zM393.8 249.6h.9v.9h-.9zM236.5 323.1h.9v.9h-.9zM306.6 224.5h.9v.9h-.9zM294.7 243.8h.9v.9h-.9zM377.5 253.4h.9v.9h-.9zM384.5 251.3h.9v.9h-.9zM253.9 271.6h.9v.9h-.9zM384.1 251h.9v.9h-.9zM344.3 278h.9v.9h-.9zM260 255.1h.9v.9h-.9zM307.8 302.5h.9v.9h-.9zM301.9 302.4h.9v.9h-.9zM281.7 241.4h.9v.9h-.9zM256.7 263.5h.9v.9h-.9zM400.1 247h.9v.9h-.9zM359.6 260.5h.9v.9h-.9zM247.7 301h.9v.9h-.9zM301.9 307h.9v.9h-.9z'/>
<path fill='#ffffff' fill-opacity='0.75' d='M329.7 286.3h.8v.8h-.8zM272.8 254.9h.8v.8h-.8zM304.7 243.8h.8v.8h-.8zM242.5 318.8h.8v.8h-.8zM371.4 252.3h.8v.8h-.8zM342.2 197.2h.8v.8h-.8zM349.4 266h.8v.8h-.8zM306.4 245.2h.8v.8h-.8zM270.8 258.2h.8v.8h-.8zM310.5 300.9h.8v.8h-.8zM390.6 246.7h.8v.8h-.8zM261.5 324.1h.8v.8h-.8zM285.7 250.5h.8v.8h-.8zM405.3 242h.8v.8h-.8zM345.9 262.9h.8v.8h-.8zM377.6 244.6h.8v.8h-.8zM294.2 300.3h.8v.8h-.8zM255 327.1h.8v.8h-.8zM385.3 243.6h.8v.8h-.8zM279.7 304.6h.8v.8h-.8zM311.9 299.8h.8v.8h-.8zM262.6 259.9h.8v.8h-.8zM292.6 245.8h.8v.8h-.8zM291.2 295.7h.8v.8h-.8zM330.5 213h.8v.8h-.8zM310.1 239.7h.8v.8h-.8zM245.4 308.9h.8v.8h-.8zM392.7 247.6h.8v.8h-.8zM271.8 306.1h.8v.8h-.8zM304.9 240.5h.8v.8h-.8zM305.7 239h.8v.8h-.8zM275.9 253.5h.8v.8h-.8zM269.6 259h.8v.8h-.8zM405 239.4h.8v.8h-.8zM331.2 283.9h.8v.8h-.8zM237.1 323.4h.8v.8h-.8zM262.1 322.2h.8v.8h-.8zM259.5 261.7h.8v.8h-.8zM267.9 313.8h.8v.8h-.8zM237.6 335.9h.8v.8h-.8zM383.9 246.5h.8v.8h-.8zM371.1 254.8h.8v.8h-.8zM281.3 256.4h.8v.8h-.8zM321.1 226.2h.8v.8h-.8zM237 328.7h.8v.8h-.8zM263.7 261.5h.8v.8h-.8zM352.6 262.4h.8v.8h-.8zM322.4 290.1h.8v.8h-.8zM265.9 258.4h.8v.8h-.8zM246.1 329.9h.8v.8h-.8zM263.9 263.3h.8v.8h-.8zM296.6 243.8h.8v.8h-.8zM284.7 301.1h.8v.8h-.8zM355.4 259.6h.8v.8h-.8zM341.7 269.5h.8v.8h-.8zM314.2 296.9h.8v.8h-.8zM236.6 331h.8v.8h-.8zM264.2 320.3h.8v.8h-.8zM328.3 290.9h.8v.8h-.8zM265.1 264.9h.8v.8h-.8zM240.2 319.4h.8v.8h-.8zM316.4 295.7h.8v.8h-.8zM336.1 203.3h.8v.8h-.8zM401.3 238.3h.8v.8h-.8zM340 195.7h.8v.8h-.8zM395.1 243.5h.8v.8h-.8zM238.8 323.1h.8v.8h-.8zM251.4 288.1h.8v.8h-.8zM270.5 304.1h.8v.8h-.8zM384.9 248.3h.8v.8h-.8zM275.4 260.2h.8v.8h-.8zM271.9 260.7h.8v.8h-.8zM237.6 328h.8v.8h-.8zM333.6 203.9h.8v.8h-.8zM363.8 258.1h.8v.8h-.8zM314.6 231.9h.8v.8h-.8zM257.9 264.3h.8v.8h-.8zM239.2 320.4h.8v.8h-.8zM245.9 312.6h.8v.8h-.8zM339.3 201.4h.8v.8h-.8zM355.9 257.1h.8v.8h-.8zM251 320.9h.8v.8h-.8zM385.6 249.4h.8v.8h-.8zM395.7 247.2h.8v.8h-.8zM313.9 295.9h.8v.8h-.8zM324.8 296.2h.8v.8h-.8zM299.2 250.5h.8v.8h-.8zM335.5 207.2h.8v.8h-.8zM272.5 300.6h.8v.8h-.8zM275 300.4h.8v.8h-.8zM255.1 320.2h.8v.8h-.8zM286.4 301.1h.8v.8h-.8zM315.9 293.4h.8v.8h-.8zM365.4 251.5h.8v.8h-.8zM281.3 298.1h.8v.8h-.8zM336.9 204.3h.8v.8h-.8zM247.5 327.6h.8v.8h-.8zM365.7 255.3h.8v.8h-.8zM289.8 301.4h.8v.8h-.8zM279.9 303.7h.8v.8h-.8zM392.6 246.2h.8v.8h-.8zM265.8 258.9h.8v.8h-.8zM258.9 268.6h.8v.8h-.8zM395.8 239.5h.8v.8h-.8zM355.6 257.8h.8v.8h-.8zM305.7 243.7h.8v.8h-.8zM400.4 238.3h.8v.8h-.8zM311.2 292.3h.8v.8h-.8zM359 253.6h.8v.8h-.8zM330.6 287.3h.8v.8h-.8zM377 248.1h.8v.8h-.8zM316.1 236.1h.8v.8h-.8zM349.3 259.9h.8v.8h-.8zM240.2 327.5h.8v.8h-.8zM259.5 267h.8v.8h-.8zM280.3 296.7h.8v.8h-.8zM268.7 255.3h.8v.8h-.8zM384.7 247.3h.8v.8h-.8zM373.8 254.1h.8v.8h-.8zM286.6 295.8h.8v.8h-.8zM319.8 295.5h.8v.8h-.8zM335.2 201.4h.8v.8h-.8zM384.4 248.3h.8v.8h-.8zM286.1 251.8h.8v.8h-.8zM262.6 259.9h.8v.8h-.8zM301.8 241.2h.8v.8h-.8zM351.2 261.4h.8v.8h-.8zM313.3 298.1h.8v.8h-.8zM361.7 258h.8v.8h-.8zM325.6 216.8h.8v.8h-.8zM334.4 282.5h.8v.8h-.8zM372.4 248.1h.8v.8h-.8zM246.9 329.9h.8v.8h-.8zM368 255.4h.8v.8h-.8zM404.8 243.5h.8v.8h-.8zM272.6 306.9h.8v.8h-.8zM296 299.8h.8v.8h-.8zM341.6 193.4h.8v.8h-.8zM296 295.2h.8v.8h-.8zM320 297.8h.8v.8h-.8zM292.8 248.8h.8v.8h-.8zM319.4 292.4h.8v.8h-.8zM304 297h.8v.8h-.8zM241.5 326.1h.8v.8h-.8zM345 262.4h.8v.8h-.8zM403.1 246h.8v.8h-.8zM323.9 221.3h.8v.8h-.8zM338.5 197.1h.8v.8h-.8zM320.2 294.7h.8v.8h-.8zM375 245.4h.8v.8h-.8zM293 249.5h.8v.8h-.8zM273 302.6h.8v.8h-.8zM324.7 218.1h.8v.8h-.8zM347.8 267.4h.8v.8h-.8zM292.9 299.1h.8v.8h-.8zM280.7 252.1h.8v.8h-.8zM245.4 308.6h.8v.8h-.8zM386 246.4h.8v.8h-.8zM290.7 299.8h.8v.8h-.8zM378.8 250.8h.8v.8h-.8zM324 226.3h.8v.8h-.8zM275.9 253.4h.8v.8h-.8zM396.6 241.6h.8v.8h-.8zM319.3 295.9h.8v.8h-.8zM325.4 289.5h.8v.8h-.8zM396.5 240.7h.8v.8h-.8zM263.3 265h.8v.8h-.8zM246.8 306.2h.8v.8h-.8zM328.8 216.5h.8v.8h-.8zM253.2 320h.8v.8h-.8zM304.9 296.8h.8v.8h-.8zM274.2 307.1h.8v.8h-.8zM288.4 248.2h.8v.8h-.8zM386.9 242.5h.8v.8h-.8zM314.2 234.9h.8v.8h-.8zM297.4 301.5h.8v.8h-.8zM269.5 258.3h.8v.8h-.8zM302 245.4h.8v.8h-.8zM386.4 247.7h.8v.8h-.8zM320.9 222.8h.8v.8h-.8zM287.6 253.7h.8v.8h-.8zM305.6 300.8h.8v.8h-.8zM289.2 253.2h.8v.8h-.8zM264.1 318.6h.8v.8h-.8zM361.1 258h.8v.8h-.8zM328.7 292h.8v.8h-.8zM242.6 319.7h.8v.8h-.8zM297.2 300.1h.8v.8h-.8zM359.8 256.6h.8v.8h-.8zM237.3 328.5h.8v.8h-.8zM339.3 199.4h.8v.8h-.8zM320.5 295.9h.8v.8h-.8zM306.8 292.8h.8v.8h-.8zM280.9 299.8h.8v.8h-.8zM330.7 212.1h.8v.8h-.8zM237.6 335.1h.8v.8h-.8zM264.6 316.3h.8v.8h-.8zM311.5 242.5h.8v.8h-.8zM294.2 296.9h.8v.8h-.8zM301.9 298.8h.8v.8h-.8zM279.8 250.8h.8v.8h-.8zM312.7 295h.8v.8h-.8zM294.9 250.9h.8v.8h-.8zM280.5 301.2h.8v.8h-.8zM350.9 259h.8v.8h-.8zM328.2 215.1h.8v.8h-.8zM276.9 301.7h.8v.8h-.8zM353.1 257.1h.8v.8h-.8zM375.2 246.9h.8v.8h-.8zM279 302.9h.8v.8h-.8zM364.3 254.1h.8v.8h-.8zM251.6 284.4h.8v.8h-.8zM252.5 320.8h.8v.8h-.8zM295.4 248.4h.8v.8h-.8zM240.9 322.8h.8v.8h-.8zM291.9 297.8h.8v.8h-.8zM317.8 292.8h.8v.8h-.8zM304.9 297.1h.8v.8h-.8zM239.7 322.8h.8v.8h-.8zM313.6 233h.8v.8h-.8zM269.9 309.3h.8v.8h-.8zM306.9 298.4h.8v.8h-.8zM319.7 232.7h.8v.8h-.8zM335.6 274.4h.8v.8h-.8zM252.8 279.1h.8v.8h-.8zM264.8 259.2h.8v.8h-.8zM377.5 247h.8v.8h-.8zM320.8 290.9h.8v.8h-.8zM257.8 318.1h.8v.8h-.8zM375.6 250.9h.8v.8h-.8zM250.9 287.6h.8v.8h-.8zM247.6 326.8h.8v.8h-.8zM298.3 299.7h.8v.8h-.8zM273.3 301h.8v.8h-.8zM270.1 312.8h.8v.8h-.8zM337.4 201.8h.8v.8h-.8zM237.5 322.4h.8v.8h-.8zM287.3 251h.8v.8h-.8zM279.7 298.4h.8v.8h-.8zM296.3 301.3h.8v.8h-.8zM246.1 330.6h.8v.8h-.8zM298.5 243.8h.8v.8h-.8zM272.7 261.2h.8v.8h-.8zM276.7 304.8h.8v.8h-.8zM394.7 244.2h.8v.8h-.8zM397.1 239.8h.8v.8h-.8zM325 216.4h.8v.8h-.8zM379.2 249.2h.8v.8h-.8zM387.3 247.6h.8v.8h-.8zM365.4 252.7h.8v.8h-.8zM275.2 254.5h.8v.8h-.8zM281.6 301.9h.8v.8h-.8zM304.1 240.4h.8v.8h-.8zM283.4 301.8h.8v.8h-.8zM388.4 246.1h.8v.8h-.8zM286.2 295.3h.8v.8h-.8zM244 330.3h.8v.8h-.8zM302.8 299.7h.8v.8h-.8zM240.3 332.7h.8v.8h-.8zM374.7 253.3h.8v.8h-.8zM286.9 297.2h.8v.8h-.8zM307.4 238.4h.8v.8h-.8zM295.2 249.2h.8v.8h-.8zM384.1 246.4h.8v.8h-.8zM325.9 295.3h.8v.8h-.8zM243.1 329.5h.8v.8h-.8zM278.7 298.8h.8v.8h-.8zM252.7 283.2h.8v.8h-.8zM361.8 258.5h.8v.8h-.8zM269.1 307.1h.8v.8h-.8zM339.5 197.6h.8v.8h-.8zM298.6 300.7h.8v.8h-.8zM306.4 242.1h.8v.8h-.8zM249.7 297.9h.8v.8h-.8zM369.9 255h.8v.8h-.8zM343.3 269.3h.8v.8h-.8zM289.2 247.4h.8v.8h-.8zM394.1 241.3h.8v.8h-.8zM267.3 317.5h.8v.8h-.8zM274.3 258h.8v.8h-.8zM284.7 303h.8v.8h-.8zM376.8 246.6h.8v.8h-.8zM340.5 199.8h.8v.8h-.8zM384.6 250h.8v.8h-.8zM330 207h.8v.8h-.8zM284.9 254.1h.8v.8h-.8zM272.1 260.7h.8v.8h-.8zM281.5 299.1h.8v.8h-.8zM320.3 229h.8v.8h-.8zM367.7 254.8h.8v.8h-.8zM353.6 256.7h.8v.8h-.8zM314.5 296.4h.8v.8h-.8zM332.1 286.2h.8v.8h-.8zM302.6 295.2h.8v.8h-.8zM331.5 212.8h.8v.8h-.8zM249.1 297.9h.8v.8h-.8zM248.6 322h.8v.8h-.8zM338.8 197.6h.8v.8h-.8zM309 242.1h.8v.8h-.8zM361.8 259.3h.8v.8h-.8zM298.9 250.1h.8v.8h-.8zM251.8 285.1h.8v.8h-.8zM318.3 299h.8v.8h-.8zM290.3 248.1h.8v.8h-.8zM296.6 245.9h.8v.8h-.8zM249 301.7h.8v.8h-.8zM275.5 299.4h.8v.8h-.8zM344.1 268.8h.8v.8h-.8zM284.3 300.9h.8v.8h-.8zM325.2 216.9h.8v.8h-.8zM339.6 196.6h.8v.8h-.8zM251.1 328.2h.8v.8h-.8zM282.4 300.1h.8v.8h-.8zM315.4 233.7h.8v.8h-.8zM267 314.7h.8v.8h-.8zM302.2 246.4h.8v.8h-.8zM290.4 249.5h.8v.8h-.8zM308.3 245.4h.8v.8h-.8zM303.8 240.5h.8v.8h-.8zM260.8 259.1h.8v.8h-.8zM329.4 284.5h.8v.8h-.8zM280.3 298.7h.8v.8h-.8zM245.5 309.2h.8v.8h-.8zM384.4 250h.8v.8h-.8zM277 256.4h.8v.8h-.8zM309 294.4h.8v.8h-.8zM284.4 252.3h.8v.8h-.8zM305 300.4h.8v.8h-.8zM383.8 247.9h.8v.8h-.8zM400.3 238.3h.8v.8h-.8zM311.3 294.1h.8v.8h-.8zM286.5 255.7h.8v.8h-.8zM255.5 271h.8v.8h-.8zM288.1 251.5h.8v.8h-.8zM340.6 274.4h.8v.8h-.8zM247.7 305.5h.8v.8h-.8zM242 318.6h.8v.8h-.8zM299.9 300.9h.8v.8h-.8zM323.9 219.1h.8v.8h-.8zM390.9 240.4h.8v.8h-.8zM278.6 256.5h.8v.8h-.8zM373.4 250h.8v.8h-.8zM357.1 255.1h.8v.8h-.8zM330.7 289.3h.8v.8h-.8zM317.9 295.9h.8v.8h-.8zM353.8 255.8h.8v.8h-.8zM248.7 298.3h.8v.8h-.8zM384.4 249.3h.8v.8h-.8zM284.5 253.2h.8v.8h-.8zM312.8 235.3h.8v.8h-.8zM313.5 232.4h.8v.8h-.8zM286.6 249.1h.8v.8h-.8zM366.7 252.2h.8v.8h-.8zM360.4 254.9h.8v.8h-.8zM268.7 258h.8v.8h-.8zM376.9 252.4h.8v.8h-.8zM257.7 325h.8v.8h-.8zM239.6 329.6h.8v.8h-.8zM376.3 248.7h.8v.8h-.8zM297.2 300.1h.8v.8h-.8zM313 237.1h.8v.8h-.8zM353 261.7h.8v.8h-.8zM243.3 332.1h.8v.8h-.8zM365.3 250.7h.8v.8h-.8zM348.5 265.4h.8v.8h-.8zM396.4 243.5h.8v.8h-.8zM301.3 296.8h.8v.8h-.8zM330.3 283.8h.8v.8h-.8zM284.1 254.7h.8v.8h-.8zM326.3 216.3h.8v.8h-.8zM286.9 255.7h.8v.8h-.8zM295.4 297h.8v.8h-.8zM254.4 272.2h.8v.8h-.8zM269.3 260.9h.8v.8h-.8zM319.7 228h.8v.8h-.8zM351.9 261.9h.8v.8h-.8zM271.8 258.1h.8v.8h-.8zM325.8 294.2h.8v.8h-.8zM244.8 326.2h.8v.8h-.8zM275.7 253.2h.8v.8h-.8zM380 250.1h.8v.8h-.8zM297.1 243.5h.8v.8h-.8zM377.7 250.7h.8v.8h-.8zM294.4 300.2h.8v.8h-.8zM355.6 260.8h.8v.8h-.8zM260.3 264.5h.8v.8h-.8zM294.6 251.6h.8v.8h-.8zM262.9 262.1h.8v.8h-.8zM275.8 253.4h.8v.8h-.8zM344.2 270.7h.8v.8h-.8zM370.3 253.9h.8v.8h-.8zM398.9 244.2h.8v.8h-.8zM294.7 251.9h.8v.8h-.8zM394.9 240h.8v.8h-.8zM292.8 248.7h.8v.8h-.8zM406.3 239.1h.8v.8h-.8zM276.9 259.9h.8v.8h-.8zM393 242.6h.8v.8h-.8zM291 294.4h.8v.8h-.8zM248.7 329.1h.8v.8h-.8zM243.4 315.2h.8v.8h-.8zM271.9 309.6h.8v.8h-.8zM247.6 304.5h.8v.8h-.8zM260.6 267.2h.8v.8h-.8zM241.8 331.2h.8v.8h-.8zM373.1 250.2h.8v.8h-.8zM341.1 271.5h.8v.8h-.8zM242.4 324.7h.8v.8h-.8zM366 252.1h.8v.8h-.8zM360.3 252.3h.8v.8h-.8zM298.5 245.1h.8v.8h-.8zM253.5 325.1h.8v.8h-.8zM338.8 202h.8v.8h-.8zM280.8 257.6h.8v.8h-.8zM327.5 217.6h.8v.8h-.8zM253.3 278.5h.8v.8h-.8zM382.1 247.8h.8v.8h-.8zM342.7 270.2h.8v.8h-.8zM267.6 316.6h.8v.8h-.8zM277.4 302.7h.8v.8h-.8zM266 264.5h.8v.8h-.8zM379.6 247.8h.8v.8h-.8zM317.4 291h.8v.8h-.8zM397.5 242.2h.8v.8h-.8zM332.7 207.3h.8v.8h-.8zM335.3 279.1h.8v.8h-.8zM305.3 301.4h.8v.8h-.8zM240.6 324.7h.8v.8h-.8zM383.8 249h.8v.8h-.8zM340.7 197.4h.8v.8h-.8zM325.5 295.3h.8v.8h-.8zM394 239.3h.8v.8h-.8zM251.4 322.2h.8v.8h-.8zM388.2 248.8h.8v.8h-.8zM339.2 202.3h.8v.8h-.8zM253.6 325.3h.8v.8h-.8zM262.7 264.1h.8v.8h-.8zM397.4 247h.8v.8h-.8zM386.4 247.2h.8v.8h-.8zM242.3 329.1h.8v.8h-.8zM272.6 308.7h.8v.8h-.8zM396.9 241.5h.8v.8h-.8zM398.8 242.1h.8v.8h-.8zM254.6 273.3h.8v.8h-.8zM327.5 212.5h.8v.8h-.8zM287.3 255.9h.8v.8h-.8zM264.5 265.2h.8v.8h-.8zM257.6 264.7h.8v.8h-.8zM330.8 282.2h.8v.8h-.8zM273.2 301.8h.8v.8h-.8zM256.4 318.9h.8v.8h-.8zM305.5 295.3h.8v.8h-.8zM297.9 248.3h.8v.8h-.8zM239.5 331.7h.8v.8h-.8zM330.2 210.3h.8v.8h-.8zM310.8 300.6h.8v.8h-.8zM284.7 296.9h.8v.8h-.8zM303.2 293.1h.8v.8h-.8zM322.5 296.8h.8v.8h-.8zM339.9 275.2h.8v.8h-.8zM341.1 273.4h.8v.8h-.8zM248.2 328.5h.8v.8h-.8zM354.7 258h.8v.8h-.8zM336.8 277.5h.8v.8h-.8zM296.2 301.3h.8v.8h-.8zM328 215.7h.8v.8h-.8zM291.6 251.3h.8v.8h-.8zM290.3 246.6h.8v.8h-.8zM397.9 246.4h.8v.8h-.8zM246.6 327.9h.8v.8h-.8zM243.5 328.6h.8v.8h-.8zM334.8 200.8h.8v.8h-.8zM342.2 193.1h.8v.8h-.8zM302.2 297.7h.8v.8h-.8zM260.8 265.5h.8v.8h-.8zM275 304.9h.8v.8h-.8zM287.8 252.1h.8v.8h-.8zM297.2 245.6h.8v.8h-.8zM380.8 245.4h.8v.8h-.8zM350.5 264.3h.8v.8h-.8zM236 331.9h.8v.8h-.8zM289.9 301h.8v.8h-.8zM345.4 261.2h.8v.8h-.8zM301.6 300.8h.8v.8h-.8zM321.1 228.6h.8v.8h-.8zM327 220.6h.8v.8h-.8zM319.9 290.9h.8v.8h-.8zM336 204.7h.8v.8h-.8zM320.8 222.9h.8v.8h-.8zM366.2 251.9h.8v.8h-.8zM326.6 292.8h.8v.8h-.8zM283.6 296.1h.8v.8h-.8zM331 284.3h.8v.8h-.8zM302.1 241.1h.8v.8h-.8zM336.1 279h.8v.8h-.8zM355.6 257.3h.8v.8h-.8zM265.3 260.9h.8v.8h-.8zM268.5 314.9h.8v.8h-.8zM327.1 217.4h.8v.8h-.8zM308.5 240.6h.8v.8h-.8zM388 245.5h.8v.8h-.8zM358 255.8h.8v.8h-.8zM341.2 273.9h.8v.8h-.8zM333.2 205.9h.8v.8h-.8zM250.2 294.1h.8v.8h-.8zM374.7 245.5h.8v.8h-.8zM341.9 271h.8v.8h-.8zM256.3 270h.8v.8h-.8zM331.8 205.4h.8v.8h-.8zM352.9 261.2h.8v.8h-.8zM324.2 290.8h.8v.8h-.8zM350.7 259h.8v.8h-.8zM291.3 252.6h.8v.8h-.8zM314.8 231.2h.8v.8h-.8zM261 319.1h.8v.8h-.8zM333.1 283.4h.8v.8h-.8zM370.3 255.3h.8v.8h-.8zM281 299h.8v.8h-.8zM316.1 233.3h.8v.8h-.8zM263.8 263.2h.8v.8h-.8zM251.3 323h.8v.8h-.8zM297.7 248.4h.8v.8h-.8zM309.3 297.9h.8v.8h-.8zM340.5 194.6h.8v.8h-.8zM305.6 242.3h.8v.8h-.8zM278.2 298.4h.8v.8h-.8zM256.3 319.8h.8v.8h-.8zM288.6 248.7h.8v.8h-.8zM238.4 333.3h.8v.8h-.8zM319.2 297h.8v.8h-.8zM275.5 255h.8v.8h-.8zM292.3 245.7h.8v.8h-.8zM239 321h.8v.8h-.8zM378.1 248.3h.8v.8h-.8zM248.1 308h.8v.8h-.8zM388.5 246.9h.8v.8h-.8zM326.7 294.5h.8v.8h-.8zM275.3 256h.8v.8h-.8zM288.8 250.6h.8v.8h-.8zM331.9 206.2h.8v.8h-.8zM333.5 279.2h.8v.8h-.8zM344.9 262.6h.8v.8h-.8zM360.6 255.5h.8v.8h-.8zM281.6 301.8h.8v.8h-.8zM292.6 253.6h.8v.8h-.8zM247.3 328.9h.8v.8h-.8zM353.6 256.2h.8v.8h-.8zM303.4 246.9h.8v.8h-.8zM240.7 322.8h.8v.8h-.8zM254.3 325.4h.8v.8h-.8zM368.1 252.4h.8v.8h-.8zM388.3 241h.8v.8h-.8zM270.7 258.8h.8v.8h-.8zM340.1 198.8h.8v.8h-.8zM392.8 247.2h.8v.8h-.8zM288.2 299.4h.8v.8h-.8zM249.9 296.3h.8v.8h-.8zM263.7 260.5h.8v.8h-.8zM315.2 234.4h.8v.8h-.8zM302.9 300.5h.8v.8h-.8zM326.1 214.6h.8v.8h-.8zM258.8 322h.8v.8h-.8zM341.3 274h.8v.8h-.8zM401.4 245h.8v.8h-.8zM264.6 321.2h.8v.8h-.8zM258.6 261.3h.8v.8h-.8zM257.6 319.9h.8v.8h-.8zM262.2 323.1h.8v.8h-.8zM286.2 249.6h.8v.8h-.8zM337.7 204.3h.8v.8h-.8zM375 248.8h.8v.8h-.8zM258.3 261.8h.8v.8h-.8zM395 242.1h.8v.8h-.8zM366.7 248.9h.8v.8h-.8zM267 259.1h.8v.8h-.8zM340 274.6h.8v.8h-.8zM289.5 301.7h.8v.8h-.8zM271.3 258.5h.8v.8h-.8zM291.1 294.8h.8v.8h-.8zM266 317.9h.8v.8h-.8zM303.4 247.6h.8v.8h-.8zM285 255.5h.8v.8h-.8zM305.2 297.1h.8v.8h-.8zM274.7 307.3h.8v.8h-.8zM374.7 246.6h.8v.8h-.8zM262.8 263.7h.8v.8h-.8zM306.3 245.3h.8v.8h-.8zM338 201.6h.8v.8h-.8zM338.1 201h.8v.8h-.8zM337.8 205.1h.8v.8h-.8zM299.8 299.6h.8v.8h-.8zM309.5 298.7h.8v.8h-.8zM315.4 232.7h.8v.8h-.8zM284.3 295.3h.8v.8h-.8zM260.3 317.5h.8v.8h-.8zM350 264.5h.8v.8h-.8zM391.7 243.2h.8v.8h-.8zM314.6 292.3h.8v.8h-.8zM266 261h.8v.8h-.8zM246.8 323.7h.8v.8h-.8zM246.4 330.3h.8v.8h-.8zM254.5 270.3h.8v.8h-.8zM384.5 244.9h.8v.8h-.8zM268.5 255.5h.8v.8h-.8zM283.9 303h.8v.8h-.8zM331.8 206h.8v.8h-.8zM249.1 302.6h.8v.8h-.8zM361.9 257.5h.8v.8h-.8zM264.9 320.8h.8v.8h-.8zM314.6 232.1h.8v.8h-.8zM244.3 315h.8v.8h-.8zM321.2 293.2h.8v.8h-.8zM295.7 245.7h.8v.8h-.8zM321.2 224h.8v.8h-.8zM368.5 248.7h.8v.8h-.8zM328.6 288.1h.8v.8h-.8zM322.2 291.3h.8v.8h-.8zM285.3 299.8h.8v.8h-.8zM263.7 265.2h.8v.8h-.8zM293.3 250.4h.8v.8h-.8zM316.4 299.2h.8v.8h-.8zM325.2 219.9h.8v.8h-.8zM316.7 291.2h.8v.8h-.8zM255.2 269.8h.8v.8h-.8zM256 271.4h.8v.8h-.8zM271.8 262.2h.8v.8h-.8zM249 299.6h.8v.8h-.8zM270.1 259.9h.8v.8h-.8zM352.2 259.2h.8v.8h-.8zM292.8 245.4h.8v.8h-.8zM349.4 261h.8v.8h-.8zM338.7 196.7h.8v.8h-.8zM312.3 235.3h.8v.8h-.8zM366.4 249.9h.8v.8h-.8zM382.7 242.9h.8v.8h-.8zM261.7 319.4h.8v.8h-.8zM329.7 210.9h.8v.8h-.8zM390.3 241h.8v.8h-.8zM380 248.3h.8v.8h-.8zM313.3 234.8h.8v.8h-.8zM296.2 248.2h.8v.8h-.8zM262 262.8h.8v.8h-.8zM333.7 205.6h.8v.8h-.8zM296.2 299.9h.8v.8h-.8zM326.5 217.6h.8v.8h-.8zM287.8 247.7h.8v.8h-.8zM293.8 249.6h.8v.8h-.8zM277.1 259.2h.8v.8h-.8zM394.6 239.9h.8v.8h-.8zM321.2 297.4h.8v.8h-.8zM275.3 304.4h.8v.8h-.8zM385.8 243.8h.8v.8h-.8zM279.6 301.1h.8v.8h-.8zM288.7 247.2h.8v.8h-.8zM261.4 263.6h.8v.8h-.8zM335 282.3h.8v.8h-.8zM272.9 308.1h.8v.8h-.8zM265.3 317.4h.8v.8h-.8zM384.8 245.9h.8v.8h-.8zM312.5 241.8h.8v.8h-.8zM254.6 275.2h.8v.8h-.8zM394.2 247h.8v.8h-.8zM355.5 256.5h.8v.8h-.8zM326.1 214.1h.8v.8h-.8zM346.1 266.9h.8v.8h-.8zM352.9 259.3h.8v.8h-.8zM259.3 319.2h.8v.8h-.8zM364.1 254h.8v.8h-.8zM277.3 297.6h.8v.8h-.8zM279.9 298.8h.8v.8h-.8zM316.4 231h.8v.8h-.8zM262.3 320.1h.8v.8h-.8zM346.5 268.2h.8v.8h-.8zM247 304.7h.8v.8h-.8zM343.8 193.2h.8v.8h-.8zM351 262.8h.8v.8h-.8zM373.8 246.1h.8v.8h-.8zM341.4 273.8h.8v.8h-.8zM357.5 259.4h.8v.8h-.8zM292.1 297.2h.8v.8h-.8zM256.2 267.4h.8v.8h-.8zM309.4 293h.8v.8h-.8zM255.6 267h.8v.8h-.8zM388.6 245.5h.8v.8h-.8zM334.3 283.2h.8v.8h-.8zM317 299.5h.8v.8h-.8zM265.9 256.5h.8v.8h-.8zM308.6 300.5h.8v.8h-.8zM311 237.1h.8v.8h-.8zM273.1 261.6h.8v.8h-.8zM259.6 319h.8v.8h-.8zM314.2 296.4h.8v.8h-.8zM375.9 245h.8v.8h-.8zM244.8 325.7h.8v.8h-.8zM248 323.6h.8v.8h-.8zM376 250.4h.8v.8h-.8zM405 241.6h.8v.8h-.8zM300.6 241.7h.8v.8h-.8zM302.7 240.9h.8v.8h-.8zM274 302h.8v.8h-.8zM297 251.3h.8v.8h-.8zM390.1 243.6h.8v.8h-.8zM236 325.5h.8v.8h-.8zM254.5 324.5h.8v.8h-.8zM289.8 297.2h.8v.8h-.8zM350.9 264.5h.8v.8h-.8zM312.5 239.1h.8v.8h-.8zM247.9 325.8h.8v.8h-.8zM277.8 297.8h.8v.8h-.8zM298.7 248.1h.8v.8h-.8zM292.2 300.2h.8v.8h-.8zM388.3 245.4h.8v.8h-.8zM241.7 326.3h.8v.8h-.8zM258.6 325.4h.8v.8h-.8zM290 247.4h.8v.8h-.8zM345.4 266.1h.8v.8h-.8zM283.8 301.3h.8v.8h-.8zM295 297.2h.8v.8h-.8zM303.3 300.8h.8v.8h-.8zM270 309.7h.8v.8h-.8zM352.6 259.1h.8v.8h-.8zM265.6 318.9h.8v.8h-.8zM252 284.6h.8v.8h-.8zM321.8 226.1h.8v.8h-.8zM300.7 298.2h.8v.8h-.8zM377.7 248.1h.8v.8h-.8zM400.9 246.2h.8v.8h-.8zM272.3 254.4h.8v.8h-.8zM279.4 255.1h.8v.8h-.8zM383.8 243.4h.8v.8h-.8zM278.9 300.3h.8v.8h-.8zM236.3 335.8h.8v.8h-.8zM324.1 293.3h.8v.8h-.8zM257.1 319.3h.8v.8h-.8zM319.9 224.1h.8v.8h-.8zM289.1 296.1h.8v.8h-.8zM260.8 324.3h.8v.8h-.8zM319.7 298.5h.8v.8h-.8zM321.3 297.5h.8v.8h-.8zM312.4 293.9h.8v.8h-.8zM327.1 290.5h.8v.8h-.8zM350.6 260.6h.8v.8h-.8zM274 256.3h.8v.8h-.8zM349.7 264.7h.8v.8h-.8zM268.2 261.3h.8v.8h-.8zM240.8 320.1h.8v.8h-.8zM373.4 252.8h.8v.8h-.8zM295.6 244.7h.8v.8h-.8zM269.1 309.2h.8v.8h-.8zM355.2 261.8h.8v.8h-.8zM401.2 245h.8v.8h-.8zM336.7 278.7h.8v.8h-.8zM389.5 247.2h.8v.8h-.8zM288.9 249.1h.8v.8h-.8zM395.7 242.8h.8v.8h-.8zM319.7 232.7h.8v.8h-.8zM305.4 293h.8v.8h-.8zM241.4 319.7h.8v.8h-.8zM286.7 300.2h.8v.8h-.8zM317.4 233.8h.8v.8h-.8zM328.2 217.2h.8v.8h-.8zM310.8 300.4h.8v.8h-.8zM251.6 321.4h.8v.8h-.8zM244.3 316.6h.8v.8h-.8zM358.8 255.6h.8v.8h-.8zM384.5 247.8h.8v.8h-.8zM271 260.7h.8v.8h-.8zM305.2 301.3h.8v.8h-.8zM311.2 299.9h.8v.8h-.8zM288 253.9h.8v.8h-.8zM333.9 281.1h.8v.8h-.8zM330.8 213.4h.8v.8h-.8zM289.3 295.1h.8v.8h-.8zM305.2 245.1h.8v.8h-.8zM373.1 251.8h.8v.8h-.8zM293.5 297.4h.8v.8h-.8zM350.6 260.9h.8v.8h-.8zM278.7 299h.8v.8h-.8zM242.1 333h.8v.8h-.8zM294.7 245.4h.8v.8h-.8zM313.7 300.2h.8v.8h-.8zM291.1 297.3h.8v.8h-.8zM331.8 206.4h.8v.8h-.8zM316.1 233.3h.8v.8h-.8zM396.5 247.4h.8v.8h-.8zM283.2 303.5h.8v.8h-.8zM352.3 264.5h.8v.8h-.8zM262.9 259.9h.8v.8h-.8zM300.8 249.7h.8v.8h-.8zM317.5 298.1h.8v.8h-.8zM398.9 242.2h.8v.8h-.8zM332.4 286.6h.8v.8h-.8zM297 295.4h.8v.8h-.8zM272.6 261.9h.8v.8h-.8zM246.5 313.8h.8v.8h-.8zM358.9 257.8h.8v.8h-.8zM247.6 328.3h.8v.8h-.8zM248.3 329.7h.8v.8h-.8zM315.7 296.1h.8v.8h-.8zM303.1 300.1h.8v.8h-.8zM311.5 235h.8v.8h-.8zM265.5 257.6h.8v.8h-.8zM301.9 294h.8v.8h-.8zM353.6 255.8h.8v.8h-.8zM336.7 207.2h.8v.8h-.8zM239.9 333h.8v.8h-.8zM351.6 261.7h.8v.8h-.8zM367.7 256.2h.8v.8h-.8zM375.1 247h.8v.8h-.8zM336.8 279.9h.8v.8h-.8zM331.4 205.9h.8v.8h-.8zM382.4 243.6h.8v.8h-.8zM265.4 317.7h.8v.8h-.8zM386.8 247.5h.8v.8h-.8zM296.4 247.7h.8v.8h-.8zM248.1 328.7h.8v.8h-.8zM290.3 249.8h.8v.8h-.8zM328.2 285.8h.8v.8h-.8zM328 288.2h.8v.8h-.8zM299.3 243.4h.8v.8h-.8zM255 322.1h.8v.8h-.8zM255.7 324.3h.8v.8h-.8zM306.3 299.6h.8v.8h-.8zM352.3 259.4h.8v.8h-.8zM264 262.9h.8v.8h-.8zM339.6 203.2h.8v.8h-.8zM330.1 289.3h.8v.8h-.8zM377.3 251.9h.8v.8h-.8zM270 256.5h.8v.8h-.8zM336.1 199.6h.8v.8h-.8zM251.9 284.7h.8v.8h-.8zM370.4 254.8h.8v.8h-.8zM337.5 271.1h.8v.8h-.8zM258.9 325.3h.8v.8h-.8zM245.3 326.2h.8v.8h-.8zM282.6 250h.8v.8h-.8zM274.6 300.2h.8v.8h-.8zM339.7 197.2h.8v.8h-.8zM285.9 250.2h.8v.8h-.8zM382.6 246.3h.8v.8h-.8zM326.1 216.2h.8v.8h-.8zM335.7 201.8h.8v.8h-.8zM397.1 244.1h.8v.8h-.8zM284.6 256.7h.8v.8h-.8zM358.1 259.5h.8v.8h-.8zM242.2 318.9h.8v.8h-.8zM287.7 299.1h.8v.8h-.8zM272.7 308.2h.8v.8h-.8zM356.8 260.7h.8v.8h-.8zM265.8 318.5h.8v.8h-.8zM254.8 326.4h.8v.8h-.8zM351.9 263.6h.8v.8h-.8zM390.8 242.3h.8v.8h-.8zM285.1 297.1h.8v.8h-.8zM256.5 264.4h.8v.8h-.8zM372.4 250.4h.8v.8h-.8zM335.8 201.8h.8v.8h-.8zM299.7 243.4h.8v.8h-.8zM317.3 232.2h.8v.8h-.8zM261.5 266.2h.8v.8h-.8zM273.2 308.5h.8v.8h-.8zM401.2 238.9h.8v.8h-.8zM405.9 242.4h.8v.8h-.8zM264.7 315.3h.8v.8h-.8zM352.6 262.4h.8v.8h-.8zM373.9 249.4h.8v.8h-.8zM357.4 257.7h.8v.8h-.8zM258.7 264h.8v.8h-.8zM376 252.6h.8v.8h-.8zM306.5 297.2h.8v.8h-.8zM398 242.9h.8v.8h-.8zM356.4 260.4h.8v.8h-.8zM255.2 272.3h.8v.8h-.8zM272.6 256.6h.8v.8h-.8zM294.1 293.8h.8v.8h-.8zM327.3 292.8h.8v.8h-.8zM388.2 248.8h.8v.8h-.8zM238.4 322.2h.8v.8h-.8zM237 329.6h.8v.8h-.8zM319.3 295.3h.8v.8h-.8zM254 319.8h.8v.8h-.8zM312 295.7h.8v.8h-.8zM307.3 246.1h.8v.8h-.8zM242.1 317h.8v.8h-.8zM302.4 245h.8v.8h-.8zM395.2 239.5h.8v.8h-.8zM332.1 283h.8v.8h-.8zM239.6 322.2h.8v.8h-.8zM328 287.8h.8v.8h-.8zM293.3 297.3h.8v.8h-.8zM248.1 328.4h.8v.8h-.8zM304 294.6h.8v.8h-.8zM359.2 256.5h.8v.8h-.8zM254.7 320.2h.8v.8h-.8zM292.2 301.6h.8v.8h-.8zM340.2 198.7h.8v.8h-.8zM276.3 305.4h.8v.8h-.8zM393.6 244.4h.8v.8h-.8zM264.8 320.2h.8v.8h-.8zM393.7 247.4h.8v.8h-.8zM260.5 323.4h.8v.8h-.8zM256.5 264.6h.8v.8h-.8zM283.6 255.4h.8v.8h-.8zM366.2 249h.8v.8h-.8zM393.3 247.3h.8v.8h-.8zM370.2 255.1h.8v.8h-.8zM373.3 246.4h.8v.8h-.8zM309.3 243.4h.8v.8h-.8zM308.1 295.3h.8v.8h-.8zM270.8 305h.8v.8h-.8zM314.3 231.4h.8v.8h-.8zM348.6 264.3h.8v.8h-.8zM259 260.9h.8v.8h-.8zM244.9 323.8h.8v.8h-.8zM242 322.6h.8v.8h-.8zM304.1 239.9h.8v.8h-.8zM360.5 254.5h.8v.8h-.8zM252.2 282.8h.8v.8h-.8zM237.1 326.5h.8v.8h-.8zM320.9 295.1h.8v.8h-.8zM316.2 231.7h.8v.8h-.8zM275.1 257.4h.8v.8h-.8zM317.6 233.1h.8v.8h-.8zM258.8 318.4h.8v.8h-.8zM270.2 258.4h.8v.8h-.8zM242.1 329.7h.8v.8h-.8zM248.9 327h.8v.8h-.8zM299.3 244.4h.8v.8h-.8zM356.1 262.3h.8v.8h-.8zM308.3 242h.8v.8h-.8zM377.6 245.1h.8v.8h-.8zM393.7 247.9h.8v.8h-.8zM356.9 254.3h.8v.8h-.8zM309.2 239.7h.8v.8h-.8zM262 259h.8v.8h-.8zM379.5 245.2h.8v.8h-.8zM336.2 273.4h.8v.8h-.8zM307.8 239.1h.8v.8h-.8zM268.4 313.9h.8v.8h-.8zM305.3 297h.8v.8h-.8zM242.4 332.4h.8v.8h-.8zM321 228.8h.8v.8h-.8zM332.7 209.1h.8v.8h-.8zM261.6 323.9h.8v.8h-.8zM257.7 262.9h.8v.8h-.8zM325.2 290h.8v.8h-.8zM242.7 330h.8v.8h-.8zM344.5 267.5h.8v.8h-.8zM310.2 240.3h.8v.8h-.8zM326.1 222.2h.8v.8h-.8zM299.3 243h.8v.8h-.8zM318.2 229.7h.8v.8h-.8zM342.7 272.4h.8v.8h-.8zM253 321.7h.8v.8h-.8zM401.3 243.6h.8v.8h-.8zM383.6 244.1h.8v.8h-.8zM241 333.8h.8v.8h-.8zM255.5 267.9h.8v.8h-.8zM331.7 208.4h.8v.8h-.8zM389.4 240.8h.8v.8h-.8zM390.7 248.2h.8v.8h-.8zM393.9 245.6h.8v.8h-.8zM266 258.8h.8v.8h-.8zM275.2 254.6h.8v.8h-.8zM337.3 198.5h.8v.8h-.8zM315.8 231h.8v.8h-.8zM389.1 245.7h.8v.8h-.8zM322.7 221.9h.8v.8h-.8zM389.5 241.1h.8v.8h-.8zM352.6 262.3h.8v.8h-.8zM277.6 299.5h.8v.8h-.8zM260.8 260.8h.8v.8h-.8zM283.6 303.3h.8v.8h-.8zM293 301.5h.8v.8h-.8zM309.5 292.8h.8v.8h-.8zM355.9 257.8h.8v.8h-.8zM305.7 242.1h.8v.8h-.8zM236.3 327.7h.8v.8h-.8zM258.1 318.4h.8v.8h-.8zM315.4 237.7h.8v.8h-.8zM358.8 260h.8v.8h-.8zM235.7 327.1h.8v.8h-.8zM305.1 295.1h.8v.8h-.8zM325.6 218.3h.8v.8h-.8zM333.3 206.7h.8v.8h-.8zM331.6 282.8h.8v.8h-.8zM282 296.6h.8v.8h-.8zM298 301.6h.8v.8h-.8zM278.7 297.8h.8v.8h-.8zM360.7 251.8h.8v.8h-.8zM281.5 303.3h.8v.8h-.8zM334.2 201.9h.8v.8h-.8zM290.5 296.6h.8v.8h-.8zM262.8 265.8h.8v.8h-.8zM337.2 271.1h.8v.8h-.8zM255.6 273.3h.8v.8h-.8zM370.2 251.9h.8v.8h-.8zM270 254.7h.8v.8h-.8zM371.4 248.7h.8v.8h-.8zM392 244.1h.8v.8h-.8zM331.9 285.4h.8v.8h-.8zM333 284.9h.8v.8h-.8zM272.8 303.3h.8v.8h-.8zM319.7 294.9h.8v.8h-.8zM270.8 256.1h.8v.8h-.8zM298.3 250.3h.8v.8h-.8zM294.1 245.4h.8v.8h-.8zM317 231h.8v.8h-.8zM259.8 260.2h.8v.8h-.8zM277.2 305.7h.8v.8h-.8zM322.3 291.5h.8v.8h-.8zM260.1 263.4h.8v.8h-.8zM360.6 256.1h.8v.8h-.8zM259.3 264.2h.8v.8h-.8zM319.4 225.3h.8v.8h-.8zM252.9 283.4h.8v.8h-.8zM328.4 292.4h.8v.8h-.8zM391.3 242.7h.8v.8h-.8zM250.2 328.7h.8v.8h-.8zM323.5 221.7h.8v.8h-.8zM360.1 257.4h.8v.8h-.8zM247.4 329.3h.8v.8h-.8zM332.4 286.3h.8v.8h-.8zM250.8 324.6h.8v.8h-.8zM269 262.9h.8v.8h-.8zM281.2 250.1h.8v.8h-.8zM372.5 253.4h.8v.8h-.8zM360.6 259.2h.8v.8h-.8zM399.8 246.6h.8v.8h-.8zM276.6 303.7h.8v.8h-.8zM258 269.1h.8v.8h-.8zM350.2 264.1h.8v.8h-.8zM317.6 291.5h.8v.8h-.8zM392.3 244.5h.8v.8h-.8zM293.3 296h.8v.8h-.8zM313.7 239.4h.8v.8h-.8zM319.1 295.3h.8v.8h-.8zM390.3 247h.8v.8h-.8zM406.2 239.5h.8v.8h-.8zM252.8 282.5h.8v.8h-.8zM337.4 271.7h.8v.8h-.8zM237.4 334.9h.8v.8h-.8zM242 333h.8v.8h-.8zM250 328.7h.8v.8h-.8zM237.2 329.9h.8v.8h-.8zM321 293.8h.8v.8h-.8zM362.6 257.3h.8v.8h-.8zM324.2 221.3h.8v.8h-.8zM340.6 199.1h.8v.8h-.8zM312.5 298.3h.8v.8h-.8zM250.2 327.7h.8v.8h-.8zM399.3 244.6h.8v.8h-.8zM321.4 290.7h.8v.8h-.8zM259 260.7h.8v.8h-.8zM323.7 220h.8v.8h-.8zM348 266.4h.8v.8h-.8zM325.3 219.5h.8v.8h-.8zM292 247.5h.8v.8h-.8zM238.7 328.1h.8v.8h-.8zM254.6 326.6h.8v.8h-.8zM258.6 267.9h.8v.8h-.8zM331.5 205.7h.8v.8h-.8zM405.1 242.3h.8v.8h-.8zM290.9 246.3h.8v.8h-.8zM275 304.8h.8v.8h-.8zM381.2 246h.8v.8h-.8zM285.4 249h.8v.8h-.8zM275.2 252.5h.8v.8h-.8zM381.6 248.9h.8v.8h-.8zM301.3 243.1h.8v.8h-.8zM298.5 249.8h.8v.8h-.8zM373.5 251.1h.8v.8h-.8zM291.7 301.7h.8v.8h-.8zM346.4 266.5h.8v.8h-.8zM292.7 294.2h.8v.8h-.8zM236 328.2h.8v.8h-.8zM289.6 250.8h.8v.8h-.8zM380.5 249h.8v.8h-.8zM384.7 249.5h.8v.8h-.8zM267 317.6h.8v.8h-.8zM279.2 298.4h.8v.8h-.8zM269.5 263.3h.8v.8h-.8zM278.7 303.8h.8v.8h-.8zM308.2 296.2h.8v.8h-.8zM308.7 293.7h.8v.8h-.8zM397.1 246.7h.8v.8h-.8zM289.9 248.3h.8v.8h-.8zM261.7 317.9h.8v.8h-.8zM239.3 328.7h.8v.8h-.8zM322.4 297h.8v.8h-.8zM241.8 316.2h.8v.8h-.8zM366.5 256.7h.8v.8h-.8zM376.8 248.8h.8v.8h-.8zM281.6 258.3h.8v.8h-.8zM339.2 198.8h.8v.8h-.8zM332 283.5h.8v.8h-.8zM272.2 305.9h.8v.8h-.8zM349.8 258.6h.8v.8h-.8zM290.1 300.9h.8v.8h-.8zM294.8 250.8h.8v.8h-.8zM273.6 303.7h.8v.8h-.8zM376.1 252.3h.8v.8h-.8zM361.3 256.7h.8v.8h-.8zM322.5 222.7h.8v.8h-.8zM393.7 242h.8v.8h-.8zM303.3 243.8h.8v.8h-.8zM250.4 322.8h.8v.8h-.8zM250.5 292.9h.8v.8h-.8zM301.6 301.4h.8v.8h-.8zM364.7 256.8h.8v.8h-.8zM249.1 296.1h.8v.8h-.8zM314.8 230.8h.8v.8h-.8zM299.4 242.3h.8v.8h-.8zM374.8 252.3h.8v.8h-.8zM284.7 251.5h.8v.8h-.8zM340.9 197.5h.8v.8h-.8zM344.4 264.1h.8v.8h-.8zM366.7 257h.8v.8h-.8zM388.8 244.7h.8v.8h-.8zM297.4 243.8h.8v.8h-.8zM304.1 244.3h.8v.8h-.8zM357.2 259.5h.8v.8h-.8zM256.8 324.9h.8v.8h-.8zM380 246h.8v.8h-.8zM284.3 299h.8v.8h-.8zM282.4 295.4h.8v.8h-.8zM335.6 278.8h.8v.8h-.8zM279.3 304.6h.8v.8h-.8zM316.4 291.3h.8v.8h-.8zM265.1 315.9h.8v.8h-.8zM243.9 312.4h.8v.8h-.8zM385.8 242.5h.8v.8h-.8zM243.6 319.4h.8v.8h-.8zM259.5 264.4h.8v.8h-.8zM242.7 327.8h.8v.8h-.8zM243 316.7h.8v.8h-.8zM343 194.7h.8v.8h-.8zM330 285.7h.8v.8h-.8zM300.1 299h.8v.8h-.8zM361.8 259.2h.8v.8h-.8zM300 249.4h.8v.8h-.8zM248.8 302.5h.8v.8h-.8zM306.9 239h.8v.8h-.8zM306.1 245.2h.8v.8h-.8zM272.8 303.6h.8v.8h-.8zM275 256.7h.8v.8h-.8zM263.4 322.2h.8v.8h-.8zM352 257.9h.8v.8h-.8zM250.6 292.7h.8v.8h-.8zM279 252.9h.8v.8h-.8zM366.6 256.5h.8v.8h-.8zM281.8 253.2h.8v.8h-.8zM276.4 258.6h.8v.8h-.8zM254.3 321.1h.8v.8h-.8zM295.8 300.1h.8v.8h-.8zM396.8 242.1h.8v.8h-.8zM313.9 294h.8v.8h-.8zM268.4 260.7h.8v.8h-.8zM250.2 329.2h.8v.8h-.8zM382.3 250.4h.8v.8h-.8zM275.1 303.8h.8v.8h-.8zM321.4 295.2h.8v.8h-.8zM369.2 254.7h.8v.8h-.8zM271.3 306.7h.8v.8h-.8zM263.2 265.1h.8v.8h-.8zM306.9 242.6h.8v.8h-.8zM245.6 315.7h.8v.8h-.8zM241.8 317.8h.8v.8h-.8zM273.5 256.7h.8v.8h-.8zM339.9 200.5h.8v.8h-.8zM329.3 290.2h.8v.8h-.8zM343.6 264.1h.8v.8h-.8zM299.1 244.7h.8v.8h-.8zM293.9 297.2h.8v.8h-.8zM377.3 248.8h.8v.8h-.8zM380.3 245.4h.8v.8h-.8zM252.3 325.4h.8v.8h-.8zM281.4 303.3h.8v.8h-.8zM341.6 196.4h.8v.8h-.8zM369.1 252.4h.8v.8h-.8zM330.8 213.3h.8v.8h-.8zM394.7 247.7h.8v.8h-.8zM290.3 298.3h.8v.8h-.8zM358.4 254.7h.8v.8h-.8zM382.4 247.4h.8v.8h-.8zM363.1 257.4h.8v.8h-.8zM248.8 324.1h.8v.8h-.8zM244.8 315.3h.8v.8h-.8zM273.1 255.1h.8v.8h-.8zM302.8 300.1h.8v.8h-.8zM285.2 302.7h.8v.8h-.8zM269.8 258.1h.8v.8h-.8zM318.2 227h.8v.8h-.8zM337.8 203.7h.8v.8h-.8zM315.3 236.8h.8v.8h-.8zM257.9 264.5h.8v.8h-.8zM238.6 322.9h.8v.8h-.8zM305.1 299.2h.8v.8h-.8zM326.1 214h.8v.8h-.8zM307 299.3h.8v.8h-.8zM277.1 252.2h.8v.8h-.8zM264.9 319.1h.8v.8h-.8zM386.7 246.7h.8v.8h-.8zM368.2 251.8h.8v.8h-.8zM334.8 282.6h.8v.8h-.8zM343.9 263.9h.8v.8h-.8zM283.1 250.1h.8v.8h-.8zM337.3 199.4h.8v.8h-.8zM359.8 259.8h.8v.8h-.8zM351.6 258.1h.8v.8h-.8zM379.7 247.1h.8v.8h-.8zM236.8 336.7h.8v.8h-.8zM245.7 330.2h.8v.8h-.8zM246.1 311.9h.8v.8h-.8zM336.6 201.6h.8v.8h-.8zM237.2 323.1h.8v.8h-.8zM372.7 254.2h.8v.8h-.8zM246.5 322.7h.8v.8h-.8zM253.6 275.8h.8v.8h-.8zM250.5 295.1h.8v.8h-.8zM238.2 334.3h.8v.8h-.8zM347 267.6h.8v.8h-.8zM321.8 297.7h.8v.8h-.8zM258.7 263.4h.8v.8h-.8zM236.2 327.3h.8v.8h-.8zM371.5 247.7h.8v.8h-.8zM252.2 285.2h.8v.8h-.8zM324.4 220.7h.8v.8h-.8zM292.7 293.7h.8v.8h-.8zM335.9 205h.8v.8h-.8zM327.4 291.3h.8v.8h-.8zM252 326.7h.8v.8h-.8zM246.8 305.8h.8v.8h-.8zM336.1 205.2h.8v.8h-.8zM304.9 299.6h.8v.8h-.8zM261.4 262.7h.8v.8h-.8zM403.8 242.6h.8v.8h-.8zM363.5 256.2h.8v.8h-.8zM243.5 331.5h.8v.8h-.8zM264.2 262.3h.8v.8h-.8zM308.2 237.9h.8v.8h-.8zM368.5 251.7h.8v.8h-.8zM403.8 238.1h.8v.8h-.8zM242.1 331.4h.8v.8h-.8zM241.7 326h.8v.8h-.8zM370 251.6h.8v.8h-.8zM251.6 327.1h.8v.8h-.8zM280.9 302.5h.8v.8h-.8zM300.5 242.4h.8v.8h-.8zM327.1 215h.8v.8h-.8zM338.2 278.4h.8v.8h-.8zM324.9 293.8h.8v.8h-.8zM281.6 297.2h.8v.8h-.8zM255.6 326.3h.8v.8h-.8zM346.3 267h.8v.8h-.8zM336.2 275h.8v.8h-.8zM312.7 233.5h.8v.8h-.8zM269.8 259.8h.8v.8h-.8zM343.4 194.7h.8v.8h-.8zM314.1 299.4h.8v.8h-.8zM349.8 260.8h.8v.8h-.8zM283.4 301.5h.8v.8h-.8zM303.1 242h.8v.8h-.8zM291.3 294.4h.8v.8h-.8zM246.2 323.8h.8v.8h-.8zM236 329.9h.8v.8h-.8zM342.8 266.9h.8v.8h-.8zM277.9 302.2h.8v.8h-.8zM255.3 267.3h.8v.8h-.8zM263.6 262.3h.8v.8h-.8zM332.4 284.9h.8v.8h-.8zM300.9 249.1h.8v.8h-.8zM329.1 287.8h.8v.8h-.8zM293.1 248.8h.8v.8h-.8zM331.5 287.1h.8v.8h-.8zM311.6 237.3h.8v.8h-.8zM254.8 327.1h.8v.8h-.8zM369 247.8h.8v.8h-.8zM300 297.3h.8v.8h-.8zM235.8 332.5h.8v.8h-.8zM288 247.8h.8v.8h-.8zM241 317.1h.8v.8h-.8zM240.1 321.9h.8v.8h-.8zM331.6 205h.8v.8h-.8zM339.8 202.7h.8v.8h-.8zM340 269h.8v.8h-.8zM320.7 227.9h.8v.8h-.8zM253.3 275.2h.8v.8h-.8zM368 255.7h.8v.8h-.8zM292.2 297.4h.8v.8h-.8zM405.7 239.7h.8v.8h-.8zM359 257.1h.8v.8h-.8zM399 243.3h.8v.8h-.8zM340.3 196.4h.8v.8h-.8zM349.7 261.3h.8v.8h-.8zM245 312.2h.8v.8h-.8zM246.9 306.6h.8v.8h-.8zM307.2 301.1h.8v.8h-.8zM397.9 246.2h.8v.8h-.8zM312.4 300.3h.8v.8h-.8zM275.2 256.3h.8v.8h-.8zM362.2 257h.8v.8h-.8zM240 320.8h.8v.8h-.8zM251.4 291h.8v.8h-.8zM317.7 229.8h.8v.8h-.8zM379.3 246.6h.8v.8h-.8zM250.7 321.9h.8v.8h-.8zM312.2 238.9h.8v.8h-.8zM374.7 247.1h.8v.8h-.8zM275.5 260.3h.8v.8h-.8zM383.4 250.3h.8v.8h-.8zM256.5 318.5h.8v.8h-.8zM360.8 255.5h.8v.8h-.8zM316.2 296.6h.8v.8h-.8zM404.6 243h.8v.8h-.8zM237.5 323.4h.8v.8h-.8zM305.8 241.4h.8v.8h-.8zM299.5 299.6h.8v.8h-.8zM362.2 254.7h.8v.8h-.8zM370.6 254.9h.8v.8h-.8zM283.6 253.4h.8v.8h-.8zM244.9 317.2h.8v.8h-.8zM304.1 241.3h.8v.8h-.8zM370.3 252.3h.8v.8h-.8zM388.6 243.4h.8v.8h-.8z'/>
<polygon points='228,333.73 228.32,333.21 228.64,332.7 228.96,332.2 229.28,331.71 229.59,331.24 229.91,330.77 230.23,330.32 230.55,329.89 230.87,329.46 231.19,329.03 231.51,328.6 231.82,328.17 232.14,327.74 232.46,327.33 232.78,326.91 233.1,326.51 233.42,326.11 233.74,325.72 234.06,325.35 234.38,324.99 234.69,324.64 235.01,324.31 235.33,323.99 235.65,323.69 235.97,323.41 236.29,323.15 236.61,322.92 236.93,322.71 237.24,322.42 237.56,322.06 237.88,321.71 238.2,321.39 238.52,321.08 238.84,320.8 239.16,320.54 239.47,320.3 239.79,320.08 240.11,319.87 240.43,319.67 240.75,319.49 241.07,319.31 241.39,319.14 241.71,318.97 242.03,318.8 242.34,318.64 242.66,318.47 242.98,318.3 243.3,318.13 243.62,317.95 243.94,317.77 244.26,317.58 244.57,317.4 244.89,317.22 245.21,317.04 245.53,316.85 245.85,316.67 246.17,316.48 246.49,316.29 246.81,316.09 247.12,315.88 247.44,315.66 247.76,315.44 248.08,315.22 248.4,314.99 248.72,314.75 249.04,314.5 249.36,314.25 249.68,314 249.99,313.74 250.31,313.47 250.63,313.21 250.95,312.95 251.27,312.68 251.59,312.42 251.91,312.15 252.22,311.88 252.54,311.61 252.86,311.33 253.18,311.04 253.5,310.75 253.82,310.43 254.14,309.38 254.46,308.24 254.78,307.03 255.09,305.77 255.41,304.5 255.73,303.24 256.05,302.02 256.37,300.86 256.69,299.67 257.01,298.42 257.32,297.13 257.64,295.82 257.96,294.51 258.28,293.23 258.6,291.99 258.92,290.83 259.24,289.75 259.56,288.77 259.88,287.78 260.19,286.81 260.51,285.85 260.83,284.92 261.15,284.03 261.47,283.19 261.79,282.42 262.11,281.73 262.43,281.12 262.74,280.61 263.06,280.2 263.38,279.83 263.7,279.47 264.02,278.71 264.34,277.94 264.66,277.25 264.98,276.64 265.29,276.14 265.61,275.74 265.93,275.37 266.25,275.03 266.57,274.7 266.89,274.39 267.21,274.09 267.52,273.81 267.84,273.55 268.16,273.31 268.48,273.08 268.8,272.86 269.12,272.67 269.44,272.48 269.76,272.32 270.07,272.17 270.39,272.03 270.71,271.91 271.03,271.8 271.35,271.71 271.67,271.63 271.99,271.56 272.31,271.49 272.62,271.42 272.94,271.36 273.26,271.3 273.58,271.25 273.9,271.2 274.22,271.15 274.54,271.11 274.86,271.07 275.18,271.03 275.49,270.99 275.81,270.96 276.13,270.93 276.45,270.9 276.77,270.87 277.09,270.84 277.41,270.81 277.73,270.78 278.04,270.75 278.36,270.72 278.68,270.7 279,270.67 279.32,270.64 279.64,270.62 279.96,270.59 280.27,270.57 280.59,270.55 280.91,270.53 281.23,270.5 281.55,270.48 281.87,270.46 282.19,270.44 282.51,270.41 282.82,270.39 283.14,270.36 283.46,270.34 283.78,270.31 284.1,270.28 284.42,270.25 284.74,270.21 285.06,270.18 285.38,270.14 285.69,270.1 286.01,270.05 286.33,270.01 286.65,269.96 286.97,269.9 287.29,269.85 287.61,269.79 287.93,269.73 288.24,269.66 288.56,269.6 288.88,269.53 289.2,269.46 289.52,269.39 289.84,269.32 290.16,269.24 290.48,269.16 290.79,269.09 291.11,269.01 291.43,268.93 291.75,268.84 292.07,268.76 292.39,268.68 292.71,268.6 293.02,268.51 293.34,268.43 293.66,268.34 293.98,268.26 294.3,268.18 294.62,268.09 294.94,268.01 295.26,267.93 295.57,267.85 295.89,267.77 296.21,267.69 296.53,267.61 296.85,267.53 297.17,267.45 297.49,267.37 297.81,267.29 298.12,267.21 298.44,267.13 298.76,267.05 299.08,266.96 299.4,266.88 299.72,266.8 300.04,266.72 300.36,266.63 300.68,266.55 300.99,266.46 301.31,266.37 301.63,266.28 301.95,266.19 302.27,266.1 302.59,266 302.91,265.91 303.23,265.81 303.54,265.71 303.86,265.61 304.18,265.5 304.5,265.39 304.82,265.29 305.14,265.17 305.46,265.06 305.77,264.93 306.09,264.8 306.41,264.67 306.73,264.52 307.05,264.37 307.37,264.21 307.69,264.04 308.01,263.87 308.32,263.69 308.64,263.51 308.96,263.32 309.28,263.13 309.6,262.93 309.92,262.73 310.24,262.53 310.56,262.32 310.88,262.11 311.19,261.9 311.51,261.68 311.83,261.46 312.15,261.24 312.47,261.01 312.79,260.77 313.11,260.52 313.43,260.27 313.74,260 314.06,259.72 314.38,259.44 314.7,259.14 315.02,258.84 315.34,258.52 315.66,258.2 315.98,257.86 316.29,257.51 316.61,257.15 316.93,256.79 317.25,256.41 317.57,256.02 317.89,255.62 318.21,255.2 318.52,254.78 318.84,254.21 319.16,253.44 319.48,252.68 319.8,251.91 320.12,251.15 320.44,250.4 320.76,249.67 321.07,248.96 321.39,248.29 321.71,247.66 322.03,247.06 322.35,246.52 322.67,246.01 322.99,245.43 323.31,244.71 323.62,244 323.94,243.33 324.26,242.69 324.58,242.1 324.9,241.56 325.22,241.05 325.54,240.54 325.86,240.04 326.18,239.54 326.49,239.04 326.81,238.55 327.13,238.06 327.45,237.58 327.77,237.1 328.09,236.63 328.41,236.16 328.73,235.7 329.04,235.24 329.36,234.79 329.68,234.34 330,233.9 330.32,233.46 330.64,233.04 330.96,232.61 331.27,232.19 331.59,231.78 331.91,231.38 332.23,230.98 332.55,230.59 332.87,230.2 333.19,229.82 333.51,229.45 333.82,229.09 334.14,228.73 334.46,228.38 334.78,228.04 335.1,227.71 335.42,227.38 335.74,227.06 336.06,226.75 336.38,226.45 336.69,226.15 337.01,225.87 337.33,225.59 337.65,225.32 337.97,225.06 338.29,224.81 338.61,224.57 338.93,224.33 339.24,224.1 339.56,223.87 339.88,223.65 340.2,223.42 340.52,223.2 340.84,222.99 341.16,222.77 341.48,222.56 341.79,222.35 342.11,222.14 342.43,221.94 342.75,221.74 343.07,221.54 343.39,221.35 343.71,221.15 344.02,220.96 344.34,220.77 344.66,220.59 344.98,220.4 345.3,220.22 345.62,220.04 345.94,219.87 346.26,219.69 346.57,219.52 346.89,219.35 347.21,219.18 347.53,219.02 347.85,218.85 348.17,218.69 348.49,218.53 348.81,218.37 349.12,218.21 349.44,218.06 349.76,217.91 350.08,217.76 350.4,217.61 350.72,217.46 351.04,217.31 351.36,217.17 351.68,217.02 351.99,216.88 352.31,216.74 352.63,216.6 352.95,216.46 353.27,216.33 353.59,216.19 353.91,216.06 354.23,215.92 354.54,215.79 354.86,215.66 355.18,215.53 355.5,215.4 355.82,215.27 356.14,215.15 356.46,215.02 356.77,214.89 357.09,214.77 357.41,214.65 357.73,214.52 358.05,214.4 358.37,214.28 358.69,214.16 359.01,214.04 359.33,213.92 359.64,213.8 359.96,213.68 360.28,213.56 360.6,213.44 360.92,213.32 361.24,213.21 361.56,213.09 361.88,212.97 362.19,212.85 362.51,212.73 362.83,212.61 363.15,212.5 363.47,212.38 363.79,212.26 364.11,212.14 364.43,212.02 364.74,211.9 365.06,211.79 365.38,211.67 365.7,211.55 366.02,211.43 366.34,211.32 366.66,211.2 366.98,211.08 367.29,210.97 367.61,210.85 367.93,210.74 368.25,210.62 368.57,210.51 368.89,210.4 369.21,210.29 369.52,210.17 369.84,210.06 370.16,209.95 370.48,209.85 370.8,209.74 371.12,209.63 371.44,209.52 371.76,209.42 372.08,209.31 372.39,209.21 372.71,209.11 373.03,209.01 373.35,208.91 373.67,208.81 373.99,208.71 374.31,208.62 374.62,208.52 374.94,208.43 375.26,208.34 375.58,208.25 375.9,208.16 376.22,208.08 376.54,207.99 376.86,207.91 377.18,207.83 377.49,207.75 377.81,207.67 378.13,207.59 378.45,207.52 378.77,207.44 379.09,207.37 379.41,207.3 379.73,207.24 380.04,207.17 380.36,207.11 380.68,207.05 381,206.99 381.32,206.93 381.64,206.88 381.96,206.83 382.27,206.78 382.59,206.73 382.91,206.69 383.23,206.65 383.55,206.61 383.87,206.57 384.19,206.54 384.51,206.5 384.83,206.47 385.14,206.43 385.46,206.4 385.78,206.37 386.1,206.34 386.42,206.3 386.74,206.27 387.06,206.24 387.38,206.21 387.69,206.17 388.01,206.14 388.33,206.11 388.65,206.08 388.97,206.05 389.29,206.02 389.61,205.99 389.93,205.96 390.24,205.93 390.56,205.9 390.88,205.87 391.2,205.85 391.52,205.82 391.84,205.79 392.16,205.76 392.48,205.74 392.79,205.71 393.11,205.69 393.43,205.66 393.75,205.64 394.07,205.61 394.39,205.59 394.71,205.56 395.02,205.54 395.34,205.52 395.66,205.5 395.98,205.48 396.3,205.46 396.62,205.44 396.94,205.42 397.26,205.4 397.58,205.38 397.89,205.36 398.21,205.34 398.53,205.33 398.85,205.31 399.17,205.3 399.49,205.28 399.81,205.27 400.12,205.26 400.44,205.24 400.76,205.23 401.08,205.22 401.4,205.21 401.72,205.2 402.04,205.19 402.36,205.18 402.68,205.18 402.99,205.17 403.31,205.16 403.63,205.16 403.95,205.16 404.27,205.15 404.59,205.15 404.91,205.15 405.23,205.15 405.54,205.15 405.86,205.15 406.18,205.15 406.5,205.15 406.5,226.48 406.18,226.48 405.86,226.49 405.54,226.49 405.23,226.5 404.91,226.51 404.59,226.52 404.27,226.52 403.95,226.53 403.63,226.54 403.31,226.55 402.99,226.57 402.68,226.58 402.36,226.59 402.04,226.61 401.72,226.62 401.4,226.64 401.08,226.65 400.76,226.67 400.44,226.69 400.12,226.71 399.81,226.72 399.49,226.74 399.17,226.76 398.85,226.79 398.53,226.81 398.21,226.83 397.89,226.85 397.58,226.88 397.26,226.9 396.94,226.92 396.62,226.95 396.3,226.98 395.98,227 395.66,227.03 395.34,227.06 395.02,227.08 394.71,227.11 394.39,227.14 394.07,227.17 393.75,227.2 393.43,227.23 393.11,227.26 392.79,227.29 392.48,227.32 392.16,227.35 391.84,227.39 391.52,227.42 391.2,227.45 390.88,227.49 390.56,227.52 390.24,227.55 389.93,227.59 389.61,227.62 389.29,227.66 388.97,227.69 388.65,227.73 388.33,227.77 388.01,227.8 387.69,227.84 387.38,227.88 387.06,227.91 386.74,227.95 386.42,227.99 386.1,228.02 385.78,228.06 385.46,228.1 385.14,228.14 384.83,228.18 384.51,228.22 384.19,228.26 383.87,228.29 383.55,228.34 383.23,228.38 382.91,228.43 382.59,228.48 382.27,228.53 381.96,228.58 381.64,228.64 381.32,228.7 381,228.76 380.68,228.82 380.36,228.88 380.04,228.95 379.73,229.02 379.41,229.09 379.09,229.17 378.77,229.24 378.45,229.32 378.13,229.4 377.81,229.48 377.49,229.56 377.18,229.64 376.86,229.73 376.54,229.82 376.22,229.91 375.9,230 375.58,230.09 375.26,230.18 374.94,230.28 374.62,230.38 374.31,230.47 373.99,230.57 373.67,230.67 373.35,230.78 373.03,230.88 372.71,230.98 372.39,231.09 372.08,231.2 371.76,231.3 371.44,231.41 371.12,231.52 370.8,231.63 370.48,231.75 370.16,231.86 369.84,231.97 369.52,232.09 369.21,232.2 368.89,232.32 368.57,232.43 368.25,232.55 367.93,232.67 367.61,232.78 367.29,232.9 366.98,233.02 366.66,233.14 366.34,233.26 366.02,233.38 365.7,233.5 365.38,233.62 365.06,233.74 364.74,233.86 364.43,233.98 364.11,234.11 363.79,234.23 363.47,234.35 363.15,234.47 362.83,234.59 362.51,234.71 362.19,234.83 361.88,234.95 361.56,235.07 361.24,235.19 360.92,235.31 360.6,235.44 360.28,235.56 359.96,235.68 359.64,235.8 359.33,235.92 359.01,236.04 358.69,236.17 358.37,236.29 358.05,236.41 357.73,236.54 357.41,236.66 357.09,236.79 356.77,236.92 356.46,237.04 356.14,237.17 355.82,237.3 355.5,237.43 355.18,237.56 354.86,237.69 354.54,237.82 354.23,237.96 353.91,238.09 353.59,238.23 353.27,238.37 352.95,238.5 352.63,238.64 352.31,238.78 351.99,238.93 351.68,239.07 351.36,239.21 351.04,239.36 350.72,239.51 350.4,239.66 350.08,239.81 349.76,239.96 349.44,240.11 349.12,240.27 348.81,240.43 348.49,240.59 348.17,240.75 347.85,240.91 347.53,241.08 347.21,241.24 346.89,241.41 346.57,241.58 346.26,241.76 345.94,241.93 345.62,242.11 345.3,242.29 344.98,242.47 344.66,242.65 344.34,242.84 344.02,243.03 343.71,243.22 343.39,243.41 343.07,243.61 342.75,243.81 342.43,244.01 342.11,244.21 341.79,244.42 341.48,244.62 341.16,244.84 340.84,245.05 340.52,245.27 340.2,245.49 339.88,245.71 339.56,245.94 339.24,246.17 338.93,246.4 338.61,246.63 338.29,246.87 337.97,247.13 337.65,247.39 337.33,247.66 337.01,247.93 336.69,248.22 336.38,248.51 336.06,248.82 335.74,249.13 335.42,249.45 335.1,249.77 334.78,250.11 334.46,250.45 334.14,250.8 333.82,251.15 333.51,251.52 333.19,251.89 332.87,252.27 332.55,252.65 332.23,253.04 331.91,253.44 331.59,253.85 331.27,254.26 330.96,254.68 330.64,255.1 330.32,255.53 330,255.97 329.68,256.41 329.36,256.85 329.04,257.31 328.73,257.76 328.41,258.23 328.09,258.69 327.77,259.17 327.45,259.64 327.13,260.13 326.81,260.61 326.49,261.1 326.18,261.6 325.86,262.1 325.54,262.6 325.22,263.28 324.9,264.05 324.58,264.81 324.26,265.58 323.94,266.34 323.62,267.09 323.31,267.82 322.99,268.52 322.67,269.19 322.35,269.83 322.03,270.42 321.71,270.96 321.39,271.44 321.07,272.05 320.76,272.78 320.44,273.49 320.12,274.16 319.8,274.79 319.48,275.38 319.16,275.92 318.84,276.41 318.52,276.84 318.21,277.27 317.89,277.68 317.57,278.08 317.25,278.47 316.93,278.85 316.61,279.22 316.29,279.58 315.98,279.92 315.66,280.26 315.34,280.59 315.02,280.9 314.7,281.21 314.38,281.5 314.06,281.79 313.74,282.07 313.43,282.33 313.11,282.59 312.79,282.84 312.47,283.08 312.15,283.31 311.83,283.53 311.51,283.74 311.19,283.95 310.88,284.15 310.56,284.35 310.24,284.54 309.92,284.73 309.6,284.91 309.28,285.09 308.96,285.26 308.64,285.42 308.32,285.57 308.01,285.72 307.69,285.86 307.37,285.99 307.05,286.11 306.73,286.23 306.41,286.33 306.09,286.43 305.77,286.52 305.46,286.59 305.14,286.66 304.82,286.73 304.5,286.79 304.18,286.84 303.86,286.9 303.54,286.95 303.23,286.99 302.91,287.04 302.59,287.08 302.27,287.11 301.95,287.15 301.63,287.18 301.31,287.21 300.99,287.24 300.68,287.27 300.36,287.29 300.04,287.32 299.72,287.34 299.4,287.36 299.08,287.38 298.76,287.4 298.44,287.42 298.12,287.43 297.81,287.45 297.49,287.47 297.17,287.49 296.85,287.5 296.53,287.52 296.21,287.54 295.89,287.56 295.57,287.58 295.26,287.6 294.94,287.62 294.62,287.64 294.3,287.67 293.98,287.7 293.66,287.72 293.34,287.75 293.02,287.78 292.71,287.81 292.39,287.84 292.07,287.87 291.75,287.9 291.43,287.94 291.11,287.97 290.79,288 290.48,288.03 290.16,288.07 289.84,288.1 289.52,288.14 289.2,288.17 288.88,288.2 288.56,288.24 288.24,288.27 287.93,288.3 287.61,288.33 287.29,288.37 286.97,288.4 286.65,288.43 286.33,288.46 286.01,288.49 285.69,288.52 285.38,288.55 285.06,288.58 284.74,288.61 284.42,288.64 284.1,288.67 283.78,288.7 283.46,288.73 283.14,288.76 282.82,288.79 282.51,288.83 282.19,288.86 281.87,288.9 281.55,288.94 281.23,288.98 280.91,289.02 280.59,289.06 280.27,289.1 279.96,289.15 279.64,289.2 279.32,289.25 279,289.3 278.68,289.35 278.36,289.41 278.04,289.47 277.73,289.53 277.41,289.59 277.09,289.64 276.77,289.71 276.45,289.77 276.13,289.83 275.81,289.89 275.49,289.96 275.18,290.03 274.86,290.1 274.54,290.17 274.22,290.25 273.9,290.33 273.58,290.41 273.26,290.49 272.94,290.58 272.62,290.68 272.31,290.77 271.99,290.87 271.67,290.98 271.35,291.08 271.03,291.2 270.71,291.33 270.39,291.48 270.07,291.64 269.76,291.81 269.44,291.99 269.12,292.19 268.8,292.41 268.48,292.64 268.16,292.88 267.84,293.14 267.52,293.41 267.21,293.69 266.89,293.99 266.57,294.31 266.25,294.68 265.93,295.56 265.61,296.47 265.29,297.41 264.98,298.36 264.66,299.32 264.34,300.28 264.02,301.33 263.7,302.47 263.38,303.67 263.06,304.92 262.74,306.19 262.43,307.47 262.11,308.72 261.79,309.94 261.47,311.09 261.15,312.21 260.83,313.39 260.51,314.61 260.19,315.84 259.88,317.05 259.56,318.21 259.24,319.31 258.92,320.31 258.6,321.18 258.28,321.91 257.96,322.46 257.64,322.84 257.32,323.17 257.01,323.48 256.69,323.76 256.37,324.18 256.05,325.03 255.73,325.73 255.41,326.26 255.09,326.61 254.78,326.92 254.46,327.21 254.14,327.46 253.82,327.7 253.5,327.91 253.18,328.1 252.86,328.26 252.54,328.39 252.22,328.51 251.91,328.6 251.59,328.68 251.27,328.75 250.95,328.8 250.63,328.84 250.31,328.88 249.99,328.92 249.68,328.94 249.36,328.96 249.04,328.97 248.72,328.97 248.4,328.97 248.08,328.96 247.76,328.95 247.44,328.94 247.12,328.93 246.81,328.93 246.49,328.92 246.17,328.92 245.85,328.93 245.53,328.94 245.21,328.95 244.89,328.97 244.57,328.98 244.26,329.01 243.94,329.04 243.62,329.07 243.3,329.09 242.98,329.12 242.66,329.14 242.34,329.16 242.03,329.18 241.71,329.2 241.39,329.23 241.07,329.26 240.75,329.29 240.43,329.34 240.11,329.39 239.79,329.46 239.47,329.53 239.16,329.63 238.84,329.9 238.52,330.2 238.2,330.5 237.88,330.81 237.56,331.12 237.24,331.44 236.93,331.77 236.61,332.09 236.29,332.42 235.97,332.74 235.65,333.07 235.33,333.4 235.01,333.74 234.69,334.09 234.38,334.45 234.06,334.83 233.74,335.22 233.42,335.61 233.1,336.02 232.78,336.43 232.46,336.86 232.14,337.29 231.82,337.73 231.51,338.18 231.19,338.4 230.87,338.4 230.55,338.4 230.23,338.4 229.91,338.4 229.59,338.4 229.28,338.4 228.96,338.4 228.64,338.4 228.32,338.4 228,338.4' fill='#b464b4' fill-opacity='0.56' stroke='#dd88cc' stroke-width='0.6'/>
<polyline points='228,338.4 228.64,335.85 229.28,333.5 229.91,331.33 230.55,329.23 231.19,327.21 231.82,325.29 232.46,323.47 233.1,321.77 233.74,320.2 234.38,318.72 235.01,317.32 235.65,315.98 236.29,314.7 236.93,313.47 237.56,312.29 238.2,311.15 238.84,310.05 239.47,308.98 240.11,307.94 240.75,306.94 241.39,305.96 242.03,305.02 242.66,304.1 243.3,303.21 243.94,302.33 244.57,301.47 245.21,300.63 245.85,299.8 246.49,298.97 247.12,298.15 247.76,297.33 248.4,296.52 249.04,295.73 249.68,294.94 250.31,294.17 250.95,293.41 251.59,292.68 252.22,291.96 252.86,291.28 253.5,290.61 254.14,289.98 254.78,289.36 255.41,288.77 256.05,288.18 256.69,287.62 257.32,287.06 257.96,286.52 258.6,285.99 259.24,285.48 259.88,284.97 260.51,284.48 261.15,284 261.79,283.52 262.43,283.05 263.06,282.6 263.7,282.15 264.34,281.72 264.98,281.3 265.61,280.89 266.25,280.5 266.89,280.12 267.52,279.76 268.16,279.4 268.8,279.05 269.44,278.71 270.07,278.37 270.71,278.04 271.35,277.72 271.99,277.4 272.62,277.08 273.26,276.77 273.9,276.46 274.54,276.15 275.18,275.85 275.81,275.55 276.45,275.25 277.09,274.95 277.73,274.65 278.36,274.35 279,274.04 279.64,273.74 280.27,273.45 280.91,273.16 281.55,272.87 282.19,272.58 282.82,272.3 283.46,272.02 284.1,271.74 284.74,271.46 285.38,271.19 286.01,270.91 286.65,270.64 287.29,270.36 287.93,270.08 288.56,269.8 289.2,269.53 289.84,269.24 290.48,268.96 291.11,268.67 291.75,268.38 292.39,268.09 293.02,267.79 293.66,267.49 294.3,267.18 294.94,266.86 295.57,266.55 296.21,266.22 296.85,265.89 297.49,265.56 298.12,265.23 298.76,264.89 299.4,264.55 300.04,264.21 300.68,263.87 301.31,263.53 301.95,263.19 302.59,262.85 303.23,262.51 303.86,262.17 304.5,261.83 305.14,261.5 305.77,261.17 306.41,260.84 307.05,260.51 307.69,260.17 308.32,259.83 308.96,259.5 309.6,259.16 310.24,258.82 310.88,258.48 311.51,258.15 312.15,257.83 312.79,257.51 313.43,257.19 314.06,256.88 314.7,256.59 315.34,256.3 315.98,256.02 316.61,255.76 317.25,255.49 317.89,255.23 318.52,254.98 319.16,254.72 319.8,254.47 320.44,254.23 321.07,253.99 321.71,253.75 322.35,253.51 322.99,253.28 323.62,253.05 324.26,252.82 324.9,252.6 325.54,252.37 326.18,252.15 326.81,251.93 327.45,251.72 328.09,251.5 328.73,251.29 329.36,251.08 330,250.86 330.64,250.66 331.27,250.45 331.91,250.24 332.55,250.03 333.19,249.83 333.82,249.62 334.46,249.41 335.1,249.21 335.74,249 336.38,248.8 337.01,248.59 337.65,248.39 338.29,248.18 338.93,247.97 339.56,247.77 340.2,247.56 340.84,247.35 341.48,247.14 342.11,246.93 342.75,246.72 343.39,246.51 344.02,246.31 344.66,246.1 345.3,245.89 345.94,245.68 346.57,245.48 347.21,245.27 347.85,245.07 348.49,244.87 349.12,244.66 349.76,244.46 350.4,244.27 351.04,244.07 351.68,243.87 352.31,243.68 352.95,243.49 353.59,243.3 354.23,243.11 354.86,242.92 355.5,242.74 356.14,242.56 356.77,242.38 357.41,242.21 358.05,242.04 358.69,241.87 359.33,241.7 359.96,241.54 360.6,241.38 361.24,241.22 361.88,241.07 362.51,240.92 363.15,240.77 363.79,240.62 364.43,240.48 365.06,240.33 365.7,240.19 366.34,240.05 366.98,239.91 367.61,239.77 368.25,239.64 368.89,239.5 369.52,239.37 370.16,239.24 370.8,239.11 371.44,238.98 372.08,238.85 372.71,238.72 373.35,238.6 373.99,238.47 374.62,238.35 375.26,238.23 375.9,238.11 376.54,237.99 377.18,237.87 377.81,237.75 378.45,237.64 379.09,237.52 379.73,237.41 380.36,237.3 381,237.18 381.64,237.07 382.27,236.96 382.91,236.85 383.55,236.74 384.19,236.63 384.83,236.53 385.46,236.42 386.1,236.31 386.74,236.21 387.38,236.1 388.01,236 388.65,235.89 389.29,235.79 389.93,235.69 390.56,235.59 391.2,235.49 391.84,235.39 392.48,235.29 393.11,235.19 393.75,235.1 394.39,235 395.02,234.9 395.66,234.81 396.3,234.72 396.94,234.62 397.58,234.53 398.21,234.44 398.85,234.35 399.49,234.26 400.12,234.17 400.76,234.09 401.4,234 402.04,233.91 402.68,233.83 403.31,233.75 403.95,233.66 404.59,233.58 405.23,233.5 405.86,233.42 406.5,233.35' fill='none' stroke='#e6262e' stroke-width='1.2' stroke-linejoin='round'/>
<polyline points='228,338.4 228.64,337.8 229.28,337.2 229.91,336.6 230.55,336 231.19,335.4 231.82,334.8 232.46,334.21 233.1,333.61 233.74,333.02 234.38,332.43 235.01,331.84 235.65,331.25 236.29,330.66 236.93,330.07 237.56,329.49 238.2,328.9 238.84,328.32 239.47,327.74 240.11,327.16 240.75,326.59 241.39,326.02 242.03,325.46 242.66,324.9 243.3,324.35 243.94,323.8 244.57,323.25 245.21,322.7 245.85,322.16 246.49,321.61 247.12,321.05 247.76,320.5 248.4,319.94 249.04,319.38 249.68,318.81 250.31,318.24 250.95,317.66 251.59,317.07 252.22,316.47 252.86,315.86 253.5,315.24 254.14,314.61 254.78,313.97 255.41,313.3 256.05,312.61 256.69,311.91 257.32,311.2 257.96,310.48 258.6,309.74 259.24,309 259.88,308.25 260.51,307.5 261.15,306.75 261.79,306 262.43,305.25 263.06,304.5 263.7,303.76 264.34,303.03 264.98,302.31 265.61,301.6 266.25,300.91 266.89,300.23 267.52,299.57 268.16,298.93 268.8,298.31 269.44,297.7 270.07,297.1 270.71,296.5 271.35,295.92 271.99,295.34 272.62,294.77 273.26,294.2 273.9,293.65 274.54,293.09 275.18,292.55 275.81,292 276.45,291.46 277.09,290.93 277.73,290.39 278.36,289.86 279,289.33 279.64,288.8 280.27,288.27 280.91,287.74 281.55,287.22 282.19,286.69 282.82,286.15 283.46,285.62 284.1,285.08 284.74,284.54 285.38,284 286.01,283.46 286.65,282.92 287.29,282.38 287.93,281.84 288.56,281.3 289.2,280.76 289.84,280.22 290.48,279.69 291.11,279.15 291.75,278.62 292.39,278.08 293.02,277.55 293.66,277.02 294.3,276.48 294.94,275.95 295.57,275.42 296.21,274.88 296.85,274.35 297.49,273.81 298.12,273.28 298.76,272.74 299.4,272.2 300.04,271.67 300.68,271.14 301.31,270.6 301.95,270.07 302.59,269.54 303.23,269.01 303.86,268.49 304.5,267.96 305.14,267.43 305.77,266.9 306.41,266.38 307.05,265.85 307.69,265.32 308.32,264.79 308.96,264.26 309.6,263.72 310.24,263.19 310.88,262.65 311.51,262.11 312.15,261.56 312.79,261.02 313.43,260.47 314.06,259.91 314.7,259.36 315.34,258.8 315.98,258.23 316.61,257.65 317.25,257.06 317.89,256.46 318.52,255.84 319.16,255.21 319.8,254.57 320.44,253.92 321.07,253.26 321.71,252.6 322.35,251.93 322.99,251.25 323.62,250.58 324.26,249.9 324.9,249.22 325.54,248.54 326.18,247.86 326.81,247.18 327.45,246.51 328.09,245.84 328.73,245.18 329.36,244.53 330,243.89 330.64,243.26 331.27,242.64 331.91,242.03 332.55,241.43 333.19,240.85 333.82,240.29 334.46,239.74 335.1,239.21 335.74,238.7 336.38,238.22 337.01,237.75 337.65,237.31 338.29,236.89 338.93,236.5 339.56,236.12 340.2,235.75 340.84,235.38 341.48,235.02 342.11,234.67 342.75,234.33 343.39,233.99 344.02,233.66 344.66,233.34 345.3,233.02 345.94,232.71 346.57,232.41 347.21,232.11 347.85,231.82 348.49,231.53 349.12,231.24 349.76,230.96 350.4,230.69 351.04,230.42 351.68,230.15 352.31,229.89 352.95,229.63 353.59,229.38 354.23,229.13 354.86,228.88 355.5,228.64 356.14,228.39 356.77,228.15 357.41,227.92 358.05,227.68 358.69,227.45 359.33,227.22 359.96,226.98 360.6,226.76 361.24,226.53 361.88,226.3 362.51,226.07 363.15,225.84 363.79,225.61 364.43,225.38 365.06,225.15 365.7,224.93 366.34,224.7 366.98,224.47 367.61,224.25 368.25,224.03 368.89,223.81 369.52,223.59 370.16,223.37 370.8,223.16 371.44,222.94 372.08,222.74 372.71,222.53 373.35,222.33 373.99,222.14 374.62,221.94 375.26,221.75 375.9,221.57 376.54,221.39 377.18,221.22 377.81,221.05 378.45,220.89 379.09,220.73 379.73,220.58 380.36,220.44 381,220.3 381.64,220.17 382.27,220.04 382.91,219.93 383.55,219.82 384.19,219.72 384.83,219.62 385.46,219.52 386.1,219.43 386.74,219.33 387.38,219.23 388.01,219.14 388.65,219.05 389.29,218.95 389.93,218.86 390.56,218.77 391.2,218.68 391.84,218.6 392.48,218.51 393.11,218.43 393.75,218.35 394.39,218.27 395.02,218.19 395.66,218.12 396.3,218.05 396.94,217.98 397.58,217.92 398.21,217.86 398.85,217.8 399.49,217.74 400.12,217.69 400.76,217.65 401.4,217.6 402.04,217.56 402.68,217.53 403.31,217.5 403.95,217.47 404.59,217.45 405.23,217.43 405.86,217.42 406.5,217.41' fill='none' stroke='#1414f0' stroke-width='1.2' stroke-linejoin='round'/>
<polyline points='228,338.4 228.64,337.36 229.28,336.34 229.91,335.36 230.55,334.41 231.19,333.5 231.82,332.63 232.46,331.81 233.1,331.04 233.74,330.3 234.38,329.56 235.01,328.83 235.65,328.12 236.29,327.44 236.93,326.81 237.56,326.23 238.2,325.71 238.84,325.27 239.47,324.92 240.11,324.63 240.75,324.39 241.39,324.18 242.03,323.99 242.66,323.8 243.3,323.61 243.94,323.4 244.57,323.19 245.21,322.99 245.85,322.8 246.49,322.6 247.12,322.41 247.76,322.2 248.4,321.98 249.04,321.73 249.68,321.47 250.31,321.18 250.95,320.87 251.59,320.55 252.22,320.2 252.86,319.79 253.5,319.33 254.14,318.78 254.78,318.15 255.41,317.39 256.05,316.07 256.69,314.15 257.32,311.85 257.96,309.38 258.6,306.95 259.24,304.65 259.88,302.15 260.51,299.58 261.15,297.11 261.79,294.91 262.43,292.98 263.06,291.08 263.7,289.29 264.34,287.71 264.98,286.43 265.61,285.54 266.25,284.83 266.89,284.19 267.52,283.61 268.16,283.09 268.8,282.64 269.44,282.24 270.07,281.9 270.71,281.62 271.35,281.4 271.99,281.21 272.62,281.05 273.26,280.9 273.9,280.76 274.54,280.64 275.18,280.53 275.81,280.43 276.45,280.33 277.09,280.24 277.73,280.15 278.36,280.07 279,279.98 279.64,279.91 280.27,279.84 280.91,279.77 281.55,279.71 282.19,279.65 282.82,279.59 283.46,279.53 284.1,279.47 284.74,279.41 285.38,279.34 286.01,279.27 286.65,279.19 287.29,279.11 287.93,279.01 288.56,278.92 289.2,278.81 289.84,278.71 290.48,278.6 291.11,278.49 291.75,278.37 292.39,278.26 293.02,278.15 293.66,278.03 294.3,277.92 294.94,277.82 295.57,277.71 296.21,277.61 296.85,277.52 297.49,277.42 298.12,277.32 298.76,277.22 299.4,277.12 300.04,277.02 300.68,276.91 301.31,276.79 301.95,276.67 302.59,276.54 303.23,276.4 303.86,276.25 304.5,276.09 305.14,275.92 305.77,275.73 306.41,275.5 307.05,275.24 307.69,274.95 308.32,274.63 308.96,274.29 309.6,273.92 310.24,273.54 310.88,273.13 311.51,272.71 312.15,272.27 312.79,271.8 313.43,271.3 314.06,270.76 314.7,270.18 315.34,269.55 315.98,268.89 316.61,268.19 317.25,267.44 317.89,266.65 318.52,265.81 319.16,264.89 319.8,263.76 320.44,262.45 321.07,261.02 321.71,259.51 322.35,257.98 322.99,256.47 323.62,255.03 324.26,253.72 324.9,252.59 325.54,251.57 326.18,250.57 326.81,249.58 327.45,248.61 328.09,247.66 328.73,246.73 329.36,245.82 330,244.93 330.64,244.07 331.27,243.23 331.91,242.41 332.55,241.62 333.19,240.86 333.82,240.12 334.46,239.42 335.1,238.74 335.74,238.09 336.38,237.48 337.01,236.9 337.65,236.35 338.29,235.84 338.93,235.36 339.56,234.9 340.2,234.46 340.84,234.02 341.48,233.59 342.11,233.18 342.75,232.77 343.39,232.38 344.02,231.99 344.66,231.62 345.3,231.26 345.94,230.9 346.57,230.55 347.21,230.21 347.85,229.88 348.49,229.56 349.12,229.24 349.76,228.93 350.4,228.63 351.04,228.34 351.68,228.05 352.31,227.76 352.95,227.48 353.59,227.21 354.23,226.94 354.86,226.68 355.5,226.42 356.14,226.16 356.77,225.91 357.41,225.65 358.05,225.41 358.69,225.16 359.33,224.92 359.96,224.68 360.6,224.44 361.24,224.2 361.88,223.96 362.51,223.72 363.15,223.48 363.79,223.24 364.43,223 365.06,222.76 365.7,222.53 366.34,222.29 366.98,222.05 367.61,221.82 368.25,221.59 368.89,221.36 369.52,221.13 370.16,220.91 370.8,220.69 371.44,220.47 372.08,220.26 372.71,220.05 373.35,219.84 373.99,219.64 374.62,219.45 375.26,219.26 375.9,219.08 376.54,218.9 377.18,218.73 377.81,218.57 378.45,218.42 379.09,218.27 379.73,218.13 380.36,218 381,217.87 381.64,217.76 382.27,217.65 382.91,217.56 383.55,217.47 384.19,217.4 384.83,217.32 385.46,217.25 386.1,217.18 386.74,217.11 387.38,217.04 388.01,216.97 388.65,216.9 389.29,216.84 389.93,216.77 390.56,216.71 391.2,216.65 391.84,216.59 392.48,216.53 393.11,216.47 393.75,216.42 394.39,216.36 395.02,216.31 395.66,216.26 396.3,216.22 396.94,216.17 397.58,216.13 398.21,216.09 398.85,216.05 399.49,216.01 400.12,215.98 400.76,215.95 401.4,215.92 402.04,215.9 402.68,215.88 403.31,215.86 403.95,215.84 404.59,215.83 405.23,215.82 405.86,215.82 406.5,215.82' fill='none' stroke='#000' stroke-width='1.3' stroke-linejoin='round'/>
<rect x='228.0' y='191.3' width='178.5' height='147.1' fill='none' stroke='#999' stroke-width='0.6'/>
<line x1='228' y1='338.4' x2='228' y2='336.8' stroke='#777' stroke-width='0.5'/>
<line x1='228' y1='191.3' x2='228' y2='192.9' stroke='#777' stroke-width='0.5'/>
<text x='228' y='346' font-size='5.3' text-anchor='middle' font-family='Liberation Serif' fill='#000' >0</text>
<line x1='253.5' y1='338.4' x2='253.5' y2='336.8' stroke='#777' stroke-width='0.5'/>
<line x1='253.5' y1='191.3' x2='253.5' y2='192.9' stroke='#777' stroke-width='0.5'/>
<text x='253.5' y='346' font-size='5.3' text-anchor='middle' font-family='Liberation Serif' fill='#000' >1</text>
<line x1='279' y1='338.4' x2='279' y2='336.8' stroke='#777' stroke-width='0.5'/>
<line x1='279' y1='191.3' x2='279' y2='192.9' stroke='#777' stroke-width='0.5'/>
<text x='279' y='346' font-size='5.3' text-anchor='middle' font-family='Liberation Serif' fill='#000' >2</text>
<line x1='304.5' y1='338.4' x2='304.5' y2='336.8' stroke='#777' stroke-width='0.5'/>
<line x1='304.5' y1='191.3' x2='304.5' y2='192.9' stroke='#777' stroke-width='0.5'/>
<text x='304.5' y='346' font-size='5.3' text-anchor='middle' font-family='Liberation Serif' fill='#000' >3</text>
<line x1='330' y1='338.4' x2='330' y2='336.8' stroke='#777' stroke-width='0.5'/>
<line x1='330' y1='191.3' x2='330' y2='192.9' stroke='#777' stroke-width='0.5'/>
<text x='330' y='346' font-size='5.3' text-anchor='middle' font-family='Liberation Serif' fill='#000' >4</text>
<line x1='355.5' y1='338.4' x2='355.5' y2='336.8' stroke='#777' stroke-width='0.5'/>
<line x1='355.5' y1='191.3' x2='355.5' y2='192.9' stroke='#777' stroke-width='0.5'/>
<text x='355.5' y='346' font-size='5.3' text-anchor='middle' font-family='Liberation Serif' fill='#000' >5</text>
<line x1='381' y1='338.4' x2='381' y2='336.8' stroke='#777' stroke-width='0.5'/>
<line x1='381' y1='191.3' x2='381' y2='192.9' stroke='#777' stroke-width='0.5'/>
<text x='381' y='346' font-size='5.3' text-anchor='middle' font-family='Liberation Serif' fill='#000' >6</text>
<line x1='406.5' y1='338.4' x2='406.5' y2='336.8' stroke='#777' stroke-width='0.5'/>
<line x1='406.5' y1='191.3' x2='406.5' y2='192.9' stroke='#777' stroke-width='0.5'/>
<text x='406.5' y='346' font-size='5.3' text-anchor='middle' font-family='Liberation Serif' fill='#000' >7</text>
<line x1='228.0' y1='338.4' x2='229.6' y2='338.4' stroke='#777' stroke-width='0.5'/>
<line x1='406.5' y1='338.4' x2='404.9' y2='338.4' stroke='#777' stroke-width='0.5'/>
<text x='225.5' y='340.2' font-size='5.3' text-anchor='end' font-family='Liberation Serif' fill='#000' >0</text>
<line x1='228.0' y1='313.88' x2='229.6' y2='313.88' stroke='#777' stroke-width='0.5'/>
<line x1='406.5' y1='313.88' x2='404.9' y2='313.88' stroke='#777' stroke-width='0.5'/>
<text x='225.5' y='315.68' font-size='5.3' text-anchor='end' font-family='Liberation Serif' fill='#000' >20</text>
<line x1='228.0' y1='289.37' x2='229.6' y2='289.37' stroke='#777' stroke-width='0.5'/>
<line x1='406.5' y1='289.37' x2='404.9' y2='289.37' stroke='#777' stroke-width='0.5'/>
<text x='225.5' y='291.17' font-size='5.3' text-anchor='end' font-family='Liberation Serif' fill='#000' >40</text>
<line x1='228.0' y1='264.85' x2='229.6' y2='264.85' stroke='#777' stroke-width='0.5'/>
<line x1='406.5' y1='264.85' x2='404.9' y2='264.85' stroke='#777' stroke-width='0.5'/>
<text x='225.5' y='266.65' font-size='5.3' text-anchor='end' font-family='Liberation Serif' fill='#000' >60</text>
<line x1='228.0' y1='240.33' x2='229.6' y2='240.33' stroke='#777' stroke-width='0.5'/>
<line x1='406.5' y1='240.33' x2='404.9' y2='240.33' stroke='#777' stroke-width='0.5'/>
<text x='225.5' y='242.13' font-size='5.3' text-anchor='end' font-family='Liberation Serif' fill='#000' >80</text>
<line x1='228.0' y1='215.82' x2='229.6' y2='215.82' stroke='#777' stroke-width='0.5'/>
<line x1='406.5' y1='215.82' x2='404.9' y2='215.82' stroke='#777' stroke-width='0.5'/>
<text x='225.5' y='217.62' font-size='5.3' text-anchor='end' font-family='Liberation Serif' fill='#000' >100</text>
<line x1='228.0' y1='191.3' x2='229.6' y2='191.3' stroke='#777' stroke-width='0.5'/>
<line x1='406.5' y1='191.3' x2='404.9' y2='191.3' stroke='#777' stroke-width='0.5'/>
<text x='225.5' y='193.1' font-size='5.3' text-anchor='end' font-family='Liberation Serif' fill='#000' >120</text>
<circle cx='328.5' cy='301.5' r='1.4' fill='#5555dd'/>
<rect x='325.5' y='306.6' width='6.4' height='4.4' fill='#c070c0'/>
<line x1='325.2' y1='316.2' x2='332.2' y2='316.2' stroke='#000' stroke-width='1.3'/>
<line x1='325.2' y1='324' x2='332.2' y2='324' stroke='#1414f0' stroke-width='1.3'/>
<line x1='325.2' y1='332' x2='332.2' y2='332' stroke='#e6262e' stroke-width='1.3'/>
<text x='336.8' y='303.7' font-size='6.8' text-anchor='start' font-family='Liberation Serif' fill='#000' >Method (1) Random loss</text>
<text x='336.8' y='311' font-size='6.8' text-anchor='start' font-family='Liberation Serif' fill='#000' >Method (1) loss &#177; &#963;</text>
<text x='336.8' y='318.4' font-size='6.8' text-anchor='start' font-family='Liberation Serif' fill='#000' >Method (1) loss curve</text>
<text x='336.8' y='326.2' font-size='6.8' text-anchor='start' font-family='Liberation Serif' fill='#000' >Method (2) loss curve</text>
<text x='336.8' y='334.2' font-size='6.8' text-anchor='start' font-family='Liberation Serif' fill='#000' >HAZUS loss curve</text>
<text x='317.4' y='355.3' font-size='7.5' text-anchor='middle' font-family='Liberation Serif' fill='#000' >Flood Depth (m)</text>
<text x='214.4' y='264.8' font-size='8.0' text-anchor='middle' font-family='Liberation Serif' fill='#000' transform='rotate(-90 214.4 264.8)'>Total Building Loss (%)</text>
<text x='205' y='192' font-size='11' font-weight='bold' font-family='Liberation Serif'>(d)</text>
<line x1='208.4' y1='358.3' x2='409' y2='358.3' stroke='#d0d0d0' stroke-width='0.6'/>
<defs>
<linearGradient id='eL' x1='0' y1='416' x2='0' y2='513' gradientUnits='userSpaceOnUse'><stop offset='0' stop-color='#e4b040'/><stop offset='0.13' stop-color='#dca840'/><stop offset='0.15' stop-color='#40b070'/><stop offset='0.31' stop-color='#38ae80'/><stop offset='0.33' stop-color='#2284d6'/><stop offset='0.6' stop-color='#2180d6'/><stop offset='0.62' stop-color='#3a3cb8'/><stop offset='0.85' stop-color='#3a36b0'/><stop offset='1' stop-color='#352a87'/></linearGradient>
<radialGradient id='eDome' gradientUnits='userSpaceOnUse' cx='108' cy='398' r='108' gradientTransform='translate(108 398) scale(0.6 1) translate(-108 -398)'><stop offset='0' stop-color='#e8c040'/><stop offset='0.36' stop-color='#e4b042'/><stop offset='0.46' stop-color='#dab444'/><stop offset='0.53' stop-color='#acbe4e'/><stop offset='0.61' stop-color='#5cb67c'/><stop offset='0.7' stop-color='#24aab8'/><stop offset='0.79' stop-color='#1f88d8'/><stop offset='0.88' stop-color='#3060d0'/><stop offset='0.96' stop-color='#3a40b8'/><stop offset='1' stop-color='#382f98'/></radialGradient>
<pattern id='eStr' patternUnits='userSpaceOnUse' width='3' height='2.3'><path d='M0 0.4H3' stroke='#000' stroke-opacity='0.22' stroke-width='0.6'/></pattern>
<pattern id='eMesh' patternUnits='userSpaceOnUse' width='2.4' height='2.4' patternTransform='rotate(45)'><path d='M0 0.3H2.4M0.3 0V2.4' stroke='#000' stroke-opacity='0.36' stroke-width='0.65'/></pattern>
<radialGradient id='eSideR' gradientUnits='userSpaceOnUse' cx='115' cy='415' r='110'><stop offset='0' stop-color='#b08040'/><stop offset='0.28' stop-color='#b08a40'/><stop offset='0.35' stop-color='#98a050'/><stop offset='0.43' stop-color='#50b070'/><stop offset='0.51' stop-color='#2eac9c'/><stop offset='0.59' stop-color='#1e98c8'/><stop offset='0.68' stop-color='#2278d8'/><stop offset='0.76' stop-color='#2c5cd0'/><stop offset='0.84' stop-color='#3a44bc'/><stop offset='0.92' stop-color='#3a34a0'/><stop offset='1' stop-color='#352a87'/></radialGradient>
<radialGradient id='eSideL' gradientUnits='userSpaceOnUse' cx='100' cy='415' r='110'><stop offset='0' stop-color='#b08040'/><stop offset='0.28' stop-color='#b08a40'/><stop offset='0.35' stop-color='#98a050'/><stop offset='0.43' stop-color='#50b070'/><stop offset='0.51' stop-color='#2eac9c'/><stop offset='0.59' stop-color='#1e98c8'/><stop offset='0.68' stop-color='#2278d8'/><stop offset='0.76' stop-color='#2c5cd0'/><stop offset='0.84' stop-color='#3a44bc'/><stop offset='0.92' stop-color='#3a34a0'/><stop offset='1' stop-color='#352a87'/></radialGradient>
<linearGradient id='eR' x1='0' y1='420' x2='0' y2='516' gradientUnits='userSpaceOnUse'><stop offset='0' stop-color='#c0b030'/><stop offset='0.04' stop-color='#e0a840'/><stop offset='0.09' stop-color='#e0a840'/><stop offset='0.1' stop-color='#a8b848'/><stop offset='0.17' stop-color='#a8b848'/><stop offset='0.18' stop-color='#48b080'/><stop offset='0.29' stop-color='#48b080'/><stop offset='0.3' stop-color='#2090cc'/><stop offset='0.5' stop-color='#2090cc'/><stop offset='0.51' stop-color='#3a3ab8'/><stop offset='1' stop-color='#352a87'/></linearGradient>
<linearGradient id='eOl' x1='0' y1='392' x2='0' y2='440' gradientUnits='userSpaceOnUse'><stop offset='0' stop-color='#a6a220'/><stop offset='1' stop-color='#939416'/></linearGradient>
</defs>
<polyline points='31.3,505 31.3,411 116.1,384.5 189.9,413.4 189.9,507.5' stroke='#e2e2e2' stroke-width='0.5' fill='none'/>
<polyline points='31.3,505 103,537 191,507.5' stroke='#bdbdbd' stroke-width='0.5' fill='none'/>
<line x1='46.6' y1='511.4' x2='134.6' y2='481.4' stroke='#ececec' stroke-width='0.5'/>
<line x1='120.6' y1='531.1' x2='50.6' y2='499.1' stroke='#ececec' stroke-width='0.5'/>
<line x1='60.7' y1='517.8' x2='148.7' y2='487.8' stroke='#ececec' stroke-width='0.5'/>
<line x1='138.2' y1='525.2' x2='68.2' y2='493.2' stroke='#ececec' stroke-width='0.5'/>
<line x1='74.8' y1='524.2' x2='162.8' y2='494.2' stroke='#ececec' stroke-width='0.5'/>
<line x1='155.8' y1='519.3' x2='85.8' y2='487.3' stroke='#ececec' stroke-width='0.5'/>
<line x1='88.9' y1='530.6' x2='176.9' y2='500.6' stroke='#ececec' stroke-width='0.5'/>
<line x1='173.4' y1='513.4' x2='103.4' y2='481.4' stroke='#ececec' stroke-width='0.5'/>
<polygon points='120,432 140,426 157,422.5 170,418.5 182.2,418.5 183.6,424.3 185.3,436.8 186.2,447 186.9,467 189.1,507 155.2,516.6 140,514 125,510' fill='url(#eR)' />
<polygon points='128,433 138.5,429.5 150,429 165,434 177,439 185,444 185.5,448.5 177,444 165,439.5 150,436 138,436.5' fill='#22acb0' />
<polygon points='131.7,438.6 138.5,433.5 150,432.8 163,436.8 173.1,446 180.4,467 184,485 186.9,504 155.2,516.6 151.8,515.7 146,505 141.9,485 138.5,465.6 135.1,448.7' fill='url(#eSideR)' />
<polygon points='131.7,438.6 138.5,433.5 150,432.8 163,436.8 173.1,446 180.4,467 184,485 186.9,504 155.2,516.6 151.8,515.7 146,505 141.9,485 138.5,465.6 135.1,448.7' fill='url(#eStr)' />
<polygon points='173.1,447.3 186.2,447.3 186.9,467 180.4,467' fill='#2090cc' />
<polygon points='180.4,467 186.9,467 189.1,507 186.9,504' fill='#3a3ab8' />
<polygon points='150,503 180,500 187,503 189.1,507 155.2,516.6 151.8,515.7' fill='#352a87' />
<polygon points='36.8,414.5 54,417.5 80,430 90,436 70,500 63.8,511.6 55.4,513.2 33.4,505 35,420' fill='url(#eL)' />
<polygon points='55.3,458 60.1,441.7 66.1,435.7 73.4,433.2 82,431.5 88,434 74.6,445 71,457 68.6,469.1 66.1,481.1 65,495 63.8,511.6 55.4,513.2 40.5,507 40.8,495 44.5,474 50,462' fill='url(#eSideL)' />
<polygon points='55.3,458 60.1,441.7 66.1,435.7 73.4,433.2 82,431.5 88,434 74.6,445 71,457 68.6,469.1 66.1,481.1 65,495 63.8,511.6 55.4,513.2 40.5,507 40.8,495 44.5,474 50,462' fill='url(#eStr)' />
<polygon points='35.5,421 39.5,421 39.5,446.5 54.5,446.5 44.5,474 34.2,474' fill='#2080d6' />
<polygon points='34.2,474 44.5,474 40.8,495 40.5,507 33.4,505' fill='#3a3cb4' />
<polygon points='36.8,414.5 41,416 40,421.5 35.5,421.5' fill='#e6c23a' />
<polygon points='36,496 60,496 63.8,511.6 55.4,513.2 33.4,505' fill='#352a87' />
<polygon points='74.6,445 78.6,437 84.6,431 95,431 112,432 125,431 131.7,436 135.1,448.7 138.5,465.6 141.9,485 146,505 151.8,515.7 140,514 125.5,510 117.1,504 105.3,498.2 93.5,498.2 84,500.6 75.6,505.6 65,509 65,495 66.1,481.1 68.6,469.1 71,457' fill='url(#eDome)' />
<polygon points='74.6,445 78.6,437 84.6,431 95,431 112,432 125,431 131.7,436 135.1,448.7 138.5,465.6 141.9,485 146,505 151.8,515.7 140,514 125.5,510 117.1,504 105.3,498.2 93.5,498.2 84,500.6 75.6,505.6 65,509 65,495 66.1,481.1 68.6,469.1 71,457' fill='url(#eMesh)' />
<polygon points='36.8,414.5 60,407.5 95,396.8 114.4,392.6 140,402.6 160,410.3 182.2,418.5 181,420 167.2,422.6 150.3,428.3 136.8,432.5 130,434 122,436.2 116,437.4 110,437.7 104,437.4 94,434.2 85,432 77,429.7 68,427.5 60,424.6 54.1,421.3 42,417.5 36.8,416' fill='url(#eOl)' />
<polyline points='42,417 60,414.3 77,410 93.7,406 111.9,403.2 130,402.6 145.6,409 165,419' fill='none' stroke='#6e6814' stroke-width='0.7' stroke-linejoin='round' stroke-linecap='round' opacity='0.8'/>
<polyline points='37,414.8 60,407.8 95,397 114.4,392.8 140,402.8 160,410.5 182,418.6' fill='none' stroke='#c8c040' stroke-width='0.8' stroke-linejoin='round' stroke-linecap='round' />
<line x1='31.3' y1='411' x2='31.3' y2='504' stroke='#aaa' stroke-width='0.5'/>
<line x1='29.5' y1='503.8' x2='31.3' y2='503.8' stroke='#888' stroke-width='0.5'/>
<text x='27.6' y='505.4' font-size='4.5' text-anchor='end' font-family='Liberation Sans' fill='#222' >0</text>
<line x1='29.5' y1='485.2' x2='31.3' y2='485.2' stroke='#888' stroke-width='0.5'/>
<text x='27.6' y='486.8' font-size='4.5' text-anchor='end' font-family='Liberation Sans' fill='#222' >0.2</text>
<line x1='29.5' y1='466.6' x2='31.3' y2='466.6' stroke='#888' stroke-width='0.5'/>
<text x='27.6' y='468.2' font-size='4.5' text-anchor='end' font-family='Liberation Sans' fill='#222' >0.4</text>
<line x1='29.5' y1='448' x2='31.3' y2='448' stroke='#888' stroke-width='0.5'/>
<text x='27.6' y='449.6' font-size='4.5' text-anchor='end' font-family='Liberation Sans' fill='#222' >0.6</text>
<line x1='29.5' y1='429.4' x2='31.3' y2='429.4' stroke='#888' stroke-width='0.5'/>
<text x='27.6' y='431' font-size='4.5' text-anchor='end' font-family='Liberation Sans' fill='#222' >0.8</text>
<line x1='29.5' y1='410.8' x2='31.3' y2='410.8' stroke='#888' stroke-width='0.5'/>
<text x='27.6' y='412.4' font-size='4.5' text-anchor='end' font-family='Liberation Sans' fill='#222' >1</text>
<text x='23.3' y='511.4' font-size='4.8' text-anchor='middle' font-family='Liberation Sans' fill='#222' >0</text>
<text x='39.2' y='516.9' font-size='4.8' text-anchor='middle' font-family='Liberation Sans' fill='#222' >1.6</text>
<text x='53.6' y='522.7' font-size='4.8' text-anchor='middle' font-family='Liberation Sans' fill='#222' >3.2</text>
<text x='68.3' y='529.1' font-size='4.8' text-anchor='middle' font-family='Liberation Sans' fill='#222' >4.8</text>
<text x='83.5' y='535.2' font-size='4.8' text-anchor='middle' font-family='Liberation Sans' fill='#222' >6.4</text>
<text x='98.2' y='541.7' font-size='4.8' text-anchor='middle' font-family='Liberation Sans' fill='#222' >8</text>
<text x='196.2' y='514.4' font-size='4.8' text-anchor='middle' font-family='Liberation Sans' fill='#222' >0</text>
<text x='180.5' y='520.2' font-size='4.8' text-anchor='middle' font-family='Liberation Sans' fill='#222' >60</text>
<text x='165.3' y='525.8' font-size='4.8' text-anchor='middle' font-family='Liberation Sans' fill='#222' >120</text>
<text x='149.3' y='530.9' font-size='4.8' text-anchor='middle' font-family='Liberation Sans' fill='#222' >180</text>
<text x='131.6' y='536.7' font-size='4.8' text-anchor='middle' font-family='Liberation Sans' fill='#222' >240</text>
<text x='114.7' y='541.7' font-size='4.8' text-anchor='middle' font-family='Liberation Sans' fill='#222' >300</text>
<text x='61.3' y='537' font-size='6.8' text-anchor='middle' font-family='Liberation Serif' fill='#000' transform='rotate(24.4 61.3 535)'>Flood Depth (m)</text>
<text x='163.3' y='537.5' font-size='6.7' text-anchor='middle' font-family='Liberation Serif' fill='#000' transform='rotate(-17 163.3 535.5)'>Flood Duration (hr)</text>
<text x='15.8' y='452.1' font-size='6.65' text-anchor='middle' font-family='Liberation Serif' fill='#000' transform='rotate(-90 15.8 452.1)'>Exceedance Probability</text>
<text x='49.5' y='397.6' font-size='10.5' font-weight='bold' font-family='Liberation Serif'>(e)</text>
<defs>
<radialGradient id='fR' gradientUnits='userSpaceOnUse' cx='322' cy='372' r='172' gradientTransform='translate(322 372) scale(1.2 1) translate(-322 -372)'><stop offset='0' stop-color='#e8d030'/><stop offset='0.16' stop-color='#e6c038'/><stop offset='0.3' stop-color='#dcb840'/><stop offset='0.36' stop-color='#a8bc4c'/><stop offset='0.45' stop-color='#5cb47c'/><stop offset='0.52' stop-color='#34ae98'/><stop offset='0.6' stop-color='#22a4b4'/><stop offset='0.66' stop-color='#1e92cc'/><stop offset='0.71' stop-color='#2378d8'/><stop offset='0.76' stop-color='#2a64d4'/><stop offset='0.81' stop-color='#3450c8'/><stop offset='0.87' stop-color='#3a40b8'/><stop offset='1.0' stop-color='#3a34a8'/></radialGradient>
<pattern id='fMesh' patternUnits='userSpaceOnUse' width='2.6' height='2.6' patternTransform='rotate(12)'><path d='M0 0.3H2.6M0.3 0V2.6' stroke='#000' stroke-opacity='0.42' stroke-width='0.75'/></pattern>
</defs>
<polyline points='228.7,494.6 228.7,412 324.7,379.9 394.8,422.1 394.8,504.6' stroke='#e4e4e4' stroke-width='0.5' fill='none'/>
<polyline points='228.7,428.5 324.7,396.4 394.8,438.6' stroke='#e8e8e8' stroke-width='0.5' fill='none'/>
<polyline points='228.7,445 324.7,412.9 394.8,455.1' stroke='#e8e8e8' stroke-width='0.5' fill='none'/>
<polyline points='228.7,461.5 324.7,429.4 394.8,471.6' stroke='#e8e8e8' stroke-width='0.5' fill='none'/>
<polyline points='228.7,478 324.7,445.9 394.8,488.1' stroke='#e8e8e8' stroke-width='0.5' fill='none'/>
<line x1='248' y1='405.55' x2='248' y2='488.15' stroke='#e8e8e8' stroke-width='0.5'/>
<line x1='267' y1='399.19' x2='267' y2='481.79' stroke='#e8e8e8' stroke-width='0.5'/>
<line x1='286' y1='392.84' x2='286' y2='475.44' stroke='#e8e8e8' stroke-width='0.5'/>
<line x1='305' y1='386.49' x2='305' y2='469.09' stroke='#e8e8e8' stroke-width='0.5'/>
<line x1='350.2' y1='395.25' x2='350.2' y2='477.85' stroke='#e8e8e8' stroke-width='0.5'/>
<line x1='365.5' y1='404.46' x2='365.5' y2='487.06' stroke='#e8e8e8' stroke-width='0.5'/>
<line x1='380.8' y1='413.67' x2='380.8' y2='496.27' stroke='#e8e8e8' stroke-width='0.5'/>
<polyline points='228.7,494.6 301,537 394.8,504.6' stroke='#bdbdbd' stroke-width='0.5' fill='none'/>
<polygon points='232.7,479.6 233.4,478.1 238.4,472.2 241.8,463.7 245.2,453.6 251.9,446.9 263.7,438.4 275.5,430 284.1,420.2 290,406.7 293.4,396.9 303.5,388.5 313.6,385.1 323.7,383.4 333.8,388.5 340,395.3 347.2,406.1 352.7,417 358.1,429.6 363.5,442.3 368.7,448.5 375.4,455.3 379.6,463.7 382.2,475.5 385.5,487.3 387,500 387.5,505.3 370.6,509.5 360.5,514.6 345.3,519.6 328.4,524.7 320,527.2 301,535 231.7,495' fill='url(#fR)' />
<polygon points='232.7,479.6 233.4,478.1 238.4,472.2 241.8,463.7 245.2,453.6 251.9,446.9 263.7,438.4 275.5,430 284.1,420.2 290,406.7 293.4,396.9 303.5,388.5 313.6,385.1 323.7,383.4 333.8,388.5 340,395.3 347.2,406.1 352.7,417 358.1,429.6 363.5,442.3 368.7,448.5 375.4,455.3 379.6,463.7 382.2,475.5 385.5,487.3 387,500 387.5,505.3 370.6,509.5 360.5,514.6 345.3,519.6 328.4,524.7 320,527.2 301,535 231.7,495' fill='url(#fMesh)' />
<polygon points='231.7,495 232.7,479.6 244.3,482.5 253.9,486.4 263.5,491.2 271.2,497 277,498.9 288.6,507.6 298.2,518.2 301,535' fill='#3a2f9c' />
<polyline points='290.5,403.5 300.1,408.7 310.2,418.8 320.4,429 328.8,439.1 334,446 340,453.6 346.7,463.7 351.8,477.2 356,490.7 358.5,502 360.5,513.7' fill='none' stroke='#e8141c' stroke-width='1.3' stroke-linejoin='round' stroke-linecap='round' />
<polyline points='313.6,386 325.4,393.5 333.8,403.7 340.6,413.8 345.6,425.6 349.9,435.7 353.5,443.5 361.9,455.3 369.5,463.7 372,477.2 375.4,490.7 377.1,500 382.4,506.1' fill='none' stroke='#000' stroke-width='1.0' stroke-linejoin='round' stroke-linecap='round' />
<polyline points='303.5,390.2 310.2,393.2' fill='none' stroke='#1010f0' stroke-width='1.2' stroke-linejoin='round' stroke-linecap='round' />
<polyline points='338.1,429 345.6,445 353.5,457.8' fill='none' stroke='#1010f0' stroke-width='1.2' stroke-linejoin='round' stroke-linecap='round' />
<polyline points='362.8,479.7 369.5,500 373.6,509.5' fill='none' stroke='#1010f0' stroke-width='1.2' stroke-linejoin='round' stroke-linecap='round' />
<line x1='228.7' y1='412' x2='228.7' y2='494.6' stroke='#aaa' stroke-width='0.5'/>
<line x1='226.6' y1='494.2' x2='228.7' y2='494.2' stroke='#888' stroke-width='0.5'/>
<text x='225.4' y='496' font-size='5.0' text-anchor='end' font-family='Liberation Sans' fill='#222' >0</text>
<line x1='226.6' y1='477.7' x2='228.7' y2='477.7' stroke='#888' stroke-width='0.5'/>
<text x='225.4' y='479.5' font-size='5.0' text-anchor='end' font-family='Liberation Sans' fill='#222' >20</text>
<line x1='226.6' y1='461.2' x2='228.7' y2='461.2' stroke='#888' stroke-width='0.5'/>
<text x='225.4' y='463' font-size='5.0' text-anchor='end' font-family='Liberation Sans' fill='#222' >40</text>
<line x1='226.6' y1='444.7' x2='228.7' y2='444.7' stroke='#888' stroke-width='0.5'/>
<text x='225.4' y='446.5' font-size='5.0' text-anchor='end' font-family='Liberation Sans' fill='#222' >60</text>
<line x1='226.6' y1='428.2' x2='228.7' y2='428.2' stroke='#888' stroke-width='0.5'/>
<text x='225.4' y='430' font-size='5.0' text-anchor='end' font-family='Liberation Sans' fill='#222' >80</text>
<line x1='226.6' y1='411.7' x2='228.7' y2='411.7' stroke='#888' stroke-width='0.5'/>
<text x='225.4' y='413.5' font-size='5.0' text-anchor='end' font-family='Liberation Sans' fill='#222' >100</text>
<text x='219.3' y='503.1' font-size='4.8' text-anchor='middle' font-family='Liberation Sans' fill='#222' >8</text>
<text x='234.3' y='509.3' font-size='4.8' text-anchor='middle' font-family='Liberation Sans' fill='#222' >6.4</text>
<text x='250.6' y='518.8' font-size='4.8' text-anchor='middle' font-family='Liberation Sans' fill='#222' >4.8</text>
<text x='264.4' y='526.9' font-size='4.8' text-anchor='middle' font-family='Liberation Sans' fill='#222' >3.2</text>
<text x='278.2' y='534.4' font-size='4.8' text-anchor='middle' font-family='Liberation Sans' fill='#222' >1.6</text>
<text x='292' y='541.4' font-size='4.8' text-anchor='middle' font-family='Liberation Sans' fill='#222' >0</text>
<text x='305.9' y='543' font-size='4.8' text-anchor='middle' font-family='Liberation Sans' fill='#222' >0</text>
<text x='325.5' y='536.1' font-size='4.8' text-anchor='middle' font-family='Liberation Sans' fill='#222' >60</text>
<text x='346.1' y='530.6' font-size='4.8' text-anchor='middle' font-family='Liberation Sans' fill='#222' >120</text>
<text x='364.7' y='524.7' font-size='4.8' text-anchor='middle' font-family='Liberation Sans' fill='#222' >180</text>
<text x='383.2' y='518.8' font-size='4.8' text-anchor='middle' font-family='Liberation Sans' fill='#222' >240</text>
<text x='401' y='512.7' font-size='4.8' text-anchor='middle' font-family='Liberation Sans' fill='#222' >300</text>
<text x='250.6' y='530.3' font-size='6.9' text-anchor='middle' font-family='Liberation Serif' fill='#000' transform='rotate(30.7 250.6 528.3)'>Flood Depth (m)</text>
<text x='366' y='536' font-size='6.9' text-anchor='middle' font-family='Liberation Serif' fill='#000' transform='rotate(-17 366 534)'>Flood Duration (hr)</text>
<text x='213.4' y='449.3' font-size='6.65' text-anchor='middle' font-family='Liberation Serif' fill='#000' transform='rotate(-90 213.4 449.3)'>Total Building Loss (%)</text>
<text x='245.6' y='398.5' font-size='10.5' font-weight='bold' font-family='Liberation Serif'>(f)</text>
</svg>
</body></html>
